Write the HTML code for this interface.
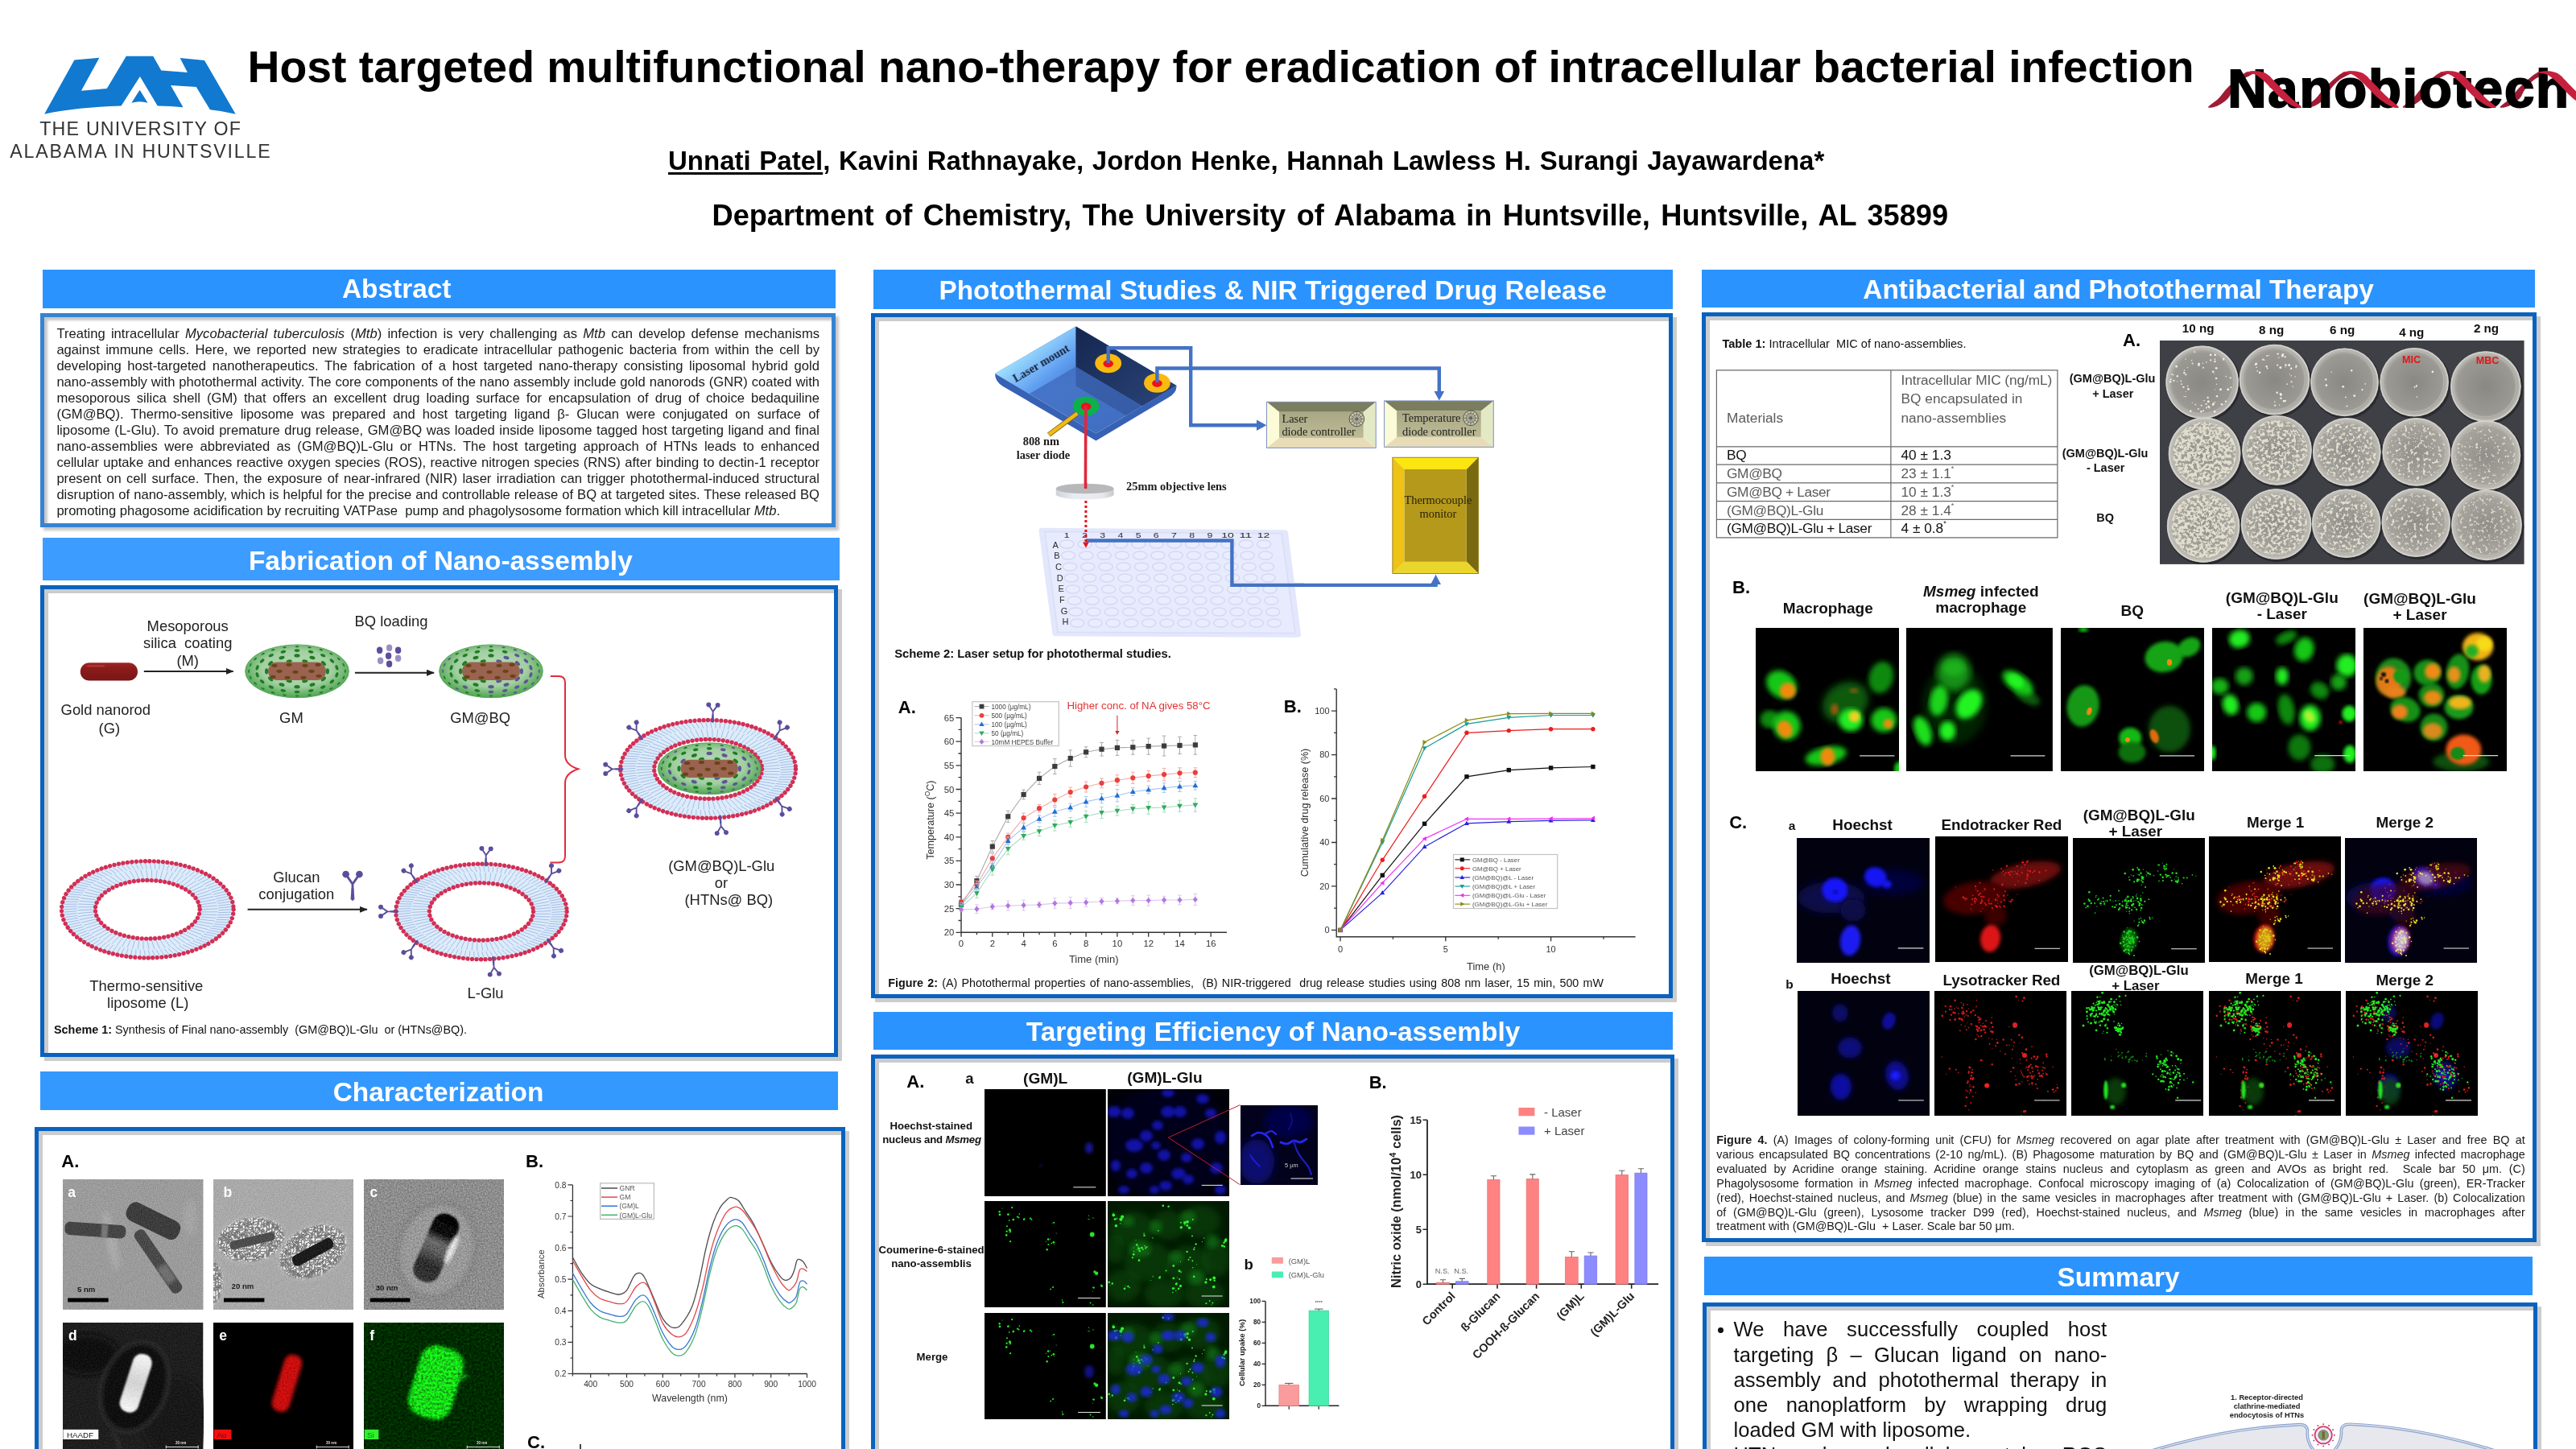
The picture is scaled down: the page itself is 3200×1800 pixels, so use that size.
<!DOCTYPE html>
<html><head><meta charset="utf-8"><title>poster</title>
<style>
html,body{margin:0;padding:0;background:#fff;}
body{width:3200px;height:1800px;position:relative;overflow:hidden;font-family:"Liberation Sans",sans-serif;color:#000;}
#w{position:absolute;left:0;top:0;width:3200px;height:1800px;overflow:hidden;will-change:transform;}
.abs{position:absolute;}
.hdr{position:absolute;}
.box{position:absolute;box-sizing:border-box;border:5px solid #0a62bf;box-shadow:inset 5px 5px 0 #cccccc,5px 5px 0 #cccccc;background:#fff;}
.t{position:absolute;white-space:nowrap;line-height:1;}
svg{position:absolute;overflow:visible;}
.j{position:absolute;text-align:justify;text-align-last:justify;white-space:nowrap;}
</style></head><body>
<div id="w">
<div class="t" id="title" style="left:307.5px;top:55.6px;font-size:55.3px;font-weight:bold;">Host targeted multifunctional nano-therapy for eradication of intracellular bacterial infection</div>
<div class="t" id="auth" style="left:830.0px;top:182.5px;font-size:33px;font-weight:bold;word-spacing:1.5px;"><span style="text-decoration:underline;text-decoration-thickness:3px;text-underline-offset:3px;">Unnati Patel</span>, Kavini Rathnayake, Jordon Henke, Hannah Lawless H. Surangi Jayawardena*</div>
<div class="t" id="dept" style="left:884.5px;top:249.6px;font-size:36.2px;font-weight:bold;word-spacing:3.4px;">Department of Chemistry, The University of Alabama in Huntsville, Huntsville, AL 35899</div>
<svg style="left:0;top:0" width="420" height="230"><path d="M55.1 141.7 L92.4 74.5 L123.4 71.8 L100.9 112.7 L132.8 109.9 L156.8 69.8 L190.2 69.8 L200.3 87.4 L232.9 90.0 L223.6 72.1 L253.9 74.9 L292.7 141.7 Q276.4 137.8 260.9 136.3 L243.8 107.9 L212.0 106.0 L227.5 133.2 Q211.2 131.9 195.7 131.6 L173.9 95.1 L150.6 131.6 Q96.3 133.2 55.1 141.7 Z" fill="#1179cf"/><path d="M173.6 111.7 L183.5 127.7 Q173.6 124.6 163.4 127.7 Z" fill="#1179cf"/></svg>
<div class="t" id="lg1" style="left:49.2px;top:148.5px;font-size:23.2px;color:#333;letter-spacing:1.22px;">THE UNIVERSITY OF</div>
<div class="t" id="lg2" style="left:12.3px;top:177.2px;font-size:23.2px;color:#333;letter-spacing:1.8px;">ALABAMA IN HUNTSVILLE</div>
<svg style="left:0;top:0" width="3200" height="200"><path d="M2743.1 133.1 C2743.4 131.6 2752.0 126.3 2755.7 122.6 C2759.4 118.9 2761.8 114.7 2765.4 110.8 C2769.1 106.9 2773.8 102.4 2777.6 99.1 C2781.4 95.8 2784.8 92.7 2788.1 90.9 C2791.3 89.2 2794.9 88.7 2797.1 88.6 C2799.3 88.5 2803.0 88.5 2801.1 90.2 C2799.2 92.0 2790.2 95.7 2785.7 99.1 C2781.2 102.5 2777.3 106.9 2774.3 110.8 C2771.3 114.7 2770.9 119.1 2767.5 122.6 C2764.1 126.1 2758.2 130.1 2754.1 131.8 C2750.0 133.6 2742.8 134.6 2743.1 133.1Z" fill="#a01c34"/><path d="M2863.9 133.1 C2864.2 131.6 2872.8 126.3 2876.5 122.6 C2880.2 118.9 2882.6 114.7 2886.2 110.8 C2889.9 106.9 2894.6 102.4 2898.4 99.1 C2902.2 95.8 2905.7 92.7 2908.9 90.9 C2912.2 89.2 2915.7 88.7 2917.9 88.6 C2920.1 88.5 2923.8 88.5 2921.9 90.2 C2920.0 92.0 2911.0 95.7 2906.5 99.1 C2902.0 102.5 2898.1 106.9 2895.1 110.8 C2892.1 114.7 2891.7 119.1 2888.3 122.6 C2884.9 126.1 2879.0 130.1 2874.9 131.8 C2870.8 133.6 2863.6 134.6 2863.9 133.1Z" fill="#a01c34"/><path d="M2984.7 133.1 C2985.0 131.6 2993.6 126.3 2997.3 122.6 C3001.0 118.9 3003.3 114.7 3007.0 110.8 C3010.7 106.9 3015.4 102.4 3019.2 99.1 C3023.0 95.8 3026.4 92.7 3029.7 90.9 C3032.9 89.2 3036.5 88.7 3038.7 88.6 C3040.9 88.5 3044.6 88.5 3042.7 90.2 C3040.8 92.0 3031.8 95.7 3027.3 99.1 C3022.8 102.5 3018.9 106.9 3015.9 110.8 C3012.9 114.7 3012.5 119.1 3009.1 122.6 C3005.7 126.1 2999.8 130.1 2995.7 131.8 C2991.6 133.6 2984.4 134.6 2984.7 133.1Z" fill="#a01c34"/><path d="M3105.5 133.1 C3105.8 131.6 3114.4 126.3 3118.1 122.6 C3121.8 118.9 3124.2 114.7 3127.8 110.8 C3131.5 106.9 3136.2 102.4 3140.0 99.1 C3143.8 95.8 3147.2 92.7 3150.5 90.9 C3153.8 89.2 3157.3 88.7 3159.5 88.6 C3161.7 88.5 3165.4 88.5 3163.5 90.2 C3161.6 92.0 3152.6 95.7 3148.1 99.1 C3143.6 102.5 3139.7 106.9 3136.7 110.8 C3133.7 114.7 3133.3 119.1 3129.9 122.6 C3126.5 126.1 3120.6 130.1 3116.5 131.8 C3112.4 133.6 3105.2 134.6 3105.5 133.1Z" fill="#a01c34"/></svg>
<div class="t" id="nano" style="left:2767.2px;top:76.4px;font-size:67px;font-weight:bold;letter-spacing:1.8px;-webkit-text-stroke:2px #000;">Nanobiotech</div>
<svg style="left:0;top:0" width="3200" height="200"><path d="M2789.1 90.2 C2788.1 89.6 2793.1 89.0 2795.1 88.7 C2797.1 88.4 2799.1 88.3 2801.1 88.3 C2803.1 88.3 2805.0 88.3 2807.1 88.7 C2809.2 89.1 2811.5 89.5 2813.5 90.4 C2815.5 91.3 2817.4 92.8 2819.1 94.2 C2820.8 95.7 2821.1 96.3 2823.7 99.1 C2826.3 101.9 2831.0 106.9 2834.9 110.8 C2838.8 114.7 2842.9 118.7 2846.9 122.4 C2850.9 126.1 2858.6 131.4 2859.1 133.1 C2859.6 134.8 2854.3 134.2 2850.1 132.4 C2845.9 130.6 2838.7 126.0 2834.1 122.4 C2829.5 118.8 2826.2 114.7 2822.3 110.8 C2818.4 106.9 2814.0 102.2 2810.5 99.1 C2807.0 96.0 2804.7 93.9 2801.1 92.4 C2797.5 90.9 2790.1 90.8 2789.1 90.2Z" fill="#c5203d"/><path d="M2909.9 90.2 C2908.9 89.6 2913.9 89.0 2915.9 88.7 C2917.9 88.4 2919.9 88.3 2921.9 88.3 C2923.9 88.3 2925.8 88.3 2927.9 88.7 C2930.0 89.1 2932.3 89.5 2934.3 90.4 C2936.3 91.3 2938.2 92.8 2939.9 94.2 C2941.6 95.7 2941.9 96.3 2944.5 99.1 C2947.1 101.9 2951.8 106.9 2955.7 110.8 C2959.6 114.7 2963.7 118.7 2967.7 122.4 C2971.7 126.1 2979.4 131.4 2979.9 133.1 C2980.4 134.8 2975.1 134.2 2970.9 132.4 C2966.7 130.6 2959.5 126.0 2954.9 122.4 C2950.3 118.8 2947.0 114.7 2943.1 110.8 C2939.2 106.9 2934.8 102.2 2931.3 99.1 C2927.8 96.0 2925.5 93.9 2921.9 92.4 C2918.3 90.9 2910.9 90.8 2909.9 90.2Z" fill="#c5203d"/><path d="M3030.7 90.2 C3029.7 89.6 3034.7 89.0 3036.7 88.7 C3038.7 88.4 3040.7 88.3 3042.7 88.3 C3044.7 88.3 3046.6 88.3 3048.7 88.7 C3050.8 89.1 3053.1 89.5 3055.1 90.4 C3057.1 91.3 3059.0 92.8 3060.7 94.2 C3062.4 95.7 3062.7 96.3 3065.3 99.1 C3067.9 101.9 3072.6 106.9 3076.5 110.8 C3080.4 114.7 3084.5 118.7 3088.5 122.4 C3092.5 126.1 3100.2 131.4 3100.7 133.1 C3101.2 134.8 3095.9 134.2 3091.7 132.4 C3087.5 130.6 3080.3 126.0 3075.7 122.4 C3071.1 118.8 3067.8 114.7 3063.9 110.8 C3060.0 106.9 3055.6 102.2 3052.1 99.1 C3048.6 96.0 3046.3 93.9 3042.7 92.4 C3039.1 90.9 3031.7 90.8 3030.7 90.2Z" fill="#c5203d"/><path d="M3151.5 90.2 C3150.5 89.6 3155.5 89.0 3157.5 88.7 C3159.5 88.4 3161.5 88.3 3163.5 88.3 C3165.5 88.3 3167.4 88.3 3169.5 88.7 C3171.6 89.1 3173.9 89.5 3175.9 90.4 C3177.9 91.3 3179.8 92.8 3181.5 94.2 C3183.2 95.7 3183.5 96.3 3186.1 99.1 C3188.7 101.9 3193.4 106.9 3197.3 110.8 C3201.2 114.7 3205.3 118.7 3209.3 122.4 C3213.3 126.1 3221.0 131.4 3221.5 133.1 C3222.0 134.8 3216.7 134.2 3212.5 132.4 C3208.3 130.6 3201.1 126.0 3196.5 122.4 C3191.9 118.8 3188.6 114.7 3184.7 110.8 C3180.8 106.9 3176.4 102.2 3172.9 99.1 C3169.4 96.0 3167.1 93.9 3163.5 92.4 C3159.9 90.9 3152.5 90.8 3151.5 90.2Z" fill="#c5203d"/></svg>
<div class="abs" style="left:53.0px;top:335.0px;width:985.0px;height:48.0px;background:#2b93fe;"></div>
<div class="t" style="left:492.7px;top:342.2px;font-size:33.4px;font-weight:bold;color:#fff;transform:translateX(-50%);">Abstract</div>
<div class="box" style="left:50px;top:389px;width:988px;height:266px;border-color:#3783d2;box-shadow:inset 4px 4px 3px #c8c8c8,4px 4px 3px #c8c8c8;"></div>
<div class="j" style="left:70.4px;top:406.7px;width:947.6px;font-size:16.6px;line-height:1;color:#1a1a1a;">Treating intracellular <i>Mycobacterial tuberculosis</i> (<i>Mtb</i>) infection is very challenging as <i>Mtb</i> can develop defense mechanisms</div>
<div class="j" style="left:70.4px;top:426.7px;width:947.6px;font-size:16.6px;line-height:1;color:#1a1a1a;">against immune cells. Here, we reported new strategies to eradicate intracellular pathogenic bacteria from within the cell by</div>
<div class="j" style="left:70.4px;top:446.7px;width:947.6px;font-size:16.6px;line-height:1;color:#1a1a1a;">developing host-targeted nanotherapeutics. The fabrication of a host targeted nano-therapy consisting liposomal hybrid gold</div>
<div class="j" style="left:70.4px;top:466.7px;width:947.6px;font-size:16.6px;line-height:1;color:#1a1a1a;">nano-assembly with photothermal activity. The core components of the nano assembly include gold nanorods (GNR) coated with</div>
<div class="j" style="left:70.4px;top:486.7px;width:947.6px;font-size:16.6px;line-height:1;color:#1a1a1a;">mesoporous silica shell (GM) that offers an excellent drug loading surface for encapsulation of drug of choice bedaquiline</div>
<div class="j" style="left:70.4px;top:506.7px;width:947.6px;font-size:16.6px;line-height:1;color:#1a1a1a;">(GM@BQ). Thermo-sensitive liposome was prepared and host targeting ligand β- Glucan were conjugated on surface of</div>
<div class="j" style="left:70.4px;top:526.7px;width:947.6px;font-size:16.6px;line-height:1;color:#1a1a1a;">liposome (L-Glu). To avoid premature drug release, GM@BQ was loaded inside liposome tagged host targeting ligand and final</div>
<div class="j" style="left:70.4px;top:546.7px;width:947.6px;font-size:16.6px;line-height:1;color:#1a1a1a;">nano-assemblies were abbreviated as (GM@BQ)L-Glu or HTNs. The host targeting approach of HTNs leads to enhanced</div>
<div class="j" style="left:70.4px;top:566.7px;width:947.6px;font-size:16.6px;line-height:1;color:#1a1a1a;">cellular uptake and enhances reactive oxygen species (ROS), reactive nitrogen species (RNS) after binding to dectin-1 receptor</div>
<div class="j" style="left:70.4px;top:586.7px;width:947.6px;font-size:16.6px;line-height:1;color:#1a1a1a;">present on cell surface. Then, the exposure of near-infrared (NIR) laser irradiation can trigger photothermal-induced structural</div>
<div class="j" style="left:70.4px;top:606.7px;width:947.6px;font-size:16.6px;line-height:1;color:#1a1a1a;">disruption of nano-assembly, which is helpful for the precise and controllable release of BQ at targeted sites. These released BQ</div>
<div class="t" style="left:70.4px;top:626.7px;width:947.6px;font-size:16.6px;line-height:1;color:#1a1a1a;">promoting phagosome acidification by recruiting VATPase&nbsp; pump and phagolysosome formation which kill intracellular <i>Mtb</i>.</div>
<div class="abs" style="left:53.0px;top:668.0px;width:990.0px;height:53.0px;background:#3d9cff;"></div>
<div class="t" style="left:547.3px;top:679.5px;font-size:33.4px;font-weight:bold;color:#fff;transform:translateX(-50%);">Fabrication of Nano-assembly</div>
<div class="box" style="left:50px;top:727px;width:991px;height:586px;"></div>
<svg style="left:0;top:0" width="1100" height="1320"><defs><radialGradient id="gmg" cx="50%" cy="45%" r="55%"><stop offset="0" stop-color="#b9dbb8"/><stop offset="0.62" stop-color="#a2cfa2"/><stop offset="0.85" stop-color="#6db56e"/><stop offset="1" stop-color="#4fa353"/></radialGradient><linearGradient id="rodg" x1="0" y1="0" x2="0" y2="1"><stop offset="0" stop-color="#a52626"/><stop offset="0.25" stop-color="#8e1c1c"/><stop offset="1" stop-color="#7a1515"/></linearGradient><marker id="ah" markerWidth="10" markerHeight="8" refX="9" refY="4" orient="auto" markerUnits="userSpaceOnUse"><path d="M0 0L10 4L0 8Z" fill="#222"/></marker></defs><rect x="99.8" y="823.2" width="71.2" height="22.4" rx="11.2" fill="url(#rodg)"/><rect x="108" y="826.6" width="22" height="1.6" rx="0.8" fill="#b84a44" opacity="0.8"/><path d="M178.8 833.9H289.6" stroke="#222" stroke-width="2" marker-end="url(#ah)"/><path d="M440.9 835.7H539" stroke="#222" stroke-width="2" marker-end="url(#ah)"/><path d="M307.6 1129.8H455.8" stroke="#222" stroke-width="2" marker-end="url(#ah)"/><ellipse cx="369" cy="833.8" rx="64.3" ry="32.9" fill="url(#gmg)" stroke="#58a85a" stroke-width="1"/><ellipse cx="428.8" cy="833.8" rx="2.3" ry="1.0" fill="#1e7d22" transform="rotate(90 428.8 833.8)"/><ellipse cx="426.8" cy="841.7" rx="2.3" ry="1.0" fill="#1e7d22" transform="rotate(118 426.8 841.7)"/><ellipse cx="420.8" cy="849.1" rx="2.3" ry="1.0" fill="#1e7d22" transform="rotate(138 420.8 849.1)"/><ellipse cx="411.3" cy="855.4" rx="2.3" ry="1.0" fill="#1e7d22" transform="rotate(153 411.3 855.4)"/><ellipse cx="398.9" cy="860.3" rx="2.3" ry="1.0" fill="#1e7d22" transform="rotate(164 398.9 860.3)"/><ellipse cx="384.5" cy="863.4" rx="2.3" ry="1.0" fill="#1e7d22" transform="rotate(172 384.5 863.4)"/><ellipse cx="369.0" cy="864.4" rx="2.3" ry="1.0" fill="#1e7d22" transform="rotate(180 369.0 864.4)"/><ellipse cx="353.5" cy="863.4" rx="2.3" ry="1.0" fill="#1e7d22" transform="rotate(-172 353.5 863.4)"/><ellipse cx="339.1" cy="860.3" rx="2.3" ry="1.0" fill="#1e7d22" transform="rotate(-164 339.1 860.3)"/><ellipse cx="326.7" cy="855.4" rx="2.3" ry="1.0" fill="#1e7d22" transform="rotate(-153 326.7 855.4)"/><ellipse cx="317.2" cy="849.1" rx="2.3" ry="1.0" fill="#1e7d22" transform="rotate(-138 317.2 849.1)"/><ellipse cx="311.2" cy="841.7" rx="2.3" ry="1.0" fill="#1e7d22" transform="rotate(-118 311.2 841.7)"/><ellipse cx="309.2" cy="833.8" rx="2.3" ry="1.0" fill="#1e7d22" transform="rotate(-90 309.2 833.8)"/><ellipse cx="311.2" cy="825.9" rx="2.3" ry="1.0" fill="#1e7d22" transform="rotate(-62 311.2 825.9)"/><ellipse cx="317.2" cy="818.5" rx="2.3" ry="1.0" fill="#1e7d22" transform="rotate(-42 317.2 818.5)"/><ellipse cx="326.7" cy="812.2" rx="2.3" ry="1.0" fill="#1e7d22" transform="rotate(-27 326.7 812.2)"/><ellipse cx="339.1" cy="807.3" rx="2.3" ry="1.0" fill="#1e7d22" transform="rotate(-16 339.1 807.3)"/><ellipse cx="353.5" cy="804.2" rx="2.3" ry="1.0" fill="#1e7d22" transform="rotate(-8 353.5 804.2)"/><ellipse cx="369.0" cy="803.2" rx="2.3" ry="1.0" fill="#1e7d22" transform="rotate(-0 369.0 803.2)"/><ellipse cx="384.5" cy="804.2" rx="2.3" ry="1.0" fill="#1e7d22" transform="rotate(8 384.5 804.2)"/><ellipse cx="398.9" cy="807.3" rx="2.3" ry="1.0" fill="#1e7d22" transform="rotate(16 398.9 807.3)"/><ellipse cx="411.3" cy="812.2" rx="2.3" ry="1.0" fill="#1e7d22" transform="rotate(27 411.3 812.2)"/><ellipse cx="420.8" cy="818.5" rx="2.3" ry="1.0" fill="#1e7d22" transform="rotate(42 420.8 818.5)"/><ellipse cx="426.8" cy="825.9" rx="2.3" ry="1.0" fill="#1e7d22" transform="rotate(62 426.8 825.9)"/><ellipse cx="418.4" cy="838.3" rx="3.3" ry="1.8" fill="#1e7d22" transform="rotate(109 418.4 838.3)"/><ellipse cx="412.4" cy="846.6" rx="3.3" ry="1.8" fill="#1e7d22" transform="rotate(138 412.4 846.6)"/><ellipse cx="401.2" cy="853.5" rx="3.3" ry="1.8" fill="#1e7d22" transform="rotate(157 401.2 853.5)"/><ellipse cx="386.2" cy="857.9" rx="3.3" ry="1.8" fill="#1e7d22" transform="rotate(169 386.2 857.9)"/><ellipse cx="369.0" cy="859.5" rx="3.3" ry="1.8" fill="#1e7d22" transform="rotate(180 369.0 859.5)"/><ellipse cx="351.8" cy="857.9" rx="3.3" ry="1.8" fill="#1e7d22" transform="rotate(-169 351.8 857.9)"/><ellipse cx="336.8" cy="853.5" rx="3.3" ry="1.8" fill="#1e7d22" transform="rotate(-157 336.8 853.5)"/><ellipse cx="325.6" cy="846.6" rx="3.3" ry="1.8" fill="#1e7d22" transform="rotate(-138 325.6 846.6)"/><ellipse cx="319.6" cy="838.3" rx="3.3" ry="1.8" fill="#1e7d22" transform="rotate(-109 319.6 838.3)"/><ellipse cx="319.6" cy="829.3" rx="3.3" ry="1.8" fill="#1e7d22" transform="rotate(-71 319.6 829.3)"/><ellipse cx="325.6" cy="821.0" rx="3.3" ry="1.8" fill="#1e7d22" transform="rotate(-42 325.6 821.0)"/><ellipse cx="336.8" cy="814.1" rx="3.3" ry="1.8" fill="#1e7d22" transform="rotate(-23 336.8 814.1)"/><ellipse cx="351.8" cy="809.7" rx="3.3" ry="1.8" fill="#1e7d22" transform="rotate(-11 351.8 809.7)"/><ellipse cx="369.0" cy="808.1" rx="3.3" ry="1.8" fill="#1e7d22" transform="rotate(-0 369.0 808.1)"/><ellipse cx="386.2" cy="809.7" rx="3.3" ry="1.8" fill="#1e7d22" transform="rotate(11 386.2 809.7)"/><ellipse cx="401.2" cy="814.1" rx="3.3" ry="1.8" fill="#1e7d22" transform="rotate(23 401.2 814.1)"/><ellipse cx="412.4" cy="821.0" rx="3.3" ry="1.8" fill="#1e7d22" transform="rotate(42 412.4 821.0)"/><ellipse cx="418.4" cy="829.3" rx="3.3" ry="1.8" fill="#1e7d22" transform="rotate(71 418.4 829.3)"/><ellipse cx="406.9" cy="833.8" rx="3.6" ry="2.1" fill="#1e7d22" transform="rotate(90 406.9 833.8)"/><ellipse cx="401.9" cy="843.5" rx="3.6" ry="2.1" fill="#1e7d22" transform="rotate(138 401.9 843.5)"/><ellipse cx="388.0" cy="850.6" rx="3.6" ry="2.1" fill="#1e7d22" transform="rotate(164 388.0 850.6)"/><ellipse cx="369.0" cy="853.2" rx="3.6" ry="2.1" fill="#1e7d22" transform="rotate(180 369.0 853.2)"/><ellipse cx="350.0" cy="850.6" rx="3.6" ry="2.1" fill="#1e7d22" transform="rotate(-164 350.0 850.6)"/><ellipse cx="336.1" cy="843.5" rx="3.6" ry="2.1" fill="#1e7d22" transform="rotate(-138 336.1 843.5)"/><ellipse cx="331.1" cy="833.8" rx="3.6" ry="2.1" fill="#1e7d22" transform="rotate(-90 331.1 833.8)"/><ellipse cx="336.1" cy="824.1" rx="3.6" ry="2.1" fill="#1e7d22" transform="rotate(-42 336.1 824.1)"/><ellipse cx="350.0" cy="817.0" rx="3.6" ry="2.1" fill="#1e7d22" transform="rotate(-16 350.0 817.0)"/><ellipse cx="369.0" cy="814.4" rx="3.6" ry="2.1" fill="#1e7d22" transform="rotate(-0 369.0 814.4)"/><ellipse cx="388.0" cy="817.0" rx="3.6" ry="2.1" fill="#1e7d22" transform="rotate(16 388.0 817.0)"/><ellipse cx="401.9" cy="824.1" rx="3.6" ry="2.1" fill="#1e7d22" transform="rotate(42 401.9 824.1)"/><ellipse cx="392.8" cy="838.8" rx="3.6" ry="2.1" fill="#1e7d22" transform="rotate(129 392.8 838.8)"/><ellipse cx="378.8" cy="846.0" rx="3.6" ry="2.1" fill="#1e7d22" transform="rotate(168 378.8 846.0)"/><ellipse cx="359.2" cy="846.0" rx="3.6" ry="2.1" fill="#1e7d22" transform="rotate(-168 359.2 846.0)"/><ellipse cx="345.2" cy="838.8" rx="3.6" ry="2.1" fill="#1e7d22" transform="rotate(-129 345.2 838.8)"/><ellipse cx="345.2" cy="828.8" rx="3.6" ry="2.1" fill="#1e7d22" transform="rotate(-51 345.2 828.8)"/><ellipse cx="359.2" cy="821.6" rx="3.6" ry="2.1" fill="#1e7d22" transform="rotate(-12 359.2 821.6)"/><ellipse cx="378.8" cy="821.6" rx="3.6" ry="2.1" fill="#1e7d22" transform="rotate(12 378.8 821.6)"/><ellipse cx="392.8" cy="828.8" rx="3.6" ry="2.1" fill="#1e7d22" transform="rotate(51 392.8 828.8)"/><rect x="333.0" y="822.6" width="72" height="22.4" rx="11.2" fill="#9a6350"/><ellipse cx="341.0" cy="826.8" rx="3.6" ry="2.1" fill="#6b4318"/><ellipse cx="359.0" cy="825.8" rx="3.6" ry="2.1" fill="#6b4318"/><ellipse cx="379.0" cy="826.8" rx="3.6" ry="2.1" fill="#6b4318"/><ellipse cx="395.0" cy="825.8" rx="3.6" ry="2.1" fill="#6b4318"/><ellipse cx="347.0" cy="833.8" rx="3.6" ry="2.1" fill="#6b4318"/><ellipse cx="367.0" cy="834.8" rx="3.6" ry="2.1" fill="#6b4318"/><ellipse cx="387.0" cy="833.8" rx="3.6" ry="2.1" fill="#6b4318"/><ellipse cx="339.0" cy="840.8" rx="3.6" ry="2.1" fill="#6b4318"/><ellipse cx="357.0" cy="841.8" rx="3.6" ry="2.1" fill="#6b4318"/><ellipse cx="377.0" cy="841.8" rx="3.6" ry="2.1" fill="#6b4318"/><ellipse cx="396.0" cy="839.8" rx="3.6" ry="2.1" fill="#6b4318"/><ellipse cx="610" cy="833.8" rx="64.3" ry="32.9" fill="url(#gmg)" stroke="#58a85a" stroke-width="1"/><ellipse cx="669.8" cy="833.8" rx="2.3" ry="1.0" fill="#5e5596" transform="rotate(90 669.8 833.8)"/><ellipse cx="667.8" cy="841.7" rx="2.3" ry="1.0" fill="#5e5596" transform="rotate(118 667.8 841.7)"/><ellipse cx="661.8" cy="849.1" rx="2.3" ry="1.0" fill="#5e5596" transform="rotate(138 661.8 849.1)"/><ellipse cx="652.3" cy="855.4" rx="2.3" ry="1.0" fill="#5e5596" transform="rotate(153 652.3 855.4)"/><ellipse cx="639.9" cy="860.3" rx="2.3" ry="1.0" fill="#5e5596" transform="rotate(164 639.9 860.3)"/><ellipse cx="625.5" cy="863.4" rx="2.3" ry="1.0" fill="#5e5596" transform="rotate(172 625.5 863.4)"/><ellipse cx="610.0" cy="864.4" rx="2.3" ry="1.0" fill="#1e7d22" transform="rotate(180 610.0 864.4)"/><ellipse cx="594.5" cy="863.4" rx="2.3" ry="1.0" fill="#1e7d22" transform="rotate(-172 594.5 863.4)"/><ellipse cx="580.1" cy="860.3" rx="2.3" ry="1.0" fill="#1e7d22" transform="rotate(-164 580.1 860.3)"/><ellipse cx="567.7" cy="855.4" rx="2.3" ry="1.0" fill="#5e5596" transform="rotate(-153 567.7 855.4)"/><ellipse cx="558.2" cy="849.1" rx="2.3" ry="1.0" fill="#1e7d22" transform="rotate(-138 558.2 849.1)"/><ellipse cx="552.2" cy="841.7" rx="2.3" ry="1.0" fill="#1e7d22" transform="rotate(-118 552.2 841.7)"/><ellipse cx="550.2" cy="833.8" rx="2.3" ry="1.0" fill="#5e5596" transform="rotate(-90 550.2 833.8)"/><ellipse cx="552.2" cy="825.9" rx="2.3" ry="1.0" fill="#5e5596" transform="rotate(-62 552.2 825.9)"/><ellipse cx="558.2" cy="818.5" rx="2.3" ry="1.0" fill="#5e5596" transform="rotate(-42 558.2 818.5)"/><ellipse cx="567.7" cy="812.2" rx="2.3" ry="1.0" fill="#1e7d22" transform="rotate(-27 567.7 812.2)"/><ellipse cx="580.1" cy="807.3" rx="2.3" ry="1.0" fill="#1e7d22" transform="rotate(-16 580.1 807.3)"/><ellipse cx="594.5" cy="804.2" rx="2.3" ry="1.0" fill="#1e7d22" transform="rotate(-8 594.5 804.2)"/><ellipse cx="610.0" cy="803.2" rx="2.3" ry="1.0" fill="#1e7d22" transform="rotate(-0 610.0 803.2)"/><ellipse cx="625.5" cy="804.2" rx="2.3" ry="1.0" fill="#5e5596" transform="rotate(8 625.5 804.2)"/><ellipse cx="639.9" cy="807.3" rx="2.3" ry="1.0" fill="#5e5596" transform="rotate(16 639.9 807.3)"/><ellipse cx="652.3" cy="812.2" rx="2.3" ry="1.0" fill="#5e5596" transform="rotate(27 652.3 812.2)"/><ellipse cx="661.8" cy="818.5" rx="2.3" ry="1.0" fill="#5e5596" transform="rotate(42 661.8 818.5)"/><ellipse cx="667.8" cy="825.9" rx="2.3" ry="1.0" fill="#1e7d22" transform="rotate(62 667.8 825.9)"/><ellipse cx="659.4" cy="838.3" rx="3.3" ry="1.8" fill="#5e5596" transform="rotate(109 659.4 838.3)"/><ellipse cx="653.4" cy="846.6" rx="3.3" ry="1.8" fill="#5e5596" transform="rotate(138 653.4 846.6)"/><ellipse cx="642.2" cy="853.5" rx="3.3" ry="1.8" fill="#5e5596" transform="rotate(157 642.2 853.5)"/><ellipse cx="627.2" cy="857.9" rx="3.3" ry="1.8" fill="#5e5596" transform="rotate(169 627.2 857.9)"/><ellipse cx="610.0" cy="859.5" rx="3.3" ry="1.8" fill="#5e5596" transform="rotate(180 610.0 859.5)"/><ellipse cx="592.8" cy="857.9" rx="3.3" ry="1.8" fill="#1e7d22" transform="rotate(-169 592.8 857.9)"/><ellipse cx="577.8" cy="853.5" rx="3.3" ry="1.8" fill="#5e5596" transform="rotate(-157 577.8 853.5)"/><ellipse cx="566.6" cy="846.6" rx="3.3" ry="1.8" fill="#1e7d22" transform="rotate(-138 566.6 846.6)"/><ellipse cx="560.6" cy="838.3" rx="3.3" ry="1.8" fill="#1e7d22" transform="rotate(-109 560.6 838.3)"/><ellipse cx="560.6" cy="829.3" rx="3.3" ry="1.8" fill="#1e7d22" transform="rotate(-71 560.6 829.3)"/><ellipse cx="566.6" cy="821.0" rx="3.3" ry="1.8" fill="#1e7d22" transform="rotate(-42 566.6 821.0)"/><ellipse cx="577.8" cy="814.1" rx="3.3" ry="1.8" fill="#1e7d22" transform="rotate(-23 577.8 814.1)"/><ellipse cx="592.8" cy="809.7" rx="3.3" ry="1.8" fill="#1e7d22" transform="rotate(-11 592.8 809.7)"/><ellipse cx="610.0" cy="808.1" rx="3.3" ry="1.8" fill="#1e7d22" transform="rotate(-0 610.0 808.1)"/><ellipse cx="627.2" cy="809.7" rx="3.3" ry="1.8" fill="#1e7d22" transform="rotate(11 627.2 809.7)"/><ellipse cx="642.2" cy="814.1" rx="3.3" ry="1.8" fill="#5e5596" transform="rotate(23 642.2 814.1)"/><ellipse cx="653.4" cy="821.0" rx="3.3" ry="1.8" fill="#5e5596" transform="rotate(42 653.4 821.0)"/><ellipse cx="659.4" cy="829.3" rx="3.3" ry="1.8" fill="#5e5596" transform="rotate(71 659.4 829.3)"/><ellipse cx="647.9" cy="833.8" rx="3.6" ry="2.1" fill="#5e5596" transform="rotate(90 647.9 833.8)"/><ellipse cx="642.9" cy="843.5" rx="3.6" ry="2.1" fill="#5e5596" transform="rotate(138 642.9 843.5)"/><ellipse cx="629.0" cy="850.6" rx="3.6" ry="2.1" fill="#5e5596" transform="rotate(164 629.0 850.6)"/><ellipse cx="610.0" cy="853.2" rx="3.6" ry="2.1" fill="#5e5596" transform="rotate(180 610.0 853.2)"/><ellipse cx="591.0" cy="850.6" rx="3.6" ry="2.1" fill="#1e7d22" transform="rotate(-164 591.0 850.6)"/><ellipse cx="577.1" cy="843.5" rx="3.6" ry="2.1" fill="#1e7d22" transform="rotate(-138 577.1 843.5)"/><ellipse cx="572.1" cy="833.8" rx="3.6" ry="2.1" fill="#1e7d22" transform="rotate(-90 572.1 833.8)"/><ellipse cx="577.1" cy="824.1" rx="3.6" ry="2.1" fill="#1e7d22" transform="rotate(-42 577.1 824.1)"/><ellipse cx="591.0" cy="817.0" rx="3.6" ry="2.1" fill="#1e7d22" transform="rotate(-16 591.0 817.0)"/><ellipse cx="610.0" cy="814.4" rx="3.6" ry="2.1" fill="#1e7d22" transform="rotate(-0 610.0 814.4)"/><ellipse cx="629.0" cy="817.0" rx="3.6" ry="2.1" fill="#5e5596" transform="rotate(16 629.0 817.0)"/><ellipse cx="642.9" cy="824.1" rx="3.6" ry="2.1" fill="#5e5596" transform="rotate(42 642.9 824.1)"/><ellipse cx="633.8" cy="838.8" rx="3.6" ry="2.1" fill="#5e5596" transform="rotate(129 633.8 838.8)"/><ellipse cx="619.8" cy="846.0" rx="3.6" ry="2.1" fill="#5e5596" transform="rotate(168 619.8 846.0)"/><ellipse cx="600.2" cy="846.0" rx="3.6" ry="2.1" fill="#1e7d22" transform="rotate(-168 600.2 846.0)"/><ellipse cx="586.2" cy="838.8" rx="3.6" ry="2.1" fill="#1e7d22" transform="rotate(-129 586.2 838.8)"/><ellipse cx="586.2" cy="828.8" rx="3.6" ry="2.1" fill="#1e7d22" transform="rotate(-51 586.2 828.8)"/><ellipse cx="600.2" cy="821.6" rx="3.6" ry="2.1" fill="#1e7d22" transform="rotate(-12 600.2 821.6)"/><ellipse cx="619.8" cy="821.6" rx="3.6" ry="2.1" fill="#5e5596" transform="rotate(12 619.8 821.6)"/><ellipse cx="633.8" cy="828.8" rx="3.6" ry="2.1" fill="#5e5596" transform="rotate(51 633.8 828.8)"/><rect x="574.0" y="822.6" width="72" height="22.4" rx="11.2" fill="#9a6350"/><ellipse cx="582.0" cy="826.8" rx="3.6" ry="2.1" fill="#6b4318"/><ellipse cx="600.0" cy="825.8" rx="3.6" ry="2.1" fill="#6b4318"/><ellipse cx="620.0" cy="826.8" rx="3.6" ry="2.1" fill="#6b4318"/><ellipse cx="636.0" cy="825.8" rx="3.6" ry="2.1" fill="#6b4318"/><ellipse cx="588.0" cy="833.8" rx="3.6" ry="2.1" fill="#6b4318"/><ellipse cx="608.0" cy="834.8" rx="3.6" ry="2.1" fill="#6b4318"/><ellipse cx="628.0" cy="833.8" rx="3.6" ry="2.1" fill="#6b4318"/><ellipse cx="580.0" cy="840.8" rx="3.6" ry="2.1" fill="#6b4318"/><ellipse cx="598.0" cy="841.8" rx="3.6" ry="2.1" fill="#6b4318"/><ellipse cx="618.0" cy="841.8" rx="3.6" ry="2.1" fill="#6b4318"/><ellipse cx="637.0" cy="839.8" rx="3.6" ry="2.1" fill="#6b4318"/><ellipse cx="471.6" cy="807.8" rx="3.7" ry="4.2" fill="#5d4c9c"/><ellipse cx="483.6" cy="804.8" rx="3.7" ry="4.2" fill="#9a8fc4"/><ellipse cx="494.6" cy="807.8" rx="3.7" ry="4.2" fill="#5d4c9c"/><ellipse cx="482.6" cy="814.8" rx="3.7" ry="4.2" fill="#5d4c9c"/><ellipse cx="472.6" cy="820.8" rx="3.7" ry="4.2" fill="#9a8fc4"/><ellipse cx="494.6" cy="817.8" rx="3.7" ry="4.2" fill="#9a8fc4"/><ellipse cx="483.6" cy="824.8" rx="3.7" ry="4.2" fill="#5d4c9c"/><path d="M683.8 840 H694 Q702 840 702 848 V938 Q702 950 718.2 955.3 Q702 960.6 702 973 V1063.4 Q702 1071.4 694 1071.4 H683.5" fill="none" stroke="#e22c3c" stroke-width="2"/><path fill-rule="evenodd" fill="#dcecfa" d="M76.5 1129.8 a106.8 60.1 0 1 0 213.6 0 a106.8 60.1 0 1 0 -213.6 0Z M118.4 1129.8 a64.9 36.3 0 1 0 129.8 0 a64.9 36.3 0 1 0 -129.8 0Z"/><path d="M287.4 1129.8L271.3 1130.8M287.2 1133.1L271.1 1133.7M286.7 1136.3L270.6 1136.5M285.9 1139.6L269.7 1139.4M284.7 1142.8L268.6 1142.2M283.2 1146.0L267.3 1145.0M281.3 1149.1L265.6 1147.7M279.2 1152.1L263.7 1150.3M276.7 1155.1L261.5 1152.9M273.9 1158.0L259.1 1155.5M270.9 1160.8L256.4 1157.9M267.5 1163.5L253.5 1160.2M263.9 1166.1L250.3 1162.5M260.0 1168.6L247.0 1164.6M255.9 1171.0L243.4 1166.6M251.5 1173.2L239.6 1168.5M246.9 1175.3L235.7 1170.3M242.1 1177.2L231.5 1172.0M237.1 1179.0L227.3 1173.5M231.9 1180.6L222.8 1174.8M226.5 1182.0L218.3 1176.1M221.1 1183.3L213.6 1177.1M215.5 1184.4L208.8 1178.0M209.8 1185.3L204.0 1178.8M204.0 1186.1L199.1 1179.4M198.1 1186.6L194.1 1179.8M192.2 1187.0L189.1 1180.1M186.3 1187.2L184.1 1180.2M180.3 1187.2L179.0 1180.1M174.4 1187.0L174.0 1179.9M168.5 1186.6L169.0 1179.5M162.6 1186.1L164.1 1179.0M156.8 1185.3L159.2 1178.3M151.1 1184.4L154.4 1177.4M145.5 1183.3L149.7 1176.4M140.1 1182.0L145.1 1175.2M134.7 1180.6L140.7 1173.9M129.5 1179.0L136.3 1172.4M124.5 1177.2L132.2 1170.8M119.7 1175.3L128.1 1169.1M115.1 1173.2L124.3 1167.2M110.7 1171.0L120.7 1165.2M106.6 1168.6L117.3 1163.1M102.7 1166.1L114.0 1160.9M99.1 1163.5L111.0 1158.6M95.7 1160.8L108.3 1156.2M92.7 1158.0L105.8 1153.7M89.9 1155.1L103.5 1151.1M87.4 1152.1L101.5 1148.5M85.3 1149.1L99.8 1145.8M83.4 1146.0L98.3 1143.0M81.9 1142.8L97.2 1140.2M80.7 1139.6L96.3 1137.4M79.9 1136.3L95.6 1134.5M79.4 1133.1L95.3 1131.7M79.2 1129.8L95.3 1128.8M79.4 1126.5L95.5 1125.9M79.9 1123.3L96.0 1123.1M80.7 1120.0L96.9 1120.2M81.9 1116.8L98.0 1117.4M83.4 1113.6L99.3 1114.6M85.3 1110.5L101.0 1111.9M87.4 1107.5L102.9 1109.3M89.9 1104.5L105.1 1106.7M92.7 1101.6L107.5 1104.1M95.7 1098.8L110.2 1101.7M99.1 1096.1L113.1 1099.4M102.7 1093.5L116.3 1097.1M106.6 1091.0L119.6 1095.0M110.7 1088.6L123.2 1093.0M115.1 1086.4L127.0 1091.1M119.7 1084.3L130.9 1089.3M124.5 1082.4L135.1 1087.6M129.5 1080.6L139.3 1086.1M134.7 1079.0L143.8 1084.8M140.1 1077.6L148.3 1083.5M145.5 1076.3L153.0 1082.5M151.1 1075.2L157.8 1081.6M156.8 1074.3L162.6 1080.8M162.6 1073.5L167.5 1080.2M168.5 1073.0L172.5 1079.8M174.4 1072.6L177.5 1079.5M180.3 1072.4L182.5 1079.4M186.3 1072.4L187.6 1079.5M192.2 1072.6L192.6 1079.7M198.1 1073.0L197.6 1080.1M204.0 1073.5L202.5 1080.6M209.8 1074.3L207.4 1081.3M215.5 1075.2L212.2 1082.2M221.1 1076.3L216.9 1083.2M226.5 1077.6L221.5 1084.4M231.9 1079.0L225.9 1085.7M237.1 1080.6L230.3 1087.2M242.1 1082.4L234.4 1088.8M246.9 1084.3L238.5 1090.5M251.5 1086.4L242.3 1092.4M255.9 1088.6L245.9 1094.4M260.0 1091.0L249.3 1096.5M263.9 1093.5L252.6 1098.7M267.5 1096.1L255.6 1101.0M270.9 1098.8L258.3 1103.4M273.9 1101.6L260.8 1105.9M276.7 1104.5L263.1 1108.5M279.2 1107.5L265.1 1111.1M281.3 1110.5L266.8 1113.8M283.2 1113.6L268.3 1116.6M284.7 1116.8L269.4 1119.4M285.9 1120.0L270.3 1122.2M286.7 1123.3L271.0 1125.1M287.2 1126.5L271.3 1127.9M250.9 1129.8L270.3 1128.8M250.7 1132.9L270.2 1132.7M250.1 1135.9L269.5 1136.6M249.0 1138.9L268.3 1140.4M247.6 1141.9L266.6 1144.1M245.8 1144.7L264.4 1147.8M243.5 1147.5L261.6 1151.3M240.9 1150.2L258.4 1154.8M238.0 1152.7L254.7 1158.0M234.7 1155.1L250.6 1161.1M231.1 1157.4L246.1 1164.0M227.2 1159.5L241.1 1166.7M223.0 1161.4L235.9 1169.2M218.6 1163.1L230.3 1171.4M214.0 1164.5L224.4 1173.4M209.2 1165.8L218.2 1175.1M204.2 1166.9L211.9 1176.5M199.1 1167.7L205.3 1177.6M193.9 1168.3L198.6 1178.4M188.6 1168.7L191.9 1179.0M183.3 1168.8L185.0 1179.2M178.0 1168.7L178.2 1179.1M172.7 1168.3L171.4 1178.7M167.5 1167.7L164.7 1178.1M162.4 1166.9L158.1 1177.1M157.4 1165.8L151.6 1175.8M152.6 1164.5L145.3 1174.3M148.0 1163.1L139.3 1172.4M143.6 1161.4L133.6 1170.3M139.4 1159.5L128.1 1168.0M135.5 1157.4L123.0 1165.4M131.9 1155.1L118.3 1162.6M128.6 1152.7L113.9 1159.6M125.7 1150.2L110.0 1156.4M123.1 1147.5L106.5 1153.1M120.8 1144.7L103.6 1149.6M119.0 1141.9L101.1 1146.0M117.6 1138.9L99.1 1142.3M116.5 1135.9L97.6 1138.5M115.9 1132.9L96.7 1134.7M115.7 1129.8L96.3 1130.8M115.9 1126.7L96.4 1126.9M116.5 1123.7L97.1 1123.0M117.6 1120.7L98.3 1119.2M119.0 1117.7L100.0 1115.5M120.8 1114.9L102.2 1111.8M123.1 1112.1L105.0 1108.3M125.7 1109.4L108.2 1104.8M128.6 1106.9L111.9 1101.6M131.9 1104.5L116.0 1098.5M135.5 1102.2L120.5 1095.6M139.4 1100.1L125.5 1092.9M143.6 1098.2L130.7 1090.4M148.0 1096.5L136.3 1088.2M152.6 1095.1L142.2 1086.2M157.4 1093.8L148.4 1084.5M162.4 1092.7L154.7 1083.1M167.5 1091.9L161.3 1082.0M172.7 1091.3L168.0 1081.2M178.0 1090.9L174.7 1080.6M183.3 1090.8L181.6 1080.4M188.6 1090.9L188.4 1080.5M193.9 1091.3L195.2 1080.9M199.1 1091.9L201.9 1081.5M204.2 1092.7L208.5 1082.5M209.2 1093.8L215.0 1083.8M214.0 1095.1L221.3 1085.3M218.6 1096.5L227.3 1087.2M223.0 1098.2L233.0 1089.3M227.2 1100.1L238.5 1091.6M231.1 1102.2L243.6 1094.2M234.7 1104.5L248.3 1097.0M238.0 1106.9L252.7 1100.0M240.9 1109.4L256.6 1103.2M243.5 1112.1L260.1 1106.5M245.8 1114.9L263.0 1110.0M247.6 1117.7L265.5 1113.6M249.0 1120.7L267.5 1117.3M250.1 1123.7L269.0 1121.1M250.7 1126.7L269.9 1124.9" stroke="#9fb6e2" stroke-width="0.9" fill="none"/><ellipse cx="183.3" cy="1129.8" rx="106.8" ry="60.1" fill="none" stroke="#d22f55" stroke-width="5.4" stroke-linecap="round" stroke-dasharray="0.01 5.512"/><ellipse cx="183.3" cy="1129.8" rx="64.9" ry="36.3" fill="none" stroke="#d22f55" stroke-width="5.4" stroke-linecap="round" stroke-dasharray="0.01 5.497"/><path fill-rule="evenodd" fill="#dcecfa" d="M491.7 1132.4 a106.2 59.3 0 1 0 212.4 0 a106.2 59.3 0 1 0 -212.4 0Z M533.3 1132.4 a64.6 35.6 0 1 0 129.2 0 a64.6 35.6 0 1 0 -129.2 0Z"/><path d="M701.4 1132.4L685.5 1133.4M701.2 1135.6L685.2 1136.2M700.7 1138.9L684.7 1139.0M699.9 1142.1L683.9 1141.8M698.7 1145.2L682.8 1144.6M697.2 1148.3L681.4 1147.3M695.4 1151.4L679.8 1150.0M693.2 1154.4L677.9 1152.6M690.8 1157.4L675.7 1155.2M688.0 1160.2L673.3 1157.7M685.0 1163.0L670.6 1160.1M681.6 1165.7L667.7 1162.4M678.0 1168.2L664.6 1164.6M674.2 1170.7L661.2 1166.7M670.0 1173.0L657.7 1168.7M665.7 1175.2L653.9 1170.6M661.1 1177.2L650.0 1172.3M656.3 1179.1L645.9 1173.9M651.3 1180.9L641.6 1175.4M646.2 1182.5L637.2 1176.8M640.9 1183.9L632.7 1178.0M635.5 1185.1L628.0 1179.0M629.9 1186.2L623.3 1179.9M624.2 1187.1L618.5 1180.7M618.5 1187.9L613.6 1181.2M612.6 1188.4L608.6 1181.7M606.8 1188.8L603.6 1181.9M600.9 1189.0L598.6 1182.0M594.9 1189.0L593.6 1182.0M589.0 1188.8L588.7 1181.8M583.2 1188.4L583.7 1181.4M577.3 1187.9L578.8 1180.9M571.6 1187.1L573.9 1180.2M565.9 1186.2L569.2 1179.3M560.3 1185.1L564.5 1178.3M554.9 1183.9L559.9 1177.1M549.6 1182.5L555.5 1175.8M544.5 1180.9L551.2 1174.4M539.5 1179.1L547.0 1172.8M534.7 1177.2L543.0 1171.1M530.1 1175.2L539.2 1169.3M525.8 1173.0L535.6 1167.3M521.6 1170.7L532.2 1165.2M517.8 1168.2L529.0 1163.1M514.2 1165.7L526.0 1160.8M510.8 1163.0L523.3 1158.4M507.8 1160.2L520.8 1155.9M505.0 1157.4L518.5 1153.4M502.6 1154.4L516.5 1150.8M500.4 1151.4L514.8 1148.1M498.6 1148.3L513.4 1145.4M497.1 1145.2L512.2 1142.7M495.9 1142.1L511.3 1139.9M495.1 1138.9L510.7 1137.1M494.6 1135.6L510.4 1134.2M494.4 1132.4L510.3 1131.4M494.6 1129.2L510.6 1128.6M495.1 1125.9L511.1 1125.8M495.9 1122.7L511.9 1123.0M497.1 1119.6L513.0 1120.2M498.6 1116.5L514.4 1117.5M500.4 1113.4L516.0 1114.8M502.6 1110.4L517.9 1112.2M505.0 1107.4L520.1 1109.6M507.8 1104.6L522.5 1107.1M510.8 1101.8L525.2 1104.7M514.2 1099.1L528.1 1102.4M517.8 1096.6L531.2 1100.2M521.6 1094.1L534.6 1098.1M525.8 1091.8L538.1 1096.1M530.1 1089.6L541.9 1094.2M534.7 1087.6L545.8 1092.5M539.5 1085.7L549.9 1090.9M544.5 1083.9L554.2 1089.4M549.6 1082.3L558.6 1088.0M554.9 1080.9L563.1 1086.8M560.3 1079.7L567.8 1085.8M565.9 1078.6L572.5 1084.9M571.6 1077.7L577.3 1084.1M577.3 1076.9L582.2 1083.6M583.2 1076.4L587.2 1083.1M589.0 1076.0L592.2 1082.9M594.9 1075.8L597.2 1082.8M600.9 1075.8L602.2 1082.8M606.8 1076.0L607.1 1083.0M612.6 1076.4L612.1 1083.4M618.5 1076.9L617.0 1083.9M624.2 1077.7L621.9 1084.6M629.9 1078.6L626.6 1085.5M635.5 1079.7L631.3 1086.5M640.9 1080.9L635.9 1087.7M646.2 1082.3L640.3 1089.0M651.3 1083.9L644.6 1090.4M656.3 1085.7L648.8 1092.0M661.1 1087.6L652.8 1093.7M665.7 1089.6L656.6 1095.5M670.0 1091.8L660.2 1097.5M674.2 1094.1L663.6 1099.6M678.0 1096.6L666.8 1101.7M681.6 1099.1L669.8 1104.0M685.0 1101.8L672.5 1106.4M688.0 1104.6L675.0 1108.9M690.8 1107.4L677.3 1111.4M693.2 1110.4L679.3 1114.0M695.4 1113.4L681.0 1116.7M697.2 1116.5L682.4 1119.4M698.7 1119.6L683.6 1122.1M699.9 1122.7L684.5 1124.9M700.7 1125.9L685.1 1127.7M701.2 1129.2L685.4 1130.6M665.2 1132.4L684.5 1131.4M665.0 1135.4L684.4 1135.2M664.4 1138.4L683.7 1139.0M663.3 1141.3L682.5 1142.8M661.9 1144.2L680.8 1146.5M660.1 1147.1L678.6 1150.1M657.9 1149.8L675.8 1153.6M655.3 1152.4L672.6 1157.0M652.3 1154.9L669.0 1160.2M649.1 1157.3L664.9 1163.2M645.5 1159.5L660.3 1166.1M641.6 1161.5L655.4 1168.8M637.5 1163.4L650.2 1171.2M633.1 1165.1L644.6 1173.4M628.5 1166.5L638.8 1175.3M623.7 1167.8L632.6 1177.0M618.7 1168.8L626.3 1178.4M613.6 1169.6L619.8 1179.5M608.4 1170.2L613.2 1180.3M603.2 1170.6L606.4 1180.8M597.9 1170.7L599.6 1181.0M592.6 1170.6L592.8 1181.0M587.4 1170.2L586.1 1180.6M582.2 1169.6L579.4 1179.9M577.1 1168.8L572.8 1179.0M572.1 1167.8L566.4 1177.7M567.3 1166.5L560.1 1176.2M562.7 1165.1L554.1 1174.4M558.3 1163.4L548.4 1172.3M554.2 1161.5L543.0 1170.0M550.3 1159.5L537.9 1167.5M546.7 1157.3L533.2 1164.7M543.5 1154.9L528.9 1161.8M540.5 1152.4L525.0 1158.6M537.9 1149.8L521.5 1155.3M535.7 1147.1L518.6 1151.9M533.9 1144.2L516.1 1148.4M532.5 1141.3L514.1 1144.7M531.4 1138.4L512.7 1141.0M530.8 1135.4L511.7 1137.2M530.6 1132.4L511.3 1133.4M530.8 1129.4L511.4 1129.6M531.4 1126.4L512.1 1125.8M532.5 1123.5L513.3 1122.0M533.9 1120.6L515.0 1118.3M535.7 1117.7L517.2 1114.7M537.9 1115.0L520.0 1111.2M540.5 1112.4L523.2 1107.8M543.5 1109.9L526.8 1104.6M546.7 1107.5L530.9 1101.6M550.3 1105.3L535.5 1098.7M554.2 1103.3L540.4 1096.0M558.3 1101.4L545.6 1093.6M562.7 1099.7L551.2 1091.4M567.3 1098.3L557.0 1089.5M572.1 1097.0L563.2 1087.8M577.1 1096.0L569.5 1086.4M582.2 1095.2L576.0 1085.3M587.4 1094.6L582.6 1084.5M592.6 1094.2L589.4 1084.0M597.9 1094.1L596.2 1083.8M603.2 1094.2L603.0 1083.8M608.4 1094.6L609.7 1084.2M613.6 1095.2L616.4 1084.9M618.7 1096.0L623.0 1085.8M623.7 1097.0L629.4 1087.1M628.5 1098.3L635.7 1088.6M633.1 1099.7L641.7 1090.4M637.5 1101.4L647.4 1092.5M641.6 1103.3L652.8 1094.8M645.5 1105.3L657.9 1097.3M649.1 1107.5L662.6 1100.1M652.3 1109.9L666.9 1103.0M655.3 1112.4L670.8 1106.2M657.9 1115.0L674.3 1109.5M660.1 1117.7L677.2 1112.9M661.9 1120.6L679.7 1116.4M663.3 1123.5L681.7 1120.1M664.4 1126.4L683.1 1123.8M665.0 1129.4L684.1 1127.6" stroke="#9fb6e2" stroke-width="0.9" fill="none"/><ellipse cx="597.9" cy="1132.4" rx="106.2" ry="59.3" fill="none" stroke="#d22f55" stroke-width="5.4" stroke-linecap="round" stroke-dasharray="0.01 5.525"/><ellipse cx="597.9" cy="1132.4" rx="64.6" ry="35.6" fill="none" stroke="#d22f55" stroke-width="5.4" stroke-linecap="round" stroke-dasharray="0.01 5.542"/><path fill-rule="evenodd" fill="#dcecfa" d="M770.7 955.4 a108.9 60.9 0 1 0 217.8 0 a108.9 60.9 0 1 0 -217.8 0Z M812.6 955.4 a67.0 36.9 0 1 0 134.0 0 a67.0 36.9 0 1 0 -134.0 0Z"/><path d="M985.8 955.4L969.7 956.4M985.6 958.7L969.5 959.3M985.1 962.0L968.9 962.2M984.2 965.3L968.1 965.1M983.0 968.6L967.0 968.0M981.5 971.8L965.6 970.8M979.6 975.0L963.9 973.5M977.4 978.1L961.9 976.2M974.9 981.1L959.7 978.9M972.1 984.0L957.2 981.4M968.9 986.9L954.4 983.9M965.5 989.6L951.5 986.3M961.8 992.2L948.2 988.5M957.8 994.8L944.8 990.7M953.6 997.1L941.1 992.8M949.1 999.4L937.3 994.7M944.5 1001.5L933.2 996.5M939.5 1003.4L929.0 998.2M934.4 1005.2L924.6 999.7M929.2 1006.9L920.1 1001.1M923.7 1008.3L915.4 1002.3M918.1 1009.6L910.6 1003.4M912.4 1010.8L905.7 1004.3M906.6 1011.7L900.8 1005.1M900.7 1012.4L895.7 1005.7M894.7 1013.0L890.6 1006.1M888.7 1013.4L885.5 1006.4M882.6 1013.6L880.4 1006.5M876.6 1013.6L875.2 1006.4M870.5 1013.4L870.1 1006.2M864.5 1013.0L865.0 1005.8M858.5 1012.4L859.9 1005.3M852.6 1011.7L854.9 1004.6M846.8 1010.8L850.0 1003.7M841.1 1009.6L845.2 1002.6M835.5 1008.3L840.5 1001.4M830.0 1006.9L835.9 1000.1M824.8 1005.2L831.5 998.6M819.7 1003.4L827.2 997.0M814.7 1001.5L823.1 995.2M810.1 999.4L819.2 993.3M805.6 997.1L815.5 991.3M801.4 994.8L812.0 989.2M797.4 992.2L808.7 986.9M793.7 989.6L805.6 984.6M790.3 986.9L802.8 982.2M787.1 984.0L800.2 979.6M784.3 981.1L797.9 977.0M781.8 978.1L795.9 974.3M779.6 975.0L794.1 971.6M777.7 971.8L792.6 968.8M776.2 968.6L791.4 966.0M775.0 965.3L790.5 963.1M774.1 962.0L789.9 960.2M773.6 958.7L789.5 957.3M773.4 955.4L789.5 954.4M773.6 952.1L789.7 951.5M774.1 948.8L790.3 948.6M775.0 945.5L791.1 945.7M776.2 942.2L792.2 942.8M777.7 939.0L793.6 940.0M779.6 935.8L795.3 937.3M781.8 932.7L797.3 934.6M784.3 929.7L799.5 931.9M787.1 926.8L802.0 929.4M790.3 923.9L804.8 926.9M793.7 921.2L807.7 924.5M797.4 918.6L811.0 922.3M801.4 916.0L814.4 920.1M805.6 913.7L818.1 918.0M810.1 911.4L821.9 916.1M814.7 909.3L826.0 914.3M819.7 907.4L830.2 912.6M824.8 905.6L834.6 911.1M830.0 903.9L839.1 909.7M835.5 902.5L843.8 908.5M841.1 901.2L848.6 907.4M846.8 900.0L853.5 906.5M852.6 899.1L858.4 905.7M858.5 898.4L863.5 905.1M864.5 897.8L868.6 904.7M870.5 897.4L873.7 904.4M876.6 897.2L878.8 904.3M882.6 897.2L884.0 904.4M888.7 897.4L889.1 904.6M894.7 897.8L894.2 905.0M900.7 898.4L899.3 905.5M906.6 899.1L904.3 906.2M912.4 900.0L909.2 907.1M918.1 901.2L914.0 908.2M923.7 902.5L918.7 909.4M929.2 903.9L923.3 910.7M934.4 905.6L927.7 912.2M939.5 907.4L932.0 913.8M944.5 909.3L936.1 915.6M949.1 911.4L940.0 917.5M953.6 913.7L943.7 919.5M957.8 916.0L947.2 921.6M961.8 918.6L950.5 923.9M965.5 921.2L953.6 926.2M968.9 923.9L956.4 928.6M972.1 926.8L959.0 931.2M974.9 929.7L961.3 933.8M977.4 932.7L963.3 936.5M979.6 935.8L965.1 939.2M981.5 939.0L966.6 942.0M983.0 942.2L967.8 944.8M984.2 945.5L968.7 947.7M985.1 948.8L969.3 950.6M985.6 952.1L969.7 953.5M949.3 955.4L968.7 954.4M949.1 958.5L968.6 958.3M948.4 961.6L967.9 962.2M947.4 964.6L966.7 966.1M945.9 967.6L964.9 969.9M944.0 970.6L962.6 973.6M941.7 973.4L959.8 977.2M939.0 976.1L956.5 980.7M936.0 978.7L952.8 984.0M932.6 981.1L948.5 987.2M928.9 983.4L943.9 990.1M924.9 985.5L938.8 992.8M920.6 987.4L933.4 995.3M916.0 989.2L927.7 997.6M911.2 990.7L921.7 999.6M906.3 992.0L915.4 1001.3M901.1 993.1L908.8 1002.7M895.9 993.9L902.1 1003.9M890.5 994.5L895.3 1004.7M885.1 994.9L888.4 1005.3M879.6 995.0L881.4 1005.5M874.1 994.9L874.4 1005.4M868.7 994.5L867.4 1005.0M863.3 993.9L860.5 1004.3M858.1 993.1L853.8 1003.3M852.9 992.0L847.1 1002.1M848.0 990.7L840.7 1000.5M843.2 989.2L834.5 998.6M838.6 987.4L828.7 996.5M834.3 985.5L823.1 994.1M830.3 983.4L817.8 991.5M826.6 981.1L813.0 988.7M823.2 978.7L808.5 985.7M820.2 976.1L804.5 982.4M817.5 973.4L801.0 979.0M815.2 970.6L797.9 975.5M813.3 967.6L795.4 971.8M811.8 964.6L793.3 968.1M810.8 961.6L791.8 964.2M810.1 958.5L790.9 960.3M809.9 955.4L790.5 956.4M810.1 952.3L790.6 952.5M810.8 949.2L791.3 948.6M811.8 946.2L792.5 944.7M813.3 943.2L794.3 940.9M815.2 940.2L796.6 937.2M817.5 937.4L799.4 933.6M820.2 934.7L802.7 930.1M823.2 932.1L806.4 926.8M826.6 929.7L810.7 923.6M830.3 927.4L815.3 920.7M834.3 925.3L820.4 918.0M838.6 923.4L825.8 915.5M843.2 921.6L831.5 913.2M848.0 920.1L837.5 911.2M852.9 918.8L843.8 909.5M858.1 917.7L850.4 908.1M863.3 916.9L857.1 906.9M868.7 916.3L863.9 906.1M874.1 915.9L870.8 905.5M879.6 915.8L877.8 905.3M885.1 915.9L884.8 905.4M890.5 916.3L891.8 905.8M895.9 916.9L898.7 906.5M901.1 917.7L905.4 907.5M906.3 918.8L912.1 908.7M911.2 920.1L918.5 910.3M916.0 921.6L924.7 912.2M920.6 923.4L930.5 914.3M924.9 925.3L936.1 916.7M928.9 927.4L941.4 919.3M932.6 929.7L946.2 922.1M936.0 932.1L950.7 925.1M939.0 934.7L954.7 928.4M941.7 937.4L958.2 931.8M944.0 940.2L961.3 935.3M945.9 943.2L963.8 939.0M947.4 946.2L965.9 942.7M948.4 949.2L967.4 946.6M949.1 952.3L968.3 950.5" stroke="#9fb6e2" stroke-width="0.9" fill="none"/><ellipse cx="879.6" cy="955.4" rx="108.9" ry="60.9" fill="none" stroke="#d22f55" stroke-width="5.4" stroke-linecap="round" stroke-dasharray="0.01 5.497"/><ellipse cx="879.6" cy="955.4" rx="67.0" ry="36.9" fill="none" stroke="#d22f55" stroke-width="5.4" stroke-linecap="round" stroke-dasharray="0.01 5.464"/><ellipse cx="881.2" cy="954.8" rx="63.9" ry="32" fill="url(#gmg)" stroke="#58a85a" stroke-width="1"/><ellipse cx="940.6" cy="954.8" rx="2.3" ry="1.0" fill="#5e5596" transform="rotate(90 940.6 954.8)"/><ellipse cx="938.6" cy="962.5" rx="2.3" ry="1.0" fill="#5e5596" transform="rotate(118 938.6 962.5)"/><ellipse cx="932.7" cy="969.7" rx="2.3" ry="1.0" fill="#5e5596" transform="rotate(139 932.7 969.7)"/><ellipse cx="923.2" cy="975.8" rx="2.3" ry="1.0" fill="#5e5596" transform="rotate(153 923.2 975.8)"/><ellipse cx="910.9" cy="980.6" rx="2.3" ry="1.0" fill="#5e5596" transform="rotate(164 910.9 980.6)"/><ellipse cx="896.6" cy="983.5" rx="2.3" ry="1.0" fill="#5e5596" transform="rotate(172 896.6 983.5)"/><ellipse cx="881.2" cy="984.6" rx="2.3" ry="1.0" fill="#5e5596" transform="rotate(180 881.2 984.6)"/><ellipse cx="865.8" cy="983.5" rx="2.3" ry="1.0" fill="#1e7d22" transform="rotate(-172 865.8 983.5)"/><ellipse cx="851.5" cy="980.6" rx="2.3" ry="1.0" fill="#5e5596" transform="rotate(-164 851.5 980.6)"/><ellipse cx="839.2" cy="975.8" rx="2.3" ry="1.0" fill="#1e7d22" transform="rotate(-153 839.2 975.8)"/><ellipse cx="829.7" cy="969.7" rx="2.3" ry="1.0" fill="#5e5596" transform="rotate(-139 829.7 969.7)"/><ellipse cx="823.8" cy="962.5" rx="2.3" ry="1.0" fill="#5e5596" transform="rotate(-118 823.8 962.5)"/><ellipse cx="821.8" cy="954.8" rx="2.3" ry="1.0" fill="#1e7d22" transform="rotate(-90 821.8 954.8)"/><ellipse cx="823.8" cy="947.1" rx="2.3" ry="1.0" fill="#1e7d22" transform="rotate(-62 823.8 947.1)"/><ellipse cx="829.7" cy="939.9" rx="2.3" ry="1.0" fill="#5e5596" transform="rotate(-41 829.7 939.9)"/><ellipse cx="839.2" cy="933.8" rx="2.3" ry="1.0" fill="#5e5596" transform="rotate(-27 839.2 933.8)"/><ellipse cx="851.5" cy="929.0" rx="2.3" ry="1.0" fill="#1e7d22" transform="rotate(-16 851.5 929.0)"/><ellipse cx="865.8" cy="926.1" rx="2.3" ry="1.0" fill="#1e7d22" transform="rotate(-8 865.8 926.1)"/><ellipse cx="881.2" cy="925.0" rx="2.3" ry="1.0" fill="#1e7d22" transform="rotate(-0 881.2 925.0)"/><ellipse cx="896.6" cy="926.1" rx="2.3" ry="1.0" fill="#5e5596" transform="rotate(8 896.6 926.1)"/><ellipse cx="910.9" cy="929.0" rx="2.3" ry="1.0" fill="#5e5596" transform="rotate(16 910.9 929.0)"/><ellipse cx="923.2" cy="933.8" rx="2.3" ry="1.0" fill="#1e7d22" transform="rotate(27 923.2 933.8)"/><ellipse cx="932.7" cy="939.9" rx="2.3" ry="1.0" fill="#5e5596" transform="rotate(41 932.7 939.9)"/><ellipse cx="938.6" cy="947.1" rx="2.3" ry="1.0" fill="#5e5596" transform="rotate(62 938.6 947.1)"/><ellipse cx="930.3" cy="959.1" rx="3.3" ry="1.8" fill="#5e5596" transform="rotate(109 930.3 959.1)"/><ellipse cx="924.4" cy="967.3" rx="3.3" ry="1.8" fill="#5e5596" transform="rotate(139 924.4 967.3)"/><ellipse cx="913.2" cy="973.9" rx="3.3" ry="1.8" fill="#5e5596" transform="rotate(157 913.2 973.9)"/><ellipse cx="898.2" cy="978.3" rx="3.3" ry="1.8" fill="#5e5596" transform="rotate(170 898.2 978.3)"/><ellipse cx="881.2" cy="979.8" rx="3.3" ry="1.8" fill="#1e7d22" transform="rotate(180 881.2 979.8)"/><ellipse cx="864.2" cy="978.3" rx="3.3" ry="1.8" fill="#1e7d22" transform="rotate(-170 864.2 978.3)"/><ellipse cx="849.2" cy="973.9" rx="3.3" ry="1.8" fill="#5e5596" transform="rotate(-157 849.2 973.9)"/><ellipse cx="838.0" cy="967.3" rx="3.3" ry="1.8" fill="#5e5596" transform="rotate(-139 838.0 967.3)"/><ellipse cx="832.1" cy="959.1" rx="3.3" ry="1.8" fill="#5e5596" transform="rotate(-109 832.1 959.1)"/><ellipse cx="832.1" cy="950.5" rx="3.3" ry="1.8" fill="#1e7d22" transform="rotate(-71 832.1 950.5)"/><ellipse cx="838.0" cy="942.3" rx="3.3" ry="1.8" fill="#1e7d22" transform="rotate(-41 838.0 942.3)"/><ellipse cx="849.2" cy="935.7" rx="3.3" ry="1.8" fill="#1e7d22" transform="rotate(-23 849.2 935.7)"/><ellipse cx="864.2" cy="931.3" rx="3.3" ry="1.8" fill="#1e7d22" transform="rotate(-10 864.2 931.3)"/><ellipse cx="881.2" cy="929.8" rx="3.3" ry="1.8" fill="#1e7d22" transform="rotate(-0 881.2 929.8)"/><ellipse cx="898.2" cy="931.3" rx="3.3" ry="1.8" fill="#5e5596" transform="rotate(10 898.2 931.3)"/><ellipse cx="913.2" cy="935.7" rx="3.3" ry="1.8" fill="#1e7d22" transform="rotate(23 913.2 935.7)"/><ellipse cx="924.4" cy="942.3" rx="3.3" ry="1.8" fill="#5e5596" transform="rotate(41 924.4 942.3)"/><ellipse cx="930.3" cy="950.5" rx="3.3" ry="1.8" fill="#5e5596" transform="rotate(71 930.3 950.5)"/><ellipse cx="918.9" cy="954.8" rx="3.6" ry="2.1" fill="#5e5596" transform="rotate(90 918.9 954.8)"/><ellipse cx="913.9" cy="964.2" rx="3.6" ry="2.1" fill="#1e7d22" transform="rotate(139 913.9 964.2)"/><ellipse cx="900.1" cy="971.2" rx="3.6" ry="2.1" fill="#5e5596" transform="rotate(164 900.1 971.2)"/><ellipse cx="881.2" cy="973.7" rx="3.6" ry="2.1" fill="#1e7d22" transform="rotate(180 881.2 973.7)"/><ellipse cx="862.3" cy="971.2" rx="3.6" ry="2.1" fill="#5e5596" transform="rotate(-164 862.3 971.2)"/><ellipse cx="848.5" cy="964.2" rx="3.6" ry="2.1" fill="#1e7d22" transform="rotate(-139 848.5 964.2)"/><ellipse cx="843.5" cy="954.8" rx="3.6" ry="2.1" fill="#1e7d22" transform="rotate(-90 843.5 954.8)"/><ellipse cx="848.5" cy="945.4" rx="3.6" ry="2.1" fill="#5e5596" transform="rotate(-41 848.5 945.4)"/><ellipse cx="862.3" cy="938.4" rx="3.6" ry="2.1" fill="#1e7d22" transform="rotate(-16 862.3 938.4)"/><ellipse cx="881.2" cy="935.9" rx="3.6" ry="2.1" fill="#5e5596" transform="rotate(-0 881.2 935.9)"/><ellipse cx="900.1" cy="938.4" rx="3.6" ry="2.1" fill="#5e5596" transform="rotate(16 900.1 938.4)"/><ellipse cx="913.9" cy="945.4" rx="3.6" ry="2.1" fill="#1e7d22" transform="rotate(41 913.9 945.4)"/><ellipse cx="904.8" cy="959.7" rx="3.6" ry="2.1" fill="#1e7d22" transform="rotate(130 904.8 959.7)"/><ellipse cx="891.0" cy="966.6" rx="3.6" ry="2.1" fill="#5e5596" transform="rotate(168 891.0 966.6)"/><ellipse cx="871.4" cy="966.6" rx="3.6" ry="2.1" fill="#1e7d22" transform="rotate(-168 871.4 966.6)"/><ellipse cx="857.6" cy="959.7" rx="3.6" ry="2.1" fill="#1e7d22" transform="rotate(-130 857.6 959.7)"/><ellipse cx="857.6" cy="949.9" rx="3.6" ry="2.1" fill="#1e7d22" transform="rotate(-50 857.6 949.9)"/><ellipse cx="871.4" cy="943.0" rx="3.6" ry="2.1" fill="#1e7d22" transform="rotate(-12 871.4 943.0)"/><ellipse cx="891.0" cy="943.0" rx="3.6" ry="2.1" fill="#1e7d22" transform="rotate(12 891.0 943.0)"/><ellipse cx="904.8" cy="949.9" rx="3.6" ry="2.1" fill="#5e5596" transform="rotate(50 904.8 949.9)"/><rect x="845.6" y="943.8" width="71.3" height="22.1" rx="11.05" fill="#9a6350"/><ellipse cx="853.5" cy="947.9" rx="3.6" ry="2.1" fill="#6b4318"/><ellipse cx="871.3" cy="946.9" rx="3.6" ry="2.1" fill="#6b4318"/><ellipse cx="891.1" cy="947.9" rx="3.6" ry="2.1" fill="#6b4318"/><ellipse cx="906.9" cy="946.9" rx="3.6" ry="2.1" fill="#6b4318"/><ellipse cx="859.4" cy="954.8" rx="3.6" ry="2.1" fill="#6b4318"/><ellipse cx="879.2" cy="955.8" rx="3.6" ry="2.1" fill="#6b4318"/><ellipse cx="899.0" cy="954.8" rx="3.6" ry="2.1" fill="#6b4318"/><ellipse cx="851.5" cy="961.7" rx="3.6" ry="2.1" fill="#6b4318"/><ellipse cx="869.3" cy="962.7" rx="3.6" ry="2.1" fill="#6b4318"/><ellipse cx="889.1" cy="962.7" rx="3.6" ry="2.1" fill="#6b4318"/><ellipse cx="907.9" cy="960.7" rx="3.6" ry="2.1" fill="#6b4318"/><g transform="translate(603.4 1073.0) rotate(2) scale(1.18)" stroke="#5a4e9c" fill="#5a4e9c" stroke-width="1.6" stroke-linecap="round"><path d="M0 2 L0 -9 M0 -9 L-4.5 -15.5 M0 -9 L4.5 -15.5" fill="none"/><path d="M-1.4 2 L-0.8 -6 L0.8 -6 L1.4 2Z" stroke="none"/><circle cx="-4.8" cy="-16" r="2.5" stroke="none"/><circle cx="4.8" cy="-16" r="2.5" stroke="none"/></g><g transform="translate(679.1 1094.2) rotate(34) scale(1.18)" stroke="#5a4e9c" fill="#5a4e9c" stroke-width="1.6" stroke-linecap="round"><path d="M0 2 L0 -9 M0 -9 L-4.5 -15.5 M0 -9 L4.5 -15.5" fill="none"/><path d="M-1.4 2 L-0.8 -6 L0.8 -6 L1.4 2Z" stroke="none"/><circle cx="-4.8" cy="-16" r="2.5" stroke="none"/><circle cx="4.8" cy="-16" r="2.5" stroke="none"/></g><g transform="translate(516.7 1094.2) rotate(-34) scale(1.18)" stroke="#5a4e9c" fill="#5a4e9c" stroke-width="1.6" stroke-linecap="round"><path d="M0 2 L0 -9 M0 -9 L-4.5 -15.5 M0 -9 L4.5 -15.5" fill="none"/><path d="M-1.4 2 L-0.8 -6 L0.8 -6 L1.4 2Z" stroke="none"/><circle cx="-4.8" cy="-16" r="2.5" stroke="none"/><circle cx="4.8" cy="-16" r="2.5" stroke="none"/></g><g transform="translate(681.4 1169.0) rotate(144) scale(1.18)" stroke="#5a4e9c" fill="#5a4e9c" stroke-width="1.6" stroke-linecap="round"><path d="M0 2 L0 -9 M0 -9 L-4.5 -15.5 M0 -9 L4.5 -15.5" fill="none"/><path d="M-1.4 2 L-0.8 -6 L0.8 -6 L1.4 2Z" stroke="none"/><circle cx="-4.8" cy="-16" r="2.5" stroke="none"/><circle cx="4.8" cy="-16" r="2.5" stroke="none"/></g><g transform="translate(516.7 1170.6) rotate(-146) scale(1.18)" stroke="#5a4e9c" fill="#5a4e9c" stroke-width="1.6" stroke-linecap="round"><path d="M0 2 L0 -9 M0 -9 L-4.5 -15.5 M0 -9 L4.5 -15.5" fill="none"/><path d="M-1.4 2 L-0.8 -6 L0.8 -6 L1.4 2Z" stroke="none"/><circle cx="-4.8" cy="-16" r="2.5" stroke="none"/><circle cx="4.8" cy="-16" r="2.5" stroke="none"/></g><g transform="translate(612.7 1191.3) rotate(175) scale(1.18)" stroke="#5a4e9c" fill="#5a4e9c" stroke-width="1.6" stroke-linecap="round"><path d="M0 2 L0 -9 M0 -9 L-4.5 -15.5 M0 -9 L4.5 -15.5" fill="none"/><path d="M-1.4 2 L-0.8 -6 L0.8 -6 L1.4 2Z" stroke="none"/><circle cx="-4.8" cy="-16" r="2.5" stroke="none"/><circle cx="4.8" cy="-16" r="2.5" stroke="none"/></g><g transform="translate(491.9 1132.4) rotate(-90) scale(1.18)" stroke="#5a4e9c" fill="#5a4e9c" stroke-width="1.6" stroke-linecap="round"><path d="M0 2 L0 -9 M0 -9 L-4.5 -15.5 M0 -9 L4.5 -15.5" fill="none"/><path d="M-1.4 2 L-0.8 -6 L0.8 -6 L1.4 2Z" stroke="none"/><circle cx="-4.8" cy="-16" r="2.5" stroke="none"/><circle cx="4.8" cy="-16" r="2.5" stroke="none"/></g><g transform="translate(885.3 894.5) rotate(2) scale(1.18)" stroke="#5a4e9c" fill="#5a4e9c" stroke-width="1.6" stroke-linecap="round"><path d="M0 2 L0 -9 M0 -9 L-4.5 -15.5 M0 -9 L4.5 -15.5" fill="none"/><path d="M-1.4 2 L-0.8 -6 L0.8 -6 L1.4 2Z" stroke="none"/><circle cx="-4.8" cy="-16" r="2.5" stroke="none"/><circle cx="4.8" cy="-16" r="2.5" stroke="none"/></g><g transform="translate(962.7 916.2) rotate(34) scale(1.18)" stroke="#5a4e9c" fill="#5a4e9c" stroke-width="1.6" stroke-linecap="round"><path d="M0 2 L0 -9 M0 -9 L-4.5 -15.5 M0 -9 L4.5 -15.5" fill="none"/><path d="M-1.4 2 L-0.8 -6 L0.8 -6 L1.4 2Z" stroke="none"/><circle cx="-4.8" cy="-16" r="2.5" stroke="none"/><circle cx="4.8" cy="-16" r="2.5" stroke="none"/></g><g transform="translate(796.5 916.2) rotate(-34) scale(1.18)" stroke="#5a4e9c" fill="#5a4e9c" stroke-width="1.6" stroke-linecap="round"><path d="M0 2 L0 -9 M0 -9 L-4.5 -15.5 M0 -9 L4.5 -15.5" fill="none"/><path d="M-1.4 2 L-0.8 -6 L0.8 -6 L1.4 2Z" stroke="none"/><circle cx="-4.8" cy="-16" r="2.5" stroke="none"/><circle cx="4.8" cy="-16" r="2.5" stroke="none"/></g><g transform="translate(965.1 993.0) rotate(144) scale(1.18)" stroke="#5a4e9c" fill="#5a4e9c" stroke-width="1.6" stroke-linecap="round"><path d="M0 2 L0 -9 M0 -9 L-4.5 -15.5 M0 -9 L4.5 -15.5" fill="none"/><path d="M-1.4 2 L-0.8 -6 L0.8 -6 L1.4 2Z" stroke="none"/><circle cx="-4.8" cy="-16" r="2.5" stroke="none"/><circle cx="4.8" cy="-16" r="2.5" stroke="none"/></g><g transform="translate(796.5 994.6) rotate(-146) scale(1.18)" stroke="#5a4e9c" fill="#5a4e9c" stroke-width="1.6" stroke-linecap="round"><path d="M0 2 L0 -9 M0 -9 L-4.5 -15.5 M0 -9 L4.5 -15.5" fill="none"/><path d="M-1.4 2 L-0.8 -6 L0.8 -6 L1.4 2Z" stroke="none"/><circle cx="-4.8" cy="-16" r="2.5" stroke="none"/><circle cx="4.8" cy="-16" r="2.5" stroke="none"/></g><g transform="translate(894.7 1015.8) rotate(175) scale(1.18)" stroke="#5a4e9c" fill="#5a4e9c" stroke-width="1.6" stroke-linecap="round"><path d="M0 2 L0 -9 M0 -9 L-4.5 -15.5 M0 -9 L4.5 -15.5" fill="none"/><path d="M-1.4 2 L-0.8 -6 L0.8 -6 L1.4 2Z" stroke="none"/><circle cx="-4.8" cy="-16" r="2.5" stroke="none"/><circle cx="4.8" cy="-16" r="2.5" stroke="none"/></g><g transform="translate(771.1 955.4) rotate(-90) scale(1.18)" stroke="#5a4e9c" fill="#5a4e9c" stroke-width="1.6" stroke-linecap="round"><path d="M0 2 L0 -9 M0 -9 L-4.5 -15.5 M0 -9 L4.5 -15.5" fill="none"/><path d="M-1.4 2 L-0.8 -6 L0.8 -6 L1.4 2Z" stroke="none"/><circle cx="-4.8" cy="-16" r="2.5" stroke="none"/><circle cx="4.8" cy="-16" r="2.5" stroke="none"/></g><g transform="translate(438.0 1114.0) rotate(0) scale(1.75)" stroke="#5a4e9c" fill="#5a4e9c" stroke-width="1.6" stroke-linecap="round"><path d="M0 2 L0 -9 M0 -9 L-4.5 -15.5 M0 -9 L4.5 -15.5" fill="none"/><path d="M-1.4 2 L-0.8 -6 L0.8 -6 L1.4 2Z" stroke="none"/><circle cx="-4.8" cy="-16" r="2.5" stroke="none"/><circle cx="4.8" cy="-16" r="2.5" stroke="none"/></g></svg>
<div class="t" style="left:233.2px;top:769.1px;font-size:18.4px;color:#222;transform:translateX(-50%);">Mesoporous</div>
<div class="t" style="left:233.2px;top:790.2px;font-size:18.4px;color:#222;transform:translateX(-50%);">silica&nbsp; coating</div>
<div class="t" style="left:233.2px;top:811.9px;font-size:18.4px;color:#222;transform:translateX(-50%);">(M)</div>
<div class="t" style="left:486.0px;top:762.9px;font-size:18.4px;color:#222;transform:translateX(-50%);">BQ loading</div>
<div class="t" style="left:131.3px;top:873.4px;font-size:18.4px;color:#222;transform:translateX(-50%);">Gold nanorod</div>
<div class="t" style="left:135.8px;top:895.8px;font-size:18.4px;color:#222;transform:translateX(-50%);">(G)</div>
<div class="t" style="left:361.9px;top:883.4px;font-size:18.4px;color:#222;transform:translateX(-50%);">GM</div>
<div class="t" style="left:596.6px;top:883.4px;font-size:18.4px;color:#222;transform:translateX(-50%);">GM@BQ</div>
<div class="t" style="left:368.3px;top:1080.6px;font-size:18.4px;color:#222;transform:translateX(-50%);">Glucan</div>
<div class="t" style="left:368.3px;top:1101.8px;font-size:18.4px;color:#222;transform:translateX(-50%);">conjugation</div>
<div class="t" style="left:181.8px;top:1215.8px;font-size:18.4px;color:#222;transform:translateX(-50%);">Thermo-sensitive</div>
<div class="t" style="left:183.7px;top:1236.9px;font-size:18.4px;color:#222;transform:translateX(-50%);">liposome (L)</div>
<div class="t" style="left:603.1px;top:1225.0px;font-size:18.4px;color:#222;transform:translateX(-50%);">L-Glu</div>
<div class="t" style="left:896.2px;top:1066.5px;font-size:18.4px;color:#222;transform:translateX(-50%);">(GM@BQ)L-Glu</div>
<div class="t" style="left:896.0px;top:1087.5px;font-size:18.4px;color:#222;transform:translateX(-50%);">or</div>
<div class="t" style="left:905.3px;top:1108.9px;font-size:18.4px;color:#222;transform:translateX(-50%);">(HTNs@ BQ)</div>
<div class="t" id="sch1" style="left:67.0px;top:1272.0px;font-size:14.4px;color:#111;"><b>Scheme 1:</b> Synthesis of Final nano-assembly&nbsp; (GM@BQ)L-Glu&nbsp; or (HTNs@BQ).</div>
<div class="abs" style="left:50.0px;top:1331.0px;width:991.0px;height:48.0px;background:#3399ff;"></div>
<div class="t" style="left:544.5px;top:1340.2px;font-size:33.4px;font-weight:bold;color:#fff;transform:translateX(-50%);">Characterization</div>
<div class="box" style="left:43px;top:1400px;width:1007px;height:420px;"></div>
<svg width="0" height="0" style="left:0;top:0"><defs><filter id="nz" x="0" y="0" width="100%" height="100%" color-interpolation-filters="sRGB"><feTurbulence type="fractalNoise" baseFrequency="0.8" numOctaves="2" seed="3" result="t"/><feColorMatrix in="t" type="matrix" values="1 0 0 0 0  1 0 0 0 0  1 0 0 0 0  0 0 0 0 1" result="g"/><feComposite in="SourceGraphic" in2="g" operator="arithmetic" k1="0" k2="1" k3="0.22" k4="-0.11"/></filter><filter id="nz2" x="0" y="0" width="100%" height="100%" color-interpolation-filters="sRGB"><feTurbulence type="fractalNoise" baseFrequency="0.55" numOctaves="2" seed="8" result="t"/><feColorMatrix in="t" type="matrix" values="1 0 0 0 0  1 0 0 0 0  1 0 0 0 0  0 0 0 0 1" result="g"/><feComposite in="SourceGraphic" in2="g" operator="arithmetic" k1="0" k2="1" k3="0.36" k4="-0.18"/></filter><filter id="nzd" x="0" y="0" width="100%" height="100%" color-interpolation-filters="sRGB"><feTurbulence type="fractalNoise" baseFrequency="0.6" numOctaves="2" seed="5" result="t"/><feColorMatrix in="t" type="matrix" values="1 0 0 0 0  1 0 0 0 0  1 0 0 0 0  0 0 0 0 1" result="g"/><feComposite in="SourceGraphic" in2="g" operator="arithmetic" k1="0" k2="1" k3="0.14" k4="-0.06"/></filter><filter id="nzg" x="0" y="0" width="100%" height="100%" color-interpolation-filters="sRGB"><feTurbulence type="fractalNoise" baseFrequency="0.35" numOctaves="2" seed="11" result="t"/><feColorMatrix in="t" type="matrix" values="0 0 0 0 0  1.4 0 0 0 -0.2  0 0 0 0 0  0 0 0 0 1" result="g"/><feComposite in="SourceGraphic" in2="g" operator="arithmetic" k1="0.9" k2="0.55" k3="0.1" k4="-0.03"/></filter><filter id="nzr" x="0" y="0" width="100%" height="100%" color-interpolation-filters="sRGB"><feTurbulence type="fractalNoise" baseFrequency="0.5" numOctaves="2" seed="2" result="t"/><feColorMatrix in="t" type="matrix" values="1.2 0 0 0 -0.1  0 0 0 0 0  0 0 0 0 0  0 0 0 0 1" result="g"/><feComposite in="SourceGraphic" in2="g" operator="arithmetic" k1="0.6" k2="0.65" k3="0" k4="0"/></filter><filter id="worm" x="-5%" y="-5%" width="110%" height="110%" color-interpolation-filters="sRGB"><feTurbulence type="turbulence" baseFrequency="0.3" numOctaves="1" seed="4" result="t"/><feColorMatrix in="t" type="matrix" values="1.6 0 0 0 0.36  1.6 0 0 0 0.36  1.6 0 0 0 0.36  0 0 0 0 1" result="g"/><feGaussianBlur in="g" stdDeviation="0.35" result="gb"/><feGaussianBlur in="SourceAlpha" stdDeviation="1.6" result="sa"/><feComposite in="gb" in2="sa" operator="in"/></filter><filter id="b1"><feGaussianBlur stdDeviation="1"/></filter><filter id="b2"><feGaussianBlur stdDeviation="2"/></filter><filter id="b3"><feGaussianBlur stdDeviation="3.2"/></filter><filter id="b5"><feGaussianBlur stdDeviation="5"/></filter><filter id="b05"><feGaussianBlur stdDeviation="0.6"/></filter></defs></svg>
<div class="t" style="left:76.3px;top:1432.4px;font-size:22px;font-weight:bold;">A.</div>
<div class="t" style="left:653.0px;top:1432.4px;font-size:22px;font-weight:bold;">B.</div>
<div class="t" style="left:655.0px;top:1780.9px;font-size:22px;font-weight:bold;">C.</div>
<svg style="left:78.4px;top:1465.3px;overflow:hidden" width="174.2" height="161.6" viewBox="0 0 174.2 161.6"><g filter="url(#nz)"><rect width="174.2" height="161.6" fill="#9b9b9b"/><ellipse cx="60" cy="76" rx="7" ry="38" fill="#b4b4b4" opacity="0.6" transform="rotate(-12 60 76)" filter="url(#b3)"/><ellipse cx="158" cy="48" rx="9" ry="22" fill="#aaa" opacity="0.6" filter="url(#b3)"/><g filter="url(#b05)"><rect x="2.4" y="54.8" width="76.0" height="16.5" rx="6.6" fill="#444" transform="rotate(4 40.4 63.0)" /><rect x="48" y="55" width="8" height="17" fill="#787878" transform="rotate(4 40.4 63)" filter="url(#b1)"/><rect x="76.9" y="39.4" width="71.0" height="24.5" rx="9.8" fill="#3e3e3e" transform="rotate(26 112.4 51.6)" /><rect x="72.5" y="94.5" width="92.0" height="15.0" rx="6.0" fill="#4a4a4a" transform="rotate(55.5 118.5 102.0)" /><rect x="126" y="93.5" width="24" height="14" fill="#7a7a7a" opacity="0.8" transform="rotate(55.5 117.3 100.5)" filter="url(#b2)"/></g><text x="6.2" y="21.6" font-family="Liberation Sans" font-weight="bold" font-size="17.5" fill="#fff">a</text><rect x="6.2" y="147.5" width="50.4" height="5" fill="#000"/><text x="18" y="140.3" font-family="Liberation Sans" font-weight="bold" font-size="9.6" fill="#1a1a1a">5 nm</text></g></svg>
<svg style="left:265.1px;top:1465.3px;overflow:hidden" width="174.2" height="161.6" viewBox="0 0 174.2 161.6"><g filter="url(#nz)"><rect width="174.2" height="161.6" fill="#a9a9a9"/><g opacity="0.9"><ellipse cx="46.9" cy="74.9" rx="44" ry="29" fill="#b9b9b9" transform="rotate(-8 46.9 74.9)" filter="url(#b2)"/><g filter="url(#worm)" opacity="0.9"><ellipse cx="46.9" cy="74.9" rx="42" ry="27" fill="#000" transform="rotate(-8 46.9 74.9)"/></g><ellipse cx="123.6" cy="90" rx="46" ry="32" fill="#b9b9b9" transform="rotate(-27 123.6 90)" filter="url(#b2)"/><g filter="url(#worm)" opacity="0.9"><ellipse cx="123.6" cy="90" rx="44" ry="30" fill="#000" transform="rotate(-27 123.6 90)"/></g><ellipse cx="-2" cy="128" rx="15" ry="29" fill="#b9b9b9" transform="rotate(0 -2 128)" filter="url(#b2)"/><g filter="url(#worm)" opacity="0.9"><ellipse cx="-2" cy="128" rx="13" ry="27" fill="#000" transform="rotate(0 -2 128)"/></g></g><g filter="url(#b05)"><rect x="19.9" y="71.2" width="57.0" height="10.5" rx="4.2" fill="#4e4e4e" transform="rotate(-13 48.4 76.4)" /><rect x="95.6" y="83.3" width="56.0" height="14.0" rx="5.6" fill="#1b1b1b" transform="rotate(-28.5 123.6 90.3)" /></g><text x="12.6" y="21.6" font-family="Liberation Sans" font-weight="bold" font-size="17.5" fill="#fff">b</text><rect x="13" y="147.5" width="50.4" height="5" fill="#000"/><text x="22.6" y="135.6" font-family="Liberation Sans" font-weight="bold" font-size="9.6" fill="#1a1a1a">20 nm</text></g></svg>
<svg style="left:452.0px;top:1465.3px;overflow:hidden" width="174.2" height="161.6" viewBox="0 0 174.2 161.6"><g filter="url(#nz2)"><rect width="174.2" height="161.6" fill="#8d8d8d"/><ellipse cx="90.4" cy="88" rx="50" ry="62" fill="#7e7e7e" transform="rotate(17 90.4 88)" filter="url(#b3)" opacity="0.7"/><ellipse cx="90.4" cy="88" rx="45" ry="57" fill="#999" transform="rotate(17 90.4 88)" filter="url(#b3)"/><g filter="url(#b1)"><defs><linearGradient id="rc" x1="0" y1="0" x2="1" y2="0"><stop offset="0" stop-color="#353535"/><stop offset="0.25" stop-color="#2c2c2c"/><stop offset="0.45" stop-color="#5e5e5e"/><stop offset="0.58" stop-color="#6a6a6a"/><stop offset="0.72" stop-color="#0c0c0c"/><stop offset="1" stop-color="#020202"/></linearGradient></defs><rect x="45.3" y="68.5" width="89" height="33.5" rx="15" fill="url(#rc)" transform="rotate(-66.5 89.8 85.3)"/></g><ellipse cx="109" cy="87" rx="4.5" ry="19" fill="#e4e4e4" transform="rotate(24 109 87)" filter="url(#b2)"/><text x="7.5" y="21.6" font-family="Liberation Sans" font-weight="bold" font-size="17.5" fill="#fff">c</text><rect x="7.8" y="147.5" width="49.7" height="5" fill="#000"/><text x="14.7" y="138.3" font-family="Liberation Sans" font-weight="bold" font-size="9.6" fill="#1a1a1a">30 nm</text></g></svg>
<svg style="left:78.4px;top:1643.3px;overflow:hidden" width="174.2" height="161.6" viewBox="0 0 174.2 161.6"><g filter="url(#nzd)"><rect width="174.2" height="161.6" fill="#1c1c1c"/><ellipse cx="30" cy="40" rx="40" ry="25" fill="#111" filter="url(#b5)"/><ellipse cx="140" cy="120" rx="40" ry="50" fill="#151515" filter="url(#b5)"/><ellipse cx="89" cy="80" rx="42" ry="59" fill="#2e2e2e" transform="rotate(20 89 80)" filter="url(#b2)"/><ellipse cx="89" cy="80" rx="38" ry="55" fill="#0d0d0d" transform="rotate(20 89 80)" filter="url(#b2)"/><path d="M60 135 Q75 150 70 175" stroke="#333" stroke-width="3" fill="none" filter="url(#b2)"/><g filter="url(#b1)"><defs><linearGradient id="rd" x1="0" y1="0" x2="1" y2="0"><stop offset="0" stop-color="#f4f4f4"/><stop offset="0.5" stop-color="#cfcfcf"/><stop offset="1" stop-color="#f2f2f2"/></linearGradient></defs><rect x="53.2" y="63.2" width="75" height="24" rx="11" fill="url(#rd)" transform="rotate(-72 90.7 75.2)"/></g><text x="7.1" y="22.3" font-family="Liberation Sans" font-weight="bold" font-size="17.5" fill="#fff">d</text><rect x="0.4" y="132.8" width="43.9" height="12.2" fill="#fff"/><text x="5" y="142.8" font-family="Liberation Sans" font-size="9.8" fill="#111">HAADF</text><path d="M128.3 152.5V156.5M128.3 154.5H168.2M168.2 152.5V156.5" stroke="#ddd" stroke-width="1" fill="none"/><text x="140" y="151.5" font-family="Liberation Sans" font-weight="bold" font-size="4.6" fill="#ddd">30 nm</text></g></svg>
<svg style="left:265.1px;top:1643.3px;overflow:hidden" width="174.2" height="161.6" viewBox="0 0 174.2 161.6"><g filter="url(#none)"><rect width="174.2" height="161.6" fill="#000"/><g filter="url(#nzr)"><g filter="url(#b2)"><rect x="54.9" y="64" width="73" height="22.5" rx="10" fill="#d41616" transform="rotate(-73 91.4 75.2)"/></g></g><text x="7.3" y="22.3" font-family="Liberation Sans" font-weight="bold" font-size="17.5" fill="#fff">e</text><rect x="0.7" y="132.8" width="21.7" height="12.2" fill="#f01010"/><text x="4.3" y="142.8" font-family="Liberation Sans" font-size="9.8" fill="#7a0000">Au</text><path d="M128.3 152.5V156.5M128.3 154.5H168.2M168.2 152.5V156.5" stroke="#ddd" stroke-width="1" fill="none"/><text x="140" y="151.5" font-family="Liberation Sans" font-weight="bold" font-size="4.6" fill="#ddd">30 nm</text></g></svg>
<svg style="left:452.2px;top:1643.3px;overflow:hidden" width="174.2" height="161.6" viewBox="0 0 174.2 161.6"><g filter="url(#none)"><g filter="url(#nzg)"><rect width="174.2" height="161.6" fill="#092609"/><g filter="url(#b2)"><rect x="44" y="47" width="90" height="55" rx="20" fill="#35d535" transform="rotate(-73 89.2 74.1)"/><path d="M118 62 L132 66 L120 72Z" fill="#2a9a2a"/></g></g><text x="7.3" y="22.3" font-family="Liberation Sans" font-weight="bold" font-size="17.5" fill="#fff">f</text><rect x="0.7" y="132.8" width="17.7" height="12.2" fill="#30f030"/><text x="4" y="142.8" font-family="Liberation Sans" font-size="9.8" fill="#0a8a0a">Si</text><path d="M128.3 152.5V156.5M128.3 154.5H168.2M168.2 152.5V156.5" stroke="#ddd" stroke-width="1" fill="none"/><text x="140" y="151.5" font-family="Liberation Sans" font-weight="bold" font-size="4.6" fill="#ddd">30 nm</text></g></svg>
<svg style="left:0;top:0" width="1100" height="1800"><path d="M711.4 1471.9V1706.5H1002.5" stroke="#333" stroke-width="1.3" fill="none"/><path d="M705.4 1706.5H711.4M708.4 1687.0H711.4M705.4 1667.4H711.4M708.4 1647.8H711.4M705.4 1628.3H711.4M708.4 1608.8H711.4M705.4 1589.2H711.4M708.4 1569.7H711.4M705.4 1550.1H711.4M708.4 1530.5H711.4M705.4 1511.0H711.4M708.4 1491.5H711.4M705.4 1471.9H711.4M733.7 1706.5v5M778.5 1706.5v5M823.3 1706.5v5M868.1 1706.5v5M912.9 1706.5v5M957.7 1706.5v5M1002.5 1706.5v5M711.3 1706.5v3M756.1 1706.5v3M800.9 1706.5v3M845.7 1706.5v3M890.5 1706.5v3M935.3 1706.5v3M980.1 1706.5v3" stroke="#333" stroke-width="1.2" fill="none"/><path d="M711.3 1561.8 C713.2 1565.1 718.8 1575.8 722.5 1581.4 C726.2 1586.9 730.0 1591.8 733.7 1595.1 C737.4 1598.3 741.2 1599.3 744.9 1600.9 C748.6 1602.6 752.0 1603.7 756.1 1604.8 C760.2 1606.0 765.8 1608.3 769.5 1608.0 C773.3 1607.6 775.5 1606.7 778.5 1602.9 C781.5 1599.1 784.8 1588.9 787.5 1585.3 C790.1 1581.7 791.9 1581.1 794.2 1581.4 C796.4 1581.7 797.9 1582.0 800.9 1587.2 C803.9 1592.5 808.4 1604.2 812.1 1612.7 C815.8 1621.1 819.9 1632.2 823.3 1638.1 C826.7 1643.9 829.6 1646.0 832.3 1647.8 C834.9 1649.7 836.7 1649.7 839.0 1649.4 C841.2 1649.1 842.3 1650.1 845.7 1645.9 C849.1 1641.7 855.4 1633.2 859.1 1624.4 C862.9 1615.6 865.1 1605.5 868.1 1593.1 C871.1 1580.7 874.1 1562.5 877.1 1550.1 C880.0 1537.7 883.0 1527.3 886.0 1518.8 C889.0 1510.3 892.0 1504.2 895.0 1499.3 C898.0 1494.4 901.7 1491.5 903.9 1489.5 C906.2 1487.5 906.2 1487.2 908.4 1487.5 C910.7 1487.9 914.4 1488.5 917.4 1491.5 C920.4 1494.4 923.4 1500.6 926.3 1505.1 C929.3 1509.7 931.9 1512.6 935.3 1518.8 C938.7 1525.0 942.8 1534.1 946.5 1542.3 C950.2 1550.4 954.0 1560.5 957.7 1567.7 C961.4 1574.9 965.9 1581.5 968.9 1585.3 C971.9 1589.1 973.4 1590.0 975.6 1590.4 C977.9 1590.7 980.5 1589.4 982.3 1587.2 C984.2 1585.1 985.6 1581.1 986.8 1577.5 C988.1 1573.9 988.8 1567.9 990.0 1565.7 C991.1 1563.6 992.2 1564.2 993.5 1564.6 C994.9 1564.9 996.5 1565.9 998.0 1567.7 C999.5 1569.5 1001.8 1574.2 1002.5 1575.5" stroke="#4a4a4a" stroke-width="1.3" fill="none"/><path d="M711.3 1565.7 C713.2 1569.0 718.8 1579.1 722.5 1585.3 C726.2 1591.5 730.0 1598.3 733.7 1602.9 C737.4 1607.4 741.2 1610.4 744.9 1612.7 C748.6 1614.9 752.0 1615.4 756.1 1616.6 C760.2 1617.7 765.8 1619.7 769.5 1619.7 C773.3 1619.7 775.1 1620.0 778.5 1616.6 C781.9 1613.1 786.3 1602.9 789.7 1599.0 C793.1 1595.1 796.0 1593.1 798.7 1593.1 C801.3 1593.1 802.8 1594.4 805.4 1599.0 C808.0 1603.5 811.4 1613.0 814.3 1620.5 C817.3 1628.0 819.9 1637.7 823.3 1643.9 C826.7 1650.1 831.1 1654.8 834.5 1657.6 C837.9 1660.4 840.5 1661.1 843.5 1660.8 C846.4 1660.4 849.1 1660.4 852.4 1655.7 C855.8 1650.9 860.3 1641.3 863.6 1632.2 C867.0 1623.1 869.6 1613.0 872.6 1600.9 C875.6 1588.9 878.6 1571.6 881.5 1559.9 C884.5 1548.1 887.1 1539.3 890.5 1530.5 C893.9 1521.8 898.0 1512.3 901.7 1507.1 C905.4 1501.9 909.5 1499.9 912.9 1499.3 C916.3 1498.6 918.9 1500.6 921.9 1503.2 C924.8 1505.8 927.8 1510.7 930.8 1514.9 C933.8 1519.1 936.8 1523.1 939.8 1528.6 C942.8 1534.1 945.8 1541.3 948.7 1548.1 C951.7 1555.0 954.3 1562.5 957.7 1569.7 C961.1 1576.8 965.5 1585.8 968.9 1591.2 C972.3 1596.5 975.6 1600.0 977.9 1601.7 C980.1 1603.5 980.5 1603.1 982.3 1601.7 C984.2 1600.3 987.2 1597.2 989.1 1593.1 C990.9 1589.1 992.0 1580.3 993.5 1577.5 C995.0 1574.7 996.5 1576.0 998.0 1576.3 C999.5 1576.6 1001.8 1578.9 1002.5 1579.4" stroke="#e0484c" stroke-width="1.3" fill="none"/><path d="M711.3 1581.4 C713.2 1584.6 718.8 1594.7 722.5 1600.9 C726.2 1607.1 730.0 1614.0 733.7 1618.5 C737.4 1623.1 741.2 1626.0 744.9 1628.3 C748.6 1630.6 752.0 1631.0 756.1 1632.2 C760.2 1633.4 765.8 1635.3 769.5 1635.3 C773.3 1635.3 775.1 1635.7 778.5 1632.2 C781.9 1628.8 786.3 1618.5 789.7 1614.6 C793.1 1610.7 796.0 1608.8 798.7 1608.8 C801.3 1608.8 802.8 1610.4 805.4 1614.6 C808.0 1618.9 811.4 1627.3 814.3 1634.2 C817.3 1641.0 819.9 1649.3 823.3 1655.7 C826.7 1662.1 831.1 1669.0 834.5 1672.5 C837.9 1675.9 840.5 1676.6 843.5 1676.4 C846.4 1676.2 849.1 1675.7 852.4 1671.3 C855.8 1666.9 860.3 1658.9 863.6 1649.8 C867.0 1640.7 869.6 1629.0 872.6 1616.6 C875.6 1604.2 878.6 1587.6 881.5 1575.5 C884.5 1563.5 887.1 1553.0 890.5 1544.2 C893.9 1535.4 898.0 1527.6 901.7 1522.7 C905.4 1517.8 909.5 1515.6 912.9 1514.9 C916.3 1514.3 918.9 1515.9 921.9 1518.8 C924.8 1521.8 927.8 1527.9 930.8 1532.5 C933.8 1537.1 936.8 1540.7 939.8 1546.2 C942.8 1551.7 945.8 1558.6 948.7 1565.7 C951.7 1572.9 954.3 1582.0 957.7 1589.2 C961.1 1596.4 965.5 1604.1 968.9 1608.8 C972.3 1613.4 975.6 1615.9 977.9 1617.4 C980.1 1618.9 980.5 1618.9 982.3 1617.7 C984.2 1616.6 987.2 1614.8 989.1 1610.7 C990.9 1606.6 992.0 1596.4 993.5 1593.1 C995.0 1589.9 996.5 1590.8 998.0 1591.2 C999.5 1591.5 1001.8 1594.4 1002.5 1595.1" stroke="#3575d0" stroke-width="1.3" fill="none"/><path d="M711.3 1589.2 C713.2 1592.5 718.8 1602.6 722.5 1608.8 C726.2 1614.9 730.0 1621.8 733.7 1626.3 C737.4 1630.9 741.2 1633.8 744.9 1636.1 C748.6 1638.4 752.0 1638.9 756.1 1640.0 C760.2 1641.2 765.8 1643.2 769.5 1643.2 C773.3 1643.2 775.1 1643.5 778.5 1640.0 C781.9 1636.6 786.3 1626.3 789.7 1622.4 C793.1 1618.5 796.0 1616.6 798.7 1616.6 C801.3 1616.6 802.8 1618.2 805.4 1622.4 C808.0 1626.7 811.4 1635.1 814.3 1642.0 C817.3 1648.8 819.9 1657.1 823.3 1663.5 C826.7 1669.9 831.1 1676.8 834.5 1680.3 C837.9 1683.8 840.5 1684.4 843.5 1684.2 C846.4 1684.0 849.1 1683.6 852.4 1679.1 C855.8 1674.7 860.3 1666.7 863.6 1657.6 C867.0 1648.5 869.6 1636.8 872.6 1624.4 C875.6 1612.0 878.6 1595.4 881.5 1583.3 C884.5 1571.3 887.1 1560.9 890.5 1552.1 C893.9 1543.3 898.0 1535.4 901.7 1530.5 C905.4 1525.7 909.5 1523.4 912.9 1522.7 C916.3 1522.1 918.9 1523.7 921.9 1526.6 C924.8 1529.6 927.8 1535.8 930.8 1540.3 C933.8 1544.9 936.8 1548.5 939.8 1554.0 C942.8 1559.5 945.8 1566.4 948.7 1573.6 C951.7 1580.7 954.3 1589.9 957.7 1597.0 C961.1 1604.2 965.5 1611.9 968.9 1616.6 C972.3 1621.3 975.6 1623.7 977.9 1625.2 C980.1 1626.7 980.5 1626.7 982.3 1625.6 C984.2 1624.5 987.2 1622.6 989.1 1618.5 C990.9 1614.4 992.0 1604.2 993.5 1600.9 C995.0 1597.7 996.5 1598.6 998.0 1599.0 C999.5 1599.3 1001.8 1602.2 1002.5 1602.9" stroke="#45b070" stroke-width="1.3" fill="none"/><text x="703.5" y="1710.1" text-anchor="end" font-family="Liberation Sans" font-size="10.2" fill="#333">0.2</text><text x="703.5" y="1671.0" text-anchor="end" font-family="Liberation Sans" font-size="10.2" fill="#333">0.3</text><text x="703.5" y="1631.9" text-anchor="end" font-family="Liberation Sans" font-size="10.2" fill="#333">0.4</text><text x="703.5" y="1592.8" text-anchor="end" font-family="Liberation Sans" font-size="10.2" fill="#333">0.5</text><text x="703.5" y="1553.7" text-anchor="end" font-family="Liberation Sans" font-size="10.2" fill="#333">0.6</text><text x="703.5" y="1514.6" text-anchor="end" font-family="Liberation Sans" font-size="10.2" fill="#333">0.7</text><text x="703.5" y="1475.5" text-anchor="end" font-family="Liberation Sans" font-size="10.2" fill="#333">0.8</text><text x="733.7" y="1722.5" text-anchor="middle" font-family="Liberation Sans" font-size="10.2" fill="#333">400</text><text x="778.5" y="1722.5" text-anchor="middle" font-family="Liberation Sans" font-size="10.2" fill="#333">500</text><text x="823.3" y="1722.5" text-anchor="middle" font-family="Liberation Sans" font-size="10.2" fill="#333">600</text><text x="868.1" y="1722.5" text-anchor="middle" font-family="Liberation Sans" font-size="10.2" fill="#333">700</text><text x="912.9" y="1722.5" text-anchor="middle" font-family="Liberation Sans" font-size="10.2" fill="#333">800</text><text x="957.7" y="1722.5" text-anchor="middle" font-family="Liberation Sans" font-size="10.2" fill="#333">900</text><text x="1002.5" y="1722.5" text-anchor="middle" font-family="Liberation Sans" font-size="10.2" fill="#333">1000</text><text x="857" y="1740.6" text-anchor="middle" font-family="Liberation Sans" font-size="12.4" fill="#333">Wavelength (nm)</text><text transform="translate(676 1582.6) rotate(-90)" text-anchor="middle" font-family="Liberation Sans" font-size="11.4" fill="#333">Absorbance</text><rect x="745.7" y="1469.8" width="66.7" height="44.6" fill="#fff" stroke="#bbb" stroke-width="1.2"/><path d="M747 1476.0H767" stroke="#4a4a4a" stroke-width="1.5"/><text x="769.5" y="1479.2" font-family="Liberation Sans" font-size="8.6" fill="#555">GNR</text><path d="M747 1487.1H767" stroke="#e0484c" stroke-width="1.5"/><text x="769.5" y="1490.3" font-family="Liberation Sans" font-size="8.6" fill="#555">GM</text><path d="M747 1498.2H767" stroke="#3575d0" stroke-width="1.5"/><text x="769.5" y="1501.4" font-family="Liberation Sans" font-size="8.6" fill="#555">(GM)L</text><path d="M747 1509.3H767" stroke="#45b070" stroke-width="1.5"/><text x="769.5" y="1512.5" font-family="Liberation Sans" font-size="8.6" fill="#555">(GM)L-Glu</text></svg>
<div class="abs" style="left:720px;top:1794px;width:1.5px;height:6px;background:#444"></div><div class="abs" style="left:1085.0px;top:335.0px;width:993.0px;height:49.0px;background:#2b93fe;"></div>
<div class="t" style="left:1581.1px;top:344.2px;font-size:33.4px;font-weight:bold;color:#fff;transform:translateX(-50%);">Photothermal Studies &amp; NIR Triggered Drug Release</div>
<div class="box" style="left:1082px;top:389px;width:996px;height:851px;"></div>
<svg style="left:0;top:0" width="2200" height="850"><defs><linearGradient id="lmL" x1="0" y1="0" x2="1" y2="1"><stop offset="0" stop-color="#2f62c8"/><stop offset="0.35" stop-color="#9fe0ff"/><stop offset="0.7" stop-color="#5f9df0"/><stop offset="1" stop-color="#3d6cc6"/></linearGradient><linearGradient id="lmR" x1="0" y1="0" x2="1" y2="0.9"><stop offset="0" stop-color="#15264e"/><stop offset="0.5" stop-color="#1f3563"/><stop offset="1" stop-color="#2a4378"/></linearGradient><linearGradient id="lmF" x1="0.2" y1="0" x2="0.8" y2="1"><stop offset="0" stop-color="#3c66b8"/><stop offset="0.5" stop-color="#4675c8"/><stop offset="1" stop-color="#3f6cc0"/></linearGradient><linearGradient id="lens" x1="0" y1="0" x2="1" y2="0"><stop offset="0" stop-color="#d0d2d6"/><stop offset="0.3" stop-color="#e6ecf4"/><stop offset="0.8" stop-color="#e9e9ec"/><stop offset="1" stop-color="#c8c8cc"/></linearGradient><linearGradient id="cen" x1="0" y1="0" x2="0" y2="1"><stop offset="0" stop-color="#a9a885"/><stop offset="1" stop-color="#bdbb95"/></linearGradient></defs><path d="M1236 464 Q1236 474 1246 480 L1361.5 547.4 L1452 493.5 Q1462 488 1461.5 479 L1361.5 538.5Z" fill="#3761b4"/><polygon points="1336.5,405.5 1461.5,479 1361.5,538.5 1236,464" fill="url(#lmF)"/><polygon points="1336.5,405.5 1336.5,455.6 1278.6,489.3 1236,464" fill="url(#lmL)"/><polygon points="1336.5,405.5 1461.5,479 1419.1,504.2 1336.5,455.6" fill="url(#lmR)"/><polygon points="1336.5,455.6 1419.1,504.2 1399,516.2 1336.5,479.5" fill="#2b4a8c" opacity="0.5"/><ellipse cx="1376.7" cy="451.3" rx="16.4" ry="12" fill="#f9b90f"/><ellipse cx="1376.7" cy="451.8" rx="6.3" ry="4.6" fill="#f0101c"/><ellipse cx="1437.4" cy="475.8" rx="16.4" ry="12" fill="#f9b90f"/><ellipse cx="1437.4" cy="476.3" rx="6.3" ry="4.6" fill="#f0101c"/><ellipse cx="1349.1" cy="504.4" rx="16.4" ry="12" fill="#0eb04c"/><ellipse cx="1349.1" cy="504.9" rx="6.3" ry="4.6" fill="#f0101c"/><path d="M1302.8 540.1 L1338.2 513.4" stroke="#7a6a20" stroke-width="6.2"/><path d="M1302.8 540.1 L1338.2 513.4" stroke="#f4ba14" stroke-width="4.4"/><path d="M1376.7 451 V432.2 H1479.2 V528.2 H1562" stroke="#4472c4" stroke-width="4.4" fill="none"/><polygon points="1561,521.5 1573.4,528.2 1561,535" fill="#4472c4"/><path d="M1437.4 475 V457.5 H1787.8 V487" stroke="#4472c4" stroke-width="4.4" fill="none"/><polygon points="1781.5,486 1794.2,486 1787.8,497.6" fill="#4472c4"/><path d="M1349 671.5 H1530.4 V726.9 H1783.6 V724" stroke="#4472c4" stroke-width="4.4" fill="none"/><polygon points="1777.2,726 1790,726 1783.6,713.8" fill="#4472c4"/><path d="M1348.8 504 L1348.4 606" stroke="#e0283c" stroke-width="3.6"/><path d="M1311.7 607 V614.5 A36 6.3 0 0 0 1383.6 614.5 V607Z" fill="url(#lens)"/><ellipse cx="1347.7" cy="607" rx="36" ry="6.3" fill="#b8b8ba"/><path d="M1348.6 600 V607" stroke="#e0283c" stroke-width="3.6"/><path d="M1294 655.8 L1596 658.3 Q1599.5 658.3 1600 661 L1616 788 Q1616.3 791.8 1612 791.8 L1311 790.3 Q1307.8 790.3 1307.3 787 L1290.5 659.5 Q1290.3 655.8 1294 655.8Z" fill="#e3e7fc"/><path d="M1298 660.5 L1592 662.8 L1609 786.5 L1314 785.3Z" fill="#e8ebfd" stroke="#d9ddf6" stroke-width="1.5"/><ellipse cx="1325.3" cy="676.0" rx="8.6" ry="5" fill="#eaedfe" stroke="#d4d8f2" stroke-width="1.5"/><ellipse cx="1347.6" cy="676.0" rx="8.6" ry="5" fill="#eaedfe" stroke="#d4d8f2" stroke-width="1.5"/><ellipse cx="1369.8" cy="676.0" rx="8.6" ry="5" fill="#eaedfe" stroke="#d4d8f2" stroke-width="1.5"/><ellipse cx="1392.1" cy="676.0" rx="8.6" ry="5" fill="#eaedfe" stroke="#d4d8f2" stroke-width="1.5"/><ellipse cx="1414.3" cy="676.0" rx="8.6" ry="5" fill="#eaedfe" stroke="#d4d8f2" stroke-width="1.5"/><ellipse cx="1436.6" cy="676.0" rx="8.6" ry="5" fill="#eaedfe" stroke="#d4d8f2" stroke-width="1.5"/><ellipse cx="1458.9" cy="676.0" rx="8.6" ry="5" fill="#eaedfe" stroke="#d4d8f2" stroke-width="1.5"/><ellipse cx="1481.1" cy="676.0" rx="8.6" ry="5" fill="#eaedfe" stroke="#d4d8f2" stroke-width="1.5"/><ellipse cx="1503.4" cy="676.0" rx="8.6" ry="5" fill="#eaedfe" stroke="#d4d8f2" stroke-width="1.5"/><ellipse cx="1525.6" cy="676.0" rx="8.6" ry="5" fill="#eaedfe" stroke="#d4d8f2" stroke-width="1.5"/><ellipse cx="1547.9" cy="676.0" rx="8.6" ry="5" fill="#eaedfe" stroke="#d4d8f2" stroke-width="1.5"/><ellipse cx="1570.2" cy="676.0" rx="8.6" ry="5" fill="#eaedfe" stroke="#d4d8f2" stroke-width="1.5"/><ellipse cx="1327.1" cy="690.0" rx="8.6" ry="5" fill="#eaedfe" stroke="#d4d8f2" stroke-width="1.5"/><ellipse cx="1349.4" cy="690.0" rx="8.6" ry="5" fill="#eaedfe" stroke="#d4d8f2" stroke-width="1.5"/><ellipse cx="1371.7" cy="690.0" rx="8.6" ry="5" fill="#eaedfe" stroke="#d4d8f2" stroke-width="1.5"/><ellipse cx="1393.9" cy="690.0" rx="8.6" ry="5" fill="#eaedfe" stroke="#d4d8f2" stroke-width="1.5"/><ellipse cx="1416.2" cy="690.0" rx="8.6" ry="5" fill="#eaedfe" stroke="#d4d8f2" stroke-width="1.5"/><ellipse cx="1438.4" cy="690.0" rx="8.6" ry="5" fill="#eaedfe" stroke="#d4d8f2" stroke-width="1.5"/><ellipse cx="1460.7" cy="690.0" rx="8.6" ry="5" fill="#eaedfe" stroke="#d4d8f2" stroke-width="1.5"/><ellipse cx="1483.0" cy="690.0" rx="8.6" ry="5" fill="#eaedfe" stroke="#d4d8f2" stroke-width="1.5"/><ellipse cx="1505.2" cy="690.0" rx="8.6" ry="5" fill="#eaedfe" stroke="#d4d8f2" stroke-width="1.5"/><ellipse cx="1527.5" cy="690.0" rx="8.6" ry="5" fill="#eaedfe" stroke="#d4d8f2" stroke-width="1.5"/><ellipse cx="1549.7" cy="690.0" rx="8.6" ry="5" fill="#eaedfe" stroke="#d4d8f2" stroke-width="1.5"/><ellipse cx="1572.0" cy="690.0" rx="8.6" ry="5" fill="#eaedfe" stroke="#d4d8f2" stroke-width="1.5"/><ellipse cx="1329.0" cy="704.0" rx="8.6" ry="5" fill="#eaedfe" stroke="#d4d8f2" stroke-width="1.5"/><ellipse cx="1351.2" cy="704.0" rx="8.6" ry="5" fill="#eaedfe" stroke="#d4d8f2" stroke-width="1.5"/><ellipse cx="1373.5" cy="704.0" rx="8.6" ry="5" fill="#eaedfe" stroke="#d4d8f2" stroke-width="1.5"/><ellipse cx="1395.8" cy="704.0" rx="8.6" ry="5" fill="#eaedfe" stroke="#d4d8f2" stroke-width="1.5"/><ellipse cx="1418.0" cy="704.0" rx="8.6" ry="5" fill="#eaedfe" stroke="#d4d8f2" stroke-width="1.5"/><ellipse cx="1440.3" cy="704.0" rx="8.6" ry="5" fill="#eaedfe" stroke="#d4d8f2" stroke-width="1.5"/><ellipse cx="1462.5" cy="704.0" rx="8.6" ry="5" fill="#eaedfe" stroke="#d4d8f2" stroke-width="1.5"/><ellipse cx="1484.8" cy="704.0" rx="8.6" ry="5" fill="#eaedfe" stroke="#d4d8f2" stroke-width="1.5"/><ellipse cx="1507.1" cy="704.0" rx="8.6" ry="5" fill="#eaedfe" stroke="#d4d8f2" stroke-width="1.5"/><ellipse cx="1529.3" cy="704.0" rx="8.6" ry="5" fill="#eaedfe" stroke="#d4d8f2" stroke-width="1.5"/><ellipse cx="1551.6" cy="704.0" rx="8.6" ry="5" fill="#eaedfe" stroke="#d4d8f2" stroke-width="1.5"/><ellipse cx="1573.8" cy="704.0" rx="8.6" ry="5" fill="#eaedfe" stroke="#d4d8f2" stroke-width="1.5"/><ellipse cx="1330.8" cy="718.0" rx="8.6" ry="5" fill="#eaedfe" stroke="#d4d8f2" stroke-width="1.5"/><ellipse cx="1353.1" cy="718.0" rx="8.6" ry="5" fill="#eaedfe" stroke="#d4d8f2" stroke-width="1.5"/><ellipse cx="1375.3" cy="718.0" rx="8.6" ry="5" fill="#eaedfe" stroke="#d4d8f2" stroke-width="1.5"/><ellipse cx="1397.6" cy="718.0" rx="8.6" ry="5" fill="#eaedfe" stroke="#d4d8f2" stroke-width="1.5"/><ellipse cx="1419.9" cy="718.0" rx="8.6" ry="5" fill="#eaedfe" stroke="#d4d8f2" stroke-width="1.5"/><ellipse cx="1442.1" cy="718.0" rx="8.6" ry="5" fill="#eaedfe" stroke="#d4d8f2" stroke-width="1.5"/><ellipse cx="1464.4" cy="718.0" rx="8.6" ry="5" fill="#eaedfe" stroke="#d4d8f2" stroke-width="1.5"/><ellipse cx="1486.6" cy="718.0" rx="8.6" ry="5" fill="#eaedfe" stroke="#d4d8f2" stroke-width="1.5"/><ellipse cx="1508.9" cy="718.0" rx="8.6" ry="5" fill="#eaedfe" stroke="#d4d8f2" stroke-width="1.5"/><ellipse cx="1531.2" cy="718.0" rx="8.6" ry="5" fill="#eaedfe" stroke="#d4d8f2" stroke-width="1.5"/><ellipse cx="1553.4" cy="718.0" rx="8.6" ry="5" fill="#eaedfe" stroke="#d4d8f2" stroke-width="1.5"/><ellipse cx="1575.7" cy="718.0" rx="8.6" ry="5" fill="#eaedfe" stroke="#d4d8f2" stroke-width="1.5"/><ellipse cx="1332.7" cy="732.0" rx="8.6" ry="5" fill="#eaedfe" stroke="#d4d8f2" stroke-width="1.5"/><ellipse cx="1354.9" cy="732.0" rx="8.6" ry="5" fill="#eaedfe" stroke="#d4d8f2" stroke-width="1.5"/><ellipse cx="1377.2" cy="732.0" rx="8.6" ry="5" fill="#eaedfe" stroke="#d4d8f2" stroke-width="1.5"/><ellipse cx="1399.4" cy="732.0" rx="8.6" ry="5" fill="#eaedfe" stroke="#d4d8f2" stroke-width="1.5"/><ellipse cx="1421.7" cy="732.0" rx="8.6" ry="5" fill="#eaedfe" stroke="#d4d8f2" stroke-width="1.5"/><ellipse cx="1444.0" cy="732.0" rx="8.6" ry="5" fill="#eaedfe" stroke="#d4d8f2" stroke-width="1.5"/><ellipse cx="1466.2" cy="732.0" rx="8.6" ry="5" fill="#eaedfe" stroke="#d4d8f2" stroke-width="1.5"/><ellipse cx="1488.5" cy="732.0" rx="8.6" ry="5" fill="#eaedfe" stroke="#d4d8f2" stroke-width="1.5"/><ellipse cx="1510.7" cy="732.0" rx="8.6" ry="5" fill="#eaedfe" stroke="#d4d8f2" stroke-width="1.5"/><ellipse cx="1533.0" cy="732.0" rx="8.6" ry="5" fill="#eaedfe" stroke="#d4d8f2" stroke-width="1.5"/><ellipse cx="1555.3" cy="732.0" rx="8.6" ry="5" fill="#eaedfe" stroke="#d4d8f2" stroke-width="1.5"/><ellipse cx="1577.5" cy="732.0" rx="8.6" ry="5" fill="#eaedfe" stroke="#d4d8f2" stroke-width="1.5"/><ellipse cx="1334.5" cy="746.0" rx="8.6" ry="5" fill="#eaedfe" stroke="#d4d8f2" stroke-width="1.5"/><ellipse cx="1356.8" cy="746.0" rx="8.6" ry="5" fill="#eaedfe" stroke="#d4d8f2" stroke-width="1.5"/><ellipse cx="1379.0" cy="746.0" rx="8.6" ry="5" fill="#eaedfe" stroke="#d4d8f2" stroke-width="1.5"/><ellipse cx="1401.3" cy="746.0" rx="8.6" ry="5" fill="#eaedfe" stroke="#d4d8f2" stroke-width="1.5"/><ellipse cx="1423.5" cy="746.0" rx="8.6" ry="5" fill="#eaedfe" stroke="#d4d8f2" stroke-width="1.5"/><ellipse cx="1445.8" cy="746.0" rx="8.6" ry="5" fill="#eaedfe" stroke="#d4d8f2" stroke-width="1.5"/><ellipse cx="1468.1" cy="746.0" rx="8.6" ry="5" fill="#eaedfe" stroke="#d4d8f2" stroke-width="1.5"/><ellipse cx="1490.3" cy="746.0" rx="8.6" ry="5" fill="#eaedfe" stroke="#d4d8f2" stroke-width="1.5"/><ellipse cx="1512.6" cy="746.0" rx="8.6" ry="5" fill="#eaedfe" stroke="#d4d8f2" stroke-width="1.5"/><ellipse cx="1534.8" cy="746.0" rx="8.6" ry="5" fill="#eaedfe" stroke="#d4d8f2" stroke-width="1.5"/><ellipse cx="1557.1" cy="746.0" rx="8.6" ry="5" fill="#eaedfe" stroke="#d4d8f2" stroke-width="1.5"/><ellipse cx="1579.4" cy="746.0" rx="8.6" ry="5" fill="#eaedfe" stroke="#d4d8f2" stroke-width="1.5"/><ellipse cx="1336.3" cy="760.0" rx="8.6" ry="5" fill="#eaedfe" stroke="#d4d8f2" stroke-width="1.5"/><ellipse cx="1358.6" cy="760.0" rx="8.6" ry="5" fill="#eaedfe" stroke="#d4d8f2" stroke-width="1.5"/><ellipse cx="1380.9" cy="760.0" rx="8.6" ry="5" fill="#eaedfe" stroke="#d4d8f2" stroke-width="1.5"/><ellipse cx="1403.1" cy="760.0" rx="8.6" ry="5" fill="#eaedfe" stroke="#d4d8f2" stroke-width="1.5"/><ellipse cx="1425.4" cy="760.0" rx="8.6" ry="5" fill="#eaedfe" stroke="#d4d8f2" stroke-width="1.5"/><ellipse cx="1447.6" cy="760.0" rx="8.6" ry="5" fill="#eaedfe" stroke="#d4d8f2" stroke-width="1.5"/><ellipse cx="1469.9" cy="760.0" rx="8.6" ry="5" fill="#eaedfe" stroke="#d4d8f2" stroke-width="1.5"/><ellipse cx="1492.2" cy="760.0" rx="8.6" ry="5" fill="#eaedfe" stroke="#d4d8f2" stroke-width="1.5"/><ellipse cx="1514.4" cy="760.0" rx="8.6" ry="5" fill="#eaedfe" stroke="#d4d8f2" stroke-width="1.5"/><ellipse cx="1536.7" cy="760.0" rx="8.6" ry="5" fill="#eaedfe" stroke="#d4d8f2" stroke-width="1.5"/><ellipse cx="1558.9" cy="760.0" rx="8.6" ry="5" fill="#eaedfe" stroke="#d4d8f2" stroke-width="1.5"/><ellipse cx="1581.2" cy="760.0" rx="8.6" ry="5" fill="#eaedfe" stroke="#d4d8f2" stroke-width="1.5"/><ellipse cx="1338.2" cy="774.0" rx="8.6" ry="5" fill="#eaedfe" stroke="#d4d8f2" stroke-width="1.5"/><ellipse cx="1360.4" cy="774.0" rx="8.6" ry="5" fill="#eaedfe" stroke="#d4d8f2" stroke-width="1.5"/><ellipse cx="1382.7" cy="774.0" rx="8.6" ry="5" fill="#eaedfe" stroke="#d4d8f2" stroke-width="1.5"/><ellipse cx="1405.0" cy="774.0" rx="8.6" ry="5" fill="#eaedfe" stroke="#d4d8f2" stroke-width="1.5"/><ellipse cx="1427.2" cy="774.0" rx="8.6" ry="5" fill="#eaedfe" stroke="#d4d8f2" stroke-width="1.5"/><ellipse cx="1449.5" cy="774.0" rx="8.6" ry="5" fill="#eaedfe" stroke="#d4d8f2" stroke-width="1.5"/><ellipse cx="1471.7" cy="774.0" rx="8.6" ry="5" fill="#eaedfe" stroke="#d4d8f2" stroke-width="1.5"/><ellipse cx="1494.0" cy="774.0" rx="8.6" ry="5" fill="#eaedfe" stroke="#d4d8f2" stroke-width="1.5"/><ellipse cx="1516.3" cy="774.0" rx="8.6" ry="5" fill="#eaedfe" stroke="#d4d8f2" stroke-width="1.5"/><ellipse cx="1538.5" cy="774.0" rx="8.6" ry="5" fill="#eaedfe" stroke="#d4d8f2" stroke-width="1.5"/><ellipse cx="1560.8" cy="774.0" rx="8.6" ry="5" fill="#eaedfe" stroke="#d4d8f2" stroke-width="1.5"/><ellipse cx="1583.0" cy="774.0" rx="8.6" ry="5" fill="#eaedfe" stroke="#d4d8f2" stroke-width="1.5"/><text x="1325.3" y="667.9" text-anchor="middle" font-family="Liberation Sans" font-size="9.8" fill="#2a2a2a" textLength="5.5" lengthAdjust="spacingAndGlyphs" transform="translate(1325.3 0) scale(1.25 1) translate(-1325.3 0)">1</text><text x="1347.5" y="667.9" text-anchor="middle" font-family="Liberation Sans" font-size="9.8" fill="#2a2a2a" textLength="5.5" lengthAdjust="spacingAndGlyphs" transform="translate(1347.5 0) scale(1.25 1) translate(-1347.5 0)">2</text><text x="1369.7" y="667.9" text-anchor="middle" font-family="Liberation Sans" font-size="9.8" fill="#2a2a2a" textLength="5.5" lengthAdjust="spacingAndGlyphs" transform="translate(1369.7 0) scale(1.25 1) translate(-1369.7 0)">3</text><text x="1391.9" y="667.9" text-anchor="middle" font-family="Liberation Sans" font-size="9.8" fill="#2a2a2a" textLength="5.5" lengthAdjust="spacingAndGlyphs" transform="translate(1391.9 0) scale(1.25 1) translate(-1391.9 0)">4</text><text x="1414.1" y="667.9" text-anchor="middle" font-family="Liberation Sans" font-size="9.8" fill="#2a2a2a" textLength="5.5" lengthAdjust="spacingAndGlyphs" transform="translate(1414.1 0) scale(1.25 1) translate(-1414.1 0)">5</text><text x="1436.3" y="667.9" text-anchor="middle" font-family="Liberation Sans" font-size="9.8" fill="#2a2a2a" textLength="5.5" lengthAdjust="spacingAndGlyphs" transform="translate(1436.3 0) scale(1.25 1) translate(-1436.3 0)">6</text><text x="1458.5" y="667.9" text-anchor="middle" font-family="Liberation Sans" font-size="9.8" fill="#2a2a2a" textLength="5.5" lengthAdjust="spacingAndGlyphs" transform="translate(1458.5 0) scale(1.25 1) translate(-1458.5 0)">7</text><text x="1480.7" y="667.9" text-anchor="middle" font-family="Liberation Sans" font-size="9.8" fill="#2a2a2a" textLength="5.5" lengthAdjust="spacingAndGlyphs" transform="translate(1480.7 0) scale(1.25 1) translate(-1480.7 0)">8</text><text x="1502.9" y="667.9" text-anchor="middle" font-family="Liberation Sans" font-size="9.8" fill="#2a2a2a" textLength="5.5" lengthAdjust="spacingAndGlyphs" transform="translate(1502.9 0) scale(1.25 1) translate(-1502.9 0)">9</text><text x="1525.1" y="667.9" text-anchor="middle" font-family="Liberation Sans" font-size="9.8" fill="#2a2a2a" textLength="12.5" lengthAdjust="spacingAndGlyphs" transform="translate(1525.1 0) scale(1.25 1) translate(-1525.1 0)">10</text><text x="1547.3" y="667.9" text-anchor="middle" font-family="Liberation Sans" font-size="9.8" fill="#2a2a2a" textLength="12.5" lengthAdjust="spacingAndGlyphs" transform="translate(1547.3 0) scale(1.25 1) translate(-1547.3 0)">11</text><text x="1569.5" y="667.9" text-anchor="middle" font-family="Liberation Sans" font-size="9.8" fill="#2a2a2a" textLength="12.5" lengthAdjust="spacingAndGlyphs" transform="translate(1569.5 0) scale(1.25 1) translate(-1569.5 0)">12</text><text x="1307.6" y="680.8" font-family="Liberation Sans" font-size="11" fill="#2a2a2a" >A</text><text x="1309.3" y="694.4" font-family="Liberation Sans" font-size="11" fill="#2a2a2a" >B</text><text x="1311.0" y="708.1" font-family="Liberation Sans" font-size="11" fill="#2a2a2a" >C</text><text x="1312.7" y="721.7" font-family="Liberation Sans" font-size="11" fill="#2a2a2a" >D</text><text x="1314.4" y="735.4" font-family="Liberation Sans" font-size="11" fill="#2a2a2a" >E</text><text x="1316.1" y="749.0" font-family="Liberation Sans" font-size="11" fill="#2a2a2a" >F</text><text x="1317.8" y="762.6" font-family="Liberation Sans" font-size="11" fill="#2a2a2a" >G</text><text x="1319.5" y="776.3" font-family="Liberation Sans" font-size="11" fill="#2a2a2a" >H</text><path d="M1349 671.5 H1530.4 V726.9 H1620" stroke="#4472c4" stroke-width="4.4" fill="none"/><path d="M1348.9 622 V674" stroke="#e8101c" stroke-width="3" stroke-dasharray="3 3"/><polygon points="1345,673.5 1352.8,673.5 1348.9,680.6" fill="#e8101c"/><polygon points="1573.5,499.3 1709.2,499.3 1693.7,511.8 1589.0,511.8" fill="#7b7d5f"/><polygon points="1573.5,499.3 1589.0,511.8 1589.0,543.9 1573.5,556.4" fill="#fbfbd7"/><polygon points="1709.2,499.3 1709.2,556.4 1693.7,543.9 1693.7,511.8" fill="#e3e9c4"/><polygon points="1573.5,556.4 1589.0,543.9 1693.7,543.9 1709.2,556.4" fill="#e8dcb8"/><rect x="1589.0" y="511.8" width="104.69999999999999" height="32.1" fill="url(#cen)"/><rect x="1573.5" y="499.3" width="135.7" height="57.1" fill="none" stroke="#7f92c4" stroke-width="1"/><polygon points="1719.6,497.9 1855.3,497.9 1839.8,510.4 1735.1,510.4" fill="#7b7d5f"/><polygon points="1719.6,497.9 1735.1,510.4 1735.1,542.9 1719.6,555.4" fill="#fbfbd7"/><polygon points="1855.3,497.9 1855.3,555.4 1839.8,542.9 1839.8,510.4" fill="#e3e9c4"/><polygon points="1719.6,555.4 1735.1,542.9 1839.8,542.9 1855.3,555.4" fill="#e8dcb8"/><rect x="1735.1" y="510.4" width="104.69999999999999" height="32.5" fill="url(#cen)"/><rect x="1719.6" y="497.9" width="135.7" height="57.5" fill="none" stroke="#7f92c4" stroke-width="1"/><circle cx="1685.4" cy="520.5" r="9.3" fill="#c9c8a8" stroke="#555" stroke-width="1"/><circle cx="1685.4" cy="520.5" r="5.766" fill="none" stroke="#666" stroke-width="0.8"/><circle cx="1685.4" cy="520.5" r="2.325" fill="#666"/><path d="M1688.2 520.5L1694.2 520.5M1687.8 521.9L1693.1 524.9M1686.8 522.9L1689.8 528.2M1685.4 523.3L1685.4 529.3M1684.0 522.9L1681.0 528.2M1683.0 521.9L1677.7 524.9M1682.6 520.5L1676.6 520.5M1683.0 519.1L1677.7 516.1M1684.0 518.1L1681.0 512.8M1685.4 517.7L1685.4 511.7M1686.8 518.1L1689.8 512.8M1687.8 519.1L1693.1 516.1" stroke="#555" stroke-width="0.7"/><circle cx="1827" cy="519.3" r="9.3" fill="#c9c8a8" stroke="#555" stroke-width="1"/><circle cx="1827" cy="519.3" r="5.766" fill="none" stroke="#666" stroke-width="0.8"/><circle cx="1827" cy="519.3" r="2.325" fill="#666"/><path d="M1829.8 519.3L1835.8 519.3M1829.4 520.7L1834.7 523.7M1828.4 521.7L1831.4 527.0M1827.0 522.1L1827.0 528.1M1825.6 521.7L1822.6 527.0M1824.6 520.7L1819.3 523.7M1824.2 519.3L1818.2 519.3M1824.6 517.9L1819.3 514.9M1825.6 516.9L1822.6 511.6M1827.0 516.5L1827.0 510.5M1828.4 516.9L1831.4 511.6M1829.4 517.9L1834.7 514.9" stroke="#555" stroke-width="0.7"/><polygon points="1729.9,568.3 1836.5,568.3 1821.8,583.0 1744.6000000000001,583.0" fill="#fbe611"/><polygon points="1729.9,568.3 1744.6000000000001,583.0 1744.6000000000001,697.8 1729.9,712.5" fill="#efc216"/><polygon points="1836.5,568.3 1836.5,712.5 1821.8,697.8 1821.8,583.0" fill="#796a12"/><polygon points="1729.9,712.5 1744.6000000000001,697.8 1821.8,697.8 1836.5,712.5" fill="#ead52c"/><rect x="1744.6000000000001" y="583.0" width="77.19999999999999" height="114.79999999999998" fill="#b5991b"/><rect x="1729.9" y="568.3" width="106.6" height="144.2" fill="none" stroke="#9a8520" stroke-width="1"/></svg>
<div class="t" style="left:1592.4px;top:512.7px;font-size:14.4px;color:#222;font-family:'Liberation Serif',serif;">Laser</div>
<div class="t" style="left:1592.4px;top:529.1px;font-size:14.4px;color:#222;font-family:'Liberation Serif',serif;">diode controller</div>
<div class="t" style="left:1742.0px;top:511.9px;font-size:14.4px;color:#222;font-family:'Liberation Serif',serif;">Temperature</div>
<div class="t" style="left:1742.0px;top:528.6px;font-size:14.4px;color:#222;font-family:'Liberation Serif',serif;">diode controller</div>
<div class="t" style="left:1786.4px;top:614.2px;font-size:14.4px;color:#2a2208;font-family:'Liberation Serif',serif;transform:translateX(-50%);">Thermocouple</div>
<div class="t" style="left:1786.4px;top:631.4px;font-size:14.4px;color:#2a2208;font-family:'Liberation Serif',serif;transform:translateX(-50%);">monitor</div>
<div class="t" style="left:1293.3px;top:540.5px;font-size:14.4px;font-weight:bold;color:#1a1a1a;font-family:'Liberation Serif',serif;transform:translateX(-50%);">808 nm</div>
<div class="t" style="left:1296.0px;top:557.9px;font-size:14.4px;font-weight:bold;color:#1a1a1a;font-family:'Liberation Serif',serif;transform:translateX(-50%);">laser diode</div>
<div class="t" style="left:1399.0px;top:596.7px;font-size:14.4px;font-weight:bold;color:#1a1a1a;font-family:'Liberation Serif',serif;">25mm objective lens</div>
<div class="t" style="left:1263px;top:463px;font-size:14.4px;font-weight:bold;font-family:'Liberation Serif',serif;color:#14203c;transform:rotate(-30.5deg);transform-origin:0 100%;">Laser mount</div>
<div class="t" style="left:1111.2px;top:804.9px;font-size:14.8px;font-weight:bold;color:#111;">Scheme 2: Laser setup for photothermal studies.</div>
<div class="t" style="left:1115.8px;top:867.9px;font-size:22px;font-weight:bold;">A.</div>
<div class="t" style="left:1594.8px;top:867.1px;font-size:22px;font-weight:bold;">B.</div>
<svg style="left:0;top:0" width="2200" height="1300"><path d="M1194 891.6V1158.3H1524" stroke="#333" stroke-width="1.4" fill="none"/><path d="M1187.5 1158.3H1194M1187.5 1128.7H1194M1187.5 1099.0H1194M1187.5 1069.4H1194M1187.5 1039.8H1194M1187.5 1010.1H1194M1187.5 980.5H1194M1187.5 950.9H1194M1187.5 921.2H1194M1187.5 891.6H1194M1190.5 1143.5H1194M1190.5 1113.8H1194M1190.5 1084.2H1194M1190.5 1054.6H1194M1190.5 1024.9H1194M1190.5 995.3H1194M1190.5 965.7H1194M1190.5 936.0H1194M1190.5 906.4H1194M1194.0 1158.3v5.5M1232.8 1158.3v5.5M1271.6 1158.3v5.5M1310.3 1158.3v5.5M1349.1 1158.3v5.5M1387.9 1158.3v5.5M1426.7 1158.3v5.5M1465.5 1158.3v5.5M1504.2 1158.3v5.5M1213.4 1158.3v3M1252.2 1158.3v3M1291.0 1158.3v3M1329.7 1158.3v3M1368.5 1158.3v3M1407.3 1158.3v3M1446.1 1158.3v3M1484.8 1158.3v3" stroke="#333" stroke-width="1.3" fill="none"/><polyline points="1194.0,1123.9 1213.4,1094.3 1232.8,1051.6 1252.2,1014.3 1271.6,987.0 1291.0,966.9 1310.3,952.0 1329.7,942.0 1349.1,934.3 1368.5,930.7 1387.9,928.9 1407.3,928.3 1426.7,927.1 1446.1,926.6 1465.5,926.0 1484.8,925.4" fill="none" stroke="#aaaaaa" stroke-width="1.1"/><path d="M1194.0 1121.0V1126.9M1191.7 1121.0h4.6M1191.7 1126.9h4.6M1213.4 1088.4V1100.2M1211.1 1088.4h4.6M1211.1 1100.2h4.6M1232.8 1044.5V1058.7M1230.5 1044.5h4.6M1230.5 1058.7h4.6M1252.2 1007.2V1021.4M1249.9 1007.2h4.6M1249.9 1021.4h4.6M1271.6 981.1V992.9M1269.3 981.1h4.6M1269.3 992.9h4.6M1291.0 959.2V974.6M1288.7 959.2h4.6M1288.7 974.6h4.6M1310.3 942.6V961.5M1308.0 942.6h4.6M1308.0 961.5h4.6M1329.7 931.9V952.0M1327.4 931.9h4.6M1327.4 952.0h4.6M1349.1 927.7V940.8M1346.8 927.7h4.6M1346.8 940.8h4.6M1368.5 922.4V939.0M1366.2 922.4h4.6M1366.2 939.0h4.6M1387.9 919.4V938.4M1385.6 919.4h4.6M1385.6 938.4h4.6M1407.3 919.4V937.2M1405.0 919.4h4.6M1405.0 937.2h4.6M1426.7 917.1V937.2M1424.4 917.1h4.6M1424.4 937.2h4.6M1446.1 914.1V939.0M1443.8 914.1h4.6M1443.8 939.0h4.6M1465.5 915.3V936.6M1463.2 915.3h4.6M1463.2 936.6h4.6M1484.8 913.5V937.2M1482.5 913.5h4.6M1482.5 937.2h4.6" stroke="#aaaaaa" stroke-width="1" fill="none"/><rect x="1190.9" y="1120.8" width="6.2" height="6.2" fill="#3c3c3c"/><rect x="1210.3" y="1091.2" width="6.2" height="6.2" fill="#3c3c3c"/><rect x="1229.7" y="1048.5" width="6.2" height="6.2" fill="#3c3c3c"/><rect x="1249.1" y="1011.2" width="6.2" height="6.2" fill="#3c3c3c"/><rect x="1268.5" y="983.9" width="6.2" height="6.2" fill="#3c3c3c"/><rect x="1287.9" y="963.8" width="6.2" height="6.2" fill="#3c3c3c"/><rect x="1307.2" y="948.9" width="6.2" height="6.2" fill="#3c3c3c"/><rect x="1326.6" y="938.9" width="6.2" height="6.2" fill="#3c3c3c"/><rect x="1346.0" y="931.2" width="6.2" height="6.2" fill="#3c3c3c"/><rect x="1365.4" y="927.6" width="6.2" height="6.2" fill="#3c3c3c"/><rect x="1384.8" y="925.8" width="6.2" height="6.2" fill="#3c3c3c"/><rect x="1404.2" y="925.2" width="6.2" height="6.2" fill="#3c3c3c"/><rect x="1423.6" y="924.0" width="6.2" height="6.2" fill="#3c3c3c"/><rect x="1443.0" y="923.5" width="6.2" height="6.2" fill="#3c3c3c"/><rect x="1462.4" y="922.9" width="6.2" height="6.2" fill="#3c3c3c"/><rect x="1481.8" y="922.3" width="6.2" height="6.2" fill="#3c3c3c"/><polyline points="1194.0,1120.4 1213.4,1099.0 1232.8,1066.4 1252.2,1039.8 1271.6,1016.1 1291.0,1004.2 1310.3,993.5 1329.7,984.0 1349.1,977.5 1368.5,972.8 1387.9,969.2 1407.3,966.3 1426.7,963.9 1446.1,962.1 1465.5,960.3 1484.8,959.7" fill="none" stroke="#f4a9a6" stroke-width="1.1"/><path d="M1194.0 1117.4V1123.3M1191.7 1117.4h4.6M1191.7 1123.3h4.6M1213.4 1094.3V1103.8M1211.1 1094.3h4.6M1211.1 1103.8h4.6M1232.8 1060.5V1072.4M1230.5 1060.5h4.6M1230.5 1072.4h4.6M1252.2 1035.0V1044.5M1249.9 1035.0h4.6M1249.9 1044.5h4.6M1271.6 1010.1V1022.0M1269.3 1010.1h4.6M1269.3 1022.0h4.6M1291.0 999.5V1008.9M1288.7 999.5h4.6M1288.7 1008.9h4.6M1310.3 986.4V1000.6M1308.0 986.4h4.6M1308.0 1000.6h4.6M1329.7 978.1V990.0M1327.4 978.1h4.6M1327.4 990.0h4.6M1349.1 971.0V984.0M1346.8 971.0h4.6M1346.8 984.0h4.6M1368.5 966.9V978.7M1366.2 966.9h4.6M1366.2 978.7h4.6M1387.9 962.7V975.7M1385.6 962.7h4.6M1385.6 975.7h4.6M1407.3 959.2V973.4M1405.0 959.2h4.6M1405.0 973.4h4.6M1426.7 957.4V970.4M1424.4 957.4h4.6M1424.4 970.4h4.6M1446.1 954.4V969.8M1443.8 954.4h4.6M1443.8 969.8h4.6M1465.5 953.8V966.9M1463.2 953.8h4.6M1463.2 966.9h4.6M1484.8 953.8V965.7M1482.5 953.8h4.6M1482.5 965.7h4.6" stroke="#f4a9a6" stroke-width="1" fill="none"/><circle cx="1194.0" cy="1120.4" r="3.1" fill="#e8403c"/><circle cx="1213.4" cy="1099.0" r="3.1" fill="#e8403c"/><circle cx="1232.8" cy="1066.4" r="3.1" fill="#e8403c"/><circle cx="1252.2" cy="1039.8" r="3.1" fill="#e8403c"/><circle cx="1271.6" cy="1016.1" r="3.1" fill="#e8403c"/><circle cx="1291.0" cy="1004.2" r="3.1" fill="#e8403c"/><circle cx="1310.3" cy="993.5" r="3.1" fill="#e8403c"/><circle cx="1329.7" cy="984.0" r="3.1" fill="#e8403c"/><circle cx="1349.1" cy="977.5" r="3.1" fill="#e8403c"/><circle cx="1368.5" cy="972.8" r="3.1" fill="#e8403c"/><circle cx="1387.9" cy="969.2" r="3.1" fill="#e8403c"/><circle cx="1407.3" cy="966.3" r="3.1" fill="#e8403c"/><circle cx="1426.7" cy="963.9" r="3.1" fill="#e8403c"/><circle cx="1446.1" cy="962.1" r="3.1" fill="#e8403c"/><circle cx="1465.5" cy="960.3" r="3.1" fill="#e8403c"/><circle cx="1484.8" cy="959.7" r="3.1" fill="#e8403c"/><polyline points="1194.0,1124.5 1213.4,1102.0 1232.8,1075.3 1252.2,1044.5 1271.6,1027.9 1291.0,1017.2 1310.3,1008.3 1329.7,1003.0 1349.1,995.9 1368.5,991.8 1387.9,988.2 1407.3,983.5 1426.7,981.1 1446.1,978.7 1465.5,976.9 1484.8,975.7" fill="none" stroke="#a5c4ee" stroke-width="1.1"/><path d="M1194.0 1121.6V1127.5M1191.7 1121.6h4.6M1191.7 1127.5h4.6M1213.4 1097.3V1106.7M1211.1 1097.3h4.6M1211.1 1106.7h4.6M1232.8 1069.4V1081.2M1230.5 1069.4h4.6M1230.5 1081.2h4.6M1252.2 1039.8V1049.2M1249.9 1039.8h4.6M1249.9 1049.2h4.6M1271.6 1023.2V1032.6M1269.3 1023.2h4.6M1269.3 1032.6h4.6M1291.0 1012.5V1022.0M1288.7 1012.5h4.6M1288.7 1022.0h4.6M1310.3 1002.4V1014.3M1308.0 1002.4h4.6M1308.0 1014.3h4.6M1329.7 998.3V1007.8M1327.4 998.3h4.6M1327.4 1007.8h4.6M1349.1 989.4V1002.4M1346.8 989.4h4.6M1346.8 1002.4h4.6M1368.5 985.8V997.7M1366.2 985.8h4.6M1366.2 997.7h4.6M1387.9 980.5V995.9M1385.6 980.5h4.6M1385.6 995.9h4.6M1407.3 978.7V988.2M1405.0 978.7h4.6M1405.0 988.2h4.6M1426.7 976.3V985.8M1424.4 976.3h4.6M1424.4 985.8h4.6M1446.1 972.8V984.6M1443.8 972.8h4.6M1443.8 984.6h4.6M1465.5 970.4V983.5M1463.2 970.4h4.6M1463.2 983.5h4.6M1484.8 970.4V981.1M1482.5 970.4h4.6M1482.5 981.1h4.6" stroke="#a5c4ee" stroke-width="1" fill="none"/><polygon points="1194.0,1121.0 1197.4,1127.0 1190.6,1127.0" fill="#1f6ed4"/><polygon points="1213.4,1098.4 1216.8,1104.5 1210.0,1104.5" fill="#1f6ed4"/><polygon points="1232.8,1071.8 1236.2,1077.8 1229.4,1077.8" fill="#1f6ed4"/><polygon points="1252.2,1040.9 1255.6,1047.0 1248.8,1047.0" fill="#1f6ed4"/><polygon points="1271.6,1024.3 1275.0,1030.4 1268.1,1030.4" fill="#1f6ed4"/><polygon points="1291.0,1013.7 1294.4,1019.7 1287.5,1019.7" fill="#1f6ed4"/><polygon points="1310.3,1004.8 1313.8,1010.8 1306.9,1010.8" fill="#1f6ed4"/><polygon points="1329.7,999.4 1333.1,1005.5 1326.3,1005.5" fill="#1f6ed4"/><polygon points="1349.1,992.3 1352.5,998.4 1345.7,998.4" fill="#1f6ed4"/><polygon points="1368.5,988.2 1371.9,994.2 1365.1,994.2" fill="#1f6ed4"/><polygon points="1387.9,984.6 1391.3,990.7 1384.5,990.7" fill="#1f6ed4"/><polygon points="1407.3,979.9 1410.7,985.9 1403.9,985.9" fill="#1f6ed4"/><polygon points="1426.7,977.5 1430.1,983.6 1423.3,983.6" fill="#1f6ed4"/><polygon points="1446.1,975.1 1449.5,981.2 1442.7,981.2" fill="#1f6ed4"/><polygon points="1465.5,973.4 1468.9,979.4 1462.0,979.4" fill="#1f6ed4"/><polygon points="1484.8,972.2 1488.3,978.2 1481.4,978.2" fill="#1f6ed4"/><polyline points="1194.0,1126.9 1213.4,1109.7 1232.8,1080.1 1252.2,1054.6 1271.6,1038.6 1291.0,1032.6 1310.3,1025.5 1329.7,1021.4 1349.1,1014.3 1368.5,1009.5 1387.9,1007.2 1407.3,1004.8 1426.7,1003.6 1446.1,1003.0 1465.5,1001.2 1484.8,1000.0" fill="none" stroke="#a6dcbc" stroke-width="1.1"/><path d="M1194.0 1123.9V1129.9M1191.7 1123.9h4.6M1191.7 1129.9h4.6M1213.4 1103.8V1115.6M1211.1 1103.8h4.6M1211.1 1115.6h4.6M1232.8 1073.0V1087.2M1230.5 1073.0h4.6M1230.5 1087.2h4.6M1252.2 1047.5V1061.7M1249.9 1047.5h4.6M1249.9 1061.7h4.6M1271.6 1033.8V1043.3M1269.3 1033.8h4.6M1269.3 1043.3h4.6M1291.0 1026.7V1038.6M1288.7 1026.7h4.6M1288.7 1038.6h4.6M1310.3 1019.0V1032.1M1308.0 1019.0h4.6M1308.0 1032.1h4.6M1329.7 1015.5V1027.3M1327.4 1015.5h4.6M1327.4 1027.3h4.6M1349.1 1007.2V1021.4M1346.8 1007.2h4.6M1346.8 1021.4h4.6M1368.5 1002.4V1016.6M1366.2 1002.4h4.6M1366.2 1016.6h4.6M1387.9 1001.2V1013.1M1385.6 1001.2h4.6M1385.6 1013.1h4.6M1407.3 999.5V1010.1M1405.0 999.5h4.6M1405.0 1010.1h4.6M1426.7 995.9V1011.3M1424.4 995.9h4.6M1424.4 1011.3h4.6M1446.1 997.1V1008.9M1443.8 997.1h4.6M1443.8 1008.9h4.6M1465.5 994.1V1008.3M1463.2 994.1h4.6M1463.2 1008.3h4.6M1484.8 991.8V1008.3M1482.5 991.8h4.6M1482.5 1008.3h4.6" stroke="#a6dcbc" stroke-width="1" fill="none"/><polygon points="1194.0,1130.5 1197.4,1124.4 1190.6,1124.4" fill="#2eaa60"/><polygon points="1213.4,1113.3 1216.8,1107.2 1210.0,1107.2" fill="#2eaa60"/><polygon points="1232.8,1083.6 1236.2,1077.6 1229.4,1077.6" fill="#2eaa60"/><polygon points="1252.2,1058.1 1255.6,1052.1 1248.8,1052.1" fill="#2eaa60"/><polygon points="1271.6,1042.1 1275.0,1036.1 1268.1,1036.1" fill="#2eaa60"/><polygon points="1291.0,1036.2 1294.4,1030.2 1287.5,1030.2" fill="#2eaa60"/><polygon points="1310.3,1029.1 1313.8,1023.1 1306.9,1023.1" fill="#2eaa60"/><polygon points="1329.7,1025.0 1333.1,1018.9 1326.3,1018.9" fill="#2eaa60"/><polygon points="1349.1,1017.8 1352.5,1011.8 1345.7,1011.8" fill="#2eaa60"/><polygon points="1368.5,1013.1 1371.9,1007.1 1365.1,1007.1" fill="#2eaa60"/><polygon points="1387.9,1010.7 1391.3,1004.7 1384.5,1004.7" fill="#2eaa60"/><polygon points="1407.3,1008.4 1410.7,1002.3 1403.9,1002.3" fill="#2eaa60"/><polygon points="1426.7,1007.2 1430.1,1001.1 1423.3,1001.1" fill="#2eaa60"/><polygon points="1446.1,1006.6 1449.5,1000.5 1442.7,1000.5" fill="#2eaa60"/><polygon points="1465.5,1004.8 1468.9,998.8 1462.0,998.8" fill="#2eaa60"/><polygon points="1484.8,1003.6 1488.3,997.6 1481.4,997.6" fill="#2eaa60"/><polyline points="1194.0,1129.9 1213.4,1129.3 1232.8,1126.3 1252.2,1125.1 1271.6,1124.5 1291.0,1123.9 1310.3,1122.1 1329.7,1121.6 1349.1,1121.0 1368.5,1119.8 1387.9,1119.2 1407.3,1118.6 1426.7,1118.6 1446.1,1118.0 1465.5,1118.0 1484.8,1117.4" fill="none" stroke="#dcc6f2" stroke-width="1.1"/><path d="M1194.0 1127.5V1132.2M1191.7 1127.5h4.6M1191.7 1132.2h4.6M1213.4 1123.9V1134.6M1211.1 1123.9h4.6M1211.1 1134.6h4.6M1232.8 1122.7V1129.9M1230.5 1122.7h4.6M1230.5 1129.9h4.6M1252.2 1119.2V1131.0M1249.9 1119.2h4.6M1249.9 1131.0h4.6M1271.6 1118.0V1131.0M1269.3 1118.0h4.6M1269.3 1131.0h4.6M1291.0 1120.4V1127.5M1288.7 1120.4h4.6M1288.7 1127.5h4.6M1310.3 1115.6V1128.7M1308.0 1115.6h4.6M1308.0 1128.7h4.6M1329.7 1114.4V1128.7M1327.4 1114.4h4.6M1327.4 1128.7h4.6M1349.1 1115.6V1126.3M1346.8 1115.6h4.6M1346.8 1126.3h4.6M1368.5 1115.6V1123.9M1366.2 1115.6h4.6M1366.2 1123.9h4.6M1387.9 1115.6V1122.7M1385.6 1115.6h4.6M1385.6 1122.7h4.6M1407.3 1112.7V1124.5M1405.0 1112.7h4.6M1405.0 1124.5h4.6M1426.7 1112.1V1125.1M1424.4 1112.1h4.6M1424.4 1125.1h4.6M1446.1 1113.3V1122.7M1443.8 1113.3h4.6M1443.8 1122.7h4.6M1465.5 1112.1V1123.9M1463.2 1112.1h4.6M1463.2 1123.9h4.6M1484.8 1110.3V1124.5M1482.5 1110.3h4.6M1482.5 1124.5h4.6" stroke="#dcc6f2" stroke-width="1" fill="none"/><polygon points="1194.0,1126.1 1197.1,1129.9 1194.0,1133.6 1190.9,1129.9" fill="#b078e0"/><polygon points="1213.4,1125.5 1216.5,1129.3 1213.4,1133.0 1210.3,1129.3" fill="#b078e0"/><polygon points="1232.8,1122.6 1235.9,1126.3 1232.8,1130.0 1229.7,1126.3" fill="#b078e0"/><polygon points="1252.2,1121.4 1255.3,1125.1 1252.2,1128.8 1249.1,1125.1" fill="#b078e0"/><polygon points="1271.6,1120.8 1274.7,1124.5 1271.6,1128.2 1268.5,1124.5" fill="#b078e0"/><polygon points="1291.0,1120.2 1294.0,1123.9 1291.0,1127.6 1287.9,1123.9" fill="#b078e0"/><polygon points="1310.3,1118.4 1313.4,1122.1 1310.3,1125.9 1307.2,1122.1" fill="#b078e0"/><polygon points="1329.7,1117.8 1332.8,1121.6 1329.7,1125.3 1326.6,1121.6" fill="#b078e0"/><polygon points="1349.1,1117.2 1352.2,1121.0 1349.1,1124.7 1346.0,1121.0" fill="#b078e0"/><polygon points="1368.5,1116.1 1371.6,1119.8 1368.5,1123.5 1365.4,1119.8" fill="#b078e0"/><polygon points="1387.9,1115.5 1391.0,1119.2 1387.9,1122.9 1384.8,1119.2" fill="#b078e0"/><polygon points="1407.3,1114.9 1410.4,1118.6 1407.3,1122.3 1404.2,1118.6" fill="#b078e0"/><polygon points="1426.7,1114.9 1429.8,1118.6 1426.7,1122.3 1423.6,1118.6" fill="#b078e0"/><polygon points="1446.1,1114.3 1449.2,1118.0 1446.1,1121.7 1443.0,1118.0" fill="#b078e0"/><polygon points="1465.5,1114.3 1468.6,1118.0 1465.5,1121.7 1462.4,1118.0" fill="#b078e0"/><polygon points="1484.8,1113.7 1487.9,1117.4 1484.8,1121.1 1481.8,1117.4" fill="#b078e0"/><text x="1185.3" y="1162.3" text-anchor="end" font-family="Liberation Sans" font-size="11.3" fill="#333">20</text><text x="1185.3" y="1132.7" text-anchor="end" font-family="Liberation Sans" font-size="11.3" fill="#333">25</text><text x="1185.3" y="1103.0" text-anchor="end" font-family="Liberation Sans" font-size="11.3" fill="#333">30</text><text x="1185.3" y="1073.4" text-anchor="end" font-family="Liberation Sans" font-size="11.3" fill="#333">35</text><text x="1185.3" y="1043.8" text-anchor="end" font-family="Liberation Sans" font-size="11.3" fill="#333">40</text><text x="1185.3" y="1014.1" text-anchor="end" font-family="Liberation Sans" font-size="11.3" fill="#333">45</text><text x="1185.3" y="984.5" text-anchor="end" font-family="Liberation Sans" font-size="11.3" fill="#333">50</text><text x="1185.3" y="954.9" text-anchor="end" font-family="Liberation Sans" font-size="11.3" fill="#333">55</text><text x="1185.3" y="925.2" text-anchor="end" font-family="Liberation Sans" font-size="11.3" fill="#333">60</text><text x="1185.3" y="895.6" text-anchor="end" font-family="Liberation Sans" font-size="11.3" fill="#333">65</text><text x="1194.0" y="1175.7" text-anchor="middle" font-family="Liberation Sans" font-size="11.3" fill="#333">0</text><text x="1232.8" y="1175.7" text-anchor="middle" font-family="Liberation Sans" font-size="11.3" fill="#333">2</text><text x="1271.6" y="1175.7" text-anchor="middle" font-family="Liberation Sans" font-size="11.3" fill="#333">4</text><text x="1310.3" y="1175.7" text-anchor="middle" font-family="Liberation Sans" font-size="11.3" fill="#333">6</text><text x="1349.1" y="1175.7" text-anchor="middle" font-family="Liberation Sans" font-size="11.3" fill="#333">8</text><text x="1387.9" y="1175.7" text-anchor="middle" font-family="Liberation Sans" font-size="11.3" fill="#333">10</text><text x="1426.7" y="1175.7" text-anchor="middle" font-family="Liberation Sans" font-size="11.3" fill="#333">12</text><text x="1465.5" y="1175.7" text-anchor="middle" font-family="Liberation Sans" font-size="11.3" fill="#333">14</text><text x="1504.2" y="1175.7" text-anchor="middle" font-family="Liberation Sans" font-size="11.3" fill="#333">16</text><text x="1358.7" y="1196.1" text-anchor="middle" font-family="Liberation Sans" font-size="13" fill="#333">Time (min)</text><text transform="translate(1159.5 1018.6) rotate(-90)" text-anchor="middle" font-family="Liberation Sans" font-size="12.6" fill="#333">Temperature (<tspan baseline-shift="super" font-size="8.5">O</tspan>C)</text><rect x="1207.8" y="871.7" width="107.5" height="54.9" fill="#fff" stroke="#c4c4c4" stroke-width="1.2"/><path d="M1210.5 877.6H1228.5" stroke="#aaaaaa" stroke-width="1"/><rect x="1216.6" y="874.7" width="5.8" height="5.8" fill="#3c3c3c"/><text x="1231.5" y="880.6" font-family="Liberation Sans" font-size="8.2" fill="#444">1000 (µg/mL)</text><path d="M1210.5 888.8H1228.5" stroke="#f4a9a6" stroke-width="1"/><circle cx="1219.5" cy="888.8" r="2.9" fill="#e8403c"/><text x="1231.5" y="891.8" font-family="Liberation Sans" font-size="8.2" fill="#444">500 (µg/mL)</text><path d="M1210.5 899.8H1228.5" stroke="#a5c4ee" stroke-width="1"/><polygon points="1219.5,896.5 1222.7,902.1 1216.3,902.1" fill="#1f6ed4"/><text x="1231.5" y="902.8" font-family="Liberation Sans" font-size="8.2" fill="#444">100 (µg/mL)</text><path d="M1210.5 910.8H1228.5" stroke="#a6dcbc" stroke-width="1"/><polygon points="1219.5,914.1 1222.7,908.5 1216.3,908.5" fill="#2eaa60"/><text x="1231.5" y="913.8" font-family="Liberation Sans" font-size="8.2" fill="#444">50 (µg/mL)</text><path d="M1210.5 921.5H1228.5" stroke="#dcc6f2" stroke-width="1"/><polygon points="1219.5,918.0 1222.4,921.5 1219.5,925.0 1216.6,921.5" fill="#b078e0"/><text x="1231.5" y="924.5" font-family="Liberation Sans" font-size="8.2" fill="#444">10mM HEPES Buffer</text><text x="1325.5" y="881.2" font-family="Liberation Sans" font-size="13.2" fill="#e03434" textLength="178" lengthAdjust="spacingAndGlyphs">Higher conc. of NA gives 58°C</text><path d="M1387.9 888.8V909" stroke="#d42020" stroke-width="1"/><polygon points="1385.3,908 1390.5,908 1387.9,912.8" fill="#d42020"/></svg>
<svg style="left:0;top:0" width="2200" height="1300"><path d="M1660.2 856.1V1163.7H2031.6" stroke="#333" stroke-width="1.4" fill="none"/><path d="M1654 1155.4H1660.2M1654 1100.9H1660.2M1654 1046.5H1660.2M1654 992.0H1660.2M1654 937.6H1660.2M1654 883.1H1660.2M1657 1128.2H1660.2M1657 1073.7H1660.2M1657 1019.3H1660.2M1657 964.8H1660.2M1657 910.3H1660.2M1657 855.9H1660.2M1665.0 1163.7v5.5M1795.8 1163.7v5.5M1926.6 1163.7v5.5M1730.4 1163.7v3M1861.2 1163.7v3M1992.0 1163.7v3" stroke="#333" stroke-width="1.3" fill="none"/><polyline points="1665.0,1155.4 1717.3,1087.3 1769.6,1023.3 1822.0,964.8 1874.3,956.6 1926.6,953.9 1978.9,952.5" fill="none" stroke="#111" stroke-width="1.2"/><rect x="1662.3" y="1152.7" width="5.4" height="5.4" fill="#111"/><rect x="1714.6" y="1084.6" width="5.4" height="5.4" fill="#111"/><rect x="1766.9" y="1020.6" width="5.4" height="5.4" fill="#111"/><rect x="1819.3" y="962.1" width="5.4" height="5.4" fill="#111"/><rect x="1871.6" y="953.9" width="5.4" height="5.4" fill="#111"/><rect x="1923.9" y="951.2" width="5.4" height="5.4" fill="#111"/><rect x="1976.2" y="949.8" width="5.4" height="5.4" fill="#111"/><polyline points="1665.0,1155.4 1717.3,1068.3 1769.6,989.3 1822.0,910.3 1874.3,907.6 1926.6,905.7 1978.9,905.7" fill="none" stroke="#ee1c1c" stroke-width="1.2"/><circle cx="1665.0" cy="1155.4" r="2.7" fill="#ee1c1c"/><circle cx="1717.3" cy="1068.3" r="2.7" fill="#ee1c1c"/><circle cx="1769.6" cy="989.3" r="2.7" fill="#ee1c1c"/><circle cx="1822.0" cy="910.3" r="2.7" fill="#ee1c1c"/><circle cx="1874.3" cy="907.6" r="2.7" fill="#ee1c1c"/><circle cx="1926.6" cy="905.7" r="2.7" fill="#ee1c1c"/><circle cx="1978.9" cy="905.7" r="2.7" fill="#ee1c1c"/><polyline points="1665.0,1155.4 1717.3,1109.1 1769.6,1051.9 1822.0,1022.8 1874.3,1020.6 1926.6,1019.3 1978.9,1018.7" fill="none" stroke="#2222dd" stroke-width="1.2"/><polygon points="1665.0,1152.3 1668.0,1157.6 1662.0,1157.6" fill="#2222dd"/><polygon points="1717.3,1106.0 1720.3,1111.3 1714.3,1111.3" fill="#2222dd"/><polygon points="1769.6,1048.8 1772.6,1054.1 1766.7,1054.1" fill="#2222dd"/><polygon points="1822.0,1019.7 1824.9,1024.9 1819.0,1024.9" fill="#2222dd"/><polygon points="1874.3,1017.5 1877.2,1022.8 1871.3,1022.8" fill="#2222dd"/><polygon points="1926.6,1016.1 1929.6,1021.4 1923.6,1021.4" fill="#2222dd"/><polygon points="1978.9,1015.6 1981.9,1020.9 1976.0,1020.9" fill="#2222dd"/><polyline points="1665.0,1155.4 1717.3,1046.5 1769.6,929.4 1822.0,899.4 1874.3,891.3 1926.6,888.5 1978.9,888.5" fill="none" stroke="#1a9a9a" stroke-width="1.2"/><polygon points="1665.0,1158.5 1668.0,1153.2 1662.0,1153.2" fill="#1a9a9a"/><polygon points="1717.3,1049.6 1720.3,1044.3 1714.3,1044.3" fill="#1a9a9a"/><polygon points="1769.6,932.5 1772.6,927.2 1766.7,927.2" fill="#1a9a9a"/><polygon points="1822.0,902.5 1824.9,897.3 1819.0,897.3" fill="#1a9a9a"/><polygon points="1874.3,894.4 1877.2,889.1 1871.3,889.1" fill="#1a9a9a"/><polygon points="1926.6,891.7 1929.6,886.4 1923.6,886.4" fill="#1a9a9a"/><polygon points="1978.9,891.7 1981.9,886.4 1976.0,886.4" fill="#1a9a9a"/><polyline points="1665.0,1155.4 1717.3,1096.9 1769.6,1041.9 1822.0,1017.3 1874.3,1017.3 1926.6,1017.1 1978.9,1016.5" fill="none" stroke="#f030f0" stroke-width="1.2"/><polygon points="1661.9,1155.4 1667.2,1152.4 1667.2,1158.4" fill="#f030f0"/><polygon points="1714.2,1096.9 1719.5,1093.9 1719.5,1099.8" fill="#f030f0"/><polygon points="1766.5,1041.9 1771.8,1038.9 1771.8,1044.8" fill="#f030f0"/><polygon points="1818.9,1017.3 1824.1,1014.4 1824.1,1020.3" fill="#f030f0"/><polygon points="1871.2,1017.3 1876.4,1014.4 1876.4,1020.3" fill="#f030f0"/><polygon points="1923.5,1017.1 1928.8,1014.1 1928.8,1020.0" fill="#f030f0"/><polygon points="1975.8,1016.5 1981.1,1013.6 1981.1,1019.5" fill="#f030f0"/><polyline points="1665.0,1155.4 1717.3,1043.8 1769.6,922.0 1822.0,894.8 1874.3,886.6 1926.6,886.4 1978.9,886.4" fill="none" stroke="#8a8a10" stroke-width="1.2"/><polygon points="1668.1,1155.4 1662.8,1152.4 1662.8,1158.4" fill="#8a8a10"/><polygon points="1720.4,1043.8 1715.2,1040.8 1715.2,1046.7" fill="#8a8a10"/><polygon points="1772.7,922.0 1767.5,919.1 1767.5,925.0" fill="#8a8a10"/><polygon points="1825.1,894.8 1819.8,891.8 1819.8,897.8" fill="#8a8a10"/><polygon points="1877.4,886.6 1872.1,883.7 1872.1,889.6" fill="#8a8a10"/><polygon points="1929.7,886.4 1924.4,883.4 1924.4,889.3" fill="#8a8a10"/><polygon points="1982.0,886.4 1976.8,883.4 1976.8,889.3" fill="#8a8a10"/><text x="1651.5" y="1159.2" text-anchor="end" font-family="Liberation Sans" font-size="11" fill="#333">0</text><text x="1651.5" y="1104.7" text-anchor="end" font-family="Liberation Sans" font-size="11" fill="#333">20</text><text x="1651.5" y="1050.3" text-anchor="end" font-family="Liberation Sans" font-size="11" fill="#333">40</text><text x="1651.5" y="995.8" text-anchor="end" font-family="Liberation Sans" font-size="11" fill="#333">60</text><text x="1651.5" y="941.4" text-anchor="end" font-family="Liberation Sans" font-size="11" fill="#333">80</text><text x="1651.5" y="886.9" text-anchor="end" font-family="Liberation Sans" font-size="11" fill="#333">100</text><text x="1665.0" y="1183.1" text-anchor="middle" font-family="Liberation Sans" font-size="11" fill="#333">0</text><text x="1795.8" y="1183.1" text-anchor="middle" font-family="Liberation Sans" font-size="11" fill="#333">5</text><text x="1926.6" y="1183.1" text-anchor="middle" font-family="Liberation Sans" font-size="11" fill="#333">10</text><text x="1845.9" y="1204.6" text-anchor="middle" font-family="Liberation Sans" font-size="13" fill="#333">Time (h)</text><text transform="translate(1625.3 1009.5) rotate(-90)" text-anchor="middle" font-family="Liberation Sans" font-size="12.6" fill="#333">Cumulative drug release (%)</text><rect x="1805.5" y="1061.5" width="129.2" height="67" fill="#fff" stroke="#c4c4c4" stroke-width="1.2"/><path d="M1807.4 1067.9H1826.2" stroke="#111" stroke-width="1.1"/><rect x="1813.8" y="1065.4" width="5.0" height="5.0" fill="#111"/><text x="1828.9" y="1070.8000000000002" font-family="Liberation Sans" font-size="7.9" fill="#555">GM@BQ - Laser</text><path d="M1807.4 1078.7H1826.2" stroke="#ee1c1c" stroke-width="1.1"/><circle cx="1816.3" cy="1078.7" r="2.5" fill="#ee1c1c"/><text x="1828.9" y="1081.6000000000001" font-family="Liberation Sans" font-size="7.9" fill="#555">GM@BQ + Laser</text><path d="M1807.4 1090H1826.2" stroke="#2222dd" stroke-width="1.1"/><polygon points="1816.3,1087.1 1819.0,1092.0 1813.5,1092.0" fill="#2222dd"/><text x="1828.9" y="1092.9" font-family="Liberation Sans" font-size="7.9" fill="#555">(GM@BQ)@L - Laser</text><path d="M1807.4 1101H1826.2" stroke="#1a9a9a" stroke-width="1.1"/><polygon points="1816.3,1103.9 1819.0,1099.0 1813.5,1099.0" fill="#1a9a9a"/><text x="1828.9" y="1103.9" font-family="Liberation Sans" font-size="7.9" fill="#555">(GM@BQ)@L + Laser</text><path d="M1807.4 1112.3H1826.2" stroke="#f030f0" stroke-width="1.1"/><polygon points="1813.4,1112.3 1818.3,1109.5 1818.3,1115.0" fill="#f030f0"/><text x="1828.9" y="1115.2" font-family="Liberation Sans" font-size="7.9" fill="#555">(GM@BQ)@L-Glu - Laser</text><path d="M1807.4 1123.1H1826.2" stroke="#8a8a10" stroke-width="1.1"/><polygon points="1819.2,1123.1 1814.3,1120.3 1814.3,1125.8" fill="#8a8a10"/><text x="1828.9" y="1126.0" font-family="Liberation Sans" font-size="7.9" fill="#555">(GM@BQ)@L-Glu + Laser</text></svg>
<div class="t" id="fig2" style="left:1103.3px;top:1213.5px;font-size:14.3px;color:#111;word-spacing:1.3px;"><b>Figure 2:</b> (A) Photothermal properties of nano-assemblies,&nbsp; (B) NIR-triggered&nbsp; drug release studies using 808 nm laser, 15 min, 500 mW</div>
<div class="abs" style="left:1085.0px;top:1257.0px;width:993.0px;height:47.0px;background:#2b93fe;"></div>
<div class="t" style="left:1581.5px;top:1264.9px;font-size:33.4px;font-weight:bold;color:#fff;transform:translateX(-50%);">Targeting Efficiency of Nano-assembly</div>
<div class="box" style="left:1082px;top:1310px;width:998px;height:520px;"></div>
<svg style="left:1223.3px;top:1352.9px;overflow:hidden" width="150.8" height="133.0" viewBox="0 0 150.8 133.0"><rect width="150.8" height="133.0" fill="#000"/><ellipse cx="130.0" cy="73.0" rx="5.0" ry="7.0" fill="#1c1cb8" filter="url(#b2)" opacity="0.8"/><ellipse cx="70.0" cy="95.0" rx="3.0" ry="3.0" fill="#0a0a50" filter="url(#b2)" opacity="0.6"/><path d="M110.3 121.8H138.3" stroke="#d8d8d8" stroke-width="1.1"/></svg>
<svg style="left:1375.8px;top:1352.9px;overflow:hidden" width="151.2" height="133.0" viewBox="0 0 151.2 133.0"><rect width="151.2" height="133.0" fill="#01010a"/><ellipse cx="75.0" cy="66.0" rx="80.0" ry="70.0" fill="#03032a" filter="url(#b5)" opacity="0.5"/><ellipse cx="8.0" cy="28.0" rx="9.0" ry="7.0" fill="#1616c0" filter="url(#b2)" opacity="0.85"/><ellipse cx="25.0" cy="30.0" rx="8.0" ry="7.0" fill="#1616c0" filter="url(#b2)" opacity="0.85"/><ellipse cx="33.0" cy="70.0" rx="11.0" ry="8.0" fill="#1616c0" filter="url(#b2)" opacity="0.85"/><ellipse cx="48.0" cy="58.0" rx="8.0" ry="7.0" fill="#1616c0" filter="url(#b2)" opacity="0.85"/><ellipse cx="62.0" cy="45.0" rx="7.0" ry="6.0" fill="#1616c0" filter="url(#b2)" opacity="0.85"/><ellipse cx="75.0" cy="28.0" rx="9.0" ry="7.0" fill="#1616c0" filter="url(#b2)" opacity="0.85"/><ellipse cx="90.0" cy="28.0" rx="8.0" ry="7.0" fill="#1616c0" filter="url(#b2)" opacity="0.85"/><ellipse cx="112.0" cy="68.0" rx="8.0" ry="7.0" fill="#1616c0" filter="url(#b2)" opacity="0.85"/><ellipse cx="70.0" cy="82.0" rx="8.0" ry="7.0" fill="#1616c0" filter="url(#b2)" opacity="0.85"/><ellipse cx="48.0" cy="98.0" rx="8.0" ry="7.0" fill="#1616c0" filter="url(#b2)" opacity="0.85"/><ellipse cx="30.0" cy="105.0" rx="7.0" ry="6.0" fill="#1616c0" filter="url(#b2)" opacity="0.85"/><ellipse cx="88.0" cy="105.0" rx="9.0" ry="7.0" fill="#1616c0" filter="url(#b2)" opacity="0.85"/><ellipse cx="100.0" cy="112.0" rx="7.0" ry="6.0" fill="#1616c0" filter="url(#b2)" opacity="0.85"/><ellipse cx="72.0" cy="120.0" rx="8.0" ry="6.0" fill="#1616c0" filter="url(#b2)" opacity="0.85"/><ellipse cx="128.0" cy="30.0" rx="7.0" ry="6.0" fill="#1616c0" filter="url(#b2)" opacity="0.85"/><ellipse cx="140.0" cy="60.0" rx="7.0" ry="8.0" fill="#1616c0" filter="url(#b2)" opacity="0.85"/><ellipse cx="135.0" cy="98.0" rx="8.0" ry="7.0" fill="#1616c0" filter="url(#b2)" opacity="0.85"/><ellipse cx="118.0" cy="12.0" rx="8.0" ry="6.0" fill="#1616c0" filter="url(#b2)" opacity="0.85"/><ellipse cx="58.0" cy="125.0" rx="6.0" ry="5.0" fill="#1616c0" filter="url(#b2)" opacity="0.85"/><ellipse cx="10.0" cy="95.0" rx="6.0" ry="7.0" fill="#1616c0" filter="url(#b2)" opacity="0.85"/><ellipse cx="98.0" cy="85.0" rx="7.0" ry="6.0" fill="#1616c0" filter="url(#b2)" opacity="0.85"/><ellipse cx="140.0" cy="125.0" rx="7.0" ry="6.0" fill="#1616c0" filter="url(#b2)" opacity="0.85"/><ellipse cx="20.0" cy="125.0" rx="7.0" ry="5.0" fill="#1616c0" filter="url(#b2)" opacity="0.85"/><ellipse cx="75.0" cy="5.0" rx="8.0" ry="5.0" fill="#1616c0" filter="url(#b2)" opacity="0.85"/><ellipse cx="60.0" cy="70.0" rx="6.0" ry="5.0" fill="#1616c0" filter="url(#b2)" opacity="0.85"/><path d="M116.7 119.4H142.7" stroke="#d8d8d8" stroke-width="1.1"/></svg>
<svg style="left:1223.3px;top:1491.9px;overflow:hidden" width="150.8" height="131.9" viewBox="0 0 150.8 131.9"><rect width="150.8" height="131.9" fill="#000"/><g filter="url(#b05)"><circle cx="30.7" cy="23.8" r="0.9" fill="#22e822"/><circle cx="22.2" cy="9.0" r="0.6" fill="#22e822"/><circle cx="43.3" cy="16.1" r="0.8" fill="#22e822"/><circle cx="32.3" cy="38.0" r="1.0" fill="#22e822"/><circle cx="34.1" cy="8.2" r="1.1" fill="#22e822"/><circle cx="35.8" cy="23.1" r="1.4" fill="#22e822"/><circle cx="18.6" cy="13.3" r="1.2" fill="#22e822"/><circle cx="40.9" cy="19.6" r="1.1" fill="#22e822"/><circle cx="29.4" cy="16.7" r="1.4" fill="#22e822"/><circle cx="19.0" cy="16.9" r="1.4" fill="#22e822"/><circle cx="28.0" cy="31.2" r="1.0" fill="#22e822"/><circle cx="31.4" cy="35.9" r="1.7" fill="#22e822"/><circle cx="31.3" cy="38.8" r="0.7" fill="#22e822"/><circle cx="32.1" cy="50.2" r="1.1" fill="#22e822"/><circle cx="27.6" cy="37.6" r="1.2" fill="#22e822"/><circle cx="27.2" cy="42.4" r="1.3" fill="#22e822"/><circle cx="42.5" cy="20.6" r="1.0" fill="#22e822"/><circle cx="57.1" cy="21.6" r="1.2" fill="#22e822"/><circle cx="48.9" cy="22.9" r="1.1" fill="#22e822"/><circle cx="58.5" cy="23.1" r="0.9" fill="#22e822"/><circle cx="49.4" cy="22.3" r="1.1" fill="#22e822"/><circle cx="76.3" cy="50.2" r="0.6" fill="#22e822"/><circle cx="89.2" cy="40.0" r="0.6" fill="#22e822"/><circle cx="81.6" cy="47.1" r="0.6" fill="#22e822"/><circle cx="77.7" cy="60.2" r="1.3" fill="#22e822"/><circle cx="86.6" cy="53.9" r="0.5" fill="#22e822"/><circle cx="79.1" cy="47.6" r="1.3" fill="#22e822"/><circle cx="85.9" cy="51.3" r="1.4" fill="#22e822"/><circle cx="79.3" cy="53.9" r="1.0" fill="#22e822"/><circle cx="83.3" cy="52.6" r="0.9" fill="#22e822"/><circle cx="84.1" cy="27.3" r="0.5" fill="#22e822"/><circle cx="86.2" cy="26.7" r="1.0" fill="#22e822"/><circle cx="86.6" cy="26.8" r="0.7" fill="#22e822"/><circle cx="133.6" cy="41.8" r="2.0" fill="#22e822"/><circle cx="133.7" cy="41.5" r="2.9" fill="#22e822"/><circle cx="136.9" cy="87.9" r="1.7" fill="#22e822"/><circle cx="139.1" cy="89.7" r="2.2" fill="#22e822"/><circle cx="136.5" cy="87.7" r="0.5" fill="#22e822"/><circle cx="134.6" cy="112.0" r="0.5" fill="#22e822"/><circle cx="134.8" cy="107.2" r="0.6" fill="#22e822"/><circle cx="135.7" cy="107.6" r="1.2" fill="#22e822"/><circle cx="82.1" cy="109.5" r="0.9" fill="#22e822"/><circle cx="84.7" cy="107.1" r="0.9" fill="#22e822"/><circle cx="85.5" cy="106.7" r="0.8" fill="#22e822"/><circle cx="96.5" cy="123.0" r="0.8" fill="#22e822"/><circle cx="97.3" cy="125.8" r="0.9" fill="#22e822"/><circle cx="97.4" cy="125.8" r="1.0" fill="#22e822"/><circle cx="135.1" cy="20.9" r="0.7" fill="#22e822"/><circle cx="129.0" cy="22.6" r="0.7" fill="#22e822"/><circle cx="130.2" cy="22.6" r="0.6" fill="#22e822"/><circle cx="129.4" cy="18.2" r="0.6" fill="#22e822"/><circle cx="132.1" cy="133.3" r="0.9" fill="#22e822"/><circle cx="134.7" cy="129.0" r="0.8" fill="#22e822"/><circle cx="131.6" cy="126.6" r="1.0" fill="#22e822"/><circle cx="145.1" cy="104.5" r="1.1" fill="#22e822"/><circle cx="145.7" cy="105.7" r="1.4" fill="#22e822"/></g><path d="M116.0 120.5H144.0" stroke="#d8d8d8" stroke-width="1.1"/></svg>
<svg style="left:1375.8px;top:1491.9px;overflow:hidden" width="151.2" height="131.9" viewBox="0 0 151.2 131.9"><rect width="151.2" height="131.9" fill="#000"/><rect width="151" height="133" fill="#021a02"/><ellipse cx="30.0" cy="35.0" rx="28.0" ry="22.0" fill="#0a4a0d" filter="url(#b5)" opacity="0.6"/><ellipse cx="75.0" cy="30.0" rx="22.0" ry="18.0" fill="#0a4a0d" filter="url(#b5)" opacity="0.6"/><ellipse cx="115.0" cy="25.0" rx="25.0" ry="20.0" fill="#0a4a0d" filter="url(#b5)" opacity="0.6"/><ellipse cx="50.0" cy="75.0" rx="30.0" ry="25.0" fill="#0a4a0d" filter="url(#b5)" opacity="0.6"/><ellipse cx="100.0" cy="80.0" rx="28.0" ry="25.0" fill="#0a4a0d" filter="url(#b5)" opacity="0.6"/><ellipse cx="135.0" cy="70.0" rx="18.0" ry="25.0" fill="#0a4a0d" filter="url(#b5)" opacity="0.6"/><ellipse cx="20.0" cy="105.0" rx="22.0" ry="20.0" fill="#0a4a0d" filter="url(#b5)" opacity="0.6"/><ellipse cx="70.0" cy="115.0" rx="25.0" ry="18.0" fill="#0a4a0d" filter="url(#b5)" opacity="0.6"/><ellipse cx="120.0" cy="115.0" rx="25.0" ry="18.0" fill="#0a4a0d" filter="url(#b5)" opacity="0.6"/><ellipse cx="10.0" cy="60.0" rx="12.0" ry="18.0" fill="#0a4a0d" filter="url(#b5)" opacity="0.6"/><ellipse cx="40.0" cy="60.0" rx="14.0" ry="10.0" fill="#16881a" filter="url(#b3)" opacity="0.5"/><ellipse cx="100.0" cy="20.0" rx="10.0" ry="8.0" fill="#16881a" filter="url(#b3)" opacity="0.5"/><ellipse cx="60.0" cy="32.0" rx="8.0" ry="8.0" fill="#16881a" filter="url(#b3)" opacity="0.5"/><ellipse cx="110.0" cy="95.0" rx="10.0" ry="9.0" fill="#16881a" filter="url(#b3)" opacity="0.5"/><ellipse cx="25.0" cy="25.0" rx="8.0" ry="7.0" fill="#16881a" filter="url(#b3)" opacity="0.5"/><ellipse cx="85.0" cy="70.0" rx="9.0" ry="8.0" fill="#16881a" filter="url(#b3)" opacity="0.5"/><ellipse cx="130.0" cy="50.0" rx="8.0" ry="9.0" fill="#16881a" filter="url(#b3)" opacity="0.5"/><g filter="url(#b05)"><circle cx="7.3" cy="17.4" r="1.9" fill="#30f030"/><circle cx="18.1" cy="19.7" r="2.1" fill="#30f030"/><circle cx="16.4" cy="22.8" r="2.1" fill="#30f030"/><circle cx="6.9" cy="15.1" r="0.7" fill="#30f030"/><circle cx="9.0" cy="22.6" r="1.4" fill="#30f030"/><circle cx="11.4" cy="21.7" r="0.9" fill="#30f030"/><circle cx="10.4" cy="30.8" r="1.8" fill="#30f030"/><circle cx="15.8" cy="28.0" r="0.7" fill="#30f030"/><circle cx="32.7" cy="57.9" r="0.5" fill="#30f030"/><circle cx="37.8" cy="57.0" r="0.8" fill="#30f030"/><circle cx="47.1" cy="58.7" r="0.9" fill="#30f030"/><circle cx="42.3" cy="58.2" r="1.4" fill="#30f030"/><circle cx="39.0" cy="73.7" r="1.4" fill="#30f030"/><circle cx="47.4" cy="57.4" r="0.9" fill="#30f030"/><circle cx="32.7" cy="62.8" r="0.7" fill="#30f030"/><circle cx="39.7" cy="62.0" r="1.3" fill="#30f030"/><circle cx="44.0" cy="60.2" r="0.9" fill="#30f030"/><circle cx="30.9" cy="70.3" r="1.1" fill="#30f030"/><circle cx="32.2" cy="66.3" r="1.4" fill="#30f030"/><circle cx="50.3" cy="65.7" r="0.5" fill="#30f030"/><circle cx="35.0" cy="48.4" r="0.5" fill="#30f030"/><circle cx="36.3" cy="54.4" r="1.3" fill="#30f030"/><circle cx="36.9" cy="60.1" r="0.7" fill="#30f030"/><circle cx="38.8" cy="58.9" r="1.5" fill="#30f030"/><circle cx="105.8" cy="22.9" r="1.0" fill="#30f030"/><circle cx="91.3" cy="32.8" r="1.7" fill="#30f030"/><circle cx="101.5" cy="33.2" r="1.7" fill="#30f030"/><circle cx="95.9" cy="26.9" r="1.9" fill="#30f030"/><circle cx="98.8" cy="30.5" r="1.4" fill="#30f030"/><circle cx="99.0" cy="25.8" r="1.9" fill="#30f030"/><circle cx="90.8" cy="26.8" r="1.0" fill="#30f030"/><circle cx="95.9" cy="29.8" r="0.7" fill="#30f030"/><circle cx="67.5" cy="-1.3" r="0.7" fill="#30f030"/><circle cx="75.6" cy="6.8" r="1.3" fill="#30f030"/><circle cx="68.8" cy="5.8" r="1.4" fill="#30f030"/><circle cx="102.5" cy="70.1" r="1.0" fill="#30f030"/><circle cx="110.5" cy="78.8" r="0.5" fill="#30f030"/><circle cx="90.5" cy="75.4" r="0.6" fill="#30f030"/><circle cx="98.6" cy="62.9" r="1.2" fill="#30f030"/><circle cx="100.6" cy="72.7" r="1.0" fill="#30f030"/><circle cx="105.7" cy="82.8" r="0.8" fill="#30f030"/><circle cx="81.8" cy="80.5" r="1.4" fill="#30f030"/><circle cx="105.4" cy="74.2" r="1.0" fill="#30f030"/><circle cx="91.1" cy="88.2" r="0.9" fill="#30f030"/><circle cx="89.2" cy="96.9" r="1.0" fill="#30f030"/><circle cx="107.2" cy="93.9" r="1.3" fill="#30f030"/><circle cx="86.5" cy="95.0" r="0.6" fill="#30f030"/><circle cx="90.5" cy="105.4" r="1.6" fill="#30f030"/><circle cx="85.2" cy="103.1" r="1.5" fill="#30f030"/><circle cx="89.0" cy="86.7" r="1.5" fill="#30f030"/><circle cx="85.9" cy="102.1" r="0.9" fill="#30f030"/><circle cx="81.8" cy="95.9" r="1.4" fill="#30f030"/><circle cx="88.1" cy="108.9" r="1.3" fill="#30f030"/><circle cx="144.6" cy="51.8" r="1.3" fill="#30f030"/><circle cx="145.0" cy="56.5" r="1.2" fill="#30f030"/><circle cx="146.8" cy="48.0" r="1.7" fill="#30f030"/><circle cx="142.5" cy="55.5" r="1.6" fill="#30f030"/><circle cx="146.3" cy="49.5" r="1.8" fill="#30f030"/><circle cx="132.2" cy="95.5" r="2.0" fill="#30f030"/><circle cx="132.7" cy="98.7" r="1.3" fill="#30f030"/><circle cx="131.8" cy="106.6" r="1.9" fill="#30f030"/><circle cx="121.9" cy="100.9" r="1.6" fill="#30f030"/><circle cx="127.7" cy="97.6" r="1.7" fill="#30f030"/><circle cx="122.8" cy="97.1" r="1.1" fill="#30f030"/><circle cx="81.3" cy="108.4" r="1.5" fill="#30f030"/><circle cx="84.9" cy="111.3" r="0.7" fill="#30f030"/><circle cx="80.9" cy="113.6" r="0.8" fill="#30f030"/><circle cx="83.3" cy="108.1" r="0.6" fill="#30f030"/><circle cx="22.2" cy="105.5" r="0.6" fill="#30f030"/><circle cx="27.3" cy="107.6" r="0.8" fill="#30f030"/><circle cx="25.4" cy="106.0" r="1.2" fill="#30f030"/><circle cx="21.0" cy="108.8" r="1.4" fill="#30f030"/><circle cx="3.3" cy="104.3" r="0.5" fill="#30f030"/><circle cx="1.7" cy="100.9" r="1.3" fill="#30f030"/><circle cx="5.8" cy="102.5" r="1.2" fill="#30f030"/><circle cx="129.0" cy="128.9" r="0.6" fill="#30f030"/><circle cx="122.4" cy="127.2" r="1.1" fill="#30f030"/><circle cx="130.4" cy="126.6" r="1.0" fill="#30f030"/><circle cx="126.7" cy="124.0" r="0.9" fill="#30f030"/><circle cx="64.2" cy="95.2" r="1.0" fill="#30f030"/><circle cx="72.6" cy="86.5" r="1.0" fill="#30f030"/><circle cx="53.7" cy="98.5" r="0.5" fill="#30f030"/><circle cx="65.0" cy="94.1" r="1.0" fill="#30f030"/><circle cx="64.5" cy="95.4" r="1.2" fill="#30f030"/><circle cx="56.2" cy="93.7" r="0.7" fill="#30f030"/><circle cx="45.9" cy="55.5" r="0.8" fill="#30f030"/><circle cx="62.9" cy="36.8" r="0.9" fill="#30f030"/><circle cx="49.0" cy="56.9" r="0.8" fill="#30f030"/><circle cx="45.5" cy="42.7" r="1.2" fill="#30f030"/><circle cx="45.1" cy="40.3" r="0.8" fill="#30f030"/><circle cx="56.0" cy="45.8" r="0.8" fill="#30f030"/><circle cx="107.2" cy="60.1" r="1.1" fill="#30f030"/><circle cx="117.4" cy="50.6" r="0.7" fill="#30f030"/><circle cx="119.6" cy="45.9" r="0.7" fill="#30f030"/><circle cx="109.6" cy="53.5" r="1.2" fill="#30f030"/><circle cx="107.8" cy="57.9" r="0.8" fill="#30f030"/><circle cx="105.0" cy="43.6" r="1.0" fill="#30f030"/></g><path d="M116.7 118.0H142.7" stroke="#d8d8d8" stroke-width="1.1"/></svg>
<svg style="left:1223.3px;top:1630.6px;overflow:hidden" width="150.8" height="132.6" viewBox="0 0 150.8 132.6"><rect width="150.8" height="132.6" fill="#000"/><ellipse cx="130.0" cy="73.0" rx="6.0" ry="8.0" fill="#1818a0" filter="url(#b2)" opacity="0.8"/><g filter="url(#b05)"><circle cx="30.7" cy="23.8" r="0.9" fill="#22e822"/><circle cx="22.2" cy="9.0" r="0.6" fill="#22e822"/><circle cx="43.3" cy="16.1" r="0.8" fill="#22e822"/><circle cx="32.3" cy="38.0" r="1.0" fill="#22e822"/><circle cx="34.1" cy="8.2" r="1.1" fill="#22e822"/><circle cx="35.8" cy="23.1" r="1.4" fill="#22e822"/><circle cx="18.6" cy="13.3" r="1.2" fill="#22e822"/><circle cx="40.9" cy="19.6" r="1.1" fill="#22e822"/><circle cx="29.4" cy="16.7" r="1.4" fill="#22e822"/><circle cx="19.0" cy="16.9" r="1.4" fill="#22e822"/><circle cx="28.0" cy="31.2" r="1.0" fill="#22e822"/><circle cx="31.4" cy="35.9" r="1.7" fill="#22e822"/><circle cx="31.3" cy="38.8" r="0.7" fill="#22e822"/><circle cx="32.1" cy="50.2" r="1.1" fill="#22e822"/><circle cx="27.6" cy="37.6" r="1.2" fill="#22e822"/><circle cx="27.2" cy="42.4" r="1.3" fill="#22e822"/><circle cx="42.5" cy="20.6" r="1.0" fill="#22e822"/><circle cx="57.1" cy="21.6" r="1.2" fill="#22e822"/><circle cx="48.9" cy="22.9" r="1.1" fill="#22e822"/><circle cx="58.5" cy="23.1" r="0.9" fill="#22e822"/><circle cx="49.4" cy="22.3" r="1.1" fill="#22e822"/><circle cx="76.3" cy="50.2" r="0.6" fill="#22e822"/><circle cx="89.2" cy="40.0" r="0.6" fill="#22e822"/><circle cx="81.6" cy="47.1" r="0.6" fill="#22e822"/><circle cx="77.7" cy="60.2" r="1.3" fill="#22e822"/><circle cx="86.6" cy="53.9" r="0.5" fill="#22e822"/><circle cx="79.1" cy="47.6" r="1.3" fill="#22e822"/><circle cx="85.9" cy="51.3" r="1.4" fill="#22e822"/><circle cx="79.3" cy="53.9" r="1.0" fill="#22e822"/><circle cx="83.3" cy="52.6" r="0.9" fill="#22e822"/><circle cx="84.1" cy="27.3" r="0.5" fill="#22e822"/><circle cx="86.2" cy="26.7" r="1.0" fill="#22e822"/><circle cx="86.6" cy="26.8" r="0.7" fill="#22e822"/><circle cx="133.6" cy="41.8" r="2.0" fill="#22e822"/><circle cx="133.7" cy="41.5" r="2.9" fill="#22e822"/><circle cx="136.9" cy="87.9" r="1.7" fill="#22e822"/><circle cx="139.1" cy="89.7" r="2.2" fill="#22e822"/><circle cx="136.5" cy="87.7" r="0.5" fill="#22e822"/><circle cx="134.6" cy="112.0" r="0.5" fill="#22e822"/><circle cx="134.8" cy="107.2" r="0.6" fill="#22e822"/><circle cx="135.7" cy="107.6" r="1.2" fill="#22e822"/><circle cx="82.1" cy="109.5" r="0.9" fill="#22e822"/><circle cx="84.7" cy="107.1" r="0.9" fill="#22e822"/><circle cx="85.5" cy="106.7" r="0.8" fill="#22e822"/><circle cx="96.5" cy="123.0" r="0.8" fill="#22e822"/><circle cx="97.3" cy="125.8" r="0.9" fill="#22e822"/><circle cx="97.4" cy="125.8" r="1.0" fill="#22e822"/><circle cx="135.1" cy="20.9" r="0.7" fill="#22e822"/><circle cx="129.0" cy="22.6" r="0.7" fill="#22e822"/><circle cx="130.2" cy="22.6" r="0.6" fill="#22e822"/><circle cx="129.4" cy="18.2" r="0.6" fill="#22e822"/><circle cx="132.1" cy="133.3" r="0.9" fill="#22e822"/><circle cx="134.7" cy="129.0" r="0.8" fill="#22e822"/><circle cx="131.6" cy="126.6" r="1.0" fill="#22e822"/><circle cx="145.1" cy="104.5" r="1.1" fill="#22e822"/><circle cx="145.7" cy="105.7" r="1.4" fill="#22e822"/></g><path d="M116.0 123.5H144.0" stroke="#d8d8d8" stroke-width="1.1"/></svg>
<svg style="left:1375.8px;top:1630.6px;overflow:hidden" width="151.2" height="132.6" viewBox="0 0 151.2 132.6"><rect width="151.2" height="132.6" fill="#000"/><rect width="151" height="133" fill="#021a02"/><ellipse cx="30.0" cy="35.0" rx="28.0" ry="22.0" fill="#0a4a0d" filter="url(#b5)" opacity="0.6"/><ellipse cx="75.0" cy="30.0" rx="22.0" ry="18.0" fill="#0a4a0d" filter="url(#b5)" opacity="0.6"/><ellipse cx="115.0" cy="25.0" rx="25.0" ry="20.0" fill="#0a4a0d" filter="url(#b5)" opacity="0.6"/><ellipse cx="50.0" cy="75.0" rx="30.0" ry="25.0" fill="#0a4a0d" filter="url(#b5)" opacity="0.6"/><ellipse cx="100.0" cy="80.0" rx="28.0" ry="25.0" fill="#0a4a0d" filter="url(#b5)" opacity="0.6"/><ellipse cx="135.0" cy="70.0" rx="18.0" ry="25.0" fill="#0a4a0d" filter="url(#b5)" opacity="0.6"/><ellipse cx="20.0" cy="105.0" rx="22.0" ry="20.0" fill="#0a4a0d" filter="url(#b5)" opacity="0.6"/><ellipse cx="70.0" cy="115.0" rx="25.0" ry="18.0" fill="#0a4a0d" filter="url(#b5)" opacity="0.6"/><ellipse cx="120.0" cy="115.0" rx="25.0" ry="18.0" fill="#0a4a0d" filter="url(#b5)" opacity="0.6"/><ellipse cx="10.0" cy="60.0" rx="12.0" ry="18.0" fill="#0a4a0d" filter="url(#b5)" opacity="0.6"/><ellipse cx="40.0" cy="60.0" rx="14.0" ry="10.0" fill="#16881a" filter="url(#b3)" opacity="0.5"/><ellipse cx="100.0" cy="20.0" rx="10.0" ry="8.0" fill="#16881a" filter="url(#b3)" opacity="0.5"/><ellipse cx="60.0" cy="32.0" rx="8.0" ry="8.0" fill="#16881a" filter="url(#b3)" opacity="0.5"/><ellipse cx="110.0" cy="95.0" rx="10.0" ry="9.0" fill="#16881a" filter="url(#b3)" opacity="0.5"/><ellipse cx="25.0" cy="25.0" rx="8.0" ry="7.0" fill="#16881a" filter="url(#b3)" opacity="0.5"/><ellipse cx="85.0" cy="70.0" rx="9.0" ry="8.0" fill="#16881a" filter="url(#b3)" opacity="0.5"/><ellipse cx="130.0" cy="50.0" rx="8.0" ry="9.0" fill="#16881a" filter="url(#b3)" opacity="0.5"/><g filter="url(#b05)"><circle cx="7.3" cy="17.4" r="1.9" fill="#30f030"/><circle cx="18.1" cy="19.7" r="2.1" fill="#30f030"/><circle cx="16.4" cy="22.8" r="2.1" fill="#30f030"/><circle cx="6.9" cy="15.1" r="0.7" fill="#30f030"/><circle cx="9.0" cy="22.6" r="1.4" fill="#30f030"/><circle cx="11.4" cy="21.7" r="0.9" fill="#30f030"/><circle cx="10.4" cy="30.8" r="1.8" fill="#30f030"/><circle cx="15.8" cy="28.0" r="0.7" fill="#30f030"/><circle cx="32.7" cy="57.9" r="0.5" fill="#30f030"/><circle cx="37.8" cy="57.0" r="0.8" fill="#30f030"/><circle cx="47.1" cy="58.7" r="0.9" fill="#30f030"/><circle cx="42.3" cy="58.2" r="1.4" fill="#30f030"/><circle cx="39.0" cy="73.7" r="1.4" fill="#30f030"/><circle cx="47.4" cy="57.4" r="0.9" fill="#30f030"/><circle cx="32.7" cy="62.8" r="0.7" fill="#30f030"/><circle cx="39.7" cy="62.0" r="1.3" fill="#30f030"/><circle cx="44.0" cy="60.2" r="0.9" fill="#30f030"/><circle cx="30.9" cy="70.3" r="1.1" fill="#30f030"/><circle cx="32.2" cy="66.3" r="1.4" fill="#30f030"/><circle cx="50.3" cy="65.7" r="0.5" fill="#30f030"/><circle cx="35.0" cy="48.4" r="0.5" fill="#30f030"/><circle cx="36.3" cy="54.4" r="1.3" fill="#30f030"/><circle cx="36.9" cy="60.1" r="0.7" fill="#30f030"/><circle cx="38.8" cy="58.9" r="1.5" fill="#30f030"/><circle cx="105.8" cy="22.9" r="1.0" fill="#30f030"/><circle cx="91.3" cy="32.8" r="1.7" fill="#30f030"/><circle cx="101.5" cy="33.2" r="1.7" fill="#30f030"/><circle cx="95.9" cy="26.9" r="1.9" fill="#30f030"/><circle cx="98.8" cy="30.5" r="1.4" fill="#30f030"/><circle cx="99.0" cy="25.8" r="1.9" fill="#30f030"/><circle cx="90.8" cy="26.8" r="1.0" fill="#30f030"/><circle cx="95.9" cy="29.8" r="0.7" fill="#30f030"/><circle cx="67.5" cy="-1.3" r="0.7" fill="#30f030"/><circle cx="75.6" cy="6.8" r="1.3" fill="#30f030"/><circle cx="68.8" cy="5.8" r="1.4" fill="#30f030"/><circle cx="102.5" cy="70.1" r="1.0" fill="#30f030"/><circle cx="110.5" cy="78.8" r="0.5" fill="#30f030"/><circle cx="90.5" cy="75.4" r="0.6" fill="#30f030"/><circle cx="98.6" cy="62.9" r="1.2" fill="#30f030"/><circle cx="100.6" cy="72.7" r="1.0" fill="#30f030"/><circle cx="105.7" cy="82.8" r="0.8" fill="#30f030"/><circle cx="81.8" cy="80.5" r="1.4" fill="#30f030"/><circle cx="105.4" cy="74.2" r="1.0" fill="#30f030"/><circle cx="91.1" cy="88.2" r="0.9" fill="#30f030"/><circle cx="89.2" cy="96.9" r="1.0" fill="#30f030"/><circle cx="107.2" cy="93.9" r="1.3" fill="#30f030"/><circle cx="86.5" cy="95.0" r="0.6" fill="#30f030"/><circle cx="90.5" cy="105.4" r="1.6" fill="#30f030"/><circle cx="85.2" cy="103.1" r="1.5" fill="#30f030"/><circle cx="89.0" cy="86.7" r="1.5" fill="#30f030"/><circle cx="85.9" cy="102.1" r="0.9" fill="#30f030"/><circle cx="81.8" cy="95.9" r="1.4" fill="#30f030"/><circle cx="88.1" cy="108.9" r="1.3" fill="#30f030"/><circle cx="144.6" cy="51.8" r="1.3" fill="#30f030"/><circle cx="145.0" cy="56.5" r="1.2" fill="#30f030"/><circle cx="146.8" cy="48.0" r="1.7" fill="#30f030"/><circle cx="142.5" cy="55.5" r="1.6" fill="#30f030"/><circle cx="146.3" cy="49.5" r="1.8" fill="#30f030"/><circle cx="132.2" cy="95.5" r="2.0" fill="#30f030"/><circle cx="132.7" cy="98.7" r="1.3" fill="#30f030"/><circle cx="131.8" cy="106.6" r="1.9" fill="#30f030"/><circle cx="121.9" cy="100.9" r="1.6" fill="#30f030"/><circle cx="127.7" cy="97.6" r="1.7" fill="#30f030"/><circle cx="122.8" cy="97.1" r="1.1" fill="#30f030"/><circle cx="81.3" cy="108.4" r="1.5" fill="#30f030"/><circle cx="84.9" cy="111.3" r="0.7" fill="#30f030"/><circle cx="80.9" cy="113.6" r="0.8" fill="#30f030"/><circle cx="83.3" cy="108.1" r="0.6" fill="#30f030"/><circle cx="22.2" cy="105.5" r="0.6" fill="#30f030"/><circle cx="27.3" cy="107.6" r="0.8" fill="#30f030"/><circle cx="25.4" cy="106.0" r="1.2" fill="#30f030"/><circle cx="21.0" cy="108.8" r="1.4" fill="#30f030"/><circle cx="3.3" cy="104.3" r="0.5" fill="#30f030"/><circle cx="1.7" cy="100.9" r="1.3" fill="#30f030"/><circle cx="5.8" cy="102.5" r="1.2" fill="#30f030"/><circle cx="129.0" cy="128.9" r="0.6" fill="#30f030"/><circle cx="122.4" cy="127.2" r="1.1" fill="#30f030"/><circle cx="130.4" cy="126.6" r="1.0" fill="#30f030"/><circle cx="126.7" cy="124.0" r="0.9" fill="#30f030"/><circle cx="64.2" cy="95.2" r="1.0" fill="#30f030"/><circle cx="72.6" cy="86.5" r="1.0" fill="#30f030"/><circle cx="53.7" cy="98.5" r="0.5" fill="#30f030"/><circle cx="65.0" cy="94.1" r="1.0" fill="#30f030"/><circle cx="64.5" cy="95.4" r="1.2" fill="#30f030"/><circle cx="56.2" cy="93.7" r="0.7" fill="#30f030"/><circle cx="45.9" cy="55.5" r="0.8" fill="#30f030"/><circle cx="62.9" cy="36.8" r="0.9" fill="#30f030"/><circle cx="49.0" cy="56.9" r="0.8" fill="#30f030"/><circle cx="45.5" cy="42.7" r="1.2" fill="#30f030"/><circle cx="45.1" cy="40.3" r="0.8" fill="#30f030"/><circle cx="56.0" cy="45.8" r="0.8" fill="#30f030"/><circle cx="107.2" cy="60.1" r="1.1" fill="#30f030"/><circle cx="117.4" cy="50.6" r="0.7" fill="#30f030"/><circle cx="119.6" cy="45.9" r="0.7" fill="#30f030"/><circle cx="109.6" cy="53.5" r="1.2" fill="#30f030"/><circle cx="107.8" cy="57.9" r="0.8" fill="#30f030"/><circle cx="105.0" cy="43.6" r="1.0" fill="#30f030"/></g><ellipse cx="8.0" cy="28.0" rx="8.5" ry="6.6" fill="#1c2ce0" filter="url(#b2)" opacity="0.8"/><ellipse cx="25.0" cy="30.0" rx="7.6" ry="6.6" fill="#1c2ce0" filter="url(#b2)" opacity="0.8"/><ellipse cx="33.0" cy="70.0" rx="10.4" ry="7.6" fill="#1c2ce0" filter="url(#b2)" opacity="0.8"/><ellipse cx="48.0" cy="58.0" rx="7.6" ry="6.6" fill="#1c2ce0" filter="url(#b2)" opacity="0.8"/><ellipse cx="62.0" cy="45.0" rx="6.6" ry="5.7" fill="#1c2ce0" filter="url(#b2)" opacity="0.8"/><ellipse cx="75.0" cy="28.0" rx="8.5" ry="6.6" fill="#1c2ce0" filter="url(#b2)" opacity="0.8"/><ellipse cx="90.0" cy="28.0" rx="7.6" ry="6.6" fill="#1c2ce0" filter="url(#b2)" opacity="0.8"/><ellipse cx="112.0" cy="68.0" rx="7.6" ry="6.6" fill="#1c2ce0" filter="url(#b2)" opacity="0.8"/><ellipse cx="70.0" cy="82.0" rx="7.6" ry="6.6" fill="#1c2ce0" filter="url(#b2)" opacity="0.8"/><ellipse cx="48.0" cy="98.0" rx="7.6" ry="6.6" fill="#1c2ce0" filter="url(#b2)" opacity="0.8"/><ellipse cx="30.0" cy="105.0" rx="6.6" ry="5.7" fill="#1c2ce0" filter="url(#b2)" opacity="0.8"/><ellipse cx="88.0" cy="105.0" rx="8.5" ry="6.6" fill="#1c2ce0" filter="url(#b2)" opacity="0.8"/><ellipse cx="100.0" cy="112.0" rx="6.6" ry="5.7" fill="#1c2ce0" filter="url(#b2)" opacity="0.8"/><ellipse cx="72.0" cy="120.0" rx="7.6" ry="5.7" fill="#1c2ce0" filter="url(#b2)" opacity="0.8"/><ellipse cx="128.0" cy="30.0" rx="6.6" ry="5.7" fill="#1c2ce0" filter="url(#b2)" opacity="0.8"/><ellipse cx="140.0" cy="60.0" rx="6.6" ry="7.6" fill="#1c2ce0" filter="url(#b2)" opacity="0.8"/><ellipse cx="135.0" cy="98.0" rx="7.6" ry="6.6" fill="#1c2ce0" filter="url(#b2)" opacity="0.8"/><ellipse cx="118.0" cy="12.0" rx="7.6" ry="5.7" fill="#1c2ce0" filter="url(#b2)" opacity="0.8"/><ellipse cx="58.0" cy="125.0" rx="5.7" ry="4.8" fill="#1c2ce0" filter="url(#b2)" opacity="0.8"/><ellipse cx="10.0" cy="95.0" rx="5.7" ry="6.6" fill="#1c2ce0" filter="url(#b2)" opacity="0.8"/><ellipse cx="98.0" cy="85.0" rx="6.6" ry="5.7" fill="#1c2ce0" filter="url(#b2)" opacity="0.8"/><ellipse cx="140.0" cy="125.0" rx="6.6" ry="5.7" fill="#1c2ce0" filter="url(#b2)" opacity="0.8"/><ellipse cx="20.0" cy="125.0" rx="6.6" ry="4.8" fill="#1c2ce0" filter="url(#b2)" opacity="0.8"/><ellipse cx="75.0" cy="5.0" rx="7.6" ry="4.8" fill="#1c2ce0" filter="url(#b2)" opacity="0.8"/><ellipse cx="60.0" cy="70.0" rx="5.7" ry="4.8" fill="#1c2ce0" filter="url(#b2)" opacity="0.8"/><path d="M116.7 115.0H142.7" stroke="#d8d8d8" stroke-width="1.1"/></svg>
<svg style="left:1540.5px;top:1372.6px;overflow:hidden" width="96.7" height="99.1" viewBox="0 0 96.7 99.1"><rect width="96.7" height="99.1" fill="#02021c"/><ellipse cx="20.0" cy="70.0" rx="22.0" ry="28.0" fill="#0a0a70" filter="url(#b5)"/><ellipse cx="60.0" cy="20.0" rx="30.0" ry="20.0" fill="#06064a" filter="url(#b5)"/><path d="M14.0 38.0 C15.3 37.3 19.3 34.3 22.0 34.0 C24.7 33.7 27.7 34.7 30.0 36.0 C32.3 37.3 34.3 39.3 36.0 42.0 C37.7 44.7 39.3 50.3 40.0 52.0" stroke="#2626f0" stroke-width="2.6" fill="none" stroke-linecap="round" filter="url(#b05)"/><path d="M30.0 36.0 C31.3 35.3 35.7 32.0 38.0 32.0 C40.3 32.0 43.0 35.3 44.0 36.0" stroke="#2626f0" stroke-width="2.2" fill="none" stroke-linecap="round" filter="url(#b05)"/><path d="M50.0 46.0 C51.3 46.3 55.3 48.3 58.0 48.0 C60.7 47.7 63.3 44.3 66.0 44.0 C68.7 43.7 71.3 46.3 74.0 46.0 C76.7 45.7 80.7 42.7 82.0 42.0" stroke="#2626f0" stroke-width="3" fill="none" stroke-linecap="round" filter="url(#b05)"/><path d="M66.0 44.0 C66.7 46.0 68.3 52.3 70.0 56.0 C71.7 59.7 73.7 62.7 76.0 66.0 C78.3 69.3 82.0 72.7 84.0 76.0 C86.0 79.3 87.3 84.3 88.0 86.0" stroke="#1c1cc0" stroke-width="2.2" fill="none" stroke-linecap="round" filter="url(#b05)"/><path d="M12.0 62.0 C13.0 63.3 16.0 67.7 18.0 70.0 C20.0 72.3 23.0 75.0 24.0 76.0" stroke="#1c1cd0" stroke-width="2" fill="none" stroke-linecap="round" filter="url(#b05)"/><path d="M60.0 30.0 C60.7 28.3 63.7 23.3 64.0 20.0 C64.3 16.7 62.3 11.7 62.0 10.0" stroke="#101090" stroke-width="1.6" fill="none" stroke-linecap="round" filter="url(#b05)"/><text x="55" y="77.5" font-family="Liberation Sans" font-size="7.4" fill="#ccc">5 µm</text><path d="M62.5 91.0H90.0" stroke="#d8d8d8" stroke-width="1.1"/></svg>
<svg style="left:0;top:0" width="2200" height="1800"><path d="M1540.5 1372.6L1451.3 1413.1L1540.5 1471.7" stroke="#c02030" stroke-width="1" fill="none"/></svg>
<div class="t" style="left:1126.3px;top:1333.0px;font-size:22px;font-weight:bold;">A.</div>
<div class="t" style="left:1199.3px;top:1330.8px;font-size:18.5px;font-weight:bold;color:#111;">a</div>
<div class="t" style="left:1298.7px;top:1329.6px;font-size:19.1px;font-weight:bold;color:#111;transform:translateX(-50%);">(GM)L</div>
<div class="t" style="left:1446.9px;top:1329.0px;font-size:19.1px;font-weight:bold;color:#111;transform:translateX(-50%);">(GM)L-Glu</div>
<div class="t" style="left:1156.7px;top:1391.8px;font-size:13.2px;font-weight:bold;color:#111;transform:translateX(-50%);">Hoechst-stained</div>
<div class="t" style="left:1157.5px;top:1408.7px;font-size:13.2px;font-weight:bold;color:#111;letter-spacing:-0.2px;transform:translateX(-50%);">nucleus and <i>Msmeg</i></div>
<div class="t" style="left:1157.0px;top:1545.7px;font-size:13.2px;font-weight:bold;color:#111;transform:translateX(-50%);">Coumerine-6-stained</div>
<div class="t" style="left:1157.0px;top:1562.6px;font-size:13.2px;font-weight:bold;color:#111;transform:translateX(-50%);">nano-assemblis</div>
<div class="t" style="left:1158.0px;top:1678.6px;font-size:13.2px;font-weight:bold;color:#111;transform:translateX(-50%);">Merge</div>
<div class="t" style="left:1545.6px;top:1561.5px;font-size:18.5px;font-weight:bold;color:#111;">b</div>
<div class="t" style="left:1700.7px;top:1334.0px;font-size:22px;font-weight:bold;">B.</div>
<svg style="left:0;top:0" width="2200" height="1800"><path d="M1572 1616.4V1746.3H1663.3" stroke="#222" stroke-width="1.4" fill="none"/><path d="M1567.5 1746.3H1572M1567.5 1720.3H1572M1567.5 1694.3H1572M1567.5 1668.4H1572M1567.5 1642.4H1572M1567.5 1616.4H1572M1601.2 1746.3v4.5M1638.2 1746.3v4.5" stroke="#222" stroke-width="1.2" fill="none"/><rect x="1588.9" y="1720.3" width="24.7" height="26.0" fill="#fa9c9c" stroke="#e88a8a" stroke-width="0.8"/><rect x="1626.1" y="1628.1" width="24.3" height="118.2" fill="#48efb0" stroke="#3cd89c" stroke-width="0.8"/><path d="M1601.2 1720.3V1718.4M1596 1718.4h10.5M1638.2 1628.1V1626.1M1633 1626.1h10.5" stroke="#444" stroke-width="0.9" fill="none"/><text x="1566" y="1749.3" text-anchor="end" font-family="Liberation Sans" font-weight="bold" font-size="8.2" fill="#222">0</text><text x="1566" y="1723.3" text-anchor="end" font-family="Liberation Sans" font-weight="bold" font-size="8.2" fill="#222">20</text><text x="1566" y="1697.3" text-anchor="end" font-family="Liberation Sans" font-weight="bold" font-size="8.2" fill="#222">40</text><text x="1566" y="1671.4" text-anchor="end" font-family="Liberation Sans" font-weight="bold" font-size="8.2" fill="#222">60</text><text x="1566" y="1645.4" text-anchor="end" font-family="Liberation Sans" font-weight="bold" font-size="8.2" fill="#222">80</text><text x="1566" y="1619.4" text-anchor="end" font-family="Liberation Sans" font-weight="bold" font-size="8.2" fill="#222">100</text><text transform="translate(1546 1680.3) rotate(-90)" text-anchor="middle" font-family="Liberation Sans" font-weight="bold" font-size="9.6" fill="#222">Cellular upake (%)</text><text x="1638.2" y="1620" text-anchor="middle" font-family="Liberation Sans" font-size="6" fill="#333">****</text><rect x="1579.8" y="1561.9" width="14.2" height="7.8" fill="#fa9c9c"/><rect x="1579.8" y="1579.5" width="14.2" height="7.8" fill="#48efb0"/><text x="1600.7" y="1569.7" font-family="Liberation Sans" font-size="9.4" fill="#555">(GM)L</text><text x="1600.7" y="1586.8" font-family="Liberation Sans" font-size="9.4" fill="#555">(GM)L-Glu</text><path d="M1773 1391.2V1595.2H2060.1" stroke="#222" stroke-width="1.8" fill="none"/><path d="M1767.5 1595.2H1773M1767.5 1527.2H1773M1767.5 1459.2H1773M1767.5 1391.2H1773M1804.2 1595.2v5.5M1860 1595.2v5.5M1908.6 1595.2v5.5M1964.3 1595.2v5.5M2026.7 1595.2v5.5" stroke="#222" stroke-width="1.6" fill="none"/><rect x="1784.3" y="1593.2" width="16.3" height="2.0" fill="#ff8282" stroke="#e87474" stroke-width="0.8"/><path d="M1792.5 1593.2V1589.8M1788.9 1589.8h7.2" stroke="#666" stroke-width="1.1" fill="none"/><rect x="1808.4" y="1591.8" width="15.7" height="3.4" fill="#8c8cff" stroke="#7c7cee" stroke-width="0.8"/><path d="M1816.2 1591.8V1588.4M1812.7 1588.4h7.2" stroke="#666" stroke-width="1.1" fill="none"/><rect x="1847.8" y="1465.5" width="15.2" height="129.7" fill="#ff8282" stroke="#e87474" stroke-width="0.8"/><path d="M1855.4 1465.5V1460.7M1851.8 1460.7h7.2" stroke="#666" stroke-width="1.1" fill="none"/><rect x="1896.2" y="1464.4" width="15.1" height="130.8" fill="#ff8282" stroke="#e87474" stroke-width="0.8"/><path d="M1903.8 1464.4V1458.9M1900.2 1458.9h7.2" stroke="#666" stroke-width="1.1" fill="none"/><rect x="1944.5" y="1561.5" width="15.7" height="33.7" fill="#ff8282" stroke="#e87474" stroke-width="0.8"/><path d="M1952.3 1561.5V1554.7M1948.8 1554.7h7.2" stroke="#666" stroke-width="1.1" fill="none"/><rect x="1968.2" y="1560.1" width="15.5" height="35.1" fill="#8c8cff" stroke="#7c7cee" stroke-width="0.8"/><path d="M1976.0 1560.1V1556.0M1972.4 1556.0h7.2" stroke="#666" stroke-width="1.1" fill="none"/><rect x="2007.1" y="1459.6" width="15.5" height="135.6" fill="#ff8282" stroke="#e87474" stroke-width="0.8"/><path d="M2014.8 1459.6V1454.2M2011.2 1454.2h7.2" stroke="#666" stroke-width="1.1" fill="none"/><rect x="2030.9" y="1457.2" width="15.1" height="138.0" fill="#8c8cff" stroke="#7c7cee" stroke-width="0.8"/><path d="M2038.5 1457.2V1451.7M2034.9 1451.7h7.2" stroke="#666" stroke-width="1.1" fill="none"/><text x="1766" y="1599.8" text-anchor="end" font-family="Liberation Sans" font-weight="bold" font-size="13" fill="#222">0</text><text x="1766" y="1531.8" text-anchor="end" font-family="Liberation Sans" font-weight="bold" font-size="13" fill="#222">5</text><text x="1766" y="1463.8" text-anchor="end" font-family="Liberation Sans" font-weight="bold" font-size="13" fill="#222">10</text><text x="1766" y="1395.8" text-anchor="end" font-family="Liberation Sans" font-weight="bold" font-size="13" fill="#222">15</text><text transform="translate(1740 1492.5) rotate(-90)" text-anchor="middle" font-family="Liberation Sans" font-weight="bold" font-size="16.5" fill="#222">Nitric oxide (nmol/10<tspan baseline-shift="super" font-size="11">4</tspan> cells)</text><text transform="translate(1808.7 1611) rotate(-45)" text-anchor="end" font-family="Liberation Sans" font-weight="bold" font-size="14.4" fill="#222">Control</text><text transform="translate(1864.5 1611) rotate(-45)" text-anchor="end" font-family="Liberation Sans" font-weight="bold" font-size="14.4" fill="#222">ß-Glucan</text><text transform="translate(1913.1 1611) rotate(-45)" text-anchor="end" font-family="Liberation Sans" font-weight="bold" font-size="14.4" fill="#222">COOH-ß-Glucan</text><text transform="translate(1968.8 1611) rotate(-45)" text-anchor="end" font-family="Liberation Sans" font-weight="bold" font-size="14.4" fill="#222">(GM)L</text><text transform="translate(2031.2 1611) rotate(-45)" text-anchor="end" font-family="Liberation Sans" font-weight="bold" font-size="14.4" fill="#222">(GM)L-Glu</text><rect x="1886.5" y="1376" width="19.9" height="10.3" fill="#ff8282"/><rect x="1886.5" y="1399.5" width="19.9" height="10.2" fill="#8c8cff"/><text x="1918" y="1386.6" font-family="Liberation Sans" font-size="15" fill="#444">- Laser</text><text x="1918" y="1410" font-family="Liberation Sans" font-size="15" fill="#444">+ Laser</text><text x="1782.7" y="1581.7" font-family="Liberation Sans" font-size="8.6" fill="#666" textLength="18" lengthAdjust="spacingAndGlyphs">N.S.</text><text x="1806.2" y="1581.7" font-family="Liberation Sans" font-size="8.6" fill="#666" textLength="18" lengthAdjust="spacingAndGlyphs">N.S.</text></svg>
<div class="abs" style="left:2114.0px;top:335.0px;width:1035.0px;height:47.0px;background:#2b93fe;"></div>
<div class="t" style="left:2631.6px;top:342.9px;font-size:33.4px;font-weight:bold;color:#fff;transform:translateX(-50%);">Antibacterial and Photothermal Therapy</div>
<div class="box" style="left:2114px;top:388px;width:1037px;height:1155px;"></div>
<svg style="left:0;top:0" width="3200" height="700"><path d="M2132.4 459.8H2555.9V667.8H2132.4ZM2348.9 459.8V667.8M2132.4 554.8H2555.9M2132.4 577.2H2555.9M2132.4 599.8H2555.9M2132.4 622.6H2555.9M2132.4 645.4H2555.9" stroke="#6a6a6a" stroke-width="1.2" fill="none"/></svg>
<div class="t" style="left:2145.0px;top:510.8px;font-size:17.3px;color:#5a5a5a;">Materials</div>
<div class="t" style="left:2361.5px;top:463.7px;font-size:17.3px;color:#5a5a5a;letter-spacing:-0.1px;">Intracellular MIC (ng/mL)</div>
<div class="t" style="left:2361.5px;top:487.4px;font-size:17.3px;color:#5a5a5a;">BQ encapsulated in</div>
<div class="t" style="left:2361.5px;top:510.8px;font-size:17.3px;color:#5a5a5a;">nano-assemblies</div>
<div class="t" style="left:2145.0px;top:556.9px;font-size:17.3px;color:#111;letter-spacing:-0.35px;">BQ</div>
<div class="t" style="left:2361.5px;top:556.9px;font-size:17.3px;color:#111;">40 ± 1.3</div>
<div class="t" style="left:2145.0px;top:579.7px;font-size:17.3px;color:#5a5a5a;letter-spacing:-0.35px;">GM@BQ</div>
<div class="t" style="left:2361.5px;top:579.7px;font-size:17.3px;color:#5a5a5a;">23 ± 1.1<sup style="font-size:9px;line-height:0;position:relative;top:-2px">*</sup></div>
<div class="t" style="left:2145.0px;top:602.6px;font-size:17.3px;color:#5a5a5a;letter-spacing:-0.35px;">GM@BQ + Laser</div>
<div class="t" style="left:2361.5px;top:602.6px;font-size:17.3px;color:#5a5a5a;">10 ± 1.3<sup style="font-size:9px;line-height:0;position:relative;top:-2px">*</sup></div>
<div class="t" style="left:2145.0px;top:625.6px;font-size:17.3px;color:#5a5a5a;letter-spacing:-0.35px;">(GM@BQ)L-Glu</div>
<div class="t" style="left:2361.5px;top:625.6px;font-size:17.3px;color:#5a5a5a;">28 ± 1.4<sup style="font-size:9px;line-height:0;position:relative;top:-2px">*</sup></div>
<div class="t" style="left:2145.0px;top:647.8px;font-size:17.3px;color:#111;letter-spacing:-0.35px;">(GM@BQ)L-Glu + Laser</div>
<div class="t" style="left:2361.5px;top:647.8px;font-size:17.3px;color:#111;">4 ± 0.8<sup style="font-size:9px;line-height:0;position:relative;top:-2px">*</sup></div>
<div class="t" id="tab1" style="left:2139.4px;top:420.0px;font-size:14.6px;color:#111;"><b>Table 1:</b> Intracellular&nbsp; MIC of nano-assemblies.</div>
<svg style="left:2683.3px;top:423.1px;overflow:hidden" width="452.6" height="277.9" viewBox="0 0 452.6 277.9"><defs><radialGradient id="pl"><stop offset="0" stop-color="#8a8883"/><stop offset="0.8" stop-color="#9b9993"/><stop offset="0.93" stop-color="#b5b3ad"/><stop offset="1" stop-color="#c9c7c1"/></radialGradient><radialGradient id="pl2"><stop offset="0" stop-color="#908e8a"/><stop offset="0.8" stop-color="#a5a39c"/><stop offset="0.93" stop-color="#bcbab3"/><stop offset="1" stop-color="#cfcdc6"/></radialGradient><filter id="col0" x="0" y="0" width="100%" height="100%" color-interpolation-filters="sRGB"><feTurbulence type="fractalNoise" baseFrequency="0.26" numOctaves="3" seed="7" result="t"/><feColorMatrix in="t" type="matrix" values="0 0 0 0 0.9  0 0 0 0 0.885  0 0 0 0 0.82  7 0 0 0 -2.9" result="c"/><feGaussianBlur in="c" stdDeviation="0.4" result="c"/><feComposite in="c" in2="SourceAlpha" operator="in"/></filter><filter id="col1" x="0" y="0" width="100%" height="100%" color-interpolation-filters="sRGB"><feTurbulence type="fractalNoise" baseFrequency="0.26" numOctaves="3" seed="8" result="t"/><feColorMatrix in="t" type="matrix" values="0 0 0 0 0.9  0 0 0 0 0.885  0 0 0 0 0.82  7 0 0 0 -3.3" result="c"/><feGaussianBlur in="c" stdDeviation="0.4" result="c"/><feComposite in="c" in2="SourceAlpha" operator="in"/></filter><filter id="col2" x="0" y="0" width="100%" height="100%" color-interpolation-filters="sRGB"><feTurbulence type="fractalNoise" baseFrequency="0.26" numOctaves="3" seed="9" result="t"/><feColorMatrix in="t" type="matrix" values="0 0 0 0 0.9  0 0 0 0 0.885  0 0 0 0 0.82  7 0 0 0 -3.6" result="c"/><feGaussianBlur in="c" stdDeviation="0.4" result="c"/><feComposite in="c" in2="SourceAlpha" operator="in"/></filter><filter id="col3" x="0" y="0" width="100%" height="100%" color-interpolation-filters="sRGB"><feTurbulence type="fractalNoise" baseFrequency="0.26" numOctaves="3" seed="10" result="t"/><feColorMatrix in="t" type="matrix" values="0 0 0 0 0.9  0 0 0 0 0.885  0 0 0 0 0.82  7 0 0 0 -3.95" result="c"/><feGaussianBlur in="c" stdDeviation="0.4" result="c"/><feComposite in="c" in2="SourceAlpha" operator="in"/></filter><filter id="col4" x="0" y="0" width="100%" height="100%" color-interpolation-filters="sRGB"><feTurbulence type="fractalNoise" baseFrequency="0.26" numOctaves="3" seed="11" result="t"/><feColorMatrix in="t" type="matrix" values="0 0 0 0 0.9  0 0 0 0 0.885  0 0 0 0 0.82  7 0 0 0 -4.3" result="c"/><feGaussianBlur in="c" stdDeviation="0.4" result="c"/><feComposite in="c" in2="SourceAlpha" operator="in"/></filter></defs><rect width="452.6" height="277.9" fill="#3e4046"/><circle cx="54.1" cy="53.8" r="46.3" fill="#2a2b30"/><circle cx="52.6" cy="51.8" r="45.3" fill="url(#pl)"/><circle cx="52.6" cy="51.8" r="44.3" fill="none" stroke="#d6d4ce" stroke-width="1.4" opacity="0.8"/><circle cx="51.6" cy="50.8" r="40.3" fill="none" stroke="#c2c0ba" stroke-width="1" opacity="0.6"/><circle cx="144.0" cy="50.6" r="44.9" fill="#2a2b30"/><circle cx="142.5" cy="48.6" r="43.9" fill="url(#pl)"/><circle cx="142.5" cy="48.6" r="42.9" fill="none" stroke="#d6d4ce" stroke-width="1.4" opacity="0.8"/><circle cx="141.5" cy="47.6" r="38.9" fill="none" stroke="#c2c0ba" stroke-width="1" opacity="0.6"/><circle cx="231.0" cy="53.8" r="43.4" fill="#2a2b30"/><circle cx="229.5" cy="51.8" r="42.4" fill="url(#pl)"/><circle cx="229.5" cy="51.8" r="41.4" fill="none" stroke="#d6d4ce" stroke-width="1.4" opacity="0.8"/><circle cx="228.5" cy="50.8" r="37.4" fill="none" stroke="#c2c0ba" stroke-width="1" opacity="0.6"/><circle cx="317.6" cy="53.8" r="43.8" fill="#2a2b30"/><circle cx="316.1" cy="51.8" r="42.8" fill="url(#pl)"/><circle cx="316.1" cy="51.8" r="41.8" fill="none" stroke="#d6d4ce" stroke-width="1.4" opacity="0.8"/><circle cx="315.1" cy="50.8" r="37.8" fill="none" stroke="#c2c0ba" stroke-width="1" opacity="0.6"/><circle cx="406.4" cy="59.1" r="44.9" fill="#2a2b30"/><circle cx="404.9" cy="57.1" r="43.9" fill="url(#pl)"/><circle cx="404.9" cy="57.1" r="42.9" fill="none" stroke="#d6d4ce" stroke-width="1.4" opacity="0.8"/><circle cx="403.9" cy="56.1" r="38.9" fill="none" stroke="#c2c0ba" stroke-width="1" opacity="0.6"/><circle cx="57.1" cy="142.5" r="45.9" fill="#2a2b30"/><circle cx="55.6" cy="140.5" r="44.9" fill="url(#pl2)"/><circle cx="55.6" cy="140.5" r="43.9" fill="none" stroke="#d6d4ce" stroke-width="1.4" opacity="0.8"/><circle cx="54.6" cy="139.5" r="39.9" fill="none" stroke="#c2c0ba" stroke-width="1" opacity="0.6"/><circle cx="55.6" cy="140.5" r="39.4" fill="#000" filter="url(#col0)" opacity="0.95"/><circle cx="147.0" cy="138.3" r="44.4" fill="#2a2b30"/><circle cx="145.5" cy="136.3" r="43.4" fill="url(#pl2)"/><circle cx="145.5" cy="136.3" r="42.4" fill="none" stroke="#d6d4ce" stroke-width="1.4" opacity="0.8"/><circle cx="144.5" cy="135.3" r="38.4" fill="none" stroke="#c2c0ba" stroke-width="1" opacity="0.6"/><circle cx="145.5" cy="136.3" r="37.9" fill="#000" filter="url(#col1)" opacity="0.95"/><circle cx="233.8" cy="140.4" r="43.4" fill="#2a2b30"/><circle cx="232.3" cy="138.4" r="42.4" fill="url(#pl2)"/><circle cx="232.3" cy="138.4" r="41.4" fill="none" stroke="#d6d4ce" stroke-width="1.4" opacity="0.8"/><circle cx="231.3" cy="137.4" r="37.4" fill="none" stroke="#c2c0ba" stroke-width="1" opacity="0.6"/><circle cx="232.3" cy="138.4" r="36.9" fill="#000" filter="url(#col2)" opacity="0.95"/><circle cx="320.2" cy="140.4" r="43.4" fill="#2a2b30"/><circle cx="318.7" cy="138.4" r="42.4" fill="url(#pl2)"/><circle cx="318.7" cy="138.4" r="41.4" fill="none" stroke="#d6d4ce" stroke-width="1.4" opacity="0.8"/><circle cx="317.7" cy="137.4" r="37.4" fill="none" stroke="#c2c0ba" stroke-width="1" opacity="0.6"/><circle cx="318.7" cy="138.4" r="36.9" fill="#000" filter="url(#col3)" opacity="0.95"/><circle cx="406.4" cy="144.7" r="44.4" fill="#2a2b30"/><circle cx="404.9" cy="142.7" r="43.4" fill="url(#pl2)"/><circle cx="404.9" cy="142.7" r="42.4" fill="none" stroke="#d6d4ce" stroke-width="1.4" opacity="0.8"/><circle cx="403.9" cy="141.7" r="38.4" fill="none" stroke="#c2c0ba" stroke-width="1" opacity="0.6"/><circle cx="404.9" cy="142.7" r="37.9" fill="#000" filter="url(#col4)" opacity="0.95"/><circle cx="55.6" cy="232.4" r="46.3" fill="#2a2b30"/><circle cx="54.1" cy="230.4" r="45.3" fill="url(#pl2)"/><circle cx="54.1" cy="230.4" r="44.3" fill="none" stroke="#d6d4ce" stroke-width="1.4" opacity="0.8"/><circle cx="53.1" cy="229.4" r="40.3" fill="none" stroke="#c2c0ba" stroke-width="1" opacity="0.6"/><circle cx="54.1" cy="230.4" r="39.8" fill="#000" filter="url(#col0)" opacity="0.95"/><circle cx="146.1" cy="230.2" r="44.9" fill="#2a2b30"/><circle cx="144.6" cy="228.2" r="43.9" fill="url(#pl2)"/><circle cx="144.6" cy="228.2" r="42.9" fill="none" stroke="#d6d4ce" stroke-width="1.4" opacity="0.8"/><circle cx="143.6" cy="227.2" r="38.9" fill="none" stroke="#c2c0ba" stroke-width="1" opacity="0.6"/><circle cx="144.6" cy="228.2" r="38.4" fill="#000" filter="url(#col1)" opacity="0.95"/><circle cx="233.2" cy="229.2" r="43.8" fill="#2a2b30"/><circle cx="231.7" cy="227.2" r="42.8" fill="url(#pl2)"/><circle cx="231.7" cy="227.2" r="41.8" fill="none" stroke="#d6d4ce" stroke-width="1.4" opacity="0.8"/><circle cx="230.7" cy="226.2" r="37.8" fill="none" stroke="#c2c0ba" stroke-width="1" opacity="0.6"/><circle cx="231.7" cy="227.2" r="37.3" fill="#000" filter="url(#col2)" opacity="0.95"/><circle cx="319.8" cy="228.1" r="43.8" fill="#2a2b30"/><circle cx="318.3" cy="226.1" r="42.8" fill="url(#pl2)"/><circle cx="318.3" cy="226.1" r="41.8" fill="none" stroke="#d6d4ce" stroke-width="1.4" opacity="0.8"/><circle cx="317.3" cy="225.1" r="37.8" fill="none" stroke="#c2c0ba" stroke-width="1" opacity="0.6"/><circle cx="318.3" cy="226.1" r="37.3" fill="#000" filter="url(#col3)" opacity="0.95"/><circle cx="407.5" cy="231.3" r="44.9" fill="#2a2b30"/><circle cx="406" cy="229.3" r="43.9" fill="url(#pl2)"/><circle cx="406" cy="229.3" r="42.9" fill="none" stroke="#d6d4ce" stroke-width="1.4" opacity="0.8"/><circle cx="405" cy="228.3" r="38.9" fill="none" stroke="#c2c0ba" stroke-width="1" opacity="0.6"/><circle cx="406" cy="229.3" r="38.4" fill="#000" filter="url(#col3)" opacity="0.8"/><circle cx="76.9" cy="79.2" r="1.3" fill="#efece2"/><circle cx="51.7" cy="80.7" r="1.0" fill="#efece2"/><circle cx="32.1" cy="23.0" r="0.7" fill="#efece2"/><circle cx="88.4" cy="58.2" r="1.0" fill="#efece2"/><circle cx="54.0" cy="33.8" r="1.0" fill="#efece2"/><circle cx="48.5" cy="29.1" r="1.5" fill="#efece2"/><circle cx="67.8" cy="41.0" r="0.6" fill="#efece2"/><circle cx="15.2" cy="41.9" r="0.9" fill="#efece2"/><circle cx="58.3" cy="78.5" r="0.6" fill="#efece2"/><circle cx="57.5" cy="79.0" r="1.0" fill="#efece2"/><circle cx="55.0" cy="74.7" r="0.8" fill="#efece2"/><circle cx="29.0" cy="57.9" r="0.6" fill="#efece2"/><circle cx="68.4" cy="26.0" r="1.2" fill="#efece2"/><circle cx="68.2" cy="88.4" r="1.4" fill="#efece2"/><circle cx="71.0" cy="69.2" r="1.2" fill="#efece2"/><circle cx="43.3" cy="14.3" r="1.0" fill="#efece2"/><circle cx="68.4" cy="23.1" r="0.9" fill="#efece2"/><circle cx="20.7" cy="32.2" r="1.4" fill="#efece2"/><circle cx="21.7" cy="50.8" r="0.6" fill="#efece2"/><circle cx="54.2" cy="87.3" r="1.0" fill="#efece2"/><circle cx="66.6" cy="78.4" r="1.2" fill="#efece2"/><circle cx="40.6" cy="28.5" r="1.0" fill="#efece2"/><circle cx="17.5" cy="49.9" r="1.1" fill="#efece2"/><circle cx="30.1" cy="69.7" r="0.6" fill="#efece2"/><circle cx="84.8" cy="60.8" r="1.5" fill="#efece2"/><circle cx="30.4" cy="37.1" r="0.8" fill="#efece2"/><circle cx="13.0" cy="51.2" r="1.3" fill="#efece2"/><circle cx="16.8" cy="42.7" r="0.8" fill="#efece2"/><circle cx="13.8" cy="48.4" r="1.1" fill="#efece2"/><circle cx="29.5" cy="57.9" r="1.1" fill="#efece2"/><circle cx="70.1" cy="47.0" r="1.3" fill="#efece2"/><circle cx="68.7" cy="17.9" r="1.3" fill="#efece2"/><circle cx="63.3" cy="24.4" r="1.1" fill="#efece2"/><circle cx="35.4" cy="60.4" r="1.4" fill="#efece2"/><circle cx="32.3" cy="42.3" r="1.1" fill="#efece2"/><circle cx="26.9" cy="54.2" r="0.9" fill="#efece2"/><circle cx="21.8" cy="44.2" r="1.2" fill="#efece2"/><circle cx="34.6" cy="56.6" r="0.8" fill="#efece2"/><circle cx="66.2" cy="79.5" r="1.4" fill="#efece2"/><circle cx="63.2" cy="17.9" r="1.3" fill="#efece2"/><circle cx="51.4" cy="88.3" r="1.2" fill="#efece2"/><circle cx="68.5" cy="61.0" r="0.6" fill="#efece2"/><circle cx="53.4" cy="28.3" r="0.7" fill="#efece2"/><circle cx="34.5" cy="33.7" r="0.7" fill="#efece2"/><circle cx="68.5" cy="76.8" r="0.8" fill="#efece2"/><circle cx="47.8" cy="85.1" r="1.0" fill="#efece2"/><circle cx="40.2" cy="77.4" r="0.6" fill="#efece2"/><circle cx="32.0" cy="69.6" r="0.8" fill="#efece2"/><circle cx="81.9" cy="75.7" r="1.1" fill="#efece2"/><circle cx="60.6" cy="82.1" r="1.3" fill="#efece2"/><circle cx="70.8" cy="54.2" r="0.7" fill="#efece2"/><circle cx="48.4" cy="30.7" r="1.2" fill="#efece2"/><circle cx="39.5" cy="24.8" r="0.8" fill="#efece2"/><circle cx="87.7" cy="46.4" r="1.1" fill="#efece2"/><circle cx="58.0" cy="83.6" r="1.0" fill="#efece2"/><circle cx="30.3" cy="40.3" r="1.2" fill="#efece2"/><circle cx="75.5" cy="60.7" r="1.5" fill="#efece2"/><circle cx="70.2" cy="34.4" r="1.4" fill="#efece2"/><circle cx="38.3" cy="87.7" r="1.3" fill="#efece2"/><circle cx="32.2" cy="63.6" r="0.6" fill="#efece2"/><circle cx="66.2" cy="38.8" r="1.3" fill="#efece2"/><circle cx="82.3" cy="44.6" r="0.8" fill="#efece2"/><circle cx="79.2" cy="22.7" r="1.2" fill="#efece2"/><circle cx="26.3" cy="50.3" r="0.9" fill="#efece2"/><circle cx="61.6" cy="83.4" r="1.0" fill="#efece2"/><circle cx="59.6" cy="70.9" r="1.2" fill="#efece2"/><circle cx="44.3" cy="79.6" r="0.9" fill="#efece2"/><circle cx="78.8" cy="24.5" r="0.6" fill="#efece2"/><circle cx="60.3" cy="75.8" r="1.5" fill="#efece2"/><circle cx="57.8" cy="26.9" r="0.8" fill="#efece2"/><circle cx="148.6" cy="80.1" r="0.7" fill="#efece2"/><circle cx="119.8" cy="28.7" r="1.3" fill="#efece2"/><circle cx="163.6" cy="51.3" r="1.1" fill="#efece2"/><circle cx="168.1" cy="44.9" r="0.7" fill="#efece2"/><circle cx="156.4" cy="30.6" r="1.3" fill="#efece2"/><circle cx="143.2" cy="80.7" r="1.1" fill="#efece2"/><circle cx="156.0" cy="33.1" r="0.6" fill="#efece2"/><circle cx="121.2" cy="37.8" r="0.9" fill="#efece2"/><circle cx="155.7" cy="20.4" r="1.1" fill="#efece2"/><circle cx="161.3" cy="41.8" r="0.6" fill="#efece2"/><circle cx="146.1" cy="30.6" r="1.1" fill="#efece2"/><circle cx="142.7" cy="76.1" r="0.8" fill="#efece2"/><circle cx="155.7" cy="75.0" r="1.3" fill="#efece2"/><circle cx="154.0" cy="75.2" r="1.3" fill="#efece2"/><circle cx="152.8" cy="17.6" r="1.5" fill="#efece2"/><circle cx="128.2" cy="23.6" r="1.2" fill="#efece2"/><circle cx="160.3" cy="31.0" r="1.0" fill="#efece2"/><circle cx="150.4" cy="71.8" r="1.3" fill="#efece2"/><circle cx="152.3" cy="19.2" r="1.4" fill="#efece2"/><circle cx="160.7" cy="30.5" r="1.4" fill="#efece2"/><circle cx="165.2" cy="57.3" r="0.8" fill="#efece2"/><circle cx="147.9" cy="21.2" r="0.7" fill="#efece2"/><circle cx="150.5" cy="67.5" r="1.4" fill="#efece2"/><circle cx="146.7" cy="16.6" r="1.2" fill="#efece2"/><circle cx="163.1" cy="34.8" r="1.2" fill="#efece2"/><circle cx="163.3" cy="43.8" r="0.8" fill="#efece2"/><circle cx="169.5" cy="31.7" r="1.2" fill="#efece2"/><circle cx="119.2" cy="29.8" r="1.3" fill="#efece2"/><circle cx="150.0" cy="66.3" r="1.3" fill="#efece2"/><circle cx="120.2" cy="33.2" r="0.8" fill="#efece2"/><circle cx="135.4" cy="18.6" r="0.7" fill="#efece2"/><circle cx="169.1" cy="33.6" r="0.8" fill="#efece2"/><circle cx="133.2" cy="19.0" r="1.0" fill="#efece2"/><circle cx="158.1" cy="54.1" r="0.9" fill="#efece2"/><circle cx="130.0" cy="24.2" r="0.7" fill="#efece2"/><circle cx="145.7" cy="64.7" r="1.3" fill="#efece2"/><circle cx="124.1" cy="39.9" r="1.3" fill="#efece2"/><circle cx="132.7" cy="32.2" r="1.2" fill="#efece2"/><circle cx="149.9" cy="33.6" r="1.5" fill="#efece2"/><circle cx="133.7" cy="34.5" r="0.9" fill="#efece2"/><circle cx="230.9" cy="70.4" r="0.9" fill="#efece2"/><circle cx="213.1" cy="39.3" r="0.7" fill="#efece2"/><circle cx="255.3" cy="53.9" r="0.8" fill="#efece2"/><circle cx="232.4" cy="81.5" r="1.0" fill="#efece2"/><circle cx="238.2" cy="37.3" r="1.2" fill="#efece2"/><circle cx="241.7" cy="68.7" r="1.4" fill="#efece2"/><circle cx="206.2" cy="48.4" r="1.2" fill="#efece2"/><circle cx="251.5" cy="61.2" r="1.1" fill="#efece2"/><circle cx="227.7" cy="57.3" r="1.4" fill="#efece2"/><circle cx="206.9" cy="55.7" r="1.4" fill="#efece2"/><circle cx="316.6" cy="57.8" r="1.0" fill="#efece2"/><circle cx="318.9" cy="55.9" r="1.0" fill="#efece2"/><circle cx="338.9" cy="38.9" r="1.3" fill="#efece2"/><circle cx="319.4" cy="70.1" r="0.8" fill="#efece2"/><circle cx="318.9" cy="57.2" r="0.8" fill="#efece2"/><text x="312.5" y="27.6" text-anchor="middle" font-family="Liberation Sans" font-weight="bold" font-size="12.6" fill="#e21616">MIC</text><text x="407" y="29" text-anchor="middle" font-family="Liberation Sans" font-weight="bold" font-size="12.6" fill="#e21616">MBC</text></svg>
<div class="t" style="left:2730.7px;top:400.2px;font-size:15.2px;font-weight:bold;color:#111;transform:translateX(-50%);">10 ng</div>
<div class="t" style="left:2821.6px;top:402.3px;font-size:15.2px;font-weight:bold;color:#111;transform:translateX(-50%);">8 ng</div>
<div class="t" style="left:2909.6px;top:402.3px;font-size:15.2px;font-weight:bold;color:#111;transform:translateX(-50%);">6 ng</div>
<div class="t" style="left:2995.8px;top:405.3px;font-size:15.2px;font-weight:bold;color:#111;transform:translateX(-50%);">4 ng</div>
<div class="t" style="left:3088.5px;top:400.2px;font-size:15.2px;font-weight:bold;color:#111;transform:translateX(-50%);">2 ng</div>
<div class="t" style="left:2637.0px;top:412.3px;font-size:22px;font-weight:bold;">A.</div>
<div class="t" style="left:2624.1px;top:463.1px;font-size:14.5px;font-weight:bold;color:#111;transform:translateX(-50%);">(GM@BQ)L-Glu</div>
<div class="t" style="left:2624.8px;top:481.6px;font-size:14.5px;font-weight:bold;color:#111;transform:translateX(-50%);">+ Laser</div>
<div class="t" style="left:2615.1px;top:555.5px;font-size:14.5px;font-weight:bold;color:#111;transform:translateX(-50%);">(GM@BQ)L-Glu</div>
<div class="t" style="left:2615.7px;top:573.6px;font-size:14.5px;font-weight:bold;color:#111;transform:translateX(-50%);">- Laser</div>
<div class="t" style="left:2615.2px;top:636.0px;font-size:14.5px;font-weight:bold;color:#111;transform:translateX(-50%);">BQ</div>
<svg style="left:2180.8px;top:779.9px;overflow:hidden" width="178.3" height="178.3" viewBox="0 0 178.3 178.3"><rect width="178.3" height="178.3" fill="#000"/><ellipse cx="31.9" cy="70.4" rx="20.0" ry="16.0" fill="#14c814" filter="url(#b3)" transform="rotate(35 31.9 70.4)"/><ellipse cx="39.6" cy="78.1" rx="10.0" ry="10.0" fill="#f08a10" filter="url(#b2)"/><ellipse cx="17.5" cy="113.5" rx="12.0" ry="11.0" fill="#0e8a0e" filter="url(#b3)"/><ellipse cx="38.5" cy="121.3" rx="17.0" ry="18.0" fill="#14c814" filter="url(#b3)" transform="rotate(-20 38.5 121.3)"/><ellipse cx="36.3" cy="125.7" rx="9.0" ry="11.0" fill="#f08a10" filter="url(#b2)" transform="rotate(-25 36.3 125.7)"/><ellipse cx="87.2" cy="158.9" rx="26.0" ry="11.0" fill="#14c814" filter="url(#b3)" transform="rotate(-12 87.2 158.9)"/><ellipse cx="89.4" cy="160.0" rx="9.0" ry="11.0" fill="#f08a10" filter="url(#b2)"/><ellipse cx="111.5" cy="92.5" rx="30.0" ry="24.0" fill="#0a5a0a" filter="url(#b5)" transform="rotate(-30 111.5 92.5)"/><ellipse cx="98.0" cy="101.0" rx="5.0" ry="7.0" fill="#b05a10" filter="url(#b2)" opacity="0.8"/><ellipse cx="122.0" cy="78.0" rx="6.0" ry="3.0" fill="#b05a10" filter="url(#b2)" opacity="0.7"/><ellipse cx="118.2" cy="114.6" rx="15.0" ry="14.0" fill="#22ee22" filter="url(#b3)"/><ellipse cx="122.6" cy="110.2" rx="7.0" ry="7.0" fill="#f0d020" filter="url(#b2)"/><ellipse cx="159.1" cy="114.6" rx="16.0" ry="15.0" fill="#14c814" filter="url(#b3)"/><ellipse cx="164.6" cy="119.0" rx="6.0" ry="6.0" fill="#f08a10" filter="url(#b2)"/><ellipse cx="155.8" cy="61.5" rx="15.0" ry="20.0" fill="#0e8a0e" filter="url(#b3)" transform="rotate(15 155.8 61.5)"/><ellipse cx="178.0" cy="176.0" rx="6.0" ry="10.0" fill="#14c814" filter="url(#b2)"/><path d="M129.2 158.9H172.4" stroke="#d8d8d8" stroke-width="1.1"/></svg>
<svg style="left:2368.2px;top:779.9px;overflow:hidden" width="181.9" height="178.3" viewBox="0 0 181.9 178.3"><rect width="181.9" height="178.3" fill="#000"/><ellipse cx="60.0" cy="95.0" rx="40.0" ry="50.0" fill="#063006" filter="url(#b5)" opacity="0.7"/><ellipse cx="150.0" cy="85.0" rx="18.0" ry="8.0" fill="#0a5a0a" filter="url(#b3)" transform="rotate(30 150.0 85.0)"/><ellipse cx="59.1" cy="54.9" rx="21.0" ry="23.0" fill="#129012" filter="url(#b5)"/><ellipse cx="59.1" cy="50.0" rx="13.0" ry="10.0" fill="#1cb01c" filter="url(#b3)"/><ellipse cx="40.3" cy="90.3" rx="11.0" ry="19.0" fill="#1ed41e" filter="url(#b3)" transform="rotate(10 40.3 90.3)"/><ellipse cx="77.9" cy="94.7" rx="14.0" ry="20.0" fill="#24f424" filter="url(#b3)" transform="rotate(35 77.9 94.7)"/><ellipse cx="138.7" cy="68.2" rx="22.0" ry="11.0" fill="#14c814" filter="url(#b3)" transform="rotate(35 138.7 68.2)"/><ellipse cx="136.0" cy="66.0" rx="11.0" ry="7.0" fill="#24f424" filter="url(#b2)" transform="rotate(35 136.0 66.0)"/><ellipse cx="20.4" cy="127.9" rx="10.0" ry="19.0" fill="#1ee01e" filter="url(#b3)" transform="rotate(-20 20.4 127.9)"/><ellipse cx="51.3" cy="127.9" rx="10.0" ry="12.0" fill="#24f424" filter="url(#b3)"/><path d="M129.5 158.9H172.4" stroke="#d8d8d8" stroke-width="1.1"/></svg>
<svg style="left:2560.0px;top:779.9px;overflow:hidden" width="178.2" height="178.3" viewBox="0 0 178.2 178.3"><rect width="178.2" height="178.3" fill="#000"/><ellipse cx="128.3" cy="36.1" rx="24.0" ry="19.0" fill="#16a416" filter="url(#b2)" transform="rotate(-10 128.3 36.1)"/><ellipse cx="159.3" cy="23.9" rx="15.0" ry="11.0" fill="#16a416" filter="url(#b2)" transform="rotate(-30 159.3 23.9)"/><ellipse cx="135.0" cy="42.7" rx="3.2" ry="4.0" fill="#f08a10" filter="url(#b05)"/><ellipse cx="27.7" cy="96.9" rx="20.0" ry="26.0" fill="#149814" filter="url(#b2)" transform="rotate(10 27.7 96.9)"/><ellipse cx="35.4" cy="103.6" rx="3.0" ry="5.0" fill="#f08a10" filter="url(#b05)" transform="rotate(20 35.4 103.6)"/><ellipse cx="135.0" cy="125.7" rx="26.0" ry="29.0" fill="#0b500b" filter="url(#b3)"/><ellipse cx="116.2" cy="134.5" rx="5.0" ry="9.0" fill="#e06a10" filter="url(#b1)" transform="rotate(-20 116.2 134.5)"/><ellipse cx="86.3" cy="136.8" rx="14.0" ry="13.0" fill="#18b818" filter="url(#b2)"/><ellipse cx="88.5" cy="154.5" rx="17.0" ry="13.0" fill="#0e700e" filter="url(#b2)"/><ellipse cx="83.0" cy="139.0" rx="3.0" ry="3.0" fill="#f08a10" filter="url(#b05)"/><ellipse cx="28.0" cy="2.0" rx="6.0" ry="3.0" fill="#14c814" filter="url(#b2)"/><path d="M122.8 158.9H166.0" stroke="#d8d8d8" stroke-width="1.1"/></svg>
<svg style="left:2748.1px;top:779.9px;overflow:hidden" width="178.2" height="178.3" viewBox="0 0 178.2 178.3"><rect width="178.2" height="178.3" fill="#000"/><ellipse cx="33.9" cy="13.6" rx="13.0" ry="11.0" fill="#22ee22" filter="url(#b3)" transform="rotate(-15 33.9 13.6)"/><ellipse cx="92.2" cy="12.1" rx="14.0" ry="7.0" fill="#0e8a0e" filter="url(#b3)" transform="rotate(-25 92.2 12.1)"/><ellipse cx="114.3" cy="26.8" rx="12.0" ry="15.0" fill="#14c814" filter="url(#b3)" transform="rotate(15 114.3 26.8)"/><ellipse cx="167.4" cy="46.8" rx="13.0" ry="14.0" fill="#22ee22" filter="url(#b3)"/><ellipse cx="39.8" cy="60.0" rx="11.0" ry="11.0" fill="#12a012" filter="url(#b3)"/><ellipse cx="87.0" cy="60.0" rx="8.0" ry="11.0" fill="#22ee22" filter="url(#b3)"/><ellipse cx="157.1" cy="67.4" rx="10.0" ry="10.0" fill="#12a012" filter="url(#b3)"/><ellipse cx="9.6" cy="72.6" rx="11.0" ry="10.0" fill="#14b414" filter="url(#b3)"/><ellipse cx="133.5" cy="77.7" rx="12.0" ry="10.0" fill="#0e8a0e" filter="url(#b3)" transform="rotate(30 133.5 77.7)"/><ellipse cx="22.9" cy="95.4" rx="10.0" ry="13.0" fill="#22ee22" filter="url(#b3)" transform="rotate(-15 22.9 95.4)"/><ellipse cx="55.3" cy="105.0" rx="12.0" ry="12.0" fill="#14c814" filter="url(#b3)"/><ellipse cx="92.2" cy="101.3" rx="10.0" ry="19.0" fill="#0e8a0e" filter="url(#b3)" transform="rotate(-10 92.2 101.3)"/><ellipse cx="121.7" cy="111.7" rx="13.0" ry="16.0" fill="#22ee22" filter="url(#b3)"/><ellipse cx="121.0" cy="110.0" rx="6.0" ry="8.0" fill="#b0f030" filter="url(#b2)" transform="rotate(-30 121.0 110.0)"/><ellipse cx="170.4" cy="106.5" rx="9.0" ry="10.0" fill="#22ee22" filter="url(#b2)"/><ellipse cx="108.4" cy="148.5" rx="14.0" ry="16.0" fill="#0c780c" filter="url(#b3)"/><ellipse cx="171.1" cy="156.7" rx="8.0" ry="11.0" fill="#22ee22" filter="url(#b2)"/><ellipse cx="137.2" cy="169.2" rx="15.0" ry="12.0" fill="#0c700c" filter="url(#b3)"/><ellipse cx="0.7" cy="155.2" rx="4.0" ry="9.0" fill="#22ee22" filter="url(#b2)"/><ellipse cx="159.6" cy="117.3" rx="2.3" ry="2.3" fill="#a01010" filter="url(#b1)"/><path d="M127.3 158.6H171.1" stroke="#d8d8d8" stroke-width="1.1"/></svg>
<svg style="left:2935.8px;top:779.9px;overflow:hidden" width="178.1" height="178.3" viewBox="0 0 178.1 178.3"><rect width="178.1" height="178.3" fill="#000"/><ellipse cx="142.1" cy="23.2" rx="19.0" ry="17.0" fill="#f0b414" filter="url(#b2)"/><ellipse cx="150.0" cy="20.0" rx="10.0" ry="9.0" fill="#f6dc18" filter="url(#b2)"/><ellipse cx="134.7" cy="29.1" rx="8.0" ry="8.0" fill="#20b020" filter="url(#b2)"/><ellipse cx="37.3" cy="61.5" rx="22.0" ry="24.0" fill="#1a8a1a" filter="url(#b2)"/><ellipse cx="31.0" cy="66.0" rx="15.0" ry="18.0" fill="#e07a14" filter="url(#b2)"/><ellipse cx="40.0" cy="80.0" rx="12.0" ry="8.0" fill="#e8801a" filter="url(#b2)"/><ellipse cx="46.2" cy="60.0" rx="9.0" ry="9.0" fill="#169a16" filter="url(#b1)"/><ellipse cx="25.0" cy="58.0" rx="3.0" ry="3.0" fill="#111" filter="url(#b1)"/><ellipse cx="29.0" cy="66.0" rx="2.5" ry="2.5" fill="#111" filter="url(#b1)"/><ellipse cx="22.0" cy="63.0" rx="2.0" ry="2.0" fill="#111" filter="url(#b1)"/><ellipse cx="79.4" cy="55.6" rx="17.0" ry="16.0" fill="#189018" filter="url(#b2)"/><ellipse cx="86.0" cy="54.1" rx="10.0" ry="10.0" fill="#f08a14" filter="url(#b2)"/><ellipse cx="117.0" cy="54.1" rx="14.0" ry="22.0" fill="#169016" filter="url(#b2)" transform="rotate(10 117.0 54.1)"/><ellipse cx="112.6" cy="58.0" rx="8.0" ry="10.0" fill="#e8901a" filter="url(#b2)"/><ellipse cx="146.5" cy="64.5" rx="13.0" ry="18.0" fill="#18a018" filter="url(#b2)"/><ellipse cx="150.2" cy="57.0" rx="8.0" ry="11.0" fill="#e8b020" filter="url(#b2)"/><ellipse cx="84.5" cy="83.6" rx="16.0" ry="15.0" fill="#168a16" filter="url(#b2)"/><ellipse cx="86.0" cy="86.6" rx="11.0" ry="9.0" fill="#e88a14" filter="url(#b2)"/><ellipse cx="52.1" cy="101.3" rx="19.0" ry="15.0" fill="#169016" filter="url(#b2)" transform="rotate(20 52.1 101.3)"/><ellipse cx="45.0" cy="104.3" rx="10.0" ry="9.0" fill="#f0801a" filter="url(#b2)"/><ellipse cx="118.5" cy="98.4" rx="18.0" ry="15.0" fill="#1a9a1a" filter="url(#b2)"/><ellipse cx="119.9" cy="93.0" rx="14.0" ry="8.0" fill="#f0b41a" filter="url(#b2)"/><ellipse cx="87.5" cy="123.5" rx="17.0" ry="17.0" fill="#168816" filter="url(#b2)"/><ellipse cx="86.0" cy="127.9" rx="12.0" ry="10.0" fill="#d88a1a" filter="url(#b2)"/><ellipse cx="121.4" cy="166.2" rx="35.0" ry="12.0" fill="#0a500a" filter="url(#b3)"/><ellipse cx="124.4" cy="151.5" rx="22.0" ry="19.0" fill="#f05a14" filter="url(#b2)"/><ellipse cx="117.0" cy="155.9" rx="9.0" ry="8.0" fill="#148a14" filter="url(#b1)"/><path d="M123.6 158.6H167.1" stroke="#d8d8d8" stroke-width="1.1"/></svg>
<div class="t" style="left:2152.1px;top:719.0px;font-size:22px;font-weight:bold;">B.</div>
<div class="t" style="left:2270.8px;top:745.8px;font-size:19px;font-weight:bold;color:#111;transform:translateX(-50%);">Macrophage</div>
<div class="t" style="left:2460.8px;top:725.3px;font-size:19px;font-weight:bold;color:#111;transform:translateX(-50%);"><i>Msmeg</i> infected</div>
<div class="t" style="left:2460.8px;top:744.5px;font-size:19px;font-weight:bold;color:#111;transform:translateX(-50%);">macrophage</div>
<div class="t" style="left:2648.7px;top:748.8px;font-size:19px;font-weight:bold;color:#111;transform:translateX(-50%);">BQ</div>
<div class="t" style="left:2834.8px;top:733.0px;font-size:19px;font-weight:bold;color:#111;transform:translateX(-50%);">(GM@BQ)L-Glu</div>
<div class="t" style="left:2834.8px;top:753.1px;font-size:19px;font-weight:bold;color:#111;transform:translateX(-50%);">- Laser</div>
<div class="t" style="left:3006.0px;top:734.3px;font-size:19px;font-weight:bold;color:#111;transform:translateX(-50%);">(GM@BQ)L-Glu</div>
<div class="t" style="left:3006.0px;top:754.4px;font-size:19px;font-weight:bold;color:#111;transform:translateX(-50%);">+ Laser</div>
<div class="t" style="left:2657.2px;top:1003.6px;font-size:18.9px;font-weight:bold;color:#111;transform:translateX(-50%);">(GM@BQ)L-Glu</div>
<div class="t" style="left:2652.8px;top:1024.0px;font-size:18.9px;font-weight:bold;color:#111;transform:translateX(-50%);">+ Laser</div>
<div class="t" style="left:2657.0px;top:1198.4px;font-size:16.8px;font-weight:bold;color:#111;transform:translateX(-50%);">(GM@BQ)L-Glu</div>
<div class="t" style="left:2652.8px;top:1217.1px;font-size:16.8px;font-weight:bold;color:#111;transform:translateX(-50%);">+ Laser</div>
<svg style="left:2232.1px;top:1041.1px;overflow:hidden" width="165.1" height="155.4" viewBox="0 0 165.1 155.4"><rect width="165.1" height="155.4" fill="#010110"/><ellipse cx="43.0" cy="74.0" rx="42.0" ry="20.0" fill="#07074a" filter="url(#b5)"/><ellipse cx="120.0" cy="55.0" rx="38.0" ry="16.0" fill="#05053a" filter="url(#b5)"/><ellipse cx="70.0" cy="90.0" rx="16.0" ry="14.0" fill="#070746" filter="url(#b3)"/><ellipse cx="47.4" cy="64.6" rx="16.0" ry="15.0" fill="#1616f8" filter="url(#b2)"/><ellipse cx="48.0" cy="67.0" rx="3.0" ry="2.5" fill="#0c0cb0" filter="url(#b1)"/><ellipse cx="97.9" cy="48.4" rx="14.0" ry="12.0" fill="#1818f4" filter="url(#b2)" transform="rotate(20 97.9 48.4)"/><ellipse cx="112.0" cy="57.5" rx="6.0" ry="5.0" fill="#1818f4" filter="url(#b2)"/><ellipse cx="66.6" cy="127.2" rx="12.5" ry="19.0" fill="#1a1af0" filter="url(#b2)" transform="rotate(8 66.6 127.2)"/><path d="M125.8 136.9H157.4" stroke="#d8d8d8" stroke-width="1.1"/></svg>
<svg style="left:2403.6px;top:1039.4px;overflow:hidden" width="165.2" height="156.1" viewBox="0 0 165.2 156.1"><rect width="165.2" height="156.1" fill="#000"/><ellipse cx="112.0" cy="48.0" rx="45.0" ry="15.0" fill="#6a0a0a" filter="url(#b3)" transform="rotate(-12 112.0 48.0)"/><ellipse cx="49.5" cy="76.3" rx="40.0" ry="20.0" fill="#470606" filter="url(#b3)" transform="rotate(-8 49.5 76.3)"/><ellipse cx="75.0" cy="98.0" rx="14.0" ry="14.0" fill="#3a0505" filter="url(#b3)"/><ellipse cx="68.6" cy="126.8" rx="12.5" ry="17.0" fill="#dc1414" filter="url(#b2)" transform="rotate(8 68.6 126.8)"/><g filter="url(#b05)"><circle cx="114.0" cy="52.9" r="1.0" fill="#d81c1c"/><circle cx="87.6" cy="45.5" r="1.1" fill="#d81c1c"/><circle cx="107.7" cy="38.3" r="0.9" fill="#d81c1c"/><circle cx="100.1" cy="45.5" r="0.8" fill="#d81c1c"/><circle cx="94.1" cy="43.8" r="1.1" fill="#d81c1c"/><circle cx="101.5" cy="49.3" r="0.5" fill="#d81c1c"/><circle cx="129.5" cy="44.8" r="1.2" fill="#d81c1c"/><circle cx="96.5" cy="43.9" r="0.8" fill="#d81c1c"/><circle cx="91.1" cy="45.0" r="1.3" fill="#d81c1c"/><circle cx="92.9" cy="47.6" r="1.2" fill="#d81c1c"/><circle cx="129.2" cy="54.7" r="0.9" fill="#d81c1c"/><circle cx="84.4" cy="43.2" r="0.9" fill="#d81c1c"/><circle cx="101.9" cy="46.5" r="1.2" fill="#d81c1c"/><circle cx="103.0" cy="55.4" r="0.7" fill="#d81c1c"/><circle cx="137.4" cy="42.5" r="1.1" fill="#d81c1c"/><circle cx="101.9" cy="37.1" r="1.1" fill="#d81c1c"/><circle cx="114.7" cy="49.7" r="1.2" fill="#d81c1c"/><circle cx="112.3" cy="58.0" r="1.2" fill="#d81c1c"/><circle cx="85.5" cy="48.1" r="0.9" fill="#d81c1c"/><circle cx="56.0" cy="57.8" r="0.8" fill="#d81c1c"/><circle cx="107.9" cy="45.4" r="1.1" fill="#d81c1c"/><circle cx="121.1" cy="44.7" r="0.9" fill="#d81c1c"/><circle cx="71.6" cy="41.9" r="0.7" fill="#d81c1c"/><circle cx="82.2" cy="40.2" r="1.0" fill="#d81c1c"/><circle cx="104.6" cy="48.3" r="0.8" fill="#d81c1c"/><circle cx="114.9" cy="42.6" r="1.0" fill="#d81c1c"/><circle cx="97.1" cy="47.6" r="0.6" fill="#d81c1c"/><circle cx="112.1" cy="35.4" r="0.8" fill="#d81c1c"/><circle cx="89.0" cy="36.8" r="1.2" fill="#d81c1c"/><circle cx="117.8" cy="43.4" r="1.3" fill="#d81c1c"/><circle cx="123.4" cy="43.1" r="1.2" fill="#d81c1c"/><circle cx="82.6" cy="45.3" r="0.7" fill="#d81c1c"/><circle cx="107.6" cy="42.5" r="0.6" fill="#d81c1c"/><circle cx="110.6" cy="35.3" r="0.9" fill="#d81c1c"/><circle cx="103.1" cy="43.3" r="0.7" fill="#d81c1c"/><circle cx="95.3" cy="51.1" r="0.6" fill="#d81c1c"/><circle cx="114.8" cy="47.3" r="1.2" fill="#d81c1c"/><circle cx="129.6" cy="44.0" r="0.9" fill="#d81c1c"/><circle cx="99.4" cy="60.2" r="0.9" fill="#d81c1c"/><circle cx="99.4" cy="43.6" r="0.7" fill="#d81c1c"/><circle cx="114.8" cy="30.9" r="1.2" fill="#d81c1c"/><circle cx="109.5" cy="32.6" r="1.0" fill="#d81c1c"/><circle cx="113.5" cy="32.5" r="0.9" fill="#d81c1c"/><circle cx="111.2" cy="37.3" r="0.5" fill="#d81c1c"/><circle cx="109.1" cy="29.3" r="0.5" fill="#d81c1c"/><circle cx="108.4" cy="32.3" r="1.2" fill="#d81c1c"/><circle cx="46.7" cy="73.3" r="0.8" fill="#d81c1c"/><circle cx="102.0" cy="72.1" r="0.6" fill="#d81c1c"/><circle cx="67.4" cy="77.7" r="0.5" fill="#d81c1c"/><circle cx="49.6" cy="77.3" r="1.2" fill="#d81c1c"/><circle cx="54.2" cy="73.0" r="0.9" fill="#d81c1c"/><circle cx="49.5" cy="83.3" r="0.7" fill="#d81c1c"/><circle cx="66.4" cy="79.9" r="0.8" fill="#d81c1c"/><circle cx="53.7" cy="67.4" r="0.5" fill="#d81c1c"/><circle cx="50.1" cy="62.2" r="1.1" fill="#d81c1c"/><circle cx="60.6" cy="75.2" r="0.9" fill="#d81c1c"/><circle cx="91.3" cy="80.6" r="0.6" fill="#d81c1c"/><circle cx="56.3" cy="70.8" r="1.1" fill="#d81c1c"/><circle cx="57.7" cy="77.9" r="0.8" fill="#d81c1c"/><circle cx="44.3" cy="90.0" r="0.7" fill="#d81c1c"/><circle cx="34.8" cy="75.8" r="1.3" fill="#d81c1c"/><circle cx="82.1" cy="81.5" r="0.9" fill="#d81c1c"/><circle cx="54.9" cy="57.8" r="0.7" fill="#d81c1c"/><circle cx="52.4" cy="67.9" r="0.9" fill="#d81c1c"/><circle cx="93.8" cy="81.0" r="1.3" fill="#d81c1c"/><circle cx="49.3" cy="80.8" r="1.3" fill="#d81c1c"/><circle cx="66.2" cy="77.7" r="0.6" fill="#d81c1c"/><circle cx="73.3" cy="65.1" r="0.9" fill="#d81c1c"/><circle cx="57.1" cy="75.0" r="1.0" fill="#d81c1c"/><circle cx="37.4" cy="79.0" r="0.8" fill="#d81c1c"/><circle cx="48.4" cy="78.9" r="0.5" fill="#d81c1c"/><circle cx="46.2" cy="78.1" r="1.1" fill="#d81c1c"/><circle cx="73.2" cy="65.8" r="0.9" fill="#d81c1c"/><circle cx="61.7" cy="82.9" r="0.9" fill="#d81c1c"/><circle cx="25.3" cy="62.8" r="0.6" fill="#d81c1c"/><circle cx="36.9" cy="77.0" r="1.1" fill="#d81c1c"/><circle cx="86.9" cy="68.3" r="1.0" fill="#d81c1c"/><circle cx="61.6" cy="65.6" r="1.2" fill="#d81c1c"/><circle cx="50.5" cy="65.9" r="0.7" fill="#d81c1c"/><circle cx="77.1" cy="72.5" r="1.0" fill="#d81c1c"/><circle cx="83.3" cy="59.9" r="1.3" fill="#d81c1c"/><circle cx="77.3" cy="76.2" r="0.7" fill="#d81c1c"/><circle cx="51.3" cy="78.5" r="0.9" fill="#d81c1c"/><circle cx="74.9" cy="78.8" r="1.3" fill="#d81c1c"/><circle cx="58.9" cy="68.2" r="0.6" fill="#d81c1c"/><circle cx="90.0" cy="73.0" r="0.7" fill="#d81c1c"/><circle cx="45.4" cy="84.6" r="1.0" fill="#d81c1c"/><circle cx="56.6" cy="93.2" r="0.8" fill="#d81c1c"/><circle cx="59.0" cy="89.5" r="0.6" fill="#d81c1c"/><circle cx="54.4" cy="71.8" r="1.0" fill="#d81c1c"/><circle cx="56.7" cy="82.7" r="1.3" fill="#d81c1c"/><circle cx="39.0" cy="77.5" r="1.0" fill="#d81c1c"/><circle cx="57.6" cy="80.3" r="0.8" fill="#d81c1c"/><circle cx="58.2" cy="80.5" r="1.3" fill="#d81c1c"/><circle cx="95.6" cy="78.7" r="1.2" fill="#d81c1c"/><circle cx="58.9" cy="74.7" r="0.9" fill="#d81c1c"/><circle cx="85.6" cy="87.0" r="1.1" fill="#d81c1c"/><circle cx="75.1" cy="85.7" r="0.9" fill="#d81c1c"/><circle cx="80.7" cy="87.9" r="0.9" fill="#d81c1c"/><circle cx="81.1" cy="81.4" r="0.6" fill="#d81c1c"/><circle cx="78.9" cy="74.2" r="0.9" fill="#d81c1c"/><circle cx="79.9" cy="86.2" r="0.8" fill="#d81c1c"/><circle cx="69.6" cy="83.6" r="1.1" fill="#d81c1c"/><circle cx="85.1" cy="73.6" r="1.2" fill="#d81c1c"/><circle cx="85.5" cy="85.9" r="0.6" fill="#d81c1c"/><circle cx="85.7" cy="79.1" r="1.1" fill="#d81c1c"/><circle cx="76.1" cy="86.9" r="1.2" fill="#d81c1c"/><circle cx="66.3" cy="79.8" r="0.9" fill="#d81c1c"/><circle cx="77.3" cy="79.8" r="0.7" fill="#d81c1c"/><circle cx="70.9" cy="89.0" r="1.0" fill="#d81c1c"/><circle cx="77.4" cy="83.5" r="0.6" fill="#d81c1c"/><circle cx="63.0" cy="84.3" r="0.7" fill="#d81c1c"/><circle cx="74.7" cy="87.1" r="0.5" fill="#d81c1c"/><circle cx="62.9" cy="85.3" r="1.0" fill="#d81c1c"/><circle cx="77.0" cy="87.4" r="1.2" fill="#d81c1c"/><circle cx="67.0" cy="83.5" r="1.1" fill="#d81c1c"/></g><path d="M123.5 139.3H155.0" stroke="#d8d8d8" stroke-width="1.1"/></svg>
<svg style="left:2575.2px;top:1041.1px;overflow:hidden" width="164.1" height="155.4" viewBox="0 0 164.1 155.4"><rect width="164.1" height="155.4" fill="#000"/><g filter="url(#b05)"><circle cx="87.7" cy="48.6" r="0.9" fill="#20e020"/><circle cx="82.0" cy="45.4" r="0.6" fill="#20e020"/><circle cx="85.3" cy="58.4" r="0.6" fill="#20e020"/><circle cx="83.1" cy="39.6" r="0.6" fill="#20e020"/><circle cx="75.3" cy="46.9" r="0.9" fill="#20e020"/><circle cx="87.3" cy="48.3" r="0.5" fill="#20e020"/><circle cx="91.4" cy="46.1" r="0.7" fill="#20e020"/><circle cx="80.1" cy="53.4" r="1.4" fill="#20e020"/><circle cx="85.2" cy="52.5" r="1.0" fill="#20e020"/><circle cx="64.8" cy="44.0" r="1.3" fill="#20e020"/><circle cx="80.5" cy="51.6" r="1.3" fill="#20e020"/><circle cx="85.8" cy="48.3" r="1.2" fill="#20e020"/><circle cx="91.7" cy="42.0" r="0.7" fill="#20e020"/><circle cx="87.5" cy="39.1" r="0.7" fill="#20e020"/><circle cx="80.2" cy="45.1" r="0.5" fill="#20e020"/><circle cx="80.1" cy="53.0" r="0.9" fill="#20e020"/><circle cx="74.6" cy="39.3" r="1.4" fill="#20e020"/><circle cx="108.9" cy="45.6" r="1.2" fill="#20e020"/><circle cx="82.1" cy="51.9" r="1.1" fill="#20e020"/><circle cx="72.3" cy="45.8" r="0.6" fill="#20e020"/><circle cx="90.1" cy="61.1" r="1.0" fill="#20e020"/><circle cx="82.6" cy="45.9" r="0.9" fill="#20e020"/><circle cx="93.6" cy="43.8" r="1.4" fill="#20e020"/><circle cx="86.7" cy="54.6" r="1.2" fill="#20e020"/><circle cx="70.5" cy="52.0" r="1.0" fill="#20e020"/><circle cx="86.5" cy="50.2" r="1.4" fill="#20e020"/><circle cx="87.6" cy="51.1" r="0.8" fill="#20e020"/><circle cx="80.2" cy="36.9" r="0.9" fill="#20e020"/><circle cx="69.7" cy="48.5" r="0.8" fill="#20e020"/><circle cx="76.1" cy="54.3" r="1.1" fill="#20e020"/><circle cx="87.6" cy="49.1" r="0.6" fill="#20e020"/><circle cx="81.9" cy="39.3" r="1.4" fill="#20e020"/><circle cx="84.5" cy="43.8" r="1.2" fill="#20e020"/><circle cx="91.2" cy="47.9" r="0.5" fill="#20e020"/><circle cx="79.2" cy="51.9" r="0.7" fill="#20e020"/><circle cx="113.5" cy="34.7" r="1.3" fill="#20e020"/><circle cx="115.9" cy="35.6" r="0.7" fill="#20e020"/><circle cx="113.9" cy="39.5" r="0.8" fill="#20e020"/><circle cx="113.3" cy="37.3" r="1.1" fill="#20e020"/><circle cx="106.1" cy="33.4" r="0.9" fill="#20e020"/><circle cx="107.3" cy="33.6" r="0.9" fill="#20e020"/><circle cx="111.3" cy="31.0" r="0.6" fill="#20e020"/><circle cx="115.7" cy="38.0" r="1.2" fill="#20e020"/><circle cx="116.3" cy="32.7" r="1.0" fill="#20e020"/><circle cx="115.0" cy="39.4" r="0.6" fill="#20e020"/><circle cx="121.1" cy="49.3" r="0.8" fill="#20e020"/><circle cx="122.8" cy="52.9" r="1.1" fill="#20e020"/><circle cx="117.9" cy="47.0" r="1.2" fill="#20e020"/><circle cx="125.5" cy="38.7" r="0.5" fill="#20e020"/><circle cx="105.7" cy="41.0" r="0.7" fill="#20e020"/><circle cx="135.6" cy="56.8" r="0.8" fill="#20e020"/><circle cx="107.0" cy="53.4" r="0.8" fill="#20e020"/><circle cx="131.1" cy="51.3" r="0.8" fill="#20e020"/><circle cx="123.7" cy="43.5" r="1.2" fill="#20e020"/><circle cx="137.7" cy="49.5" r="1.1" fill="#20e020"/><circle cx="111.7" cy="48.8" r="1.3" fill="#20e020"/><circle cx="126.5" cy="51.1" r="0.5" fill="#20e020"/><circle cx="116.3" cy="48.5" r="0.9" fill="#20e020"/><circle cx="128.3" cy="48.0" r="0.8" fill="#20e020"/><circle cx="128.6" cy="43.8" r="1.3" fill="#20e020"/><circle cx="115.5" cy="45.6" r="1.2" fill="#20e020"/><circle cx="130.0" cy="54.8" r="1.3" fill="#20e020"/><circle cx="116.1" cy="46.9" r="0.6" fill="#20e020"/><circle cx="119.9" cy="46.6" r="0.8" fill="#20e020"/><circle cx="95.9" cy="44.9" r="1.1" fill="#20e020"/><circle cx="100.5" cy="46.8" r="0.8" fill="#20e020"/><circle cx="112.0" cy="52.9" r="1.0" fill="#20e020"/><circle cx="130.6" cy="53.1" r="1.2" fill="#20e020"/><circle cx="129.1" cy="55.8" r="0.5" fill="#20e020"/><circle cx="148.4" cy="45.9" r="0.8" fill="#20e020"/><circle cx="152.8" cy="47.1" r="0.6" fill="#20e020"/><circle cx="128.2" cy="53.8" r="1.4" fill="#20e020"/><circle cx="130.8" cy="49.2" r="0.8" fill="#20e020"/><circle cx="141.8" cy="49.4" r="1.0" fill="#20e020"/><circle cx="120.8" cy="49.0" r="0.5" fill="#20e020"/><circle cx="74.9" cy="74.6" r="0.9" fill="#20e020"/><circle cx="58.1" cy="82.0" r="1.3" fill="#20e020"/><circle cx="78.5" cy="72.1" r="0.8" fill="#20e020"/><circle cx="73.6" cy="83.0" r="1.3" fill="#20e020"/><circle cx="82.6" cy="83.4" r="1.3" fill="#20e020"/><circle cx="67.8" cy="86.1" r="0.9" fill="#20e020"/><circle cx="84.5" cy="77.6" r="1.3" fill="#20e020"/><circle cx="85.8" cy="83.0" r="0.9" fill="#20e020"/><circle cx="58.2" cy="87.1" r="1.2" fill="#20e020"/><circle cx="84.2" cy="75.5" r="1.3" fill="#20e020"/><circle cx="61.4" cy="84.0" r="1.2" fill="#20e020"/><circle cx="67.0" cy="81.6" r="1.0" fill="#20e020"/><circle cx="84.3" cy="71.9" r="0.6" fill="#20e020"/><circle cx="66.9" cy="83.6" r="0.8" fill="#20e020"/><circle cx="80.8" cy="79.1" r="0.8" fill="#20e020"/><circle cx="70.3" cy="87.1" r="1.1" fill="#20e020"/><circle cx="68.5" cy="83.9" r="0.7" fill="#20e020"/><circle cx="70.5" cy="93.7" r="0.7" fill="#20e020"/><circle cx="71.8" cy="77.8" r="1.2" fill="#20e020"/><circle cx="70.1" cy="91.1" r="0.9" fill="#20e020"/><circle cx="75.2" cy="82.0" r="1.2" fill="#20e020"/><circle cx="61.7" cy="78.9" r="0.8" fill="#20e020"/><circle cx="68.0" cy="74.3" r="0.6" fill="#20e020"/><circle cx="65.4" cy="77.6" r="1.3" fill="#20e020"/><circle cx="56.9" cy="77.6" r="0.6" fill="#20e020"/><circle cx="68.4" cy="72.8" r="1.3" fill="#20e020"/><circle cx="80.2" cy="75.6" r="1.0" fill="#20e020"/><circle cx="72.5" cy="76.0" r="1.0" fill="#20e020"/><circle cx="74.5" cy="72.9" r="1.0" fill="#20e020"/><circle cx="86.8" cy="67.9" r="0.7" fill="#20e020"/><circle cx="82.8" cy="84.4" r="0.6" fill="#20e020"/><circle cx="81.7" cy="79.4" r="1.0" fill="#20e020"/><circle cx="79.2" cy="69.7" r="0.6" fill="#20e020"/><circle cx="66.3" cy="81.8" r="0.9" fill="#20e020"/><circle cx="84.0" cy="89.8" r="0.8" fill="#20e020"/><circle cx="57.0" cy="88.9" r="1.2" fill="#20e020"/><circle cx="66.2" cy="86.8" r="1.1" fill="#20e020"/><circle cx="73.6" cy="83.7" r="1.3" fill="#20e020"/><circle cx="79.1" cy="88.7" r="1.2" fill="#20e020"/><circle cx="64.7" cy="77.7" r="1.3" fill="#20e020"/><circle cx="72.5" cy="78.5" r="1.3" fill="#20e020"/><circle cx="66.8" cy="76.9" r="0.7" fill="#20e020"/><circle cx="85.1" cy="87.0" r="1.3" fill="#20e020"/><circle cx="68.4" cy="83.8" r="0.6" fill="#20e020"/><circle cx="65.2" cy="83.3" r="0.5" fill="#20e020"/><circle cx="66.8" cy="91.3" r="0.6" fill="#20e020"/><circle cx="62.8" cy="84.8" r="0.6" fill="#20e020"/><circle cx="75.1" cy="81.2" r="0.6" fill="#20e020"/><circle cx="89.4" cy="78.8" r="1.1" fill="#20e020"/><circle cx="78.1" cy="77.6" r="0.7" fill="#20e020"/><circle cx="80.1" cy="74.7" r="1.3" fill="#20e020"/><circle cx="65.8" cy="85.5" r="1.1" fill="#20e020"/><circle cx="75.7" cy="78.3" r="0.7" fill="#20e020"/><circle cx="83.2" cy="81.4" r="1.3" fill="#20e020"/><circle cx="67.1" cy="79.3" r="1.1" fill="#20e020"/><circle cx="69.2" cy="78.4" r="1.3" fill="#20e020"/><circle cx="66.1" cy="74.8" r="0.8" fill="#20e020"/><circle cx="77.1" cy="86.4" r="0.8" fill="#20e020"/><circle cx="73.1" cy="89.3" r="1.1" fill="#20e020"/><circle cx="94.4" cy="76.2" r="0.9" fill="#20e020"/><circle cx="32.1" cy="75.3" r="0.9" fill="#20e020"/><circle cx="-1.0" cy="74.2" r="0.5" fill="#20e020"/><circle cx="22.7" cy="81.0" r="1.2" fill="#20e020"/><circle cx="50.1" cy="78.3" r="0.6" fill="#20e020"/><circle cx="19.6" cy="76.3" r="1.1" fill="#20e020"/><circle cx="37.6" cy="74.5" r="1.0" fill="#20e020"/><circle cx="35.4" cy="78.8" r="0.7" fill="#20e020"/><circle cx="20.3" cy="67.3" r="1.3" fill="#20e020"/><circle cx="27.6" cy="93.1" r="0.8" fill="#20e020"/><circle cx="27.1" cy="80.9" r="1.0" fill="#20e020"/><circle cx="18.5" cy="84.8" r="1.4" fill="#20e020"/><circle cx="49.2" cy="85.3" r="1.0" fill="#20e020"/><circle cx="34.4" cy="81.3" r="1.3" fill="#20e020"/><circle cx="28.4" cy="73.4" r="0.6" fill="#20e020"/><circle cx="46.4" cy="77.0" r="0.9" fill="#20e020"/><circle cx="20.7" cy="78.1" r="1.4" fill="#20e020"/><circle cx="14.4" cy="81.5" r="1.2" fill="#20e020"/><circle cx="42.8" cy="78.7" r="0.8" fill="#20e020"/><circle cx="53.2" cy="77.9" r="0.8" fill="#20e020"/><circle cx="40.2" cy="78.3" r="0.7" fill="#20e020"/><circle cx="53.9" cy="83.1" r="0.9" fill="#20e020"/><circle cx="29.9" cy="85.1" r="0.7" fill="#20e020"/><circle cx="29.0" cy="71.8" r="0.8" fill="#20e020"/><circle cx="37.9" cy="78.9" r="1.0" fill="#20e020"/><circle cx="39.0" cy="82.1" r="1.0" fill="#20e020"/><circle cx="39.7" cy="81.0" r="0.6" fill="#20e020"/><circle cx="16.2" cy="86.6" r="0.8" fill="#20e020"/><circle cx="52.2" cy="85.9" r="1.2" fill="#20e020"/><circle cx="39.4" cy="80.0" r="0.6" fill="#20e020"/><circle cx="-4.4" cy="86.2" r="1.0" fill="#20e020"/><circle cx="42.4" cy="77.6" r="0.9" fill="#20e020"/><circle cx="31.1" cy="76.7" r="1.0" fill="#20e020"/><circle cx="46.7" cy="71.8" r="1.1" fill="#20e020"/><circle cx="57.1" cy="65.4" r="1.0" fill="#20e020"/><circle cx="35.1" cy="83.5" r="0.6" fill="#20e020"/><circle cx="95.8" cy="100.5" r="1.0" fill="#20e020"/><circle cx="95.3" cy="98.6" r="0.9" fill="#20e020"/><circle cx="85.3" cy="102.2" r="0.7" fill="#20e020"/><circle cx="80.9" cy="108.9" r="1.1" fill="#20e020"/><circle cx="82.2" cy="100.6" r="0.8" fill="#20e020"/><circle cx="86.1" cy="103.9" r="0.8" fill="#20e020"/><circle cx="98.6" cy="99.0" r="0.7" fill="#20e020"/><circle cx="76.2" cy="103.1" r="0.7" fill="#20e020"/><circle cx="82.0" cy="107.2" r="0.7" fill="#20e020"/><circle cx="89.0" cy="102.6" r="1.3" fill="#20e020"/><circle cx="84.4" cy="99.5" r="0.8" fill="#20e020"/><circle cx="95.3" cy="98.4" r="0.7" fill="#20e020"/><circle cx="86.5" cy="104.6" r="1.1" fill="#20e020"/><circle cx="82.4" cy="104.6" r="1.1" fill="#20e020"/><circle cx="87.7" cy="105.2" r="1.2" fill="#20e020"/><circle cx="76.5" cy="117.7" r="1.0" fill="#20e020"/><circle cx="67.6" cy="111.6" r="0.5" fill="#20e020"/><circle cx="68.2" cy="134.3" r="1.2" fill="#20e020"/><circle cx="65.2" cy="138.9" r="0.7" fill="#20e020"/><circle cx="74.6" cy="124.4" r="1.0" fill="#20e020"/><circle cx="63.2" cy="116.5" r="1.0" fill="#20e020"/><circle cx="70.9" cy="135.6" r="1.0" fill="#20e020"/><circle cx="78.0" cy="133.8" r="0.8" fill="#20e020"/><circle cx="73.8" cy="123.5" r="1.4" fill="#20e020"/><circle cx="68.7" cy="119.3" r="1.1" fill="#20e020"/><circle cx="71.7" cy="127.2" r="1.0" fill="#20e020"/><circle cx="67.8" cy="134.8" r="1.1" fill="#20e020"/><circle cx="62.8" cy="129.0" r="1.2" fill="#20e020"/><circle cx="70.8" cy="124.0" r="1.2" fill="#20e020"/><circle cx="69.4" cy="121.5" r="0.6" fill="#20e020"/><circle cx="70.4" cy="130.4" r="1.0" fill="#20e020"/><circle cx="75.4" cy="126.9" r="0.7" fill="#20e020"/><circle cx="76.0" cy="146.0" r="1.0" fill="#20e020"/><circle cx="70.4" cy="144.7" r="0.9" fill="#20e020"/><circle cx="75.6" cy="126.3" r="0.7" fill="#20e020"/><circle cx="70.0" cy="128.5" r="1.2" fill="#20e020"/><circle cx="65.8" cy="138.6" r="1.3" fill="#20e020"/><circle cx="64.7" cy="132.7" r="1.1" fill="#20e020"/><circle cx="66.6" cy="121.3" r="0.7" fill="#20e020"/><circle cx="69.4" cy="128.8" r="1.1" fill="#20e020"/><circle cx="64.1" cy="116.5" r="0.9" fill="#20e020"/><circle cx="68.9" cy="117.0" r="1.3" fill="#20e020"/><circle cx="62.5" cy="123.5" r="1.0" fill="#20e020"/><circle cx="70.2" cy="130.3" r="1.2" fill="#20e020"/><circle cx="67.5" cy="118.3" r="1.3" fill="#20e020"/><circle cx="73.0" cy="139.0" r="1.0" fill="#20e020"/><circle cx="71.7" cy="129.8" r="0.5" fill="#20e020"/><circle cx="72.8" cy="140.1" r="0.9" fill="#20e020"/><circle cx="75.2" cy="129.9" r="1.4" fill="#20e020"/><circle cx="70.6" cy="120.6" r="0.9" fill="#20e020"/><circle cx="67.2" cy="131.5" r="1.1" fill="#20e020"/><circle cx="75.2" cy="128.5" r="1.3" fill="#20e020"/><circle cx="69.9" cy="115.5" r="1.2" fill="#20e020"/><circle cx="73.4" cy="125.3" r="1.4" fill="#20e020"/><circle cx="74.2" cy="121.4" r="0.6" fill="#20e020"/><circle cx="63.9" cy="125.3" r="1.4" fill="#20e020"/><circle cx="69.8" cy="139.9" r="1.2" fill="#20e020"/><circle cx="66.3" cy="123.3" r="1.3" fill="#20e020"/><circle cx="69.3" cy="143.0" r="1.3" fill="#20e020"/><circle cx="68.0" cy="126.7" r="0.7" fill="#20e020"/><circle cx="72.5" cy="129.3" r="0.8" fill="#20e020"/><circle cx="61.5" cy="120.7" r="0.5" fill="#20e020"/><circle cx="69.5" cy="123.3" r="1.1" fill="#20e020"/><circle cx="74.3" cy="127.7" r="1.3" fill="#20e020"/><circle cx="70.8" cy="125.3" r="0.8" fill="#20e020"/><circle cx="72.3" cy="124.6" r="0.9" fill="#20e020"/><circle cx="69.3" cy="133.9" r="0.9" fill="#20e020"/><circle cx="71.5" cy="130.7" r="1.4" fill="#20e020"/><circle cx="70.1" cy="116.4" r="0.6" fill="#20e020"/><circle cx="74.3" cy="135.5" r="1.1" fill="#20e020"/><circle cx="82.5" cy="128.5" r="0.8" fill="#20e020"/><circle cx="68.8" cy="138.5" r="1.3" fill="#20e020"/><circle cx="66.1" cy="134.9" r="0.5" fill="#20e020"/><circle cx="59.2" cy="130.7" r="1.3" fill="#20e020"/><circle cx="63.8" cy="140.1" r="1.4" fill="#20e020"/><circle cx="66.4" cy="142.1" r="0.8" fill="#20e020"/><circle cx="80.1" cy="123.4" r="1.4" fill="#20e020"/><circle cx="63.2" cy="133.9" r="1.1" fill="#20e020"/><circle cx="68.2" cy="125.9" r="1.1" fill="#20e020"/><circle cx="71.9" cy="116.4" r="1.3" fill="#20e020"/><circle cx="76.6" cy="124.6" r="0.8" fill="#20e020"/><circle cx="66.4" cy="127.0" r="0.7" fill="#20e020"/><circle cx="75.0" cy="126.1" r="0.9" fill="#20e020"/><circle cx="76.4" cy="117.9" r="0.5" fill="#20e020"/><circle cx="64.4" cy="132.4" r="0.7" fill="#20e020"/></g><ellipse cx="69.6" cy="127.2" rx="10.0" ry="15.0" fill="#18c018" filter="url(#b2)" transform="rotate(8 69.6 127.2)" opacity="0.55"/><path d="M122.1 137.7H153.8" stroke="#d8d8d8" stroke-width="1.1"/></svg>
<svg style="left:2743.9px;top:1039.4px;overflow:hidden" width="164.4" height="156.1" viewBox="0 0 164.4 156.1"><rect width="164.4" height="156.1" fill="#000"/><ellipse cx="112.0" cy="48.0" rx="45.0" ry="15.0" fill="#6a0a0a" filter="url(#b3)" transform="rotate(-12 112.0 48.0)"/><ellipse cx="49.5" cy="76.3" rx="40.0" ry="20.0" fill="#470606" filter="url(#b3)" transform="rotate(-8 49.5 76.3)"/><ellipse cx="75.0" cy="98.0" rx="14.0" ry="14.0" fill="#3a0505" filter="url(#b3)"/><ellipse cx="68.6" cy="126.8" rx="12.5" ry="17.0" fill="#dc1414" filter="url(#b2)" transform="rotate(8 68.6 126.8)"/><g filter="url(#b05)"><circle cx="114.0" cy="52.9" r="1.0" fill="#d81c1c"/><circle cx="87.6" cy="45.5" r="1.1" fill="#d81c1c"/><circle cx="107.7" cy="38.3" r="0.9" fill="#d81c1c"/><circle cx="100.1" cy="45.5" r="0.8" fill="#d81c1c"/><circle cx="94.1" cy="43.8" r="1.1" fill="#d81c1c"/><circle cx="101.5" cy="49.3" r="0.5" fill="#d81c1c"/><circle cx="129.5" cy="44.8" r="1.2" fill="#d81c1c"/><circle cx="96.5" cy="43.9" r="0.8" fill="#d81c1c"/><circle cx="91.1" cy="45.0" r="1.3" fill="#d81c1c"/><circle cx="92.9" cy="47.6" r="1.2" fill="#d81c1c"/><circle cx="129.2" cy="54.7" r="0.9" fill="#d81c1c"/><circle cx="84.4" cy="43.2" r="0.9" fill="#d81c1c"/><circle cx="101.9" cy="46.5" r="1.2" fill="#d81c1c"/><circle cx="103.0" cy="55.4" r="0.7" fill="#d81c1c"/><circle cx="137.4" cy="42.5" r="1.1" fill="#d81c1c"/><circle cx="101.9" cy="37.1" r="1.1" fill="#d81c1c"/><circle cx="114.7" cy="49.7" r="1.2" fill="#d81c1c"/><circle cx="112.3" cy="58.0" r="1.2" fill="#d81c1c"/><circle cx="85.5" cy="48.1" r="0.9" fill="#d81c1c"/><circle cx="56.0" cy="57.8" r="0.8" fill="#d81c1c"/><circle cx="107.9" cy="45.4" r="1.1" fill="#d81c1c"/><circle cx="121.1" cy="44.7" r="0.9" fill="#d81c1c"/><circle cx="71.6" cy="41.9" r="0.7" fill="#d81c1c"/><circle cx="82.2" cy="40.2" r="1.0" fill="#d81c1c"/><circle cx="104.6" cy="48.3" r="0.8" fill="#d81c1c"/><circle cx="114.9" cy="42.6" r="1.0" fill="#d81c1c"/><circle cx="97.1" cy="47.6" r="0.6" fill="#d81c1c"/><circle cx="112.1" cy="35.4" r="0.8" fill="#d81c1c"/><circle cx="89.0" cy="36.8" r="1.2" fill="#d81c1c"/><circle cx="117.8" cy="43.4" r="1.3" fill="#d81c1c"/><circle cx="123.4" cy="43.1" r="1.2" fill="#d81c1c"/><circle cx="82.6" cy="45.3" r="0.7" fill="#d81c1c"/><circle cx="107.6" cy="42.5" r="0.6" fill="#d81c1c"/><circle cx="110.6" cy="35.3" r="0.9" fill="#d81c1c"/><circle cx="103.1" cy="43.3" r="0.7" fill="#d81c1c"/><circle cx="95.3" cy="51.1" r="0.6" fill="#d81c1c"/><circle cx="114.8" cy="47.3" r="1.2" fill="#d81c1c"/><circle cx="129.6" cy="44.0" r="0.9" fill="#d81c1c"/><circle cx="99.4" cy="60.2" r="0.9" fill="#d81c1c"/><circle cx="99.4" cy="43.6" r="0.7" fill="#d81c1c"/><circle cx="114.8" cy="30.9" r="1.2" fill="#d81c1c"/><circle cx="109.5" cy="32.6" r="1.0" fill="#d81c1c"/><circle cx="113.5" cy="32.5" r="0.9" fill="#d81c1c"/><circle cx="111.2" cy="37.3" r="0.5" fill="#d81c1c"/><circle cx="109.1" cy="29.3" r="0.5" fill="#d81c1c"/><circle cx="108.4" cy="32.3" r="1.2" fill="#d81c1c"/><circle cx="46.7" cy="73.3" r="0.8" fill="#d81c1c"/><circle cx="102.0" cy="72.1" r="0.6" fill="#d81c1c"/><circle cx="67.4" cy="77.7" r="0.5" fill="#d81c1c"/><circle cx="49.6" cy="77.3" r="1.2" fill="#d81c1c"/><circle cx="54.2" cy="73.0" r="0.9" fill="#d81c1c"/><circle cx="49.5" cy="83.3" r="0.7" fill="#d81c1c"/><circle cx="66.4" cy="79.9" r="0.8" fill="#d81c1c"/><circle cx="53.7" cy="67.4" r="0.5" fill="#d81c1c"/><circle cx="50.1" cy="62.2" r="1.1" fill="#d81c1c"/><circle cx="60.6" cy="75.2" r="0.9" fill="#d81c1c"/><circle cx="91.3" cy="80.6" r="0.6" fill="#d81c1c"/><circle cx="56.3" cy="70.8" r="1.1" fill="#d81c1c"/><circle cx="57.7" cy="77.9" r="0.8" fill="#d81c1c"/><circle cx="44.3" cy="90.0" r="0.7" fill="#d81c1c"/><circle cx="34.8" cy="75.8" r="1.3" fill="#d81c1c"/><circle cx="82.1" cy="81.5" r="0.9" fill="#d81c1c"/><circle cx="54.9" cy="57.8" r="0.7" fill="#d81c1c"/><circle cx="52.4" cy="67.9" r="0.9" fill="#d81c1c"/><circle cx="93.8" cy="81.0" r="1.3" fill="#d81c1c"/><circle cx="49.3" cy="80.8" r="1.3" fill="#d81c1c"/><circle cx="66.2" cy="77.7" r="0.6" fill="#d81c1c"/><circle cx="73.3" cy="65.1" r="0.9" fill="#d81c1c"/><circle cx="57.1" cy="75.0" r="1.0" fill="#d81c1c"/><circle cx="37.4" cy="79.0" r="0.8" fill="#d81c1c"/><circle cx="48.4" cy="78.9" r="0.5" fill="#d81c1c"/><circle cx="46.2" cy="78.1" r="1.1" fill="#d81c1c"/><circle cx="73.2" cy="65.8" r="0.9" fill="#d81c1c"/><circle cx="61.7" cy="82.9" r="0.9" fill="#d81c1c"/><circle cx="25.3" cy="62.8" r="0.6" fill="#d81c1c"/><circle cx="36.9" cy="77.0" r="1.1" fill="#d81c1c"/><circle cx="86.9" cy="68.3" r="1.0" fill="#d81c1c"/><circle cx="61.6" cy="65.6" r="1.2" fill="#d81c1c"/><circle cx="50.5" cy="65.9" r="0.7" fill="#d81c1c"/><circle cx="77.1" cy="72.5" r="1.0" fill="#d81c1c"/><circle cx="83.3" cy="59.9" r="1.3" fill="#d81c1c"/><circle cx="77.3" cy="76.2" r="0.7" fill="#d81c1c"/><circle cx="51.3" cy="78.5" r="0.9" fill="#d81c1c"/><circle cx="74.9" cy="78.8" r="1.3" fill="#d81c1c"/><circle cx="58.9" cy="68.2" r="0.6" fill="#d81c1c"/><circle cx="90.0" cy="73.0" r="0.7" fill="#d81c1c"/><circle cx="45.4" cy="84.6" r="1.0" fill="#d81c1c"/><circle cx="56.6" cy="93.2" r="0.8" fill="#d81c1c"/><circle cx="59.0" cy="89.5" r="0.6" fill="#d81c1c"/><circle cx="54.4" cy="71.8" r="1.0" fill="#d81c1c"/><circle cx="56.7" cy="82.7" r="1.3" fill="#d81c1c"/><circle cx="39.0" cy="77.5" r="1.0" fill="#d81c1c"/><circle cx="57.6" cy="80.3" r="0.8" fill="#d81c1c"/><circle cx="58.2" cy="80.5" r="1.3" fill="#d81c1c"/><circle cx="95.6" cy="78.7" r="1.2" fill="#d81c1c"/><circle cx="58.9" cy="74.7" r="0.9" fill="#d81c1c"/><circle cx="85.6" cy="87.0" r="1.1" fill="#d81c1c"/><circle cx="75.1" cy="85.7" r="0.9" fill="#d81c1c"/><circle cx="80.7" cy="87.9" r="0.9" fill="#d81c1c"/><circle cx="81.1" cy="81.4" r="0.6" fill="#d81c1c"/><circle cx="78.9" cy="74.2" r="0.9" fill="#d81c1c"/><circle cx="79.9" cy="86.2" r="0.8" fill="#d81c1c"/><circle cx="69.6" cy="83.6" r="1.1" fill="#d81c1c"/><circle cx="85.1" cy="73.6" r="1.2" fill="#d81c1c"/><circle cx="85.5" cy="85.9" r="0.6" fill="#d81c1c"/><circle cx="85.7" cy="79.1" r="1.1" fill="#d81c1c"/><circle cx="76.1" cy="86.9" r="1.2" fill="#d81c1c"/><circle cx="66.3" cy="79.8" r="0.9" fill="#d81c1c"/><circle cx="77.3" cy="79.8" r="0.7" fill="#d81c1c"/><circle cx="70.9" cy="89.0" r="1.0" fill="#d81c1c"/><circle cx="77.4" cy="83.5" r="0.6" fill="#d81c1c"/><circle cx="63.0" cy="84.3" r="0.7" fill="#d81c1c"/><circle cx="74.7" cy="87.1" r="0.5" fill="#d81c1c"/><circle cx="62.9" cy="85.3" r="1.0" fill="#d81c1c"/><circle cx="77.0" cy="87.4" r="1.2" fill="#d81c1c"/><circle cx="67.0" cy="83.5" r="1.1" fill="#d81c1c"/></g><g filter="url(#b05)"><circle cx="87.7" cy="48.6" r="0.9" fill="#e8e020"/><circle cx="82.0" cy="45.4" r="0.6" fill="#e8e020"/><circle cx="85.3" cy="58.4" r="0.6" fill="#e8e020"/><circle cx="83.1" cy="39.6" r="0.6" fill="#e8e020"/><circle cx="75.3" cy="46.9" r="0.9" fill="#e8e020"/><circle cx="87.3" cy="48.3" r="0.5" fill="#e8e020"/><circle cx="91.4" cy="46.1" r="0.7" fill="#e8e020"/><circle cx="80.1" cy="53.4" r="1.4" fill="#e8e020"/><circle cx="85.2" cy="52.5" r="1.0" fill="#e8e020"/><circle cx="64.8" cy="44.0" r="1.3" fill="#e8e020"/><circle cx="80.5" cy="51.6" r="1.3" fill="#e8e020"/><circle cx="85.8" cy="48.3" r="1.2" fill="#e8e020"/><circle cx="91.7" cy="42.0" r="0.7" fill="#e8e020"/><circle cx="87.5" cy="39.1" r="0.7" fill="#e8e020"/><circle cx="80.2" cy="45.1" r="0.5" fill="#e8e020"/><circle cx="80.1" cy="53.0" r="0.9" fill="#e8e020"/><circle cx="74.6" cy="39.3" r="1.4" fill="#e8e020"/><circle cx="108.9" cy="45.6" r="1.2" fill="#e8e020"/><circle cx="82.1" cy="51.9" r="1.1" fill="#e8e020"/><circle cx="72.3" cy="45.8" r="0.6" fill="#e8e020"/><circle cx="90.1" cy="61.1" r="1.0" fill="#e8e020"/><circle cx="82.6" cy="45.9" r="0.9" fill="#e8e020"/><circle cx="93.6" cy="43.8" r="1.4" fill="#e8e020"/><circle cx="86.7" cy="54.6" r="1.2" fill="#e8e020"/><circle cx="70.5" cy="52.0" r="1.0" fill="#e8e020"/><circle cx="86.5" cy="50.2" r="1.4" fill="#e8e020"/><circle cx="87.6" cy="51.1" r="0.8" fill="#e8e020"/><circle cx="80.2" cy="36.9" r="0.9" fill="#e8e020"/><circle cx="69.7" cy="48.5" r="0.8" fill="#e8e020"/><circle cx="76.1" cy="54.3" r="1.1" fill="#e8e020"/><circle cx="87.6" cy="49.1" r="0.6" fill="#e8e020"/><circle cx="81.9" cy="39.3" r="1.4" fill="#e8e020"/><circle cx="84.5" cy="43.8" r="1.2" fill="#e8e020"/><circle cx="91.2" cy="47.9" r="0.5" fill="#e8e020"/><circle cx="79.2" cy="51.9" r="0.7" fill="#e8e020"/><circle cx="113.5" cy="34.7" r="1.3" fill="#e8e020"/><circle cx="115.9" cy="35.6" r="0.7" fill="#e8e020"/><circle cx="113.9" cy="39.5" r="0.8" fill="#e8e020"/><circle cx="113.3" cy="37.3" r="1.1" fill="#e8e020"/><circle cx="106.1" cy="33.4" r="0.9" fill="#e8e020"/><circle cx="107.3" cy="33.6" r="0.9" fill="#e8e020"/><circle cx="111.3" cy="31.0" r="0.6" fill="#e8e020"/><circle cx="115.7" cy="38.0" r="1.2" fill="#e8e020"/><circle cx="116.3" cy="32.7" r="1.0" fill="#e8e020"/><circle cx="115.0" cy="39.4" r="0.6" fill="#e8e020"/><circle cx="121.1" cy="49.3" r="0.8" fill="#e8e020"/><circle cx="122.8" cy="52.9" r="1.1" fill="#e8e020"/><circle cx="117.9" cy="47.0" r="1.2" fill="#e8e020"/><circle cx="125.5" cy="38.7" r="0.5" fill="#e8e020"/><circle cx="105.7" cy="41.0" r="0.7" fill="#e8e020"/><circle cx="135.6" cy="56.8" r="0.8" fill="#e8e020"/><circle cx="107.0" cy="53.4" r="0.8" fill="#e8e020"/><circle cx="131.1" cy="51.3" r="0.8" fill="#e8e020"/><circle cx="123.7" cy="43.5" r="1.2" fill="#e8e020"/><circle cx="137.7" cy="49.5" r="1.1" fill="#e8e020"/><circle cx="111.7" cy="48.8" r="1.3" fill="#e8e020"/><circle cx="126.5" cy="51.1" r="0.5" fill="#e8e020"/><circle cx="116.3" cy="48.5" r="0.9" fill="#e8e020"/><circle cx="128.3" cy="48.0" r="0.8" fill="#e8e020"/><circle cx="128.6" cy="43.8" r="1.3" fill="#e8e020"/><circle cx="115.5" cy="45.6" r="1.2" fill="#e8e020"/><circle cx="130.0" cy="54.8" r="1.3" fill="#e8e020"/><circle cx="116.1" cy="46.9" r="0.6" fill="#e8e020"/><circle cx="119.9" cy="46.6" r="0.8" fill="#e8e020"/><circle cx="95.9" cy="44.9" r="1.1" fill="#e8e020"/><circle cx="100.5" cy="46.8" r="0.8" fill="#e8e020"/><circle cx="112.0" cy="52.9" r="1.0" fill="#e8e020"/><circle cx="130.6" cy="53.1" r="1.2" fill="#e8e020"/><circle cx="129.1" cy="55.8" r="0.5" fill="#e8e020"/><circle cx="148.4" cy="45.9" r="0.8" fill="#e8e020"/><circle cx="152.8" cy="47.1" r="0.6" fill="#e8e020"/><circle cx="128.2" cy="53.8" r="1.4" fill="#e8e020"/><circle cx="130.8" cy="49.2" r="0.8" fill="#e8e020"/><circle cx="141.8" cy="49.4" r="1.0" fill="#e8e020"/><circle cx="120.8" cy="49.0" r="0.5" fill="#e8e020"/><circle cx="74.9" cy="74.6" r="0.9" fill="#e8e020"/><circle cx="58.1" cy="82.0" r="1.3" fill="#e8e020"/><circle cx="78.5" cy="72.1" r="0.8" fill="#e8e020"/><circle cx="73.6" cy="83.0" r="1.3" fill="#e8e020"/><circle cx="82.6" cy="83.4" r="1.3" fill="#e8e020"/><circle cx="67.8" cy="86.1" r="0.9" fill="#e8e020"/><circle cx="84.5" cy="77.6" r="1.3" fill="#e8e020"/><circle cx="85.8" cy="83.0" r="0.9" fill="#e8e020"/><circle cx="58.2" cy="87.1" r="1.2" fill="#e8e020"/><circle cx="84.2" cy="75.5" r="1.3" fill="#e8e020"/><circle cx="61.4" cy="84.0" r="1.2" fill="#e8e020"/><circle cx="67.0" cy="81.6" r="1.0" fill="#e8e020"/><circle cx="84.3" cy="71.9" r="0.6" fill="#e8e020"/><circle cx="66.9" cy="83.6" r="0.8" fill="#e8e020"/><circle cx="80.8" cy="79.1" r="0.8" fill="#e8e020"/><circle cx="70.3" cy="87.1" r="1.1" fill="#e8e020"/><circle cx="68.5" cy="83.9" r="0.7" fill="#e8e020"/><circle cx="70.5" cy="93.7" r="0.7" fill="#e8e020"/><circle cx="71.8" cy="77.8" r="1.2" fill="#e8e020"/><circle cx="70.1" cy="91.1" r="0.9" fill="#e8e020"/><circle cx="75.2" cy="82.0" r="1.2" fill="#e8e020"/><circle cx="61.7" cy="78.9" r="0.8" fill="#e8e020"/><circle cx="68.0" cy="74.3" r="0.6" fill="#e8e020"/><circle cx="65.4" cy="77.6" r="1.3" fill="#e8e020"/><circle cx="56.9" cy="77.6" r="0.6" fill="#e8e020"/><circle cx="68.4" cy="72.8" r="1.3" fill="#e8e020"/><circle cx="80.2" cy="75.6" r="1.0" fill="#e8e020"/><circle cx="72.5" cy="76.0" r="1.0" fill="#e8e020"/><circle cx="74.5" cy="72.9" r="1.0" fill="#e8e020"/><circle cx="86.8" cy="67.9" r="0.7" fill="#e8e020"/><circle cx="82.8" cy="84.4" r="0.6" fill="#e8e020"/><circle cx="81.7" cy="79.4" r="1.0" fill="#e8e020"/><circle cx="79.2" cy="69.7" r="0.6" fill="#e8e020"/><circle cx="66.3" cy="81.8" r="0.9" fill="#e8e020"/><circle cx="84.0" cy="89.8" r="0.8" fill="#e8e020"/><circle cx="57.0" cy="88.9" r="1.2" fill="#e8e020"/><circle cx="66.2" cy="86.8" r="1.1" fill="#e8e020"/><circle cx="73.6" cy="83.7" r="1.3" fill="#e8e020"/><circle cx="79.1" cy="88.7" r="1.2" fill="#e8e020"/><circle cx="64.7" cy="77.7" r="1.3" fill="#e8e020"/><circle cx="72.5" cy="78.5" r="1.3" fill="#e8e020"/><circle cx="66.8" cy="76.9" r="0.7" fill="#e8e020"/><circle cx="85.1" cy="87.0" r="1.3" fill="#e8e020"/><circle cx="68.4" cy="83.8" r="0.6" fill="#e8e020"/><circle cx="65.2" cy="83.3" r="0.5" fill="#e8e020"/><circle cx="66.8" cy="91.3" r="0.6" fill="#e8e020"/><circle cx="62.8" cy="84.8" r="0.6" fill="#e8e020"/><circle cx="75.1" cy="81.2" r="0.6" fill="#e8e020"/><circle cx="89.4" cy="78.8" r="1.1" fill="#e8e020"/><circle cx="78.1" cy="77.6" r="0.7" fill="#e8e020"/><circle cx="80.1" cy="74.7" r="1.3" fill="#e8e020"/><circle cx="65.8" cy="85.5" r="1.1" fill="#e8e020"/><circle cx="75.7" cy="78.3" r="0.7" fill="#e8e020"/><circle cx="83.2" cy="81.4" r="1.3" fill="#e8e020"/><circle cx="67.1" cy="79.3" r="1.1" fill="#e8e020"/><circle cx="69.2" cy="78.4" r="1.3" fill="#e8e020"/><circle cx="66.1" cy="74.8" r="0.8" fill="#e8e020"/><circle cx="77.1" cy="86.4" r="0.8" fill="#e8e020"/><circle cx="73.1" cy="89.3" r="1.1" fill="#e8e020"/><circle cx="94.4" cy="76.2" r="0.9" fill="#e8e020"/><circle cx="32.1" cy="75.3" r="0.9" fill="#e8e020"/><circle cx="-1.0" cy="74.2" r="0.5" fill="#e8e020"/><circle cx="22.7" cy="81.0" r="1.2" fill="#e8e020"/><circle cx="50.1" cy="78.3" r="0.6" fill="#e8e020"/><circle cx="19.6" cy="76.3" r="1.1" fill="#e8e020"/><circle cx="37.6" cy="74.5" r="1.0" fill="#e8e020"/><circle cx="35.4" cy="78.8" r="0.7" fill="#e8e020"/><circle cx="20.3" cy="67.3" r="1.3" fill="#e8e020"/><circle cx="27.6" cy="93.1" r="0.8" fill="#e8e020"/><circle cx="27.1" cy="80.9" r="1.0" fill="#e8e020"/><circle cx="18.5" cy="84.8" r="1.4" fill="#e8e020"/><circle cx="49.2" cy="85.3" r="1.0" fill="#e8e020"/><circle cx="34.4" cy="81.3" r="1.3" fill="#e8e020"/><circle cx="28.4" cy="73.4" r="0.6" fill="#e8e020"/><circle cx="46.4" cy="77.0" r="0.9" fill="#e8e020"/><circle cx="20.7" cy="78.1" r="1.4" fill="#e8e020"/><circle cx="14.4" cy="81.5" r="1.2" fill="#e8e020"/><circle cx="42.8" cy="78.7" r="0.8" fill="#e8e020"/><circle cx="53.2" cy="77.9" r="0.8" fill="#e8e020"/><circle cx="40.2" cy="78.3" r="0.7" fill="#e8e020"/><circle cx="53.9" cy="83.1" r="0.9" fill="#e8e020"/><circle cx="29.9" cy="85.1" r="0.7" fill="#e8e020"/><circle cx="29.0" cy="71.8" r="0.8" fill="#e8e020"/><circle cx="37.9" cy="78.9" r="1.0" fill="#e8e020"/><circle cx="39.0" cy="82.1" r="1.0" fill="#e8e020"/><circle cx="39.7" cy="81.0" r="0.6" fill="#e8e020"/><circle cx="16.2" cy="86.6" r="0.8" fill="#e8e020"/><circle cx="52.2" cy="85.9" r="1.2" fill="#e8e020"/><circle cx="39.4" cy="80.0" r="0.6" fill="#e8e020"/><circle cx="-4.4" cy="86.2" r="1.0" fill="#e8e020"/><circle cx="42.4" cy="77.6" r="0.9" fill="#e8e020"/><circle cx="31.1" cy="76.7" r="1.0" fill="#e8e020"/><circle cx="46.7" cy="71.8" r="1.1" fill="#e8e020"/><circle cx="57.1" cy="65.4" r="1.0" fill="#e8e020"/><circle cx="35.1" cy="83.5" r="0.6" fill="#e8e020"/><circle cx="95.8" cy="100.5" r="1.0" fill="#e8e020"/><circle cx="95.3" cy="98.6" r="0.9" fill="#e8e020"/><circle cx="85.3" cy="102.2" r="0.7" fill="#e8e020"/><circle cx="80.9" cy="108.9" r="1.1" fill="#e8e020"/><circle cx="82.2" cy="100.6" r="0.8" fill="#e8e020"/><circle cx="86.1" cy="103.9" r="0.8" fill="#e8e020"/><circle cx="98.6" cy="99.0" r="0.7" fill="#e8e020"/><circle cx="76.2" cy="103.1" r="0.7" fill="#e8e020"/><circle cx="82.0" cy="107.2" r="0.7" fill="#e8e020"/><circle cx="89.0" cy="102.6" r="1.3" fill="#e8e020"/><circle cx="84.4" cy="99.5" r="0.8" fill="#e8e020"/><circle cx="95.3" cy="98.4" r="0.7" fill="#e8e020"/><circle cx="86.5" cy="104.6" r="1.1" fill="#e8e020"/><circle cx="82.4" cy="104.6" r="1.1" fill="#e8e020"/><circle cx="87.7" cy="105.2" r="1.2" fill="#e8e020"/><circle cx="76.5" cy="117.7" r="1.0" fill="#e8e020"/><circle cx="67.6" cy="111.6" r="0.5" fill="#e8e020"/><circle cx="68.2" cy="134.3" r="1.2" fill="#e8e020"/><circle cx="65.2" cy="138.9" r="0.7" fill="#e8e020"/><circle cx="74.6" cy="124.4" r="1.0" fill="#e8e020"/><circle cx="63.2" cy="116.5" r="1.0" fill="#e8e020"/><circle cx="70.9" cy="135.6" r="1.0" fill="#e8e020"/><circle cx="78.0" cy="133.8" r="0.8" fill="#e8e020"/><circle cx="73.8" cy="123.5" r="1.4" fill="#e8e020"/><circle cx="68.7" cy="119.3" r="1.1" fill="#e8e020"/><circle cx="71.7" cy="127.2" r="1.0" fill="#e8e020"/><circle cx="67.8" cy="134.8" r="1.1" fill="#e8e020"/><circle cx="62.8" cy="129.0" r="1.2" fill="#e8e020"/><circle cx="70.8" cy="124.0" r="1.2" fill="#e8e020"/><circle cx="69.4" cy="121.5" r="0.6" fill="#e8e020"/><circle cx="70.4" cy="130.4" r="1.0" fill="#e8e020"/><circle cx="75.4" cy="126.9" r="0.7" fill="#e8e020"/><circle cx="76.0" cy="146.0" r="1.0" fill="#e8e020"/><circle cx="70.4" cy="144.7" r="0.9" fill="#e8e020"/><circle cx="75.6" cy="126.3" r="0.7" fill="#e8e020"/><circle cx="70.0" cy="128.5" r="1.2" fill="#e8e020"/><circle cx="65.8" cy="138.6" r="1.3" fill="#e8e020"/><circle cx="64.7" cy="132.7" r="1.1" fill="#e8e020"/><circle cx="66.6" cy="121.3" r="0.7" fill="#e8e020"/><circle cx="69.4" cy="128.8" r="1.1" fill="#e8e020"/><circle cx="64.1" cy="116.5" r="0.9" fill="#e8e020"/><circle cx="68.9" cy="117.0" r="1.3" fill="#e8e020"/><circle cx="62.5" cy="123.5" r="1.0" fill="#e8e020"/><circle cx="70.2" cy="130.3" r="1.2" fill="#e8e020"/><circle cx="67.5" cy="118.3" r="1.3" fill="#e8e020"/><circle cx="73.0" cy="139.0" r="1.0" fill="#e8e020"/><circle cx="71.7" cy="129.8" r="0.5" fill="#e8e020"/><circle cx="72.8" cy="140.1" r="0.9" fill="#e8e020"/><circle cx="75.2" cy="129.9" r="1.4" fill="#e8e020"/><circle cx="70.6" cy="120.6" r="0.9" fill="#e8e020"/><circle cx="67.2" cy="131.5" r="1.1" fill="#e8e020"/><circle cx="75.2" cy="128.5" r="1.3" fill="#e8e020"/><circle cx="69.9" cy="115.5" r="1.2" fill="#e8e020"/><circle cx="73.4" cy="125.3" r="1.4" fill="#e8e020"/><circle cx="74.2" cy="121.4" r="0.6" fill="#e8e020"/><circle cx="63.9" cy="125.3" r="1.4" fill="#e8e020"/><circle cx="69.8" cy="139.9" r="1.2" fill="#e8e020"/><circle cx="66.3" cy="123.3" r="1.3" fill="#e8e020"/><circle cx="69.3" cy="143.0" r="1.3" fill="#e8e020"/><circle cx="68.0" cy="126.7" r="0.7" fill="#e8e020"/><circle cx="72.5" cy="129.3" r="0.8" fill="#e8e020"/><circle cx="61.5" cy="120.7" r="0.5" fill="#e8e020"/><circle cx="69.5" cy="123.3" r="1.1" fill="#e8e020"/><circle cx="74.3" cy="127.7" r="1.3" fill="#e8e020"/><circle cx="70.8" cy="125.3" r="0.8" fill="#e8e020"/><circle cx="72.3" cy="124.6" r="0.9" fill="#e8e020"/><circle cx="69.3" cy="133.9" r="0.9" fill="#e8e020"/><circle cx="71.5" cy="130.7" r="1.4" fill="#e8e020"/><circle cx="70.1" cy="116.4" r="0.6" fill="#e8e020"/><circle cx="74.3" cy="135.5" r="1.1" fill="#e8e020"/><circle cx="82.5" cy="128.5" r="0.8" fill="#e8e020"/><circle cx="68.8" cy="138.5" r="1.3" fill="#e8e020"/><circle cx="66.1" cy="134.9" r="0.5" fill="#e8e020"/><circle cx="59.2" cy="130.7" r="1.3" fill="#e8e020"/><circle cx="63.8" cy="140.1" r="1.4" fill="#e8e020"/><circle cx="66.4" cy="142.1" r="0.8" fill="#e8e020"/><circle cx="80.1" cy="123.4" r="1.4" fill="#e8e020"/><circle cx="63.2" cy="133.9" r="1.1" fill="#e8e020"/><circle cx="68.2" cy="125.9" r="1.1" fill="#e8e020"/><circle cx="71.9" cy="116.4" r="1.3" fill="#e8e020"/><circle cx="76.6" cy="124.6" r="0.8" fill="#e8e020"/><circle cx="66.4" cy="127.0" r="0.7" fill="#e8e020"/><circle cx="75.0" cy="126.1" r="0.9" fill="#e8e020"/><circle cx="76.4" cy="117.9" r="0.5" fill="#e8e020"/><circle cx="64.4" cy="132.4" r="0.7" fill="#e8e020"/></g><ellipse cx="69.6" cy="127.2" rx="10.0" ry="15.0" fill="#d0c018" filter="url(#b2)" transform="rotate(8 69.6 127.2)" opacity="0.7"/><path d="M122.5 139.0H154.0" stroke="#d8d8d8" stroke-width="1.1"/></svg>
<svg style="left:2913.4px;top:1041.1px;overflow:hidden" width="164.0" height="155.4" viewBox="0 0 164.0 155.4"><rect width="164.0" height="155.4" fill="#010110"/><ellipse cx="43.0" cy="74.0" rx="42.0" ry="20.0" fill="#07074a" filter="url(#b5)"/><ellipse cx="120.0" cy="55.0" rx="38.0" ry="16.0" fill="#05053a" filter="url(#b5)"/><ellipse cx="70.0" cy="90.0" rx="16.0" ry="14.0" fill="#070746" filter="url(#b3)"/><ellipse cx="47.4" cy="64.6" rx="16.0" ry="15.0" fill="#1616f8" filter="url(#b2)"/><ellipse cx="48.0" cy="67.0" rx="3.0" ry="2.5" fill="#0c0cb0" filter="url(#b1)"/><ellipse cx="97.9" cy="48.4" rx="14.0" ry="12.0" fill="#1818f4" filter="url(#b2)" transform="rotate(20 97.9 48.4)"/><ellipse cx="112.0" cy="57.5" rx="6.0" ry="5.0" fill="#1818f4" filter="url(#b2)"/><ellipse cx="66.6" cy="127.2" rx="12.5" ry="19.0" fill="#1a1af0" filter="url(#b2)" transform="rotate(8 66.6 127.2)"/><g opacity="0.55"><ellipse cx="112.0" cy="48.0" rx="45.0" ry="15.0" fill="#6a0a0a" filter="url(#b3)" transform="rotate(-12 112.0 48.0)"/><ellipse cx="49.5" cy="76.3" rx="40.0" ry="20.0" fill="#470606" filter="url(#b3)" transform="rotate(-8 49.5 76.3)"/><ellipse cx="75.0" cy="98.0" rx="14.0" ry="14.0" fill="#3a0505" filter="url(#b3)"/><ellipse cx="68.6" cy="126.8" rx="12.5" ry="17.0" fill="#dc1414" filter="url(#b2)" transform="rotate(8 68.6 126.8)"/><g filter="url(#b05)"><circle cx="114.0" cy="52.9" r="1.0" fill="#d81c1c"/><circle cx="87.6" cy="45.5" r="1.1" fill="#d81c1c"/><circle cx="107.7" cy="38.3" r="0.9" fill="#d81c1c"/><circle cx="100.1" cy="45.5" r="0.8" fill="#d81c1c"/><circle cx="94.1" cy="43.8" r="1.1" fill="#d81c1c"/><circle cx="101.5" cy="49.3" r="0.5" fill="#d81c1c"/><circle cx="129.5" cy="44.8" r="1.2" fill="#d81c1c"/><circle cx="96.5" cy="43.9" r="0.8" fill="#d81c1c"/><circle cx="91.1" cy="45.0" r="1.3" fill="#d81c1c"/><circle cx="92.9" cy="47.6" r="1.2" fill="#d81c1c"/><circle cx="129.2" cy="54.7" r="0.9" fill="#d81c1c"/><circle cx="84.4" cy="43.2" r="0.9" fill="#d81c1c"/><circle cx="101.9" cy="46.5" r="1.2" fill="#d81c1c"/><circle cx="103.0" cy="55.4" r="0.7" fill="#d81c1c"/><circle cx="137.4" cy="42.5" r="1.1" fill="#d81c1c"/><circle cx="101.9" cy="37.1" r="1.1" fill="#d81c1c"/><circle cx="114.7" cy="49.7" r="1.2" fill="#d81c1c"/><circle cx="112.3" cy="58.0" r="1.2" fill="#d81c1c"/><circle cx="85.5" cy="48.1" r="0.9" fill="#d81c1c"/><circle cx="56.0" cy="57.8" r="0.8" fill="#d81c1c"/><circle cx="107.9" cy="45.4" r="1.1" fill="#d81c1c"/><circle cx="121.1" cy="44.7" r="0.9" fill="#d81c1c"/><circle cx="71.6" cy="41.9" r="0.7" fill="#d81c1c"/><circle cx="82.2" cy="40.2" r="1.0" fill="#d81c1c"/><circle cx="104.6" cy="48.3" r="0.8" fill="#d81c1c"/><circle cx="114.9" cy="42.6" r="1.0" fill="#d81c1c"/><circle cx="97.1" cy="47.6" r="0.6" fill="#d81c1c"/><circle cx="112.1" cy="35.4" r="0.8" fill="#d81c1c"/><circle cx="89.0" cy="36.8" r="1.2" fill="#d81c1c"/><circle cx="117.8" cy="43.4" r="1.3" fill="#d81c1c"/><circle cx="123.4" cy="43.1" r="1.2" fill="#d81c1c"/><circle cx="82.6" cy="45.3" r="0.7" fill="#d81c1c"/><circle cx="107.6" cy="42.5" r="0.6" fill="#d81c1c"/><circle cx="110.6" cy="35.3" r="0.9" fill="#d81c1c"/><circle cx="103.1" cy="43.3" r="0.7" fill="#d81c1c"/><circle cx="95.3" cy="51.1" r="0.6" fill="#d81c1c"/><circle cx="114.8" cy="47.3" r="1.2" fill="#d81c1c"/><circle cx="129.6" cy="44.0" r="0.9" fill="#d81c1c"/><circle cx="99.4" cy="60.2" r="0.9" fill="#d81c1c"/><circle cx="99.4" cy="43.6" r="0.7" fill="#d81c1c"/><circle cx="114.8" cy="30.9" r="1.2" fill="#d81c1c"/><circle cx="109.5" cy="32.6" r="1.0" fill="#d81c1c"/><circle cx="113.5" cy="32.5" r="0.9" fill="#d81c1c"/><circle cx="111.2" cy="37.3" r="0.5" fill="#d81c1c"/><circle cx="109.1" cy="29.3" r="0.5" fill="#d81c1c"/><circle cx="108.4" cy="32.3" r="1.2" fill="#d81c1c"/><circle cx="46.7" cy="73.3" r="0.8" fill="#d81c1c"/><circle cx="102.0" cy="72.1" r="0.6" fill="#d81c1c"/><circle cx="67.4" cy="77.7" r="0.5" fill="#d81c1c"/><circle cx="49.6" cy="77.3" r="1.2" fill="#d81c1c"/><circle cx="54.2" cy="73.0" r="0.9" fill="#d81c1c"/><circle cx="49.5" cy="83.3" r="0.7" fill="#d81c1c"/><circle cx="66.4" cy="79.9" r="0.8" fill="#d81c1c"/><circle cx="53.7" cy="67.4" r="0.5" fill="#d81c1c"/><circle cx="50.1" cy="62.2" r="1.1" fill="#d81c1c"/><circle cx="60.6" cy="75.2" r="0.9" fill="#d81c1c"/><circle cx="91.3" cy="80.6" r="0.6" fill="#d81c1c"/><circle cx="56.3" cy="70.8" r="1.1" fill="#d81c1c"/><circle cx="57.7" cy="77.9" r="0.8" fill="#d81c1c"/><circle cx="44.3" cy="90.0" r="0.7" fill="#d81c1c"/><circle cx="34.8" cy="75.8" r="1.3" fill="#d81c1c"/><circle cx="82.1" cy="81.5" r="0.9" fill="#d81c1c"/><circle cx="54.9" cy="57.8" r="0.7" fill="#d81c1c"/><circle cx="52.4" cy="67.9" r="0.9" fill="#d81c1c"/><circle cx="93.8" cy="81.0" r="1.3" fill="#d81c1c"/><circle cx="49.3" cy="80.8" r="1.3" fill="#d81c1c"/><circle cx="66.2" cy="77.7" r="0.6" fill="#d81c1c"/><circle cx="73.3" cy="65.1" r="0.9" fill="#d81c1c"/><circle cx="57.1" cy="75.0" r="1.0" fill="#d81c1c"/><circle cx="37.4" cy="79.0" r="0.8" fill="#d81c1c"/><circle cx="48.4" cy="78.9" r="0.5" fill="#d81c1c"/><circle cx="46.2" cy="78.1" r="1.1" fill="#d81c1c"/><circle cx="73.2" cy="65.8" r="0.9" fill="#d81c1c"/><circle cx="61.7" cy="82.9" r="0.9" fill="#d81c1c"/><circle cx="25.3" cy="62.8" r="0.6" fill="#d81c1c"/><circle cx="36.9" cy="77.0" r="1.1" fill="#d81c1c"/><circle cx="86.9" cy="68.3" r="1.0" fill="#d81c1c"/><circle cx="61.6" cy="65.6" r="1.2" fill="#d81c1c"/><circle cx="50.5" cy="65.9" r="0.7" fill="#d81c1c"/><circle cx="77.1" cy="72.5" r="1.0" fill="#d81c1c"/><circle cx="83.3" cy="59.9" r="1.3" fill="#d81c1c"/><circle cx="77.3" cy="76.2" r="0.7" fill="#d81c1c"/><circle cx="51.3" cy="78.5" r="0.9" fill="#d81c1c"/><circle cx="74.9" cy="78.8" r="1.3" fill="#d81c1c"/><circle cx="58.9" cy="68.2" r="0.6" fill="#d81c1c"/><circle cx="90.0" cy="73.0" r="0.7" fill="#d81c1c"/><circle cx="45.4" cy="84.6" r="1.0" fill="#d81c1c"/><circle cx="56.6" cy="93.2" r="0.8" fill="#d81c1c"/><circle cx="59.0" cy="89.5" r="0.6" fill="#d81c1c"/><circle cx="54.4" cy="71.8" r="1.0" fill="#d81c1c"/><circle cx="56.7" cy="82.7" r="1.3" fill="#d81c1c"/><circle cx="39.0" cy="77.5" r="1.0" fill="#d81c1c"/><circle cx="57.6" cy="80.3" r="0.8" fill="#d81c1c"/><circle cx="58.2" cy="80.5" r="1.3" fill="#d81c1c"/><circle cx="95.6" cy="78.7" r="1.2" fill="#d81c1c"/><circle cx="58.9" cy="74.7" r="0.9" fill="#d81c1c"/><circle cx="85.6" cy="87.0" r="1.1" fill="#d81c1c"/><circle cx="75.1" cy="85.7" r="0.9" fill="#d81c1c"/><circle cx="80.7" cy="87.9" r="0.9" fill="#d81c1c"/><circle cx="81.1" cy="81.4" r="0.6" fill="#d81c1c"/><circle cx="78.9" cy="74.2" r="0.9" fill="#d81c1c"/><circle cx="79.9" cy="86.2" r="0.8" fill="#d81c1c"/><circle cx="69.6" cy="83.6" r="1.1" fill="#d81c1c"/><circle cx="85.1" cy="73.6" r="1.2" fill="#d81c1c"/><circle cx="85.5" cy="85.9" r="0.6" fill="#d81c1c"/><circle cx="85.7" cy="79.1" r="1.1" fill="#d81c1c"/><circle cx="76.1" cy="86.9" r="1.2" fill="#d81c1c"/><circle cx="66.3" cy="79.8" r="0.9" fill="#d81c1c"/><circle cx="77.3" cy="79.8" r="0.7" fill="#d81c1c"/><circle cx="70.9" cy="89.0" r="1.0" fill="#d81c1c"/><circle cx="77.4" cy="83.5" r="0.6" fill="#d81c1c"/><circle cx="63.0" cy="84.3" r="0.7" fill="#d81c1c"/><circle cx="74.7" cy="87.1" r="0.5" fill="#d81c1c"/><circle cx="62.9" cy="85.3" r="1.0" fill="#d81c1c"/><circle cx="77.0" cy="87.4" r="1.2" fill="#d81c1c"/><circle cx="67.0" cy="83.5" r="1.1" fill="#d81c1c"/></g></g><g filter="url(#b05)"><circle cx="87.7" cy="48.6" r="0.9" fill="#e8e020"/><circle cx="82.0" cy="45.4" r="0.6" fill="#e8e020"/><circle cx="85.3" cy="58.4" r="0.6" fill="#e8e020"/><circle cx="83.1" cy="39.6" r="0.6" fill="#e8e020"/><circle cx="75.3" cy="46.9" r="0.9" fill="#e8e020"/><circle cx="87.3" cy="48.3" r="0.5" fill="#e8e020"/><circle cx="91.4" cy="46.1" r="0.7" fill="#e8e020"/><circle cx="80.1" cy="53.4" r="1.4" fill="#e8e020"/><circle cx="85.2" cy="52.5" r="1.0" fill="#e8e020"/><circle cx="64.8" cy="44.0" r="1.3" fill="#e8e020"/><circle cx="80.5" cy="51.6" r="1.3" fill="#e8e020"/><circle cx="85.8" cy="48.3" r="1.2" fill="#e8e020"/><circle cx="91.7" cy="42.0" r="0.7" fill="#e8e020"/><circle cx="87.5" cy="39.1" r="0.7" fill="#e8e020"/><circle cx="80.2" cy="45.1" r="0.5" fill="#e8e020"/><circle cx="80.1" cy="53.0" r="0.9" fill="#e8e020"/><circle cx="74.6" cy="39.3" r="1.4" fill="#e8e020"/><circle cx="108.9" cy="45.6" r="1.2" fill="#e8e020"/><circle cx="82.1" cy="51.9" r="1.1" fill="#e8e020"/><circle cx="72.3" cy="45.8" r="0.6" fill="#e8e020"/><circle cx="90.1" cy="61.1" r="1.0" fill="#e8e020"/><circle cx="82.6" cy="45.9" r="0.9" fill="#e8e020"/><circle cx="93.6" cy="43.8" r="1.4" fill="#e8e020"/><circle cx="86.7" cy="54.6" r="1.2" fill="#e8e020"/><circle cx="70.5" cy="52.0" r="1.0" fill="#e8e020"/><circle cx="86.5" cy="50.2" r="1.4" fill="#e8e020"/><circle cx="87.6" cy="51.1" r="0.8" fill="#e8e020"/><circle cx="80.2" cy="36.9" r="0.9" fill="#e8e020"/><circle cx="69.7" cy="48.5" r="0.8" fill="#e8e020"/><circle cx="76.1" cy="54.3" r="1.1" fill="#e8e020"/><circle cx="87.6" cy="49.1" r="0.6" fill="#e8e020"/><circle cx="81.9" cy="39.3" r="1.4" fill="#e8e020"/><circle cx="84.5" cy="43.8" r="1.2" fill="#e8e020"/><circle cx="91.2" cy="47.9" r="0.5" fill="#e8e020"/><circle cx="79.2" cy="51.9" r="0.7" fill="#e8e020"/><circle cx="113.5" cy="34.7" r="1.3" fill="#e8e020"/><circle cx="115.9" cy="35.6" r="0.7" fill="#e8e020"/><circle cx="113.9" cy="39.5" r="0.8" fill="#e8e020"/><circle cx="113.3" cy="37.3" r="1.1" fill="#e8e020"/><circle cx="106.1" cy="33.4" r="0.9" fill="#e8e020"/><circle cx="107.3" cy="33.6" r="0.9" fill="#e8e020"/><circle cx="111.3" cy="31.0" r="0.6" fill="#e8e020"/><circle cx="115.7" cy="38.0" r="1.2" fill="#e8e020"/><circle cx="116.3" cy="32.7" r="1.0" fill="#e8e020"/><circle cx="115.0" cy="39.4" r="0.6" fill="#e8e020"/><circle cx="121.1" cy="49.3" r="0.8" fill="#e8e020"/><circle cx="122.8" cy="52.9" r="1.1" fill="#e8e020"/><circle cx="117.9" cy="47.0" r="1.2" fill="#e8e020"/><circle cx="125.5" cy="38.7" r="0.5" fill="#e8e020"/><circle cx="105.7" cy="41.0" r="0.7" fill="#e8e020"/><circle cx="135.6" cy="56.8" r="0.8" fill="#e8e020"/><circle cx="107.0" cy="53.4" r="0.8" fill="#e8e020"/><circle cx="131.1" cy="51.3" r="0.8" fill="#e8e020"/><circle cx="123.7" cy="43.5" r="1.2" fill="#e8e020"/><circle cx="137.7" cy="49.5" r="1.1" fill="#e8e020"/><circle cx="111.7" cy="48.8" r="1.3" fill="#e8e020"/><circle cx="126.5" cy="51.1" r="0.5" fill="#e8e020"/><circle cx="116.3" cy="48.5" r="0.9" fill="#e8e020"/><circle cx="128.3" cy="48.0" r="0.8" fill="#e8e020"/><circle cx="128.6" cy="43.8" r="1.3" fill="#e8e020"/><circle cx="115.5" cy="45.6" r="1.2" fill="#e8e020"/><circle cx="130.0" cy="54.8" r="1.3" fill="#e8e020"/><circle cx="116.1" cy="46.9" r="0.6" fill="#e8e020"/><circle cx="119.9" cy="46.6" r="0.8" fill="#e8e020"/><circle cx="95.9" cy="44.9" r="1.1" fill="#e8e020"/><circle cx="100.5" cy="46.8" r="0.8" fill="#e8e020"/><circle cx="112.0" cy="52.9" r="1.0" fill="#e8e020"/><circle cx="130.6" cy="53.1" r="1.2" fill="#e8e020"/><circle cx="129.1" cy="55.8" r="0.5" fill="#e8e020"/><circle cx="148.4" cy="45.9" r="0.8" fill="#e8e020"/><circle cx="152.8" cy="47.1" r="0.6" fill="#e8e020"/><circle cx="128.2" cy="53.8" r="1.4" fill="#e8e020"/><circle cx="130.8" cy="49.2" r="0.8" fill="#e8e020"/><circle cx="141.8" cy="49.4" r="1.0" fill="#e8e020"/><circle cx="120.8" cy="49.0" r="0.5" fill="#e8e020"/><circle cx="74.9" cy="74.6" r="0.9" fill="#e8e020"/><circle cx="58.1" cy="82.0" r="1.3" fill="#e8e020"/><circle cx="78.5" cy="72.1" r="0.8" fill="#e8e020"/><circle cx="73.6" cy="83.0" r="1.3" fill="#e8e020"/><circle cx="82.6" cy="83.4" r="1.3" fill="#e8e020"/><circle cx="67.8" cy="86.1" r="0.9" fill="#e8e020"/><circle cx="84.5" cy="77.6" r="1.3" fill="#e8e020"/><circle cx="85.8" cy="83.0" r="0.9" fill="#e8e020"/><circle cx="58.2" cy="87.1" r="1.2" fill="#e8e020"/><circle cx="84.2" cy="75.5" r="1.3" fill="#e8e020"/><circle cx="61.4" cy="84.0" r="1.2" fill="#e8e020"/><circle cx="67.0" cy="81.6" r="1.0" fill="#e8e020"/><circle cx="84.3" cy="71.9" r="0.6" fill="#e8e020"/><circle cx="66.9" cy="83.6" r="0.8" fill="#e8e020"/><circle cx="80.8" cy="79.1" r="0.8" fill="#e8e020"/><circle cx="70.3" cy="87.1" r="1.1" fill="#e8e020"/><circle cx="68.5" cy="83.9" r="0.7" fill="#e8e020"/><circle cx="70.5" cy="93.7" r="0.7" fill="#e8e020"/><circle cx="71.8" cy="77.8" r="1.2" fill="#e8e020"/><circle cx="70.1" cy="91.1" r="0.9" fill="#e8e020"/><circle cx="75.2" cy="82.0" r="1.2" fill="#e8e020"/><circle cx="61.7" cy="78.9" r="0.8" fill="#e8e020"/><circle cx="68.0" cy="74.3" r="0.6" fill="#e8e020"/><circle cx="65.4" cy="77.6" r="1.3" fill="#e8e020"/><circle cx="56.9" cy="77.6" r="0.6" fill="#e8e020"/><circle cx="68.4" cy="72.8" r="1.3" fill="#e8e020"/><circle cx="80.2" cy="75.6" r="1.0" fill="#e8e020"/><circle cx="72.5" cy="76.0" r="1.0" fill="#e8e020"/><circle cx="74.5" cy="72.9" r="1.0" fill="#e8e020"/><circle cx="86.8" cy="67.9" r="0.7" fill="#e8e020"/><circle cx="82.8" cy="84.4" r="0.6" fill="#e8e020"/><circle cx="81.7" cy="79.4" r="1.0" fill="#e8e020"/><circle cx="79.2" cy="69.7" r="0.6" fill="#e8e020"/><circle cx="66.3" cy="81.8" r="0.9" fill="#e8e020"/><circle cx="84.0" cy="89.8" r="0.8" fill="#e8e020"/><circle cx="57.0" cy="88.9" r="1.2" fill="#e8e020"/><circle cx="66.2" cy="86.8" r="1.1" fill="#e8e020"/><circle cx="73.6" cy="83.7" r="1.3" fill="#e8e020"/><circle cx="79.1" cy="88.7" r="1.2" fill="#e8e020"/><circle cx="64.7" cy="77.7" r="1.3" fill="#e8e020"/><circle cx="72.5" cy="78.5" r="1.3" fill="#e8e020"/><circle cx="66.8" cy="76.9" r="0.7" fill="#e8e020"/><circle cx="85.1" cy="87.0" r="1.3" fill="#e8e020"/><circle cx="68.4" cy="83.8" r="0.6" fill="#e8e020"/><circle cx="65.2" cy="83.3" r="0.5" fill="#e8e020"/><circle cx="66.8" cy="91.3" r="0.6" fill="#e8e020"/><circle cx="62.8" cy="84.8" r="0.6" fill="#e8e020"/><circle cx="75.1" cy="81.2" r="0.6" fill="#e8e020"/><circle cx="89.4" cy="78.8" r="1.1" fill="#e8e020"/><circle cx="78.1" cy="77.6" r="0.7" fill="#e8e020"/><circle cx="80.1" cy="74.7" r="1.3" fill="#e8e020"/><circle cx="65.8" cy="85.5" r="1.1" fill="#e8e020"/><circle cx="75.7" cy="78.3" r="0.7" fill="#e8e020"/><circle cx="83.2" cy="81.4" r="1.3" fill="#e8e020"/><circle cx="67.1" cy="79.3" r="1.1" fill="#e8e020"/><circle cx="69.2" cy="78.4" r="1.3" fill="#e8e020"/><circle cx="66.1" cy="74.8" r="0.8" fill="#e8e020"/><circle cx="77.1" cy="86.4" r="0.8" fill="#e8e020"/><circle cx="73.1" cy="89.3" r="1.1" fill="#e8e020"/><circle cx="94.4" cy="76.2" r="0.9" fill="#e8e020"/><circle cx="32.1" cy="75.3" r="0.9" fill="#e8e020"/><circle cx="-1.0" cy="74.2" r="0.5" fill="#e8e020"/><circle cx="22.7" cy="81.0" r="1.2" fill="#e8e020"/><circle cx="50.1" cy="78.3" r="0.6" fill="#e8e020"/><circle cx="19.6" cy="76.3" r="1.1" fill="#e8e020"/><circle cx="37.6" cy="74.5" r="1.0" fill="#e8e020"/><circle cx="35.4" cy="78.8" r="0.7" fill="#e8e020"/><circle cx="20.3" cy="67.3" r="1.3" fill="#e8e020"/><circle cx="27.6" cy="93.1" r="0.8" fill="#e8e020"/><circle cx="27.1" cy="80.9" r="1.0" fill="#e8e020"/><circle cx="18.5" cy="84.8" r="1.4" fill="#e8e020"/><circle cx="49.2" cy="85.3" r="1.0" fill="#e8e020"/><circle cx="34.4" cy="81.3" r="1.3" fill="#e8e020"/><circle cx="28.4" cy="73.4" r="0.6" fill="#e8e020"/><circle cx="46.4" cy="77.0" r="0.9" fill="#e8e020"/><circle cx="20.7" cy="78.1" r="1.4" fill="#e8e020"/><circle cx="14.4" cy="81.5" r="1.2" fill="#e8e020"/><circle cx="42.8" cy="78.7" r="0.8" fill="#e8e020"/><circle cx="53.2" cy="77.9" r="0.8" fill="#e8e020"/><circle cx="40.2" cy="78.3" r="0.7" fill="#e8e020"/><circle cx="53.9" cy="83.1" r="0.9" fill="#e8e020"/><circle cx="29.9" cy="85.1" r="0.7" fill="#e8e020"/><circle cx="29.0" cy="71.8" r="0.8" fill="#e8e020"/><circle cx="37.9" cy="78.9" r="1.0" fill="#e8e020"/><circle cx="39.0" cy="82.1" r="1.0" fill="#e8e020"/><circle cx="39.7" cy="81.0" r="0.6" fill="#e8e020"/><circle cx="16.2" cy="86.6" r="0.8" fill="#e8e020"/><circle cx="52.2" cy="85.9" r="1.2" fill="#e8e020"/><circle cx="39.4" cy="80.0" r="0.6" fill="#e8e020"/><circle cx="-4.4" cy="86.2" r="1.0" fill="#e8e020"/><circle cx="42.4" cy="77.6" r="0.9" fill="#e8e020"/><circle cx="31.1" cy="76.7" r="1.0" fill="#e8e020"/><circle cx="46.7" cy="71.8" r="1.1" fill="#e8e020"/><circle cx="57.1" cy="65.4" r="1.0" fill="#e8e020"/><circle cx="35.1" cy="83.5" r="0.6" fill="#e8e020"/><circle cx="95.8" cy="100.5" r="1.0" fill="#e8e020"/><circle cx="95.3" cy="98.6" r="0.9" fill="#e8e020"/><circle cx="85.3" cy="102.2" r="0.7" fill="#e8e020"/><circle cx="80.9" cy="108.9" r="1.1" fill="#e8e020"/><circle cx="82.2" cy="100.6" r="0.8" fill="#e8e020"/><circle cx="86.1" cy="103.9" r="0.8" fill="#e8e020"/><circle cx="98.6" cy="99.0" r="0.7" fill="#e8e020"/><circle cx="76.2" cy="103.1" r="0.7" fill="#e8e020"/><circle cx="82.0" cy="107.2" r="0.7" fill="#e8e020"/><circle cx="89.0" cy="102.6" r="1.3" fill="#e8e020"/><circle cx="84.4" cy="99.5" r="0.8" fill="#e8e020"/><circle cx="95.3" cy="98.4" r="0.7" fill="#e8e020"/><circle cx="86.5" cy="104.6" r="1.1" fill="#e8e020"/><circle cx="82.4" cy="104.6" r="1.1" fill="#e8e020"/><circle cx="87.7" cy="105.2" r="1.2" fill="#e8e020"/><circle cx="76.5" cy="117.7" r="1.0" fill="#e8e020"/><circle cx="67.6" cy="111.6" r="0.5" fill="#e8e020"/><circle cx="68.2" cy="134.3" r="1.2" fill="#e8e020"/><circle cx="65.2" cy="138.9" r="0.7" fill="#e8e020"/><circle cx="74.6" cy="124.4" r="1.0" fill="#e8e020"/><circle cx="63.2" cy="116.5" r="1.0" fill="#e8e020"/><circle cx="70.9" cy="135.6" r="1.0" fill="#e8e020"/><circle cx="78.0" cy="133.8" r="0.8" fill="#e8e020"/><circle cx="73.8" cy="123.5" r="1.4" fill="#e8e020"/><circle cx="68.7" cy="119.3" r="1.1" fill="#e8e020"/><circle cx="71.7" cy="127.2" r="1.0" fill="#e8e020"/><circle cx="67.8" cy="134.8" r="1.1" fill="#e8e020"/><circle cx="62.8" cy="129.0" r="1.2" fill="#e8e020"/><circle cx="70.8" cy="124.0" r="1.2" fill="#e8e020"/><circle cx="69.4" cy="121.5" r="0.6" fill="#e8e020"/><circle cx="70.4" cy="130.4" r="1.0" fill="#e8e020"/><circle cx="75.4" cy="126.9" r="0.7" fill="#e8e020"/><circle cx="76.0" cy="146.0" r="1.0" fill="#e8e020"/><circle cx="70.4" cy="144.7" r="0.9" fill="#e8e020"/><circle cx="75.6" cy="126.3" r="0.7" fill="#e8e020"/><circle cx="70.0" cy="128.5" r="1.2" fill="#e8e020"/><circle cx="65.8" cy="138.6" r="1.3" fill="#e8e020"/><circle cx="64.7" cy="132.7" r="1.1" fill="#e8e020"/><circle cx="66.6" cy="121.3" r="0.7" fill="#e8e020"/><circle cx="69.4" cy="128.8" r="1.1" fill="#e8e020"/><circle cx="64.1" cy="116.5" r="0.9" fill="#e8e020"/><circle cx="68.9" cy="117.0" r="1.3" fill="#e8e020"/><circle cx="62.5" cy="123.5" r="1.0" fill="#e8e020"/><circle cx="70.2" cy="130.3" r="1.2" fill="#e8e020"/><circle cx="67.5" cy="118.3" r="1.3" fill="#e8e020"/><circle cx="73.0" cy="139.0" r="1.0" fill="#e8e020"/><circle cx="71.7" cy="129.8" r="0.5" fill="#e8e020"/><circle cx="72.8" cy="140.1" r="0.9" fill="#e8e020"/><circle cx="75.2" cy="129.9" r="1.4" fill="#e8e020"/><circle cx="70.6" cy="120.6" r="0.9" fill="#e8e020"/><circle cx="67.2" cy="131.5" r="1.1" fill="#e8e020"/><circle cx="75.2" cy="128.5" r="1.3" fill="#e8e020"/><circle cx="69.9" cy="115.5" r="1.2" fill="#e8e020"/><circle cx="73.4" cy="125.3" r="1.4" fill="#e8e020"/><circle cx="74.2" cy="121.4" r="0.6" fill="#e8e020"/><circle cx="63.9" cy="125.3" r="1.4" fill="#e8e020"/><circle cx="69.8" cy="139.9" r="1.2" fill="#e8e020"/><circle cx="66.3" cy="123.3" r="1.3" fill="#e8e020"/><circle cx="69.3" cy="143.0" r="1.3" fill="#e8e020"/><circle cx="68.0" cy="126.7" r="0.7" fill="#e8e020"/><circle cx="72.5" cy="129.3" r="0.8" fill="#e8e020"/><circle cx="61.5" cy="120.7" r="0.5" fill="#e8e020"/><circle cx="69.5" cy="123.3" r="1.1" fill="#e8e020"/><circle cx="74.3" cy="127.7" r="1.3" fill="#e8e020"/><circle cx="70.8" cy="125.3" r="0.8" fill="#e8e020"/><circle cx="72.3" cy="124.6" r="0.9" fill="#e8e020"/><circle cx="69.3" cy="133.9" r="0.9" fill="#e8e020"/><circle cx="71.5" cy="130.7" r="1.4" fill="#e8e020"/><circle cx="70.1" cy="116.4" r="0.6" fill="#e8e020"/><circle cx="74.3" cy="135.5" r="1.1" fill="#e8e020"/><circle cx="82.5" cy="128.5" r="0.8" fill="#e8e020"/><circle cx="68.8" cy="138.5" r="1.3" fill="#e8e020"/><circle cx="66.1" cy="134.9" r="0.5" fill="#e8e020"/><circle cx="59.2" cy="130.7" r="1.3" fill="#e8e020"/><circle cx="63.8" cy="140.1" r="1.4" fill="#e8e020"/><circle cx="66.4" cy="142.1" r="0.8" fill="#e8e020"/><circle cx="80.1" cy="123.4" r="1.4" fill="#e8e020"/><circle cx="63.2" cy="133.9" r="1.1" fill="#e8e020"/><circle cx="68.2" cy="125.9" r="1.1" fill="#e8e020"/><circle cx="71.9" cy="116.4" r="1.3" fill="#e8e020"/><circle cx="76.6" cy="124.6" r="0.8" fill="#e8e020"/><circle cx="66.4" cy="127.0" r="0.7" fill="#e8e020"/><circle cx="75.0" cy="126.1" r="0.9" fill="#e8e020"/><circle cx="76.4" cy="117.9" r="0.5" fill="#e8e020"/><circle cx="64.4" cy="132.4" r="0.7" fill="#e8e020"/></g><ellipse cx="69.6" cy="127.2" rx="9.0" ry="14.0" fill="#d8d8ff" filter="url(#b2)" transform="rotate(8 69.6 127.2)" opacity="0.7"/><ellipse cx="100.0" cy="50.0" rx="10.0" ry="8.0" fill="#e8e8ff" filter="url(#b2)" transform="rotate(20 100.0 50.0)" opacity="0.5"/><path d="M122.5 137.0H154.0" stroke="#d8d8d8" stroke-width="1.1"/></svg>
<svg style="left:2232.7px;top:1231.1px;overflow:hidden" width="164.5" height="155.4" viewBox="0 0 164.5 155.4"><rect width="164.5" height="155.4" fill="#01010f"/><ellipse cx="52.9" cy="27.3" rx="10.0" ry="11.0" fill="#0a0a6a" filter="url(#b3)"/><ellipse cx="113.4" cy="37.3" rx="8.0" ry="11.0" fill="#10109a" filter="url(#b2)" transform="rotate(20 113.4 37.3)"/><ellipse cx="65.0" cy="70.6" rx="15.0" ry="13.0" fill="#0c0c7c" filter="url(#b3)"/><ellipse cx="123.5" cy="105.0" rx="14.0" ry="18.0" fill="#0c0c90" filter="url(#b3)" transform="rotate(-15 123.5 105.0)"/><ellipse cx="121.5" cy="105.0" rx="6.0" ry="6.0" fill="#1a1aff" filter="url(#b2)"/><ellipse cx="53.9" cy="119.1" rx="13.0" ry="16.0" fill="#1010a4" filter="url(#b3)"/><path d="M125.2 135.9H156.8" stroke="#d8d8d8" stroke-width="1.1"/></svg>
<svg style="left:2403.0px;top:1231.1px;overflow:hidden" width="164.2" height="155.4" viewBox="0 0 164.2 155.4"><rect width="164.2" height="155.4" fill="#000"/><g filter="url(#b05)"><circle cx="30.1" cy="34.7" r="0.7" fill="#d41a1a"/><circle cx="48.3" cy="24.2" r="1.2" fill="#d41a1a"/><circle cx="25.7" cy="27.4" r="1.2" fill="#d41a1a"/><circle cx="18.9" cy="23.1" r="1.1" fill="#d41a1a"/><circle cx="42.2" cy="22.1" r="0.7" fill="#d41a1a"/><circle cx="46.3" cy="42.0" r="0.7" fill="#d41a1a"/><circle cx="27.3" cy="19.9" r="0.6" fill="#d41a1a"/><circle cx="36.5" cy="28.0" r="1.3" fill="#d41a1a"/><circle cx="40.1" cy="25.0" r="1.2" fill="#d41a1a"/><circle cx="35.3" cy="25.7" r="1.1" fill="#d41a1a"/><circle cx="53.2" cy="44.3" r="1.2" fill="#d41a1a"/><circle cx="39.5" cy="29.9" r="0.9" fill="#d41a1a"/><circle cx="24.9" cy="21.9" r="0.7" fill="#d41a1a"/><circle cx="52.1" cy="19.0" r="0.8" fill="#d41a1a"/><circle cx="45.8" cy="40.9" r="0.9" fill="#d41a1a"/><circle cx="29.3" cy="21.3" r="0.9" fill="#d41a1a"/><circle cx="41.8" cy="31.0" r="1.0" fill="#d41a1a"/><circle cx="34.3" cy="20.9" r="1.2" fill="#d41a1a"/><circle cx="13.9" cy="25.7" r="1.1" fill="#d41a1a"/><circle cx="33.3" cy="34.7" r="0.7" fill="#d41a1a"/><circle cx="57.1" cy="34.7" r="1.3" fill="#d41a1a"/><circle cx="35.9" cy="26.0" r="1.1" fill="#d41a1a"/><circle cx="51.9" cy="43.9" r="1.1" fill="#d41a1a"/><circle cx="35.9" cy="18.0" r="0.9" fill="#d41a1a"/><circle cx="52.2" cy="11.6" r="0.8" fill="#d41a1a"/><circle cx="19.4" cy="35.9" r="1.1" fill="#d41a1a"/><circle cx="25.7" cy="35.5" r="1.4" fill="#d41a1a"/><circle cx="34.7" cy="36.4" r="1.1" fill="#d41a1a"/><circle cx="31.9" cy="49.2" r="0.9" fill="#d41a1a"/><circle cx="45.5" cy="26.3" r="1.3" fill="#d41a1a"/><circle cx="36.0" cy="15.7" r="0.8" fill="#d41a1a"/><circle cx="37.3" cy="32.2" r="0.7" fill="#d41a1a"/><circle cx="33.9" cy="27.5" r="0.8" fill="#d41a1a"/><circle cx="30.1" cy="28.2" r="0.9" fill="#d41a1a"/><circle cx="38.1" cy="43.7" r="0.7" fill="#d41a1a"/><circle cx="50.8" cy="30.1" r="1.2" fill="#d41a1a"/><circle cx="23.7" cy="26.9" r="1.4" fill="#d41a1a"/><circle cx="51.9" cy="19.9" r="0.6" fill="#d41a1a"/><circle cx="13.7" cy="18.9" r="1.1" fill="#d41a1a"/><circle cx="20.0" cy="29.2" r="0.7" fill="#d41a1a"/><circle cx="33.2" cy="14.7" r="0.7" fill="#d41a1a"/><circle cx="21.1" cy="29.6" r="0.9" fill="#d41a1a"/><circle cx="25.6" cy="11.8" r="1.3" fill="#d41a1a"/><circle cx="33.7" cy="35.1" r="1.3" fill="#d41a1a"/><circle cx="20.1" cy="19.3" r="1.3" fill="#d41a1a"/><circle cx="33.2" cy="42.1" r="0.8" fill="#d41a1a"/><circle cx="40.9" cy="17.1" r="0.8" fill="#d41a1a"/><circle cx="21.1" cy="30.3" r="0.8" fill="#d41a1a"/><circle cx="41.0" cy="39.6" r="0.7" fill="#d41a1a"/><circle cx="9.8" cy="30.9" r="1.3" fill="#d41a1a"/><circle cx="55.3" cy="35.9" r="1.2" fill="#d41a1a"/><circle cx="35.2" cy="28.3" r="1.2" fill="#d41a1a"/><circle cx="42.6" cy="45.6" r="0.9" fill="#d41a1a"/><circle cx="31.4" cy="34.4" r="1.3" fill="#d41a1a"/><circle cx="39.8" cy="48.3" r="1.0" fill="#d41a1a"/><circle cx="45.5" cy="40.9" r="1.0" fill="#d41a1a"/><circle cx="56.1" cy="33.1" r="0.8" fill="#d41a1a"/><circle cx="54.4" cy="32.6" r="1.2" fill="#d41a1a"/><circle cx="30.6" cy="34.1" r="1.0" fill="#d41a1a"/><circle cx="21.5" cy="23.2" r="1.0" fill="#d41a1a"/><circle cx="51.5" cy="43.1" r="0.8" fill="#d41a1a"/><circle cx="63.1" cy="51.6" r="1.2" fill="#d41a1a"/><circle cx="64.0" cy="37.1" r="1.0" fill="#d41a1a"/><circle cx="59.6" cy="44.1" r="0.9" fill="#d41a1a"/><circle cx="70.6" cy="50.3" r="1.4" fill="#d41a1a"/><circle cx="55.4" cy="39.1" r="0.9" fill="#d41a1a"/><circle cx="60.9" cy="44.4" r="0.9" fill="#d41a1a"/><circle cx="53.1" cy="54.4" r="0.7" fill="#d41a1a"/><circle cx="61.6" cy="48.2" r="1.3" fill="#d41a1a"/><circle cx="55.0" cy="56.3" r="0.9" fill="#d41a1a"/><circle cx="62.2" cy="43.6" r="1.3" fill="#d41a1a"/><circle cx="72.3" cy="44.7" r="1.2" fill="#d41a1a"/><circle cx="70.8" cy="39.7" r="1.4" fill="#d41a1a"/><circle cx="58.3" cy="56.0" r="1.2" fill="#d41a1a"/><circle cx="58.1" cy="48.9" r="1.3" fill="#d41a1a"/><circle cx="52.9" cy="47.5" r="1.3" fill="#d41a1a"/><circle cx="55.6" cy="46.8" r="1.1" fill="#d41a1a"/><circle cx="55.5" cy="45.6" r="1.2" fill="#d41a1a"/><circle cx="63.9" cy="44.3" r="1.3" fill="#d41a1a"/><circle cx="60.4" cy="40.3" r="0.8" fill="#d41a1a"/><circle cx="57.7" cy="42.9" r="0.8" fill="#d41a1a"/><circle cx="63.1" cy="43.2" r="0.7" fill="#d41a1a"/><circle cx="71.2" cy="33.0" r="0.8" fill="#d41a1a"/><circle cx="54.0" cy="49.9" r="1.2" fill="#d41a1a"/><circle cx="68.8" cy="47.0" r="0.8" fill="#d41a1a"/><circle cx="111.4" cy="8.7" r="1.4" fill="#d41a1a"/><circle cx="104.4" cy="11.3" r="0.6" fill="#d41a1a"/><circle cx="109.3" cy="12.4" r="0.9" fill="#d41a1a"/><circle cx="110.1" cy="12.8" r="0.7" fill="#d41a1a"/><circle cx="101.6" cy="6.9" r="1.3" fill="#d41a1a"/><circle cx="53.5" cy="48.4" r="1.2" fill="#d41a1a"/><circle cx="71.7" cy="59.7" r="0.7" fill="#d41a1a"/><circle cx="105.3" cy="54.8" r="1.2" fill="#d41a1a"/><circle cx="72.4" cy="51.0" r="1.4" fill="#d41a1a"/><circle cx="105.6" cy="65.0" r="0.6" fill="#d41a1a"/><circle cx="99.1" cy="63.8" r="1.0" fill="#d41a1a"/><circle cx="71.9" cy="71.3" r="0.6" fill="#d41a1a"/><circle cx="67.7" cy="58.6" r="0.7" fill="#d41a1a"/><circle cx="108.8" cy="57.9" r="1.3" fill="#d41a1a"/><circle cx="68.6" cy="65.7" r="1.0" fill="#d41a1a"/><circle cx="58.0" cy="86.1" r="1.3" fill="#d41a1a"/><circle cx="95.6" cy="60.8" r="1.0" fill="#d41a1a"/><circle cx="77.5" cy="60.4" r="0.7" fill="#d41a1a"/><circle cx="93.0" cy="67.3" r="0.8" fill="#d41a1a"/><circle cx="76.0" cy="68.2" r="1.0" fill="#d41a1a"/><circle cx="96.1" cy="83.9" r="0.7" fill="#d41a1a"/><circle cx="85.6" cy="60.5" r="1.2" fill="#d41a1a"/><circle cx="92.9" cy="44.3" r="0.7" fill="#d41a1a"/><circle cx="89.9" cy="67.5" r="0.9" fill="#d41a1a"/><circle cx="98.3" cy="68.5" r="0.7" fill="#d41a1a"/><circle cx="51.4" cy="60.0" r="1.2" fill="#d41a1a"/><circle cx="78.3" cy="64.5" r="1.4" fill="#d41a1a"/><circle cx="59.4" cy="86.4" r="0.7" fill="#d41a1a"/><circle cx="71.7" cy="91.2" r="1.2" fill="#d41a1a"/><circle cx="88.0" cy="78.2" r="1.0" fill="#d41a1a"/><circle cx="81.9" cy="75.0" r="0.7" fill="#d41a1a"/><circle cx="108.3" cy="102.2" r="0.9" fill="#d41a1a"/><circle cx="109.7" cy="104.5" r="0.9" fill="#d41a1a"/><circle cx="121.3" cy="95.7" r="0.7" fill="#d41a1a"/><circle cx="111.3" cy="106.5" r="1.0" fill="#d41a1a"/><circle cx="139.2" cy="78.7" r="1.3" fill="#d41a1a"/><circle cx="128.3" cy="98.5" r="0.9" fill="#d41a1a"/><circle cx="128.3" cy="109.9" r="0.8" fill="#d41a1a"/><circle cx="121.4" cy="114.7" r="1.4" fill="#d41a1a"/><circle cx="95.1" cy="100.3" r="1.0" fill="#d41a1a"/><circle cx="120.6" cy="83.6" r="1.1" fill="#d41a1a"/><circle cx="135.0" cy="95.0" r="1.0" fill="#d41a1a"/><circle cx="121.4" cy="108.9" r="0.9" fill="#d41a1a"/><circle cx="115.4" cy="106.8" r="1.4" fill="#d41a1a"/><circle cx="133.6" cy="104.6" r="0.8" fill="#d41a1a"/><circle cx="101.5" cy="116.5" r="1.4" fill="#d41a1a"/><circle cx="105.5" cy="115.2" r="1.3" fill="#d41a1a"/><circle cx="117.7" cy="115.7" r="0.9" fill="#d41a1a"/><circle cx="126.0" cy="93.6" r="1.3" fill="#d41a1a"/><circle cx="127.9" cy="121.0" r="1.1" fill="#d41a1a"/><circle cx="131.1" cy="105.5" r="1.3" fill="#d41a1a"/><circle cx="117.3" cy="105.6" r="1.0" fill="#d41a1a"/><circle cx="107.6" cy="99.3" r="0.9" fill="#d41a1a"/><circle cx="137.3" cy="95.7" r="1.0" fill="#d41a1a"/><circle cx="101.3" cy="110.3" r="0.8" fill="#d41a1a"/><circle cx="100.5" cy="105.5" r="0.7" fill="#d41a1a"/><circle cx="123.0" cy="106.4" r="1.1" fill="#d41a1a"/><circle cx="126.2" cy="84.8" r="1.1" fill="#d41a1a"/><circle cx="131.9" cy="105.4" r="1.0" fill="#d41a1a"/><circle cx="116.0" cy="111.4" r="0.9" fill="#d41a1a"/><circle cx="121.3" cy="107.9" r="1.1" fill="#d41a1a"/><circle cx="133.3" cy="105.1" r="0.9" fill="#d41a1a"/><circle cx="127.7" cy="84.1" r="1.0" fill="#d41a1a"/><circle cx="139.6" cy="103.8" r="1.2" fill="#d41a1a"/><circle cx="97.0" cy="72.7" r="1.0" fill="#d41a1a"/><circle cx="108.9" cy="112.8" r="0.7" fill="#d41a1a"/><circle cx="116.2" cy="98.1" r="1.1" fill="#d41a1a"/><circle cx="106.8" cy="90.2" r="0.7" fill="#d41a1a"/><circle cx="114.0" cy="72.7" r="1.4" fill="#d41a1a"/><circle cx="121.4" cy="95.4" r="1.2" fill="#d41a1a"/><circle cx="135.5" cy="135.6" r="0.6" fill="#d41a1a"/><circle cx="132.8" cy="104.4" r="0.7" fill="#d41a1a"/><circle cx="147.2" cy="94.2" r="0.8" fill="#d41a1a"/><circle cx="128.3" cy="94.2" r="1.3" fill="#d41a1a"/><circle cx="140.9" cy="124.8" r="1.0" fill="#d41a1a"/><circle cx="121.8" cy="117.1" r="0.6" fill="#d41a1a"/><circle cx="133.9" cy="106.4" r="1.1" fill="#d41a1a"/><circle cx="135.3" cy="102.7" r="0.9" fill="#d41a1a"/><circle cx="120.5" cy="105.7" r="1.3" fill="#d41a1a"/><circle cx="117.8" cy="93.3" r="1.2" fill="#d41a1a"/><circle cx="114.4" cy="85.7" r="1.0" fill="#d41a1a"/><circle cx="139.5" cy="81.4" r="1.2" fill="#d41a1a"/><circle cx="125.8" cy="116.0" r="1.1" fill="#d41a1a"/><circle cx="134.3" cy="98.4" r="1.0" fill="#d41a1a"/><circle cx="124.7" cy="105.0" r="0.8" fill="#d41a1a"/><circle cx="117.0" cy="94.9" r="1.2" fill="#d41a1a"/><circle cx="114.5" cy="94.6" r="1.0" fill="#d41a1a"/><circle cx="122.2" cy="100.2" r="1.1" fill="#d41a1a"/><circle cx="121.1" cy="69.1" r="0.9" fill="#d41a1a"/><circle cx="106.6" cy="85.1" r="0.8" fill="#d41a1a"/><circle cx="123.9" cy="81.6" r="1.4" fill="#d41a1a"/><circle cx="115.7" cy="106.2" r="1.0" fill="#d41a1a"/><circle cx="109.1" cy="77.1" r="1.2" fill="#d41a1a"/><circle cx="98.1" cy="95.5" r="1.3" fill="#d41a1a"/><circle cx="113.4" cy="96.3" r="0.6" fill="#d41a1a"/><circle cx="119.0" cy="101.9" r="0.9" fill="#d41a1a"/><circle cx="130.0" cy="102.3" r="1.2" fill="#d41a1a"/><circle cx="119.7" cy="91.6" r="1.1" fill="#d41a1a"/><circle cx="135.2" cy="89.3" r="0.9" fill="#d41a1a"/><circle cx="138.6" cy="102.3" r="0.8" fill="#d41a1a"/><circle cx="128.2" cy="81.7" r="1.3" fill="#d41a1a"/><circle cx="47.2" cy="97.7" r="0.9" fill="#d41a1a"/><circle cx="44.2" cy="95.3" r="1.3" fill="#d41a1a"/><circle cx="46.2" cy="159.2" r="1.1" fill="#d41a1a"/><circle cx="47.5" cy="109.9" r="1.2" fill="#d41a1a"/><circle cx="41.7" cy="112.0" r="1.0" fill="#d41a1a"/><circle cx="45.2" cy="108.9" r="1.3" fill="#d41a1a"/><circle cx="43.3" cy="94.6" r="1.0" fill="#d41a1a"/><circle cx="42.7" cy="99.9" r="0.9" fill="#d41a1a"/><circle cx="48.5" cy="119.3" r="1.2" fill="#d41a1a"/><circle cx="40.7" cy="114.3" r="1.0" fill="#d41a1a"/><circle cx="48.0" cy="131.4" r="0.7" fill="#d41a1a"/><circle cx="45.0" cy="123.3" r="1.4" fill="#d41a1a"/><circle cx="48.1" cy="108.4" r="1.4" fill="#d41a1a"/><circle cx="45.3" cy="139.1" r="1.0" fill="#d41a1a"/><circle cx="47.6" cy="130.6" r="0.7" fill="#d41a1a"/><circle cx="43.6" cy="126.7" r="0.8" fill="#d41a1a"/><circle cx="47.3" cy="109.2" r="1.0" fill="#d41a1a"/><circle cx="45.2" cy="125.4" r="0.7" fill="#d41a1a"/><circle cx="42.6" cy="101.5" r="1.2" fill="#d41a1a"/><circle cx="41.7" cy="113.6" r="0.9" fill="#d41a1a"/><circle cx="38.6" cy="142.9" r="1.2" fill="#d41a1a"/><circle cx="46.5" cy="101.3" r="1.4" fill="#d41a1a"/><circle cx="44.0" cy="118.7" r="0.7" fill="#d41a1a"/><circle cx="51.2" cy="126.2" r="0.8" fill="#d41a1a"/><circle cx="39.5" cy="123.4" r="0.8" fill="#d41a1a"/><circle cx="42.8" cy="147.7" r="0.7" fill="#d41a1a"/><circle cx="45.9" cy="105.4" r="1.2" fill="#d41a1a"/><circle cx="39.9" cy="132.3" r="1.2" fill="#d41a1a"/><circle cx="41.4" cy="124.6" r="0.9" fill="#d41a1a"/><circle cx="44.0" cy="117.0" r="0.8" fill="#d41a1a"/><circle cx="107.9" cy="155.1" r="1.0" fill="#d41a1a"/><circle cx="111.6" cy="157.5" r="1.1" fill="#d41a1a"/><circle cx="112.9" cy="149.5" r="1.4" fill="#d41a1a"/><circle cx="108.2" cy="150.1" r="0.7" fill="#d41a1a"/><circle cx="111.2" cy="149.6" r="1.3" fill="#d41a1a"/><circle cx="111.2" cy="149.9" r="1.2" fill="#d41a1a"/><circle cx="18.9" cy="96.6" r="1.2" fill="#d41a1a"/><circle cx="26.9" cy="97.8" r="1.0" fill="#d41a1a"/><circle cx="15.0" cy="103.1" r="0.7" fill="#d41a1a"/><circle cx="9.3" cy="82.0" r="0.7" fill="#d41a1a"/><circle cx="29.9" cy="101.4" r="0.8" fill="#d41a1a"/><circle cx="152.3" cy="116.3" r="0.6" fill="#d41a1a"/><circle cx="148.5" cy="125.7" r="0.9" fill="#d41a1a"/><circle cx="147.2" cy="122.6" r="1.4" fill="#d41a1a"/><circle cx="152.8" cy="120.4" r="1.3" fill="#d41a1a"/><circle cx="150.8" cy="123.9" r="0.9" fill="#d41a1a"/></g><ellipse cx="100.1" cy="42.4" rx="3.0" ry="3.4" fill="#e02020" filter="url(#b05)"/><ellipse cx="65.2" cy="117.5" rx="3.0" ry="3.0" fill="#f02020" filter="url(#b05)"/><ellipse cx="112.0" cy="80.0" rx="3.0" ry="3.0" fill="#e02020" filter="url(#b05)"/><path d="M124.1 135.9H155.6" stroke="#d8d8d8" stroke-width="1.1"/></svg>
<svg style="left:2572.6px;top:1231.1px;overflow:hidden" width="164.7" height="155.4" viewBox="0 0 164.7 155.4"><rect width="164.7" height="155.4" fill="#000"/><ellipse cx="55.0" cy="125.0" rx="13.0" ry="17.0" fill="#0a4a0a" filter="url(#b3)" opacity="0.8"/><g filter="url(#b05)"><circle cx="34.3" cy="38.9" r="0.8" fill="#22e822"/><circle cx="36.4" cy="22.4" r="1.2" fill="#22e822"/><circle cx="41.1" cy="24.3" r="1.6" fill="#22e822"/><circle cx="32.7" cy="17.0" r="1.2" fill="#22e822"/><circle cx="27.4" cy="23.9" r="1.6" fill="#22e822"/><circle cx="15.0" cy="43.0" r="1.5" fill="#22e822"/><circle cx="40.0" cy="29.5" r="1.1" fill="#22e822"/><circle cx="35.9" cy="23.1" r="1.2" fill="#22e822"/><circle cx="24.5" cy="40.0" r="1.5" fill="#22e822"/><circle cx="34.3" cy="22.4" r="1.4" fill="#22e822"/><circle cx="19.8" cy="34.8" r="1.1" fill="#22e822"/><circle cx="53.4" cy="13.7" r="1.4" fill="#22e822"/><circle cx="40.7" cy="13.5" r="1.2" fill="#22e822"/><circle cx="44.5" cy="51.8" r="1.1" fill="#22e822"/><circle cx="42.4" cy="29.3" r="1.0" fill="#22e822"/><circle cx="40.1" cy="50.1" r="0.7" fill="#22e822"/><circle cx="42.2" cy="21.9" r="0.8" fill="#22e822"/><circle cx="28.4" cy="36.0" r="0.7" fill="#22e822"/><circle cx="34.8" cy="15.3" r="1.6" fill="#22e822"/><circle cx="40.7" cy="14.4" r="1.6" fill="#22e822"/><circle cx="44.4" cy="22.9" r="1.1" fill="#22e822"/><circle cx="19.4" cy="25.8" r="1.5" fill="#22e822"/><circle cx="41.3" cy="13.2" r="0.6" fill="#22e822"/><circle cx="30.9" cy="30.1" r="1.2" fill="#22e822"/><circle cx="24.9" cy="22.7" r="1.5" fill="#22e822"/><circle cx="35.9" cy="42.7" r="1.2" fill="#22e822"/><circle cx="39.0" cy="52.6" r="0.7" fill="#22e822"/><circle cx="24.2" cy="30.7" r="1.2" fill="#22e822"/><circle cx="44.0" cy="27.0" r="1.5" fill="#22e822"/><circle cx="31.4" cy="38.2" r="0.7" fill="#22e822"/><circle cx="28.5" cy="21.0" r="1.4" fill="#22e822"/><circle cx="40.7" cy="34.8" r="1.6" fill="#22e822"/><circle cx="45.6" cy="29.2" r="1.3" fill="#22e822"/><circle cx="32.4" cy="16.9" r="1.1" fill="#22e822"/><circle cx="40.2" cy="26.4" r="1.3" fill="#22e822"/><circle cx="27.6" cy="15.6" r="1.1" fill="#22e822"/><circle cx="47.7" cy="29.9" r="0.9" fill="#22e822"/><circle cx="38.7" cy="2.3" r="1.4" fill="#22e822"/><circle cx="21.0" cy="38.5" r="1.0" fill="#22e822"/><circle cx="29.5" cy="38.9" r="1.3" fill="#22e822"/><circle cx="29.9" cy="17.8" r="1.0" fill="#22e822"/><circle cx="33.6" cy="20.3" r="1.2" fill="#22e822"/><circle cx="38.1" cy="28.5" r="1.5" fill="#22e822"/><circle cx="35.7" cy="37.4" r="0.7" fill="#22e822"/><circle cx="34.6" cy="20.3" r="0.6" fill="#22e822"/><circle cx="31.1" cy="48.9" r="1.4" fill="#22e822"/><circle cx="53.7" cy="28.7" r="0.7" fill="#22e822"/><circle cx="24.1" cy="29.4" r="1.4" fill="#22e822"/><circle cx="43.3" cy="41.3" r="0.9" fill="#22e822"/><circle cx="32.5" cy="7.8" r="1.2" fill="#22e822"/><circle cx="45.8" cy="28.5" r="1.0" fill="#22e822"/><circle cx="32.2" cy="12.7" r="0.7" fill="#22e822"/><circle cx="23.4" cy="23.0" r="1.5" fill="#22e822"/><circle cx="25.6" cy="20.1" r="1.4" fill="#22e822"/><circle cx="42.4" cy="43.3" r="1.2" fill="#22e822"/><circle cx="30.9" cy="24.4" r="1.1" fill="#22e822"/><circle cx="29.3" cy="31.6" r="1.5" fill="#22e822"/><circle cx="38.9" cy="20.1" r="0.7" fill="#22e822"/><circle cx="37.9" cy="27.8" r="1.1" fill="#22e822"/><circle cx="19.5" cy="21.2" r="1.3" fill="#22e822"/><circle cx="26.3" cy="21.8" r="1.6" fill="#22e822"/><circle cx="37.1" cy="20.7" r="1.4" fill="#22e822"/><circle cx="42.6" cy="24.9" r="0.7" fill="#22e822"/><circle cx="53.0" cy="37.9" r="0.8" fill="#22e822"/><circle cx="35.6" cy="22.7" r="0.8" fill="#22e822"/><circle cx="41.7" cy="42.3" r="0.7" fill="#22e822"/><circle cx="19.6" cy="31.2" r="1.1" fill="#22e822"/><circle cx="35.4" cy="28.4" r="1.4" fill="#22e822"/><circle cx="32.9" cy="31.9" r="1.1" fill="#22e822"/><circle cx="35.4" cy="20.8" r="0.7" fill="#22e822"/><circle cx="37.5" cy="37.7" r="1.4" fill="#22e822"/><circle cx="45.6" cy="35.9" r="1.3" fill="#22e822"/><circle cx="26.6" cy="25.2" r="0.6" fill="#22e822"/><circle cx="25.7" cy="28.1" r="1.3" fill="#22e822"/><circle cx="38.3" cy="30.4" r="0.6" fill="#22e822"/><circle cx="31.1" cy="28.6" r="1.1" fill="#22e822"/><circle cx="27.3" cy="31.4" r="0.8" fill="#22e822"/><circle cx="41.9" cy="23.4" r="0.7" fill="#22e822"/><circle cx="21.9" cy="21.1" r="1.1" fill="#22e822"/><circle cx="45.7" cy="17.4" r="1.3" fill="#22e822"/><circle cx="41.9" cy="29.8" r="1.1" fill="#22e822"/><circle cx="38.5" cy="37.6" r="1.3" fill="#22e822"/><circle cx="34.1" cy="13.1" r="1.3" fill="#22e822"/><circle cx="30.5" cy="40.1" r="1.1" fill="#22e822"/><circle cx="34.1" cy="23.7" r="0.8" fill="#22e822"/><circle cx="31.3" cy="14.2" r="0.8" fill="#22e822"/><circle cx="35.5" cy="12.8" r="1.2" fill="#22e822"/><circle cx="31.2" cy="29.0" r="0.8" fill="#22e822"/><circle cx="35.7" cy="7.5" r="0.8" fill="#22e822"/><circle cx="41.1" cy="30.2" r="1.5" fill="#22e822"/><circle cx="52.9" cy="26.1" r="1.4" fill="#22e822"/><circle cx="59.9" cy="6.7" r="1.3" fill="#22e822"/><circle cx="52.1" cy="21.0" r="1.0" fill="#22e822"/><circle cx="47.1" cy="13.8" r="1.3" fill="#22e822"/><circle cx="54.2" cy="17.5" r="0.8" fill="#22e822"/><circle cx="54.8" cy="22.8" r="1.5" fill="#22e822"/><circle cx="55.7" cy="19.6" r="0.6" fill="#22e822"/><circle cx="50.1" cy="19.2" r="1.3" fill="#22e822"/><circle cx="55.9" cy="10.4" r="0.9" fill="#22e822"/><circle cx="46.3" cy="18.6" r="1.3" fill="#22e822"/><circle cx="51.4" cy="23.8" r="1.1" fill="#22e822"/><circle cx="38.4" cy="14.5" r="1.5" fill="#22e822"/><circle cx="48.9" cy="23.4" r="0.9" fill="#22e822"/><circle cx="61.7" cy="17.5" r="0.8" fill="#22e822"/><circle cx="48.1" cy="23.2" r="1.5" fill="#22e822"/><circle cx="42.7" cy="21.1" r="1.0" fill="#22e822"/><circle cx="57.6" cy="17.6" r="0.8" fill="#22e822"/><circle cx="51.5" cy="21.0" r="1.2" fill="#22e822"/><circle cx="50.8" cy="19.8" r="1.2" fill="#22e822"/><circle cx="48.9" cy="22.1" r="1.3" fill="#22e822"/><circle cx="45.5" cy="25.0" r="1.6" fill="#22e822"/><circle cx="52.1" cy="17.4" r="0.7" fill="#22e822"/><circle cx="44.9" cy="17.2" r="1.3" fill="#22e822"/><circle cx="56.6" cy="16.6" r="0.9" fill="#22e822"/><circle cx="52.4" cy="25.7" r="1.4" fill="#22e822"/><circle cx="67.5" cy="5.9" r="1.1" fill="#22e822"/><circle cx="49.9" cy="13.4" r="0.7" fill="#22e822"/><circle cx="48.0" cy="13.4" r="1.1" fill="#22e822"/><circle cx="45.9" cy="15.8" r="0.6" fill="#22e822"/><circle cx="49.6" cy="10.2" r="1.4" fill="#22e822"/><circle cx="47.5" cy="20.2" r="1.2" fill="#22e822"/><circle cx="43.2" cy="21.8" r="1.1" fill="#22e822"/><circle cx="38.4" cy="15.6" r="0.7" fill="#22e822"/><circle cx="51.8" cy="21.7" r="1.5" fill="#22e822"/><circle cx="60.7" cy="13.0" r="0.8" fill="#22e822"/><circle cx="56.6" cy="49.5" r="0.8" fill="#22e822"/><circle cx="59.4" cy="49.0" r="1.4" fill="#22e822"/><circle cx="44.9" cy="46.2" r="1.2" fill="#22e822"/><circle cx="58.7" cy="40.4" r="1.1" fill="#22e822"/><circle cx="58.7" cy="50.4" r="1.0" fill="#22e822"/><circle cx="61.4" cy="50.6" r="1.4" fill="#22e822"/><circle cx="57.6" cy="48.0" r="0.7" fill="#22e822"/><circle cx="55.9" cy="48.9" r="1.1" fill="#22e822"/><circle cx="61.7" cy="47.0" r="1.0" fill="#22e822"/><circle cx="55.7" cy="46.3" r="1.5" fill="#22e822"/><circle cx="58.9" cy="47.3" r="1.0" fill="#22e822"/><circle cx="58.4" cy="46.9" r="1.2" fill="#22e822"/><circle cx="62.5" cy="40.5" r="0.8" fill="#22e822"/><circle cx="64.1" cy="45.6" r="1.3" fill="#22e822"/><circle cx="58.3" cy="48.3" r="1.1" fill="#22e822"/><circle cx="61.9" cy="47.1" r="1.6" fill="#22e822"/><circle cx="63.7" cy="47.0" r="1.1" fill="#22e822"/><circle cx="59.2" cy="47.2" r="1.2" fill="#22e822"/><circle cx="62.0" cy="51.8" r="1.1" fill="#22e822"/><circle cx="54.4" cy="45.4" r="1.5" fill="#22e822"/><circle cx="58.6" cy="46.8" r="1.2" fill="#22e822"/><circle cx="60.5" cy="54.2" r="1.5" fill="#22e822"/><circle cx="60.0" cy="43.1" r="1.5" fill="#22e822"/><circle cx="58.2" cy="49.9" r="1.5" fill="#22e822"/><circle cx="55.7" cy="45.4" r="1.4" fill="#22e822"/><circle cx="57.7" cy="47.0" r="1.5" fill="#22e822"/><circle cx="57.5" cy="42.5" r="0.7" fill="#22e822"/><circle cx="60.1" cy="47.5" r="1.4" fill="#22e822"/><circle cx="62.1" cy="48.0" r="0.9" fill="#22e822"/><circle cx="54.7" cy="48.7" r="0.7" fill="#22e822"/><circle cx="119.0" cy="102.4" r="1.0" fill="#22e822"/><circle cx="121.8" cy="108.4" r="0.7" fill="#22e822"/><circle cx="122.2" cy="97.9" r="1.1" fill="#22e822"/><circle cx="106.7" cy="83.5" r="1.2" fill="#22e822"/><circle cx="126.8" cy="77.3" r="0.7" fill="#22e822"/><circle cx="140.0" cy="110.6" r="0.9" fill="#22e822"/><circle cx="114.0" cy="104.9" r="0.8" fill="#22e822"/><circle cx="113.9" cy="112.1" r="1.4" fill="#22e822"/><circle cx="123.5" cy="108.9" r="1.2" fill="#22e822"/><circle cx="129.5" cy="92.8" r="0.9" fill="#22e822"/><circle cx="136.5" cy="86.1" r="0.6" fill="#22e822"/><circle cx="132.9" cy="114.2" r="1.0" fill="#22e822"/><circle cx="112.4" cy="103.8" r="0.7" fill="#22e822"/><circle cx="124.5" cy="75.9" r="1.2" fill="#22e822"/><circle cx="117.5" cy="121.9" r="0.9" fill="#22e822"/><circle cx="133.1" cy="114.2" r="1.2" fill="#22e822"/><circle cx="130.8" cy="94.6" r="0.7" fill="#22e822"/><circle cx="119.6" cy="101.2" r="0.9" fill="#22e822"/><circle cx="132.2" cy="101.0" r="1.0" fill="#22e822"/><circle cx="126.9" cy="101.6" r="1.4" fill="#22e822"/><circle cx="120.1" cy="74.3" r="0.7" fill="#22e822"/><circle cx="113.5" cy="106.9" r="0.6" fill="#22e822"/><circle cx="125.4" cy="109.2" r="0.7" fill="#22e822"/><circle cx="118.0" cy="83.5" r="1.0" fill="#22e822"/><circle cx="130.7" cy="80.8" r="1.4" fill="#22e822"/><circle cx="125.3" cy="114.8" r="0.8" fill="#22e822"/><circle cx="151.3" cy="113.4" r="1.2" fill="#22e822"/><circle cx="116.3" cy="88.9" r="0.9" fill="#22e822"/><circle cx="131.0" cy="104.1" r="1.0" fill="#22e822"/><circle cx="129.9" cy="106.6" r="1.5" fill="#22e822"/><circle cx="135.0" cy="110.3" r="1.0" fill="#22e822"/><circle cx="119.2" cy="86.1" r="1.0" fill="#22e822"/><circle cx="140.1" cy="102.8" r="1.0" fill="#22e822"/><circle cx="132.8" cy="84.7" r="1.6" fill="#22e822"/><circle cx="116.5" cy="106.5" r="1.1" fill="#22e822"/><circle cx="116.5" cy="91.4" r="0.7" fill="#22e822"/><circle cx="119.5" cy="103.0" r="0.7" fill="#22e822"/><circle cx="119.7" cy="93.9" r="1.5" fill="#22e822"/><circle cx="136.1" cy="89.9" r="0.7" fill="#22e822"/><circle cx="124.3" cy="118.1" r="1.2" fill="#22e822"/><circle cx="122.2" cy="103.2" r="0.8" fill="#22e822"/><circle cx="131.9" cy="97.0" r="1.1" fill="#22e822"/><circle cx="129.1" cy="98.4" r="1.0" fill="#22e822"/><circle cx="118.3" cy="94.8" r="1.0" fill="#22e822"/><circle cx="124.3" cy="79.8" r="1.3" fill="#22e822"/><circle cx="123.2" cy="101.0" r="0.7" fill="#22e822"/><circle cx="109.1" cy="91.2" r="0.7" fill="#22e822"/><circle cx="111.9" cy="111.9" r="1.0" fill="#22e822"/><circle cx="135.2" cy="105.2" r="1.2" fill="#22e822"/><circle cx="117.0" cy="99.8" r="0.9" fill="#22e822"/><circle cx="134.8" cy="106.3" r="0.8" fill="#22e822"/><circle cx="101.3" cy="103.4" r="1.1" fill="#22e822"/><circle cx="121.0" cy="122.7" r="1.4" fill="#22e822"/><circle cx="121.5" cy="119.1" r="1.4" fill="#22e822"/><circle cx="131.1" cy="120.4" r="0.9" fill="#22e822"/><circle cx="111.8" cy="112.1" r="1.6" fill="#22e822"/><circle cx="123.3" cy="113.4" r="1.6" fill="#22e822"/><circle cx="129.0" cy="107.9" r="1.3" fill="#22e822"/><circle cx="105.2" cy="106.0" r="0.8" fill="#22e822"/><circle cx="125.6" cy="92.9" r="0.8" fill="#22e822"/><circle cx="115.6" cy="99.2" r="1.0" fill="#22e822"/><circle cx="136.3" cy="85.7" r="1.3" fill="#22e822"/><circle cx="121.0" cy="102.1" r="0.9" fill="#22e822"/><circle cx="125.1" cy="81.0" r="0.6" fill="#22e822"/><circle cx="108.3" cy="109.9" r="1.2" fill="#22e822"/><circle cx="114.8" cy="106.8" r="1.1" fill="#22e822"/><circle cx="144.2" cy="108.6" r="0.7" fill="#22e822"/><circle cx="132.1" cy="132.8" r="1.2" fill="#22e822"/><circle cx="127.7" cy="110.1" r="1.0" fill="#22e822"/><circle cx="123.6" cy="103.9" r="0.6" fill="#22e822"/><circle cx="129.9" cy="106.8" r="1.2" fill="#22e822"/><circle cx="127.3" cy="116.8" r="0.9" fill="#22e822"/><circle cx="111.3" cy="105.8" r="0.9" fill="#22e822"/><circle cx="106.2" cy="81.2" r="1.2" fill="#22e822"/><circle cx="133.7" cy="97.4" r="1.1" fill="#22e822"/><circle cx="115.0" cy="112.6" r="1.1" fill="#22e822"/><circle cx="134.2" cy="102.3" r="1.3" fill="#22e822"/><circle cx="123.2" cy="97.3" r="0.6" fill="#22e822"/><circle cx="117.0" cy="107.6" r="1.0" fill="#22e822"/><circle cx="125.2" cy="119.2" r="1.0" fill="#22e822"/><circle cx="113.3" cy="99.7" r="1.6" fill="#22e822"/><circle cx="111.0" cy="97.2" r="1.0" fill="#22e822"/><circle cx="114.5" cy="87.8" r="0.6" fill="#22e822"/><circle cx="117.4" cy="84.4" r="1.1" fill="#22e822"/><circle cx="115.4" cy="91.4" r="1.1" fill="#22e822"/><circle cx="109.5" cy="88.4" r="0.9" fill="#22e822"/><circle cx="113.7" cy="92.9" r="0.8" fill="#22e822"/><circle cx="107.6" cy="94.1" r="1.4" fill="#22e822"/><circle cx="116.8" cy="100.0" r="0.8" fill="#22e822"/><circle cx="117.5" cy="91.8" r="1.5" fill="#22e822"/><circle cx="116.4" cy="87.6" r="1.6" fill="#22e822"/><circle cx="115.8" cy="86.3" r="1.3" fill="#22e822"/><circle cx="111.5" cy="79.1" r="0.7" fill="#22e822"/><circle cx="111.4" cy="90.7" r="0.6" fill="#22e822"/><circle cx="110.0" cy="90.9" r="0.6" fill="#22e822"/><circle cx="113.9" cy="89.8" r="1.4" fill="#22e822"/><circle cx="107.8" cy="91.3" r="1.1" fill="#22e822"/><circle cx="110.6" cy="87.5" r="1.5" fill="#22e822"/><circle cx="118.2" cy="85.5" r="1.0" fill="#22e822"/><circle cx="111.1" cy="88.9" r="1.0" fill="#22e822"/><circle cx="74.2" cy="82.6" r="1.0" fill="#138a13"/><circle cx="41.7" cy="83.6" r="0.8" fill="#138a13"/><circle cx="76.4" cy="81.8" r="1.2" fill="#138a13"/><circle cx="63.7" cy="84.0" r="0.7" fill="#138a13"/><circle cx="68.0" cy="82.1" r="0.8" fill="#138a13"/><circle cx="74.7" cy="82.9" r="0.6" fill="#138a13"/><circle cx="71.4" cy="85.6" r="1.0" fill="#138a13"/><circle cx="49.7" cy="86.3" r="1.1" fill="#138a13"/><circle cx="93.3" cy="77.6" r="0.9" fill="#138a13"/><circle cx="58.4" cy="76.4" r="0.9" fill="#138a13"/><circle cx="79.3" cy="86.1" r="0.9" fill="#138a13"/><circle cx="72.5" cy="84.2" r="0.6" fill="#138a13"/><circle cx="63.1" cy="76.7" r="1.0" fill="#138a13"/><circle cx="67.6" cy="83.2" r="0.5" fill="#138a13"/><circle cx="61.9" cy="79.2" r="0.8" fill="#138a13"/><circle cx="73.1" cy="84.4" r="0.6" fill="#138a13"/><circle cx="81.4" cy="86.2" r="0.7" fill="#138a13"/><circle cx="58.2" cy="81.5" r="0.9" fill="#138a13"/><circle cx="69.5" cy="76.7" r="0.6" fill="#138a13"/><circle cx="93.0" cy="81.1" r="1.1" fill="#138a13"/><circle cx="41.9" cy="85.3" r="1.1" fill="#138a13"/><circle cx="71.5" cy="88.1" r="1.1" fill="#138a13"/><circle cx="70.7" cy="75.3" r="0.9" fill="#138a13"/><circle cx="67.9" cy="81.6" r="1.0" fill="#138a13"/><circle cx="81.9" cy="87.3" r="1.1" fill="#138a13"/><circle cx="67.0" cy="83.8" r="0.5" fill="#138a13"/><circle cx="63.3" cy="82.6" r="1.0" fill="#138a13"/><circle cx="59.3" cy="80.2" r="1.0" fill="#138a13"/><circle cx="78.0" cy="85.9" r="0.5" fill="#138a13"/><circle cx="49.8" cy="81.0" r="0.6" fill="#138a13"/><circle cx="55.7" cy="72.4" r="0.7" fill="#138a13"/><circle cx="72.6" cy="85.4" r="1.1" fill="#138a13"/><circle cx="88.4" cy="85.7" r="0.7" fill="#138a13"/><circle cx="71.1" cy="75.5" r="1.1" fill="#138a13"/><circle cx="75.6" cy="86.9" r="0.7" fill="#138a13"/></g><ellipse cx="43.0" cy="123.1" rx="2.6" ry="12.0" fill="#22e822" filter="url(#b1)"/><ellipse cx="65.2" cy="117.1" rx="3.0" ry="3.2" fill="#22e822" filter="url(#b1)"/><ellipse cx="51.1" cy="144.3" rx="3.0" ry="2.5" fill="#22e822" filter="url(#b1)"/><path d="M129.2 135.9H161.1" stroke="#d8d8d8" stroke-width="1.1"/></svg>
<svg style="left:2743.9px;top:1231.1px;overflow:hidden" width="164.4" height="155.4" viewBox="0 0 164.4 155.4"><rect width="164.4" height="155.4" fill="#000"/><g filter="url(#b05)"><circle cx="30.1" cy="34.7" r="0.7" fill="#d41a1a"/><circle cx="48.3" cy="24.2" r="1.2" fill="#d41a1a"/><circle cx="25.7" cy="27.4" r="1.2" fill="#d41a1a"/><circle cx="18.9" cy="23.1" r="1.1" fill="#d41a1a"/><circle cx="42.2" cy="22.1" r="0.7" fill="#d41a1a"/><circle cx="46.3" cy="42.0" r="0.7" fill="#d41a1a"/><circle cx="27.3" cy="19.9" r="0.6" fill="#d41a1a"/><circle cx="36.5" cy="28.0" r="1.3" fill="#d41a1a"/><circle cx="40.1" cy="25.0" r="1.2" fill="#d41a1a"/><circle cx="35.3" cy="25.7" r="1.1" fill="#d41a1a"/><circle cx="53.2" cy="44.3" r="1.2" fill="#d41a1a"/><circle cx="39.5" cy="29.9" r="0.9" fill="#d41a1a"/><circle cx="24.9" cy="21.9" r="0.7" fill="#d41a1a"/><circle cx="52.1" cy="19.0" r="0.8" fill="#d41a1a"/><circle cx="45.8" cy="40.9" r="0.9" fill="#d41a1a"/><circle cx="29.3" cy="21.3" r="0.9" fill="#d41a1a"/><circle cx="41.8" cy="31.0" r="1.0" fill="#d41a1a"/><circle cx="34.3" cy="20.9" r="1.2" fill="#d41a1a"/><circle cx="13.9" cy="25.7" r="1.1" fill="#d41a1a"/><circle cx="33.3" cy="34.7" r="0.7" fill="#d41a1a"/><circle cx="57.1" cy="34.7" r="1.3" fill="#d41a1a"/><circle cx="35.9" cy="26.0" r="1.1" fill="#d41a1a"/><circle cx="51.9" cy="43.9" r="1.1" fill="#d41a1a"/><circle cx="35.9" cy="18.0" r="0.9" fill="#d41a1a"/><circle cx="52.2" cy="11.6" r="0.8" fill="#d41a1a"/><circle cx="19.4" cy="35.9" r="1.1" fill="#d41a1a"/><circle cx="25.7" cy="35.5" r="1.4" fill="#d41a1a"/><circle cx="34.7" cy="36.4" r="1.1" fill="#d41a1a"/><circle cx="31.9" cy="49.2" r="0.9" fill="#d41a1a"/><circle cx="45.5" cy="26.3" r="1.3" fill="#d41a1a"/><circle cx="36.0" cy="15.7" r="0.8" fill="#d41a1a"/><circle cx="37.3" cy="32.2" r="0.7" fill="#d41a1a"/><circle cx="33.9" cy="27.5" r="0.8" fill="#d41a1a"/><circle cx="30.1" cy="28.2" r="0.9" fill="#d41a1a"/><circle cx="38.1" cy="43.7" r="0.7" fill="#d41a1a"/><circle cx="50.8" cy="30.1" r="1.2" fill="#d41a1a"/><circle cx="23.7" cy="26.9" r="1.4" fill="#d41a1a"/><circle cx="51.9" cy="19.9" r="0.6" fill="#d41a1a"/><circle cx="13.7" cy="18.9" r="1.1" fill="#d41a1a"/><circle cx="20.0" cy="29.2" r="0.7" fill="#d41a1a"/><circle cx="33.2" cy="14.7" r="0.7" fill="#d41a1a"/><circle cx="21.1" cy="29.6" r="0.9" fill="#d41a1a"/><circle cx="25.6" cy="11.8" r="1.3" fill="#d41a1a"/><circle cx="33.7" cy="35.1" r="1.3" fill="#d41a1a"/><circle cx="20.1" cy="19.3" r="1.3" fill="#d41a1a"/><circle cx="33.2" cy="42.1" r="0.8" fill="#d41a1a"/><circle cx="40.9" cy="17.1" r="0.8" fill="#d41a1a"/><circle cx="21.1" cy="30.3" r="0.8" fill="#d41a1a"/><circle cx="41.0" cy="39.6" r="0.7" fill="#d41a1a"/><circle cx="9.8" cy="30.9" r="1.3" fill="#d41a1a"/><circle cx="55.3" cy="35.9" r="1.2" fill="#d41a1a"/><circle cx="35.2" cy="28.3" r="1.2" fill="#d41a1a"/><circle cx="42.6" cy="45.6" r="0.9" fill="#d41a1a"/><circle cx="31.4" cy="34.4" r="1.3" fill="#d41a1a"/><circle cx="39.8" cy="48.3" r="1.0" fill="#d41a1a"/><circle cx="45.5" cy="40.9" r="1.0" fill="#d41a1a"/><circle cx="56.1" cy="33.1" r="0.8" fill="#d41a1a"/><circle cx="54.4" cy="32.6" r="1.2" fill="#d41a1a"/><circle cx="30.6" cy="34.1" r="1.0" fill="#d41a1a"/><circle cx="21.5" cy="23.2" r="1.0" fill="#d41a1a"/><circle cx="51.5" cy="43.1" r="0.8" fill="#d41a1a"/><circle cx="63.1" cy="51.6" r="1.2" fill="#d41a1a"/><circle cx="64.0" cy="37.1" r="1.0" fill="#d41a1a"/><circle cx="59.6" cy="44.1" r="0.9" fill="#d41a1a"/><circle cx="70.6" cy="50.3" r="1.4" fill="#d41a1a"/><circle cx="55.4" cy="39.1" r="0.9" fill="#d41a1a"/><circle cx="60.9" cy="44.4" r="0.9" fill="#d41a1a"/><circle cx="53.1" cy="54.4" r="0.7" fill="#d41a1a"/><circle cx="61.6" cy="48.2" r="1.3" fill="#d41a1a"/><circle cx="55.0" cy="56.3" r="0.9" fill="#d41a1a"/><circle cx="62.2" cy="43.6" r="1.3" fill="#d41a1a"/><circle cx="72.3" cy="44.7" r="1.2" fill="#d41a1a"/><circle cx="70.8" cy="39.7" r="1.4" fill="#d41a1a"/><circle cx="58.3" cy="56.0" r="1.2" fill="#d41a1a"/><circle cx="58.1" cy="48.9" r="1.3" fill="#d41a1a"/><circle cx="52.9" cy="47.5" r="1.3" fill="#d41a1a"/><circle cx="55.6" cy="46.8" r="1.1" fill="#d41a1a"/><circle cx="55.5" cy="45.6" r="1.2" fill="#d41a1a"/><circle cx="63.9" cy="44.3" r="1.3" fill="#d41a1a"/><circle cx="60.4" cy="40.3" r="0.8" fill="#d41a1a"/><circle cx="57.7" cy="42.9" r="0.8" fill="#d41a1a"/><circle cx="63.1" cy="43.2" r="0.7" fill="#d41a1a"/><circle cx="71.2" cy="33.0" r="0.8" fill="#d41a1a"/><circle cx="54.0" cy="49.9" r="1.2" fill="#d41a1a"/><circle cx="68.8" cy="47.0" r="0.8" fill="#d41a1a"/><circle cx="111.4" cy="8.7" r="1.4" fill="#d41a1a"/><circle cx="104.4" cy="11.3" r="0.6" fill="#d41a1a"/><circle cx="109.3" cy="12.4" r="0.9" fill="#d41a1a"/><circle cx="110.1" cy="12.8" r="0.7" fill="#d41a1a"/><circle cx="101.6" cy="6.9" r="1.3" fill="#d41a1a"/><circle cx="53.5" cy="48.4" r="1.2" fill="#d41a1a"/><circle cx="71.7" cy="59.7" r="0.7" fill="#d41a1a"/><circle cx="105.3" cy="54.8" r="1.2" fill="#d41a1a"/><circle cx="72.4" cy="51.0" r="1.4" fill="#d41a1a"/><circle cx="105.6" cy="65.0" r="0.6" fill="#d41a1a"/><circle cx="99.1" cy="63.8" r="1.0" fill="#d41a1a"/><circle cx="71.9" cy="71.3" r="0.6" fill="#d41a1a"/><circle cx="67.7" cy="58.6" r="0.7" fill="#d41a1a"/><circle cx="108.8" cy="57.9" r="1.3" fill="#d41a1a"/><circle cx="68.6" cy="65.7" r="1.0" fill="#d41a1a"/><circle cx="58.0" cy="86.1" r="1.3" fill="#d41a1a"/><circle cx="95.6" cy="60.8" r="1.0" fill="#d41a1a"/><circle cx="77.5" cy="60.4" r="0.7" fill="#d41a1a"/><circle cx="93.0" cy="67.3" r="0.8" fill="#d41a1a"/><circle cx="76.0" cy="68.2" r="1.0" fill="#d41a1a"/><circle cx="96.1" cy="83.9" r="0.7" fill="#d41a1a"/><circle cx="85.6" cy="60.5" r="1.2" fill="#d41a1a"/><circle cx="92.9" cy="44.3" r="0.7" fill="#d41a1a"/><circle cx="89.9" cy="67.5" r="0.9" fill="#d41a1a"/><circle cx="98.3" cy="68.5" r="0.7" fill="#d41a1a"/><circle cx="51.4" cy="60.0" r="1.2" fill="#d41a1a"/><circle cx="78.3" cy="64.5" r="1.4" fill="#d41a1a"/><circle cx="59.4" cy="86.4" r="0.7" fill="#d41a1a"/><circle cx="71.7" cy="91.2" r="1.2" fill="#d41a1a"/><circle cx="88.0" cy="78.2" r="1.0" fill="#d41a1a"/><circle cx="81.9" cy="75.0" r="0.7" fill="#d41a1a"/><circle cx="108.3" cy="102.2" r="0.9" fill="#d41a1a"/><circle cx="109.7" cy="104.5" r="0.9" fill="#d41a1a"/><circle cx="121.3" cy="95.7" r="0.7" fill="#d41a1a"/><circle cx="111.3" cy="106.5" r="1.0" fill="#d41a1a"/><circle cx="139.2" cy="78.7" r="1.3" fill="#d41a1a"/><circle cx="128.3" cy="98.5" r="0.9" fill="#d41a1a"/><circle cx="128.3" cy="109.9" r="0.8" fill="#d41a1a"/><circle cx="121.4" cy="114.7" r="1.4" fill="#d41a1a"/><circle cx="95.1" cy="100.3" r="1.0" fill="#d41a1a"/><circle cx="120.6" cy="83.6" r="1.1" fill="#d41a1a"/><circle cx="135.0" cy="95.0" r="1.0" fill="#d41a1a"/><circle cx="121.4" cy="108.9" r="0.9" fill="#d41a1a"/><circle cx="115.4" cy="106.8" r="1.4" fill="#d41a1a"/><circle cx="133.6" cy="104.6" r="0.8" fill="#d41a1a"/><circle cx="101.5" cy="116.5" r="1.4" fill="#d41a1a"/><circle cx="105.5" cy="115.2" r="1.3" fill="#d41a1a"/><circle cx="117.7" cy="115.7" r="0.9" fill="#d41a1a"/><circle cx="126.0" cy="93.6" r="1.3" fill="#d41a1a"/><circle cx="127.9" cy="121.0" r="1.1" fill="#d41a1a"/><circle cx="131.1" cy="105.5" r="1.3" fill="#d41a1a"/><circle cx="117.3" cy="105.6" r="1.0" fill="#d41a1a"/><circle cx="107.6" cy="99.3" r="0.9" fill="#d41a1a"/><circle cx="137.3" cy="95.7" r="1.0" fill="#d41a1a"/><circle cx="101.3" cy="110.3" r="0.8" fill="#d41a1a"/><circle cx="100.5" cy="105.5" r="0.7" fill="#d41a1a"/><circle cx="123.0" cy="106.4" r="1.1" fill="#d41a1a"/><circle cx="126.2" cy="84.8" r="1.1" fill="#d41a1a"/><circle cx="131.9" cy="105.4" r="1.0" fill="#d41a1a"/><circle cx="116.0" cy="111.4" r="0.9" fill="#d41a1a"/><circle cx="121.3" cy="107.9" r="1.1" fill="#d41a1a"/><circle cx="133.3" cy="105.1" r="0.9" fill="#d41a1a"/><circle cx="127.7" cy="84.1" r="1.0" fill="#d41a1a"/><circle cx="139.6" cy="103.8" r="1.2" fill="#d41a1a"/><circle cx="97.0" cy="72.7" r="1.0" fill="#d41a1a"/><circle cx="108.9" cy="112.8" r="0.7" fill="#d41a1a"/><circle cx="116.2" cy="98.1" r="1.1" fill="#d41a1a"/><circle cx="106.8" cy="90.2" r="0.7" fill="#d41a1a"/><circle cx="114.0" cy="72.7" r="1.4" fill="#d41a1a"/><circle cx="121.4" cy="95.4" r="1.2" fill="#d41a1a"/><circle cx="135.5" cy="135.6" r="0.6" fill="#d41a1a"/><circle cx="132.8" cy="104.4" r="0.7" fill="#d41a1a"/><circle cx="147.2" cy="94.2" r="0.8" fill="#d41a1a"/><circle cx="128.3" cy="94.2" r="1.3" fill="#d41a1a"/><circle cx="140.9" cy="124.8" r="1.0" fill="#d41a1a"/><circle cx="121.8" cy="117.1" r="0.6" fill="#d41a1a"/><circle cx="133.9" cy="106.4" r="1.1" fill="#d41a1a"/><circle cx="135.3" cy="102.7" r="0.9" fill="#d41a1a"/><circle cx="120.5" cy="105.7" r="1.3" fill="#d41a1a"/><circle cx="117.8" cy="93.3" r="1.2" fill="#d41a1a"/><circle cx="114.4" cy="85.7" r="1.0" fill="#d41a1a"/><circle cx="139.5" cy="81.4" r="1.2" fill="#d41a1a"/><circle cx="125.8" cy="116.0" r="1.1" fill="#d41a1a"/><circle cx="134.3" cy="98.4" r="1.0" fill="#d41a1a"/><circle cx="124.7" cy="105.0" r="0.8" fill="#d41a1a"/><circle cx="117.0" cy="94.9" r="1.2" fill="#d41a1a"/><circle cx="114.5" cy="94.6" r="1.0" fill="#d41a1a"/><circle cx="122.2" cy="100.2" r="1.1" fill="#d41a1a"/><circle cx="121.1" cy="69.1" r="0.9" fill="#d41a1a"/><circle cx="106.6" cy="85.1" r="0.8" fill="#d41a1a"/><circle cx="123.9" cy="81.6" r="1.4" fill="#d41a1a"/><circle cx="115.7" cy="106.2" r="1.0" fill="#d41a1a"/><circle cx="109.1" cy="77.1" r="1.2" fill="#d41a1a"/><circle cx="98.1" cy="95.5" r="1.3" fill="#d41a1a"/><circle cx="113.4" cy="96.3" r="0.6" fill="#d41a1a"/><circle cx="119.0" cy="101.9" r="0.9" fill="#d41a1a"/><circle cx="130.0" cy="102.3" r="1.2" fill="#d41a1a"/><circle cx="119.7" cy="91.6" r="1.1" fill="#d41a1a"/><circle cx="135.2" cy="89.3" r="0.9" fill="#d41a1a"/><circle cx="138.6" cy="102.3" r="0.8" fill="#d41a1a"/><circle cx="128.2" cy="81.7" r="1.3" fill="#d41a1a"/><circle cx="47.2" cy="97.7" r="0.9" fill="#d41a1a"/><circle cx="44.2" cy="95.3" r="1.3" fill="#d41a1a"/><circle cx="46.2" cy="159.2" r="1.1" fill="#d41a1a"/><circle cx="47.5" cy="109.9" r="1.2" fill="#d41a1a"/><circle cx="41.7" cy="112.0" r="1.0" fill="#d41a1a"/><circle cx="45.2" cy="108.9" r="1.3" fill="#d41a1a"/><circle cx="43.3" cy="94.6" r="1.0" fill="#d41a1a"/><circle cx="42.7" cy="99.9" r="0.9" fill="#d41a1a"/><circle cx="48.5" cy="119.3" r="1.2" fill="#d41a1a"/><circle cx="40.7" cy="114.3" r="1.0" fill="#d41a1a"/><circle cx="48.0" cy="131.4" r="0.7" fill="#d41a1a"/><circle cx="45.0" cy="123.3" r="1.4" fill="#d41a1a"/><circle cx="48.1" cy="108.4" r="1.4" fill="#d41a1a"/><circle cx="45.3" cy="139.1" r="1.0" fill="#d41a1a"/><circle cx="47.6" cy="130.6" r="0.7" fill="#d41a1a"/><circle cx="43.6" cy="126.7" r="0.8" fill="#d41a1a"/><circle cx="47.3" cy="109.2" r="1.0" fill="#d41a1a"/><circle cx="45.2" cy="125.4" r="0.7" fill="#d41a1a"/><circle cx="42.6" cy="101.5" r="1.2" fill="#d41a1a"/><circle cx="41.7" cy="113.6" r="0.9" fill="#d41a1a"/><circle cx="38.6" cy="142.9" r="1.2" fill="#d41a1a"/><circle cx="46.5" cy="101.3" r="1.4" fill="#d41a1a"/><circle cx="44.0" cy="118.7" r="0.7" fill="#d41a1a"/><circle cx="51.2" cy="126.2" r="0.8" fill="#d41a1a"/><circle cx="39.5" cy="123.4" r="0.8" fill="#d41a1a"/><circle cx="42.8" cy="147.7" r="0.7" fill="#d41a1a"/><circle cx="45.9" cy="105.4" r="1.2" fill="#d41a1a"/><circle cx="39.9" cy="132.3" r="1.2" fill="#d41a1a"/><circle cx="41.4" cy="124.6" r="0.9" fill="#d41a1a"/><circle cx="44.0" cy="117.0" r="0.8" fill="#d41a1a"/><circle cx="107.9" cy="155.1" r="1.0" fill="#d41a1a"/><circle cx="111.6" cy="157.5" r="1.1" fill="#d41a1a"/><circle cx="112.9" cy="149.5" r="1.4" fill="#d41a1a"/><circle cx="108.2" cy="150.1" r="0.7" fill="#d41a1a"/><circle cx="111.2" cy="149.6" r="1.3" fill="#d41a1a"/><circle cx="111.2" cy="149.9" r="1.2" fill="#d41a1a"/><circle cx="18.9" cy="96.6" r="1.2" fill="#d41a1a"/><circle cx="26.9" cy="97.8" r="1.0" fill="#d41a1a"/><circle cx="15.0" cy="103.1" r="0.7" fill="#d41a1a"/><circle cx="9.3" cy="82.0" r="0.7" fill="#d41a1a"/><circle cx="29.9" cy="101.4" r="0.8" fill="#d41a1a"/><circle cx="152.3" cy="116.3" r="0.6" fill="#d41a1a"/><circle cx="148.5" cy="125.7" r="0.9" fill="#d41a1a"/><circle cx="147.2" cy="122.6" r="1.4" fill="#d41a1a"/><circle cx="152.8" cy="120.4" r="1.3" fill="#d41a1a"/><circle cx="150.8" cy="123.9" r="0.9" fill="#d41a1a"/></g><ellipse cx="100.1" cy="42.4" rx="3.0" ry="3.4" fill="#e02020" filter="url(#b05)"/><ellipse cx="65.2" cy="117.5" rx="3.0" ry="3.0" fill="#f02020" filter="url(#b05)"/><ellipse cx="112.0" cy="80.0" rx="3.0" ry="3.0" fill="#e02020" filter="url(#b05)"/><ellipse cx="55.0" cy="125.0" rx="13.0" ry="17.0" fill="#0a4a0a" filter="url(#b3)" opacity="0.8"/><g filter="url(#b05)"><circle cx="34.3" cy="38.9" r="0.8" fill="#22e822"/><circle cx="36.4" cy="22.4" r="1.2" fill="#22e822"/><circle cx="41.1" cy="24.3" r="1.6" fill="#22e822"/><circle cx="32.7" cy="17.0" r="1.2" fill="#22e822"/><circle cx="27.4" cy="23.9" r="1.6" fill="#22e822"/><circle cx="15.0" cy="43.0" r="1.5" fill="#22e822"/><circle cx="40.0" cy="29.5" r="1.1" fill="#22e822"/><circle cx="35.9" cy="23.1" r="1.2" fill="#22e822"/><circle cx="24.5" cy="40.0" r="1.5" fill="#22e822"/><circle cx="34.3" cy="22.4" r="1.4" fill="#22e822"/><circle cx="19.8" cy="34.8" r="1.1" fill="#22e822"/><circle cx="53.4" cy="13.7" r="1.4" fill="#22e822"/><circle cx="40.7" cy="13.5" r="1.2" fill="#22e822"/><circle cx="44.5" cy="51.8" r="1.1" fill="#22e822"/><circle cx="42.4" cy="29.3" r="1.0" fill="#22e822"/><circle cx="40.1" cy="50.1" r="0.7" fill="#22e822"/><circle cx="42.2" cy="21.9" r="0.8" fill="#22e822"/><circle cx="28.4" cy="36.0" r="0.7" fill="#22e822"/><circle cx="34.8" cy="15.3" r="1.6" fill="#22e822"/><circle cx="40.7" cy="14.4" r="1.6" fill="#22e822"/><circle cx="44.4" cy="22.9" r="1.1" fill="#22e822"/><circle cx="19.4" cy="25.8" r="1.5" fill="#22e822"/><circle cx="41.3" cy="13.2" r="0.6" fill="#22e822"/><circle cx="30.9" cy="30.1" r="1.2" fill="#22e822"/><circle cx="24.9" cy="22.7" r="1.5" fill="#22e822"/><circle cx="35.9" cy="42.7" r="1.2" fill="#22e822"/><circle cx="39.0" cy="52.6" r="0.7" fill="#22e822"/><circle cx="24.2" cy="30.7" r="1.2" fill="#22e822"/><circle cx="44.0" cy="27.0" r="1.5" fill="#22e822"/><circle cx="31.4" cy="38.2" r="0.7" fill="#22e822"/><circle cx="28.5" cy="21.0" r="1.4" fill="#22e822"/><circle cx="40.7" cy="34.8" r="1.6" fill="#22e822"/><circle cx="45.6" cy="29.2" r="1.3" fill="#22e822"/><circle cx="32.4" cy="16.9" r="1.1" fill="#22e822"/><circle cx="40.2" cy="26.4" r="1.3" fill="#22e822"/><circle cx="27.6" cy="15.6" r="1.1" fill="#22e822"/><circle cx="47.7" cy="29.9" r="0.9" fill="#22e822"/><circle cx="38.7" cy="2.3" r="1.4" fill="#22e822"/><circle cx="21.0" cy="38.5" r="1.0" fill="#22e822"/><circle cx="29.5" cy="38.9" r="1.3" fill="#22e822"/><circle cx="29.9" cy="17.8" r="1.0" fill="#22e822"/><circle cx="33.6" cy="20.3" r="1.2" fill="#22e822"/><circle cx="38.1" cy="28.5" r="1.5" fill="#22e822"/><circle cx="35.7" cy="37.4" r="0.7" fill="#22e822"/><circle cx="34.6" cy="20.3" r="0.6" fill="#22e822"/><circle cx="31.1" cy="48.9" r="1.4" fill="#22e822"/><circle cx="53.7" cy="28.7" r="0.7" fill="#22e822"/><circle cx="24.1" cy="29.4" r="1.4" fill="#22e822"/><circle cx="43.3" cy="41.3" r="0.9" fill="#22e822"/><circle cx="32.5" cy="7.8" r="1.2" fill="#22e822"/><circle cx="45.8" cy="28.5" r="1.0" fill="#22e822"/><circle cx="32.2" cy="12.7" r="0.7" fill="#22e822"/><circle cx="23.4" cy="23.0" r="1.5" fill="#22e822"/><circle cx="25.6" cy="20.1" r="1.4" fill="#22e822"/><circle cx="42.4" cy="43.3" r="1.2" fill="#22e822"/><circle cx="30.9" cy="24.4" r="1.1" fill="#22e822"/><circle cx="29.3" cy="31.6" r="1.5" fill="#22e822"/><circle cx="38.9" cy="20.1" r="0.7" fill="#22e822"/><circle cx="37.9" cy="27.8" r="1.1" fill="#22e822"/><circle cx="19.5" cy="21.2" r="1.3" fill="#22e822"/><circle cx="26.3" cy="21.8" r="1.6" fill="#22e822"/><circle cx="37.1" cy="20.7" r="1.4" fill="#22e822"/><circle cx="42.6" cy="24.9" r="0.7" fill="#22e822"/><circle cx="53.0" cy="37.9" r="0.8" fill="#22e822"/><circle cx="35.6" cy="22.7" r="0.8" fill="#22e822"/><circle cx="41.7" cy="42.3" r="0.7" fill="#22e822"/><circle cx="19.6" cy="31.2" r="1.1" fill="#22e822"/><circle cx="35.4" cy="28.4" r="1.4" fill="#22e822"/><circle cx="32.9" cy="31.9" r="1.1" fill="#22e822"/><circle cx="35.4" cy="20.8" r="0.7" fill="#22e822"/><circle cx="37.5" cy="37.7" r="1.4" fill="#22e822"/><circle cx="45.6" cy="35.9" r="1.3" fill="#22e822"/><circle cx="26.6" cy="25.2" r="0.6" fill="#22e822"/><circle cx="25.7" cy="28.1" r="1.3" fill="#22e822"/><circle cx="38.3" cy="30.4" r="0.6" fill="#22e822"/><circle cx="31.1" cy="28.6" r="1.1" fill="#22e822"/><circle cx="27.3" cy="31.4" r="0.8" fill="#22e822"/><circle cx="41.9" cy="23.4" r="0.7" fill="#22e822"/><circle cx="21.9" cy="21.1" r="1.1" fill="#22e822"/><circle cx="45.7" cy="17.4" r="1.3" fill="#22e822"/><circle cx="41.9" cy="29.8" r="1.1" fill="#22e822"/><circle cx="38.5" cy="37.6" r="1.3" fill="#22e822"/><circle cx="34.1" cy="13.1" r="1.3" fill="#22e822"/><circle cx="30.5" cy="40.1" r="1.1" fill="#22e822"/><circle cx="34.1" cy="23.7" r="0.8" fill="#22e822"/><circle cx="31.3" cy="14.2" r="0.8" fill="#22e822"/><circle cx="35.5" cy="12.8" r="1.2" fill="#22e822"/><circle cx="31.2" cy="29.0" r="0.8" fill="#22e822"/><circle cx="35.7" cy="7.5" r="0.8" fill="#22e822"/><circle cx="41.1" cy="30.2" r="1.5" fill="#22e822"/><circle cx="52.9" cy="26.1" r="1.4" fill="#22e822"/><circle cx="59.9" cy="6.7" r="1.3" fill="#22e822"/><circle cx="52.1" cy="21.0" r="1.0" fill="#22e822"/><circle cx="47.1" cy="13.8" r="1.3" fill="#22e822"/><circle cx="54.2" cy="17.5" r="0.8" fill="#22e822"/><circle cx="54.8" cy="22.8" r="1.5" fill="#22e822"/><circle cx="55.7" cy="19.6" r="0.6" fill="#22e822"/><circle cx="50.1" cy="19.2" r="1.3" fill="#22e822"/><circle cx="55.9" cy="10.4" r="0.9" fill="#22e822"/><circle cx="46.3" cy="18.6" r="1.3" fill="#22e822"/><circle cx="51.4" cy="23.8" r="1.1" fill="#22e822"/><circle cx="38.4" cy="14.5" r="1.5" fill="#22e822"/><circle cx="48.9" cy="23.4" r="0.9" fill="#22e822"/><circle cx="61.7" cy="17.5" r="0.8" fill="#22e822"/><circle cx="48.1" cy="23.2" r="1.5" fill="#22e822"/><circle cx="42.7" cy="21.1" r="1.0" fill="#22e822"/><circle cx="57.6" cy="17.6" r="0.8" fill="#22e822"/><circle cx="51.5" cy="21.0" r="1.2" fill="#22e822"/><circle cx="50.8" cy="19.8" r="1.2" fill="#22e822"/><circle cx="48.9" cy="22.1" r="1.3" fill="#22e822"/><circle cx="45.5" cy="25.0" r="1.6" fill="#22e822"/><circle cx="52.1" cy="17.4" r="0.7" fill="#22e822"/><circle cx="44.9" cy="17.2" r="1.3" fill="#22e822"/><circle cx="56.6" cy="16.6" r="0.9" fill="#22e822"/><circle cx="52.4" cy="25.7" r="1.4" fill="#22e822"/><circle cx="67.5" cy="5.9" r="1.1" fill="#22e822"/><circle cx="49.9" cy="13.4" r="0.7" fill="#22e822"/><circle cx="48.0" cy="13.4" r="1.1" fill="#22e822"/><circle cx="45.9" cy="15.8" r="0.6" fill="#22e822"/><circle cx="49.6" cy="10.2" r="1.4" fill="#22e822"/><circle cx="47.5" cy="20.2" r="1.2" fill="#22e822"/><circle cx="43.2" cy="21.8" r="1.1" fill="#22e822"/><circle cx="38.4" cy="15.6" r="0.7" fill="#22e822"/><circle cx="51.8" cy="21.7" r="1.5" fill="#22e822"/><circle cx="60.7" cy="13.0" r="0.8" fill="#22e822"/><circle cx="56.6" cy="49.5" r="0.8" fill="#22e822"/><circle cx="59.4" cy="49.0" r="1.4" fill="#22e822"/><circle cx="44.9" cy="46.2" r="1.2" fill="#22e822"/><circle cx="58.7" cy="40.4" r="1.1" fill="#22e822"/><circle cx="58.7" cy="50.4" r="1.0" fill="#22e822"/><circle cx="61.4" cy="50.6" r="1.4" fill="#22e822"/><circle cx="57.6" cy="48.0" r="0.7" fill="#22e822"/><circle cx="55.9" cy="48.9" r="1.1" fill="#22e822"/><circle cx="61.7" cy="47.0" r="1.0" fill="#22e822"/><circle cx="55.7" cy="46.3" r="1.5" fill="#22e822"/><circle cx="58.9" cy="47.3" r="1.0" fill="#22e822"/><circle cx="58.4" cy="46.9" r="1.2" fill="#22e822"/><circle cx="62.5" cy="40.5" r="0.8" fill="#22e822"/><circle cx="64.1" cy="45.6" r="1.3" fill="#22e822"/><circle cx="58.3" cy="48.3" r="1.1" fill="#22e822"/><circle cx="61.9" cy="47.1" r="1.6" fill="#22e822"/><circle cx="63.7" cy="47.0" r="1.1" fill="#22e822"/><circle cx="59.2" cy="47.2" r="1.2" fill="#22e822"/><circle cx="62.0" cy="51.8" r="1.1" fill="#22e822"/><circle cx="54.4" cy="45.4" r="1.5" fill="#22e822"/><circle cx="58.6" cy="46.8" r="1.2" fill="#22e822"/><circle cx="60.5" cy="54.2" r="1.5" fill="#22e822"/><circle cx="60.0" cy="43.1" r="1.5" fill="#22e822"/><circle cx="58.2" cy="49.9" r="1.5" fill="#22e822"/><circle cx="55.7" cy="45.4" r="1.4" fill="#22e822"/><circle cx="57.7" cy="47.0" r="1.5" fill="#22e822"/><circle cx="57.5" cy="42.5" r="0.7" fill="#22e822"/><circle cx="60.1" cy="47.5" r="1.4" fill="#22e822"/><circle cx="62.1" cy="48.0" r="0.9" fill="#22e822"/><circle cx="54.7" cy="48.7" r="0.7" fill="#22e822"/><circle cx="119.0" cy="102.4" r="1.0" fill="#22e822"/><circle cx="121.8" cy="108.4" r="0.7" fill="#22e822"/><circle cx="122.2" cy="97.9" r="1.1" fill="#22e822"/><circle cx="106.7" cy="83.5" r="1.2" fill="#22e822"/><circle cx="126.8" cy="77.3" r="0.7" fill="#22e822"/><circle cx="140.0" cy="110.6" r="0.9" fill="#22e822"/><circle cx="114.0" cy="104.9" r="0.8" fill="#22e822"/><circle cx="113.9" cy="112.1" r="1.4" fill="#22e822"/><circle cx="123.5" cy="108.9" r="1.2" fill="#22e822"/><circle cx="129.5" cy="92.8" r="0.9" fill="#22e822"/><circle cx="136.5" cy="86.1" r="0.6" fill="#22e822"/><circle cx="132.9" cy="114.2" r="1.0" fill="#22e822"/><circle cx="112.4" cy="103.8" r="0.7" fill="#22e822"/><circle cx="124.5" cy="75.9" r="1.2" fill="#22e822"/><circle cx="117.5" cy="121.9" r="0.9" fill="#22e822"/><circle cx="133.1" cy="114.2" r="1.2" fill="#22e822"/><circle cx="130.8" cy="94.6" r="0.7" fill="#22e822"/><circle cx="119.6" cy="101.2" r="0.9" fill="#22e822"/><circle cx="132.2" cy="101.0" r="1.0" fill="#22e822"/><circle cx="126.9" cy="101.6" r="1.4" fill="#22e822"/><circle cx="120.1" cy="74.3" r="0.7" fill="#22e822"/><circle cx="113.5" cy="106.9" r="0.6" fill="#22e822"/><circle cx="125.4" cy="109.2" r="0.7" fill="#22e822"/><circle cx="118.0" cy="83.5" r="1.0" fill="#22e822"/><circle cx="130.7" cy="80.8" r="1.4" fill="#22e822"/><circle cx="125.3" cy="114.8" r="0.8" fill="#22e822"/><circle cx="151.3" cy="113.4" r="1.2" fill="#22e822"/><circle cx="116.3" cy="88.9" r="0.9" fill="#22e822"/><circle cx="131.0" cy="104.1" r="1.0" fill="#22e822"/><circle cx="129.9" cy="106.6" r="1.5" fill="#22e822"/><circle cx="135.0" cy="110.3" r="1.0" fill="#22e822"/><circle cx="119.2" cy="86.1" r="1.0" fill="#22e822"/><circle cx="140.1" cy="102.8" r="1.0" fill="#22e822"/><circle cx="132.8" cy="84.7" r="1.6" fill="#22e822"/><circle cx="116.5" cy="106.5" r="1.1" fill="#22e822"/><circle cx="116.5" cy="91.4" r="0.7" fill="#22e822"/><circle cx="119.5" cy="103.0" r="0.7" fill="#22e822"/><circle cx="119.7" cy="93.9" r="1.5" fill="#22e822"/><circle cx="136.1" cy="89.9" r="0.7" fill="#22e822"/><circle cx="124.3" cy="118.1" r="1.2" fill="#22e822"/><circle cx="122.2" cy="103.2" r="0.8" fill="#22e822"/><circle cx="131.9" cy="97.0" r="1.1" fill="#22e822"/><circle cx="129.1" cy="98.4" r="1.0" fill="#22e822"/><circle cx="118.3" cy="94.8" r="1.0" fill="#22e822"/><circle cx="124.3" cy="79.8" r="1.3" fill="#22e822"/><circle cx="123.2" cy="101.0" r="0.7" fill="#22e822"/><circle cx="109.1" cy="91.2" r="0.7" fill="#22e822"/><circle cx="111.9" cy="111.9" r="1.0" fill="#22e822"/><circle cx="135.2" cy="105.2" r="1.2" fill="#22e822"/><circle cx="117.0" cy="99.8" r="0.9" fill="#22e822"/><circle cx="134.8" cy="106.3" r="0.8" fill="#22e822"/><circle cx="101.3" cy="103.4" r="1.1" fill="#22e822"/><circle cx="121.0" cy="122.7" r="1.4" fill="#22e822"/><circle cx="121.5" cy="119.1" r="1.4" fill="#22e822"/><circle cx="131.1" cy="120.4" r="0.9" fill="#22e822"/><circle cx="111.8" cy="112.1" r="1.6" fill="#22e822"/><circle cx="123.3" cy="113.4" r="1.6" fill="#22e822"/><circle cx="129.0" cy="107.9" r="1.3" fill="#22e822"/><circle cx="105.2" cy="106.0" r="0.8" fill="#22e822"/><circle cx="125.6" cy="92.9" r="0.8" fill="#22e822"/><circle cx="115.6" cy="99.2" r="1.0" fill="#22e822"/><circle cx="136.3" cy="85.7" r="1.3" fill="#22e822"/><circle cx="121.0" cy="102.1" r="0.9" fill="#22e822"/><circle cx="125.1" cy="81.0" r="0.6" fill="#22e822"/><circle cx="108.3" cy="109.9" r="1.2" fill="#22e822"/><circle cx="114.8" cy="106.8" r="1.1" fill="#22e822"/><circle cx="144.2" cy="108.6" r="0.7" fill="#22e822"/><circle cx="132.1" cy="132.8" r="1.2" fill="#22e822"/><circle cx="127.7" cy="110.1" r="1.0" fill="#22e822"/><circle cx="123.6" cy="103.9" r="0.6" fill="#22e822"/><circle cx="129.9" cy="106.8" r="1.2" fill="#22e822"/><circle cx="127.3" cy="116.8" r="0.9" fill="#22e822"/><circle cx="111.3" cy="105.8" r="0.9" fill="#22e822"/><circle cx="106.2" cy="81.2" r="1.2" fill="#22e822"/><circle cx="133.7" cy="97.4" r="1.1" fill="#22e822"/><circle cx="115.0" cy="112.6" r="1.1" fill="#22e822"/><circle cx="134.2" cy="102.3" r="1.3" fill="#22e822"/><circle cx="123.2" cy="97.3" r="0.6" fill="#22e822"/><circle cx="117.0" cy="107.6" r="1.0" fill="#22e822"/><circle cx="125.2" cy="119.2" r="1.0" fill="#22e822"/><circle cx="113.3" cy="99.7" r="1.6" fill="#22e822"/><circle cx="111.0" cy="97.2" r="1.0" fill="#22e822"/><circle cx="114.5" cy="87.8" r="0.6" fill="#22e822"/><circle cx="117.4" cy="84.4" r="1.1" fill="#22e822"/><circle cx="115.4" cy="91.4" r="1.1" fill="#22e822"/><circle cx="109.5" cy="88.4" r="0.9" fill="#22e822"/><circle cx="113.7" cy="92.9" r="0.8" fill="#22e822"/><circle cx="107.6" cy="94.1" r="1.4" fill="#22e822"/><circle cx="116.8" cy="100.0" r="0.8" fill="#22e822"/><circle cx="117.5" cy="91.8" r="1.5" fill="#22e822"/><circle cx="116.4" cy="87.6" r="1.6" fill="#22e822"/><circle cx="115.8" cy="86.3" r="1.3" fill="#22e822"/><circle cx="111.5" cy="79.1" r="0.7" fill="#22e822"/><circle cx="111.4" cy="90.7" r="0.6" fill="#22e822"/><circle cx="110.0" cy="90.9" r="0.6" fill="#22e822"/><circle cx="113.9" cy="89.8" r="1.4" fill="#22e822"/><circle cx="107.8" cy="91.3" r="1.1" fill="#22e822"/><circle cx="110.6" cy="87.5" r="1.5" fill="#22e822"/><circle cx="118.2" cy="85.5" r="1.0" fill="#22e822"/><circle cx="111.1" cy="88.9" r="1.0" fill="#22e822"/><circle cx="74.2" cy="82.6" r="1.0" fill="#138a13"/><circle cx="41.7" cy="83.6" r="0.8" fill="#138a13"/><circle cx="76.4" cy="81.8" r="1.2" fill="#138a13"/><circle cx="63.7" cy="84.0" r="0.7" fill="#138a13"/><circle cx="68.0" cy="82.1" r="0.8" fill="#138a13"/><circle cx="74.7" cy="82.9" r="0.6" fill="#138a13"/><circle cx="71.4" cy="85.6" r="1.0" fill="#138a13"/><circle cx="49.7" cy="86.3" r="1.1" fill="#138a13"/><circle cx="93.3" cy="77.6" r="0.9" fill="#138a13"/><circle cx="58.4" cy="76.4" r="0.9" fill="#138a13"/><circle cx="79.3" cy="86.1" r="0.9" fill="#138a13"/><circle cx="72.5" cy="84.2" r="0.6" fill="#138a13"/><circle cx="63.1" cy="76.7" r="1.0" fill="#138a13"/><circle cx="67.6" cy="83.2" r="0.5" fill="#138a13"/><circle cx="61.9" cy="79.2" r="0.8" fill="#138a13"/><circle cx="73.1" cy="84.4" r="0.6" fill="#138a13"/><circle cx="81.4" cy="86.2" r="0.7" fill="#138a13"/><circle cx="58.2" cy="81.5" r="0.9" fill="#138a13"/><circle cx="69.5" cy="76.7" r="0.6" fill="#138a13"/><circle cx="93.0" cy="81.1" r="1.1" fill="#138a13"/><circle cx="41.9" cy="85.3" r="1.1" fill="#138a13"/><circle cx="71.5" cy="88.1" r="1.1" fill="#138a13"/><circle cx="70.7" cy="75.3" r="0.9" fill="#138a13"/><circle cx="67.9" cy="81.6" r="1.0" fill="#138a13"/><circle cx="81.9" cy="87.3" r="1.1" fill="#138a13"/><circle cx="67.0" cy="83.8" r="0.5" fill="#138a13"/><circle cx="63.3" cy="82.6" r="1.0" fill="#138a13"/><circle cx="59.3" cy="80.2" r="1.0" fill="#138a13"/><circle cx="78.0" cy="85.9" r="0.5" fill="#138a13"/><circle cx="49.8" cy="81.0" r="0.6" fill="#138a13"/><circle cx="55.7" cy="72.4" r="0.7" fill="#138a13"/><circle cx="72.6" cy="85.4" r="1.1" fill="#138a13"/><circle cx="88.4" cy="85.7" r="0.7" fill="#138a13"/><circle cx="71.1" cy="75.5" r="1.1" fill="#138a13"/><circle cx="75.6" cy="86.9" r="0.7" fill="#138a13"/></g><ellipse cx="43.0" cy="123.1" rx="2.6" ry="12.0" fill="#22e822" filter="url(#b1)"/><ellipse cx="65.2" cy="117.1" rx="3.0" ry="3.2" fill="#22e822" filter="url(#b1)"/><ellipse cx="51.1" cy="144.3" rx="3.0" ry="2.5" fill="#22e822" filter="url(#b1)"/><path d="M124.0 135.9H156.0" stroke="#d8d8d8" stroke-width="1.1"/></svg>
<svg style="left:2913.8px;top:1231.1px;overflow:hidden" width="164.4" height="155.4" viewBox="0 0 164.4 155.4"><rect width="164.4" height="155.4" fill="#000"/><g opacity="0.8"><ellipse cx="52.9" cy="27.3" rx="10.0" ry="11.0" fill="#0a0a6a" filter="url(#b3)"/><ellipse cx="113.4" cy="37.3" rx="8.0" ry="11.0" fill="#10109a" filter="url(#b2)" transform="rotate(20 113.4 37.3)"/><ellipse cx="65.0" cy="70.6" rx="15.0" ry="13.0" fill="#0c0c7c" filter="url(#b3)"/><ellipse cx="123.5" cy="105.0" rx="14.0" ry="18.0" fill="#0c0c90" filter="url(#b3)" transform="rotate(-15 123.5 105.0)"/><ellipse cx="121.5" cy="105.0" rx="6.0" ry="6.0" fill="#1a1aff" filter="url(#b2)"/><ellipse cx="53.9" cy="119.1" rx="13.0" ry="16.0" fill="#1010a4" filter="url(#b3)"/></g><g filter="url(#b05)"><circle cx="30.1" cy="34.7" r="0.7" fill="#d41a1a"/><circle cx="48.3" cy="24.2" r="1.2" fill="#d41a1a"/><circle cx="25.7" cy="27.4" r="1.2" fill="#d41a1a"/><circle cx="18.9" cy="23.1" r="1.1" fill="#d41a1a"/><circle cx="42.2" cy="22.1" r="0.7" fill="#d41a1a"/><circle cx="46.3" cy="42.0" r="0.7" fill="#d41a1a"/><circle cx="27.3" cy="19.9" r="0.6" fill="#d41a1a"/><circle cx="36.5" cy="28.0" r="1.3" fill="#d41a1a"/><circle cx="40.1" cy="25.0" r="1.2" fill="#d41a1a"/><circle cx="35.3" cy="25.7" r="1.1" fill="#d41a1a"/><circle cx="53.2" cy="44.3" r="1.2" fill="#d41a1a"/><circle cx="39.5" cy="29.9" r="0.9" fill="#d41a1a"/><circle cx="24.9" cy="21.9" r="0.7" fill="#d41a1a"/><circle cx="52.1" cy="19.0" r="0.8" fill="#d41a1a"/><circle cx="45.8" cy="40.9" r="0.9" fill="#d41a1a"/><circle cx="29.3" cy="21.3" r="0.9" fill="#d41a1a"/><circle cx="41.8" cy="31.0" r="1.0" fill="#d41a1a"/><circle cx="34.3" cy="20.9" r="1.2" fill="#d41a1a"/><circle cx="13.9" cy="25.7" r="1.1" fill="#d41a1a"/><circle cx="33.3" cy="34.7" r="0.7" fill="#d41a1a"/><circle cx="57.1" cy="34.7" r="1.3" fill="#d41a1a"/><circle cx="35.9" cy="26.0" r="1.1" fill="#d41a1a"/><circle cx="51.9" cy="43.9" r="1.1" fill="#d41a1a"/><circle cx="35.9" cy="18.0" r="0.9" fill="#d41a1a"/><circle cx="52.2" cy="11.6" r="0.8" fill="#d41a1a"/><circle cx="19.4" cy="35.9" r="1.1" fill="#d41a1a"/><circle cx="25.7" cy="35.5" r="1.4" fill="#d41a1a"/><circle cx="34.7" cy="36.4" r="1.1" fill="#d41a1a"/><circle cx="31.9" cy="49.2" r="0.9" fill="#d41a1a"/><circle cx="45.5" cy="26.3" r="1.3" fill="#d41a1a"/><circle cx="36.0" cy="15.7" r="0.8" fill="#d41a1a"/><circle cx="37.3" cy="32.2" r="0.7" fill="#d41a1a"/><circle cx="33.9" cy="27.5" r="0.8" fill="#d41a1a"/><circle cx="30.1" cy="28.2" r="0.9" fill="#d41a1a"/><circle cx="38.1" cy="43.7" r="0.7" fill="#d41a1a"/><circle cx="50.8" cy="30.1" r="1.2" fill="#d41a1a"/><circle cx="23.7" cy="26.9" r="1.4" fill="#d41a1a"/><circle cx="51.9" cy="19.9" r="0.6" fill="#d41a1a"/><circle cx="13.7" cy="18.9" r="1.1" fill="#d41a1a"/><circle cx="20.0" cy="29.2" r="0.7" fill="#d41a1a"/><circle cx="33.2" cy="14.7" r="0.7" fill="#d41a1a"/><circle cx="21.1" cy="29.6" r="0.9" fill="#d41a1a"/><circle cx="25.6" cy="11.8" r="1.3" fill="#d41a1a"/><circle cx="33.7" cy="35.1" r="1.3" fill="#d41a1a"/><circle cx="20.1" cy="19.3" r="1.3" fill="#d41a1a"/><circle cx="33.2" cy="42.1" r="0.8" fill="#d41a1a"/><circle cx="40.9" cy="17.1" r="0.8" fill="#d41a1a"/><circle cx="21.1" cy="30.3" r="0.8" fill="#d41a1a"/><circle cx="41.0" cy="39.6" r="0.7" fill="#d41a1a"/><circle cx="9.8" cy="30.9" r="1.3" fill="#d41a1a"/><circle cx="55.3" cy="35.9" r="1.2" fill="#d41a1a"/><circle cx="35.2" cy="28.3" r="1.2" fill="#d41a1a"/><circle cx="42.6" cy="45.6" r="0.9" fill="#d41a1a"/><circle cx="31.4" cy="34.4" r="1.3" fill="#d41a1a"/><circle cx="39.8" cy="48.3" r="1.0" fill="#d41a1a"/><circle cx="45.5" cy="40.9" r="1.0" fill="#d41a1a"/><circle cx="56.1" cy="33.1" r="0.8" fill="#d41a1a"/><circle cx="54.4" cy="32.6" r="1.2" fill="#d41a1a"/><circle cx="30.6" cy="34.1" r="1.0" fill="#d41a1a"/><circle cx="21.5" cy="23.2" r="1.0" fill="#d41a1a"/><circle cx="51.5" cy="43.1" r="0.8" fill="#d41a1a"/><circle cx="63.1" cy="51.6" r="1.2" fill="#d41a1a"/><circle cx="64.0" cy="37.1" r="1.0" fill="#d41a1a"/><circle cx="59.6" cy="44.1" r="0.9" fill="#d41a1a"/><circle cx="70.6" cy="50.3" r="1.4" fill="#d41a1a"/><circle cx="55.4" cy="39.1" r="0.9" fill="#d41a1a"/><circle cx="60.9" cy="44.4" r="0.9" fill="#d41a1a"/><circle cx="53.1" cy="54.4" r="0.7" fill="#d41a1a"/><circle cx="61.6" cy="48.2" r="1.3" fill="#d41a1a"/><circle cx="55.0" cy="56.3" r="0.9" fill="#d41a1a"/><circle cx="62.2" cy="43.6" r="1.3" fill="#d41a1a"/><circle cx="72.3" cy="44.7" r="1.2" fill="#d41a1a"/><circle cx="70.8" cy="39.7" r="1.4" fill="#d41a1a"/><circle cx="58.3" cy="56.0" r="1.2" fill="#d41a1a"/><circle cx="58.1" cy="48.9" r="1.3" fill="#d41a1a"/><circle cx="52.9" cy="47.5" r="1.3" fill="#d41a1a"/><circle cx="55.6" cy="46.8" r="1.1" fill="#d41a1a"/><circle cx="55.5" cy="45.6" r="1.2" fill="#d41a1a"/><circle cx="63.9" cy="44.3" r="1.3" fill="#d41a1a"/><circle cx="60.4" cy="40.3" r="0.8" fill="#d41a1a"/><circle cx="57.7" cy="42.9" r="0.8" fill="#d41a1a"/><circle cx="63.1" cy="43.2" r="0.7" fill="#d41a1a"/><circle cx="71.2" cy="33.0" r="0.8" fill="#d41a1a"/><circle cx="54.0" cy="49.9" r="1.2" fill="#d41a1a"/><circle cx="68.8" cy="47.0" r="0.8" fill="#d41a1a"/><circle cx="111.4" cy="8.7" r="1.4" fill="#d41a1a"/><circle cx="104.4" cy="11.3" r="0.6" fill="#d41a1a"/><circle cx="109.3" cy="12.4" r="0.9" fill="#d41a1a"/><circle cx="110.1" cy="12.8" r="0.7" fill="#d41a1a"/><circle cx="101.6" cy="6.9" r="1.3" fill="#d41a1a"/><circle cx="53.5" cy="48.4" r="1.2" fill="#d41a1a"/><circle cx="71.7" cy="59.7" r="0.7" fill="#d41a1a"/><circle cx="105.3" cy="54.8" r="1.2" fill="#d41a1a"/><circle cx="72.4" cy="51.0" r="1.4" fill="#d41a1a"/><circle cx="105.6" cy="65.0" r="0.6" fill="#d41a1a"/><circle cx="99.1" cy="63.8" r="1.0" fill="#d41a1a"/><circle cx="71.9" cy="71.3" r="0.6" fill="#d41a1a"/><circle cx="67.7" cy="58.6" r="0.7" fill="#d41a1a"/><circle cx="108.8" cy="57.9" r="1.3" fill="#d41a1a"/><circle cx="68.6" cy="65.7" r="1.0" fill="#d41a1a"/><circle cx="58.0" cy="86.1" r="1.3" fill="#d41a1a"/><circle cx="95.6" cy="60.8" r="1.0" fill="#d41a1a"/><circle cx="77.5" cy="60.4" r="0.7" fill="#d41a1a"/><circle cx="93.0" cy="67.3" r="0.8" fill="#d41a1a"/><circle cx="76.0" cy="68.2" r="1.0" fill="#d41a1a"/><circle cx="96.1" cy="83.9" r="0.7" fill="#d41a1a"/><circle cx="85.6" cy="60.5" r="1.2" fill="#d41a1a"/><circle cx="92.9" cy="44.3" r="0.7" fill="#d41a1a"/><circle cx="89.9" cy="67.5" r="0.9" fill="#d41a1a"/><circle cx="98.3" cy="68.5" r="0.7" fill="#d41a1a"/><circle cx="51.4" cy="60.0" r="1.2" fill="#d41a1a"/><circle cx="78.3" cy="64.5" r="1.4" fill="#d41a1a"/><circle cx="59.4" cy="86.4" r="0.7" fill="#d41a1a"/><circle cx="71.7" cy="91.2" r="1.2" fill="#d41a1a"/><circle cx="88.0" cy="78.2" r="1.0" fill="#d41a1a"/><circle cx="81.9" cy="75.0" r="0.7" fill="#d41a1a"/><circle cx="108.3" cy="102.2" r="0.9" fill="#d41a1a"/><circle cx="109.7" cy="104.5" r="0.9" fill="#d41a1a"/><circle cx="121.3" cy="95.7" r="0.7" fill="#d41a1a"/><circle cx="111.3" cy="106.5" r="1.0" fill="#d41a1a"/><circle cx="139.2" cy="78.7" r="1.3" fill="#d41a1a"/><circle cx="128.3" cy="98.5" r="0.9" fill="#d41a1a"/><circle cx="128.3" cy="109.9" r="0.8" fill="#d41a1a"/><circle cx="121.4" cy="114.7" r="1.4" fill="#d41a1a"/><circle cx="95.1" cy="100.3" r="1.0" fill="#d41a1a"/><circle cx="120.6" cy="83.6" r="1.1" fill="#d41a1a"/><circle cx="135.0" cy="95.0" r="1.0" fill="#d41a1a"/><circle cx="121.4" cy="108.9" r="0.9" fill="#d41a1a"/><circle cx="115.4" cy="106.8" r="1.4" fill="#d41a1a"/><circle cx="133.6" cy="104.6" r="0.8" fill="#d41a1a"/><circle cx="101.5" cy="116.5" r="1.4" fill="#d41a1a"/><circle cx="105.5" cy="115.2" r="1.3" fill="#d41a1a"/><circle cx="117.7" cy="115.7" r="0.9" fill="#d41a1a"/><circle cx="126.0" cy="93.6" r="1.3" fill="#d41a1a"/><circle cx="127.9" cy="121.0" r="1.1" fill="#d41a1a"/><circle cx="131.1" cy="105.5" r="1.3" fill="#d41a1a"/><circle cx="117.3" cy="105.6" r="1.0" fill="#d41a1a"/><circle cx="107.6" cy="99.3" r="0.9" fill="#d41a1a"/><circle cx="137.3" cy="95.7" r="1.0" fill="#d41a1a"/><circle cx="101.3" cy="110.3" r="0.8" fill="#d41a1a"/><circle cx="100.5" cy="105.5" r="0.7" fill="#d41a1a"/><circle cx="123.0" cy="106.4" r="1.1" fill="#d41a1a"/><circle cx="126.2" cy="84.8" r="1.1" fill="#d41a1a"/><circle cx="131.9" cy="105.4" r="1.0" fill="#d41a1a"/><circle cx="116.0" cy="111.4" r="0.9" fill="#d41a1a"/><circle cx="121.3" cy="107.9" r="1.1" fill="#d41a1a"/><circle cx="133.3" cy="105.1" r="0.9" fill="#d41a1a"/><circle cx="127.7" cy="84.1" r="1.0" fill="#d41a1a"/><circle cx="139.6" cy="103.8" r="1.2" fill="#d41a1a"/><circle cx="97.0" cy="72.7" r="1.0" fill="#d41a1a"/><circle cx="108.9" cy="112.8" r="0.7" fill="#d41a1a"/><circle cx="116.2" cy="98.1" r="1.1" fill="#d41a1a"/><circle cx="106.8" cy="90.2" r="0.7" fill="#d41a1a"/><circle cx="114.0" cy="72.7" r="1.4" fill="#d41a1a"/><circle cx="121.4" cy="95.4" r="1.2" fill="#d41a1a"/><circle cx="135.5" cy="135.6" r="0.6" fill="#d41a1a"/><circle cx="132.8" cy="104.4" r="0.7" fill="#d41a1a"/><circle cx="147.2" cy="94.2" r="0.8" fill="#d41a1a"/><circle cx="128.3" cy="94.2" r="1.3" fill="#d41a1a"/><circle cx="140.9" cy="124.8" r="1.0" fill="#d41a1a"/><circle cx="121.8" cy="117.1" r="0.6" fill="#d41a1a"/><circle cx="133.9" cy="106.4" r="1.1" fill="#d41a1a"/><circle cx="135.3" cy="102.7" r="0.9" fill="#d41a1a"/><circle cx="120.5" cy="105.7" r="1.3" fill="#d41a1a"/><circle cx="117.8" cy="93.3" r="1.2" fill="#d41a1a"/><circle cx="114.4" cy="85.7" r="1.0" fill="#d41a1a"/><circle cx="139.5" cy="81.4" r="1.2" fill="#d41a1a"/><circle cx="125.8" cy="116.0" r="1.1" fill="#d41a1a"/><circle cx="134.3" cy="98.4" r="1.0" fill="#d41a1a"/><circle cx="124.7" cy="105.0" r="0.8" fill="#d41a1a"/><circle cx="117.0" cy="94.9" r="1.2" fill="#d41a1a"/><circle cx="114.5" cy="94.6" r="1.0" fill="#d41a1a"/><circle cx="122.2" cy="100.2" r="1.1" fill="#d41a1a"/><circle cx="121.1" cy="69.1" r="0.9" fill="#d41a1a"/><circle cx="106.6" cy="85.1" r="0.8" fill="#d41a1a"/><circle cx="123.9" cy="81.6" r="1.4" fill="#d41a1a"/><circle cx="115.7" cy="106.2" r="1.0" fill="#d41a1a"/><circle cx="109.1" cy="77.1" r="1.2" fill="#d41a1a"/><circle cx="98.1" cy="95.5" r="1.3" fill="#d41a1a"/><circle cx="113.4" cy="96.3" r="0.6" fill="#d41a1a"/><circle cx="119.0" cy="101.9" r="0.9" fill="#d41a1a"/><circle cx="130.0" cy="102.3" r="1.2" fill="#d41a1a"/><circle cx="119.7" cy="91.6" r="1.1" fill="#d41a1a"/><circle cx="135.2" cy="89.3" r="0.9" fill="#d41a1a"/><circle cx="138.6" cy="102.3" r="0.8" fill="#d41a1a"/><circle cx="128.2" cy="81.7" r="1.3" fill="#d41a1a"/><circle cx="47.2" cy="97.7" r="0.9" fill="#d41a1a"/><circle cx="44.2" cy="95.3" r="1.3" fill="#d41a1a"/><circle cx="46.2" cy="159.2" r="1.1" fill="#d41a1a"/><circle cx="47.5" cy="109.9" r="1.2" fill="#d41a1a"/><circle cx="41.7" cy="112.0" r="1.0" fill="#d41a1a"/><circle cx="45.2" cy="108.9" r="1.3" fill="#d41a1a"/><circle cx="43.3" cy="94.6" r="1.0" fill="#d41a1a"/><circle cx="42.7" cy="99.9" r="0.9" fill="#d41a1a"/><circle cx="48.5" cy="119.3" r="1.2" fill="#d41a1a"/><circle cx="40.7" cy="114.3" r="1.0" fill="#d41a1a"/><circle cx="48.0" cy="131.4" r="0.7" fill="#d41a1a"/><circle cx="45.0" cy="123.3" r="1.4" fill="#d41a1a"/><circle cx="48.1" cy="108.4" r="1.4" fill="#d41a1a"/><circle cx="45.3" cy="139.1" r="1.0" fill="#d41a1a"/><circle cx="47.6" cy="130.6" r="0.7" fill="#d41a1a"/><circle cx="43.6" cy="126.7" r="0.8" fill="#d41a1a"/><circle cx="47.3" cy="109.2" r="1.0" fill="#d41a1a"/><circle cx="45.2" cy="125.4" r="0.7" fill="#d41a1a"/><circle cx="42.6" cy="101.5" r="1.2" fill="#d41a1a"/><circle cx="41.7" cy="113.6" r="0.9" fill="#d41a1a"/><circle cx="38.6" cy="142.9" r="1.2" fill="#d41a1a"/><circle cx="46.5" cy="101.3" r="1.4" fill="#d41a1a"/><circle cx="44.0" cy="118.7" r="0.7" fill="#d41a1a"/><circle cx="51.2" cy="126.2" r="0.8" fill="#d41a1a"/><circle cx="39.5" cy="123.4" r="0.8" fill="#d41a1a"/><circle cx="42.8" cy="147.7" r="0.7" fill="#d41a1a"/><circle cx="45.9" cy="105.4" r="1.2" fill="#d41a1a"/><circle cx="39.9" cy="132.3" r="1.2" fill="#d41a1a"/><circle cx="41.4" cy="124.6" r="0.9" fill="#d41a1a"/><circle cx="44.0" cy="117.0" r="0.8" fill="#d41a1a"/><circle cx="107.9" cy="155.1" r="1.0" fill="#d41a1a"/><circle cx="111.6" cy="157.5" r="1.1" fill="#d41a1a"/><circle cx="112.9" cy="149.5" r="1.4" fill="#d41a1a"/><circle cx="108.2" cy="150.1" r="0.7" fill="#d41a1a"/><circle cx="111.2" cy="149.6" r="1.3" fill="#d41a1a"/><circle cx="111.2" cy="149.9" r="1.2" fill="#d41a1a"/><circle cx="18.9" cy="96.6" r="1.2" fill="#d41a1a"/><circle cx="26.9" cy="97.8" r="1.0" fill="#d41a1a"/><circle cx="15.0" cy="103.1" r="0.7" fill="#d41a1a"/><circle cx="9.3" cy="82.0" r="0.7" fill="#d41a1a"/><circle cx="29.9" cy="101.4" r="0.8" fill="#d41a1a"/><circle cx="152.3" cy="116.3" r="0.6" fill="#d41a1a"/><circle cx="148.5" cy="125.7" r="0.9" fill="#d41a1a"/><circle cx="147.2" cy="122.6" r="1.4" fill="#d41a1a"/><circle cx="152.8" cy="120.4" r="1.3" fill="#d41a1a"/><circle cx="150.8" cy="123.9" r="0.9" fill="#d41a1a"/></g><ellipse cx="100.1" cy="42.4" rx="3.0" ry="3.4" fill="#e02020" filter="url(#b05)"/><ellipse cx="65.2" cy="117.5" rx="3.0" ry="3.0" fill="#f02020" filter="url(#b05)"/><ellipse cx="112.0" cy="80.0" rx="3.0" ry="3.0" fill="#e02020" filter="url(#b05)"/><ellipse cx="55.0" cy="125.0" rx="13.0" ry="17.0" fill="#0a4a0a" filter="url(#b3)" opacity="0.8"/><g filter="url(#b05)"><circle cx="34.3" cy="38.9" r="0.8" fill="#22e822"/><circle cx="36.4" cy="22.4" r="1.2" fill="#22e822"/><circle cx="41.1" cy="24.3" r="1.6" fill="#22e822"/><circle cx="32.7" cy="17.0" r="1.2" fill="#22e822"/><circle cx="27.4" cy="23.9" r="1.6" fill="#22e822"/><circle cx="15.0" cy="43.0" r="1.5" fill="#22e822"/><circle cx="40.0" cy="29.5" r="1.1" fill="#22e822"/><circle cx="35.9" cy="23.1" r="1.2" fill="#22e822"/><circle cx="24.5" cy="40.0" r="1.5" fill="#22e822"/><circle cx="34.3" cy="22.4" r="1.4" fill="#22e822"/><circle cx="19.8" cy="34.8" r="1.1" fill="#22e822"/><circle cx="53.4" cy="13.7" r="1.4" fill="#22e822"/><circle cx="40.7" cy="13.5" r="1.2" fill="#22e822"/><circle cx="44.5" cy="51.8" r="1.1" fill="#22e822"/><circle cx="42.4" cy="29.3" r="1.0" fill="#22e822"/><circle cx="40.1" cy="50.1" r="0.7" fill="#22e822"/><circle cx="42.2" cy="21.9" r="0.8" fill="#22e822"/><circle cx="28.4" cy="36.0" r="0.7" fill="#22e822"/><circle cx="34.8" cy="15.3" r="1.6" fill="#22e822"/><circle cx="40.7" cy="14.4" r="1.6" fill="#22e822"/><circle cx="44.4" cy="22.9" r="1.1" fill="#22e822"/><circle cx="19.4" cy="25.8" r="1.5" fill="#22e822"/><circle cx="41.3" cy="13.2" r="0.6" fill="#22e822"/><circle cx="30.9" cy="30.1" r="1.2" fill="#22e822"/><circle cx="24.9" cy="22.7" r="1.5" fill="#22e822"/><circle cx="35.9" cy="42.7" r="1.2" fill="#22e822"/><circle cx="39.0" cy="52.6" r="0.7" fill="#22e822"/><circle cx="24.2" cy="30.7" r="1.2" fill="#22e822"/><circle cx="44.0" cy="27.0" r="1.5" fill="#22e822"/><circle cx="31.4" cy="38.2" r="0.7" fill="#22e822"/><circle cx="28.5" cy="21.0" r="1.4" fill="#22e822"/><circle cx="40.7" cy="34.8" r="1.6" fill="#22e822"/><circle cx="45.6" cy="29.2" r="1.3" fill="#22e822"/><circle cx="32.4" cy="16.9" r="1.1" fill="#22e822"/><circle cx="40.2" cy="26.4" r="1.3" fill="#22e822"/><circle cx="27.6" cy="15.6" r="1.1" fill="#22e822"/><circle cx="47.7" cy="29.9" r="0.9" fill="#22e822"/><circle cx="38.7" cy="2.3" r="1.4" fill="#22e822"/><circle cx="21.0" cy="38.5" r="1.0" fill="#22e822"/><circle cx="29.5" cy="38.9" r="1.3" fill="#22e822"/><circle cx="29.9" cy="17.8" r="1.0" fill="#22e822"/><circle cx="33.6" cy="20.3" r="1.2" fill="#22e822"/><circle cx="38.1" cy="28.5" r="1.5" fill="#22e822"/><circle cx="35.7" cy="37.4" r="0.7" fill="#22e822"/><circle cx="34.6" cy="20.3" r="0.6" fill="#22e822"/><circle cx="31.1" cy="48.9" r="1.4" fill="#22e822"/><circle cx="53.7" cy="28.7" r="0.7" fill="#22e822"/><circle cx="24.1" cy="29.4" r="1.4" fill="#22e822"/><circle cx="43.3" cy="41.3" r="0.9" fill="#22e822"/><circle cx="32.5" cy="7.8" r="1.2" fill="#22e822"/><circle cx="45.8" cy="28.5" r="1.0" fill="#22e822"/><circle cx="32.2" cy="12.7" r="0.7" fill="#22e822"/><circle cx="23.4" cy="23.0" r="1.5" fill="#22e822"/><circle cx="25.6" cy="20.1" r="1.4" fill="#22e822"/><circle cx="42.4" cy="43.3" r="1.2" fill="#22e822"/><circle cx="30.9" cy="24.4" r="1.1" fill="#22e822"/><circle cx="29.3" cy="31.6" r="1.5" fill="#22e822"/><circle cx="38.9" cy="20.1" r="0.7" fill="#22e822"/><circle cx="37.9" cy="27.8" r="1.1" fill="#22e822"/><circle cx="19.5" cy="21.2" r="1.3" fill="#22e822"/><circle cx="26.3" cy="21.8" r="1.6" fill="#22e822"/><circle cx="37.1" cy="20.7" r="1.4" fill="#22e822"/><circle cx="42.6" cy="24.9" r="0.7" fill="#22e822"/><circle cx="53.0" cy="37.9" r="0.8" fill="#22e822"/><circle cx="35.6" cy="22.7" r="0.8" fill="#22e822"/><circle cx="41.7" cy="42.3" r="0.7" fill="#22e822"/><circle cx="19.6" cy="31.2" r="1.1" fill="#22e822"/><circle cx="35.4" cy="28.4" r="1.4" fill="#22e822"/><circle cx="32.9" cy="31.9" r="1.1" fill="#22e822"/><circle cx="35.4" cy="20.8" r="0.7" fill="#22e822"/><circle cx="37.5" cy="37.7" r="1.4" fill="#22e822"/><circle cx="45.6" cy="35.9" r="1.3" fill="#22e822"/><circle cx="26.6" cy="25.2" r="0.6" fill="#22e822"/><circle cx="25.7" cy="28.1" r="1.3" fill="#22e822"/><circle cx="38.3" cy="30.4" r="0.6" fill="#22e822"/><circle cx="31.1" cy="28.6" r="1.1" fill="#22e822"/><circle cx="27.3" cy="31.4" r="0.8" fill="#22e822"/><circle cx="41.9" cy="23.4" r="0.7" fill="#22e822"/><circle cx="21.9" cy="21.1" r="1.1" fill="#22e822"/><circle cx="45.7" cy="17.4" r="1.3" fill="#22e822"/><circle cx="41.9" cy="29.8" r="1.1" fill="#22e822"/><circle cx="38.5" cy="37.6" r="1.3" fill="#22e822"/><circle cx="34.1" cy="13.1" r="1.3" fill="#22e822"/><circle cx="30.5" cy="40.1" r="1.1" fill="#22e822"/><circle cx="34.1" cy="23.7" r="0.8" fill="#22e822"/><circle cx="31.3" cy="14.2" r="0.8" fill="#22e822"/><circle cx="35.5" cy="12.8" r="1.2" fill="#22e822"/><circle cx="31.2" cy="29.0" r="0.8" fill="#22e822"/><circle cx="35.7" cy="7.5" r="0.8" fill="#22e822"/><circle cx="41.1" cy="30.2" r="1.5" fill="#22e822"/><circle cx="52.9" cy="26.1" r="1.4" fill="#22e822"/><circle cx="59.9" cy="6.7" r="1.3" fill="#22e822"/><circle cx="52.1" cy="21.0" r="1.0" fill="#22e822"/><circle cx="47.1" cy="13.8" r="1.3" fill="#22e822"/><circle cx="54.2" cy="17.5" r="0.8" fill="#22e822"/><circle cx="54.8" cy="22.8" r="1.5" fill="#22e822"/><circle cx="55.7" cy="19.6" r="0.6" fill="#22e822"/><circle cx="50.1" cy="19.2" r="1.3" fill="#22e822"/><circle cx="55.9" cy="10.4" r="0.9" fill="#22e822"/><circle cx="46.3" cy="18.6" r="1.3" fill="#22e822"/><circle cx="51.4" cy="23.8" r="1.1" fill="#22e822"/><circle cx="38.4" cy="14.5" r="1.5" fill="#22e822"/><circle cx="48.9" cy="23.4" r="0.9" fill="#22e822"/><circle cx="61.7" cy="17.5" r="0.8" fill="#22e822"/><circle cx="48.1" cy="23.2" r="1.5" fill="#22e822"/><circle cx="42.7" cy="21.1" r="1.0" fill="#22e822"/><circle cx="57.6" cy="17.6" r="0.8" fill="#22e822"/><circle cx="51.5" cy="21.0" r="1.2" fill="#22e822"/><circle cx="50.8" cy="19.8" r="1.2" fill="#22e822"/><circle cx="48.9" cy="22.1" r="1.3" fill="#22e822"/><circle cx="45.5" cy="25.0" r="1.6" fill="#22e822"/><circle cx="52.1" cy="17.4" r="0.7" fill="#22e822"/><circle cx="44.9" cy="17.2" r="1.3" fill="#22e822"/><circle cx="56.6" cy="16.6" r="0.9" fill="#22e822"/><circle cx="52.4" cy="25.7" r="1.4" fill="#22e822"/><circle cx="67.5" cy="5.9" r="1.1" fill="#22e822"/><circle cx="49.9" cy="13.4" r="0.7" fill="#22e822"/><circle cx="48.0" cy="13.4" r="1.1" fill="#22e822"/><circle cx="45.9" cy="15.8" r="0.6" fill="#22e822"/><circle cx="49.6" cy="10.2" r="1.4" fill="#22e822"/><circle cx="47.5" cy="20.2" r="1.2" fill="#22e822"/><circle cx="43.2" cy="21.8" r="1.1" fill="#22e822"/><circle cx="38.4" cy="15.6" r="0.7" fill="#22e822"/><circle cx="51.8" cy="21.7" r="1.5" fill="#22e822"/><circle cx="60.7" cy="13.0" r="0.8" fill="#22e822"/><circle cx="56.6" cy="49.5" r="0.8" fill="#22e822"/><circle cx="59.4" cy="49.0" r="1.4" fill="#22e822"/><circle cx="44.9" cy="46.2" r="1.2" fill="#22e822"/><circle cx="58.7" cy="40.4" r="1.1" fill="#22e822"/><circle cx="58.7" cy="50.4" r="1.0" fill="#22e822"/><circle cx="61.4" cy="50.6" r="1.4" fill="#22e822"/><circle cx="57.6" cy="48.0" r="0.7" fill="#22e822"/><circle cx="55.9" cy="48.9" r="1.1" fill="#22e822"/><circle cx="61.7" cy="47.0" r="1.0" fill="#22e822"/><circle cx="55.7" cy="46.3" r="1.5" fill="#22e822"/><circle cx="58.9" cy="47.3" r="1.0" fill="#22e822"/><circle cx="58.4" cy="46.9" r="1.2" fill="#22e822"/><circle cx="62.5" cy="40.5" r="0.8" fill="#22e822"/><circle cx="64.1" cy="45.6" r="1.3" fill="#22e822"/><circle cx="58.3" cy="48.3" r="1.1" fill="#22e822"/><circle cx="61.9" cy="47.1" r="1.6" fill="#22e822"/><circle cx="63.7" cy="47.0" r="1.1" fill="#22e822"/><circle cx="59.2" cy="47.2" r="1.2" fill="#22e822"/><circle cx="62.0" cy="51.8" r="1.1" fill="#22e822"/><circle cx="54.4" cy="45.4" r="1.5" fill="#22e822"/><circle cx="58.6" cy="46.8" r="1.2" fill="#22e822"/><circle cx="60.5" cy="54.2" r="1.5" fill="#22e822"/><circle cx="60.0" cy="43.1" r="1.5" fill="#22e822"/><circle cx="58.2" cy="49.9" r="1.5" fill="#22e822"/><circle cx="55.7" cy="45.4" r="1.4" fill="#22e822"/><circle cx="57.7" cy="47.0" r="1.5" fill="#22e822"/><circle cx="57.5" cy="42.5" r="0.7" fill="#22e822"/><circle cx="60.1" cy="47.5" r="1.4" fill="#22e822"/><circle cx="62.1" cy="48.0" r="0.9" fill="#22e822"/><circle cx="54.7" cy="48.7" r="0.7" fill="#22e822"/><circle cx="119.0" cy="102.4" r="1.0" fill="#22e822"/><circle cx="121.8" cy="108.4" r="0.7" fill="#22e822"/><circle cx="122.2" cy="97.9" r="1.1" fill="#22e822"/><circle cx="106.7" cy="83.5" r="1.2" fill="#22e822"/><circle cx="126.8" cy="77.3" r="0.7" fill="#22e822"/><circle cx="140.0" cy="110.6" r="0.9" fill="#22e822"/><circle cx="114.0" cy="104.9" r="0.8" fill="#22e822"/><circle cx="113.9" cy="112.1" r="1.4" fill="#22e822"/><circle cx="123.5" cy="108.9" r="1.2" fill="#22e822"/><circle cx="129.5" cy="92.8" r="0.9" fill="#22e822"/><circle cx="136.5" cy="86.1" r="0.6" fill="#22e822"/><circle cx="132.9" cy="114.2" r="1.0" fill="#22e822"/><circle cx="112.4" cy="103.8" r="0.7" fill="#22e822"/><circle cx="124.5" cy="75.9" r="1.2" fill="#22e822"/><circle cx="117.5" cy="121.9" r="0.9" fill="#22e822"/><circle cx="133.1" cy="114.2" r="1.2" fill="#22e822"/><circle cx="130.8" cy="94.6" r="0.7" fill="#22e822"/><circle cx="119.6" cy="101.2" r="0.9" fill="#22e822"/><circle cx="132.2" cy="101.0" r="1.0" fill="#22e822"/><circle cx="126.9" cy="101.6" r="1.4" fill="#22e822"/><circle cx="120.1" cy="74.3" r="0.7" fill="#22e822"/><circle cx="113.5" cy="106.9" r="0.6" fill="#22e822"/><circle cx="125.4" cy="109.2" r="0.7" fill="#22e822"/><circle cx="118.0" cy="83.5" r="1.0" fill="#22e822"/><circle cx="130.7" cy="80.8" r="1.4" fill="#22e822"/><circle cx="125.3" cy="114.8" r="0.8" fill="#22e822"/><circle cx="151.3" cy="113.4" r="1.2" fill="#22e822"/><circle cx="116.3" cy="88.9" r="0.9" fill="#22e822"/><circle cx="131.0" cy="104.1" r="1.0" fill="#22e822"/><circle cx="129.9" cy="106.6" r="1.5" fill="#22e822"/><circle cx="135.0" cy="110.3" r="1.0" fill="#22e822"/><circle cx="119.2" cy="86.1" r="1.0" fill="#22e822"/><circle cx="140.1" cy="102.8" r="1.0" fill="#22e822"/><circle cx="132.8" cy="84.7" r="1.6" fill="#22e822"/><circle cx="116.5" cy="106.5" r="1.1" fill="#22e822"/><circle cx="116.5" cy="91.4" r="0.7" fill="#22e822"/><circle cx="119.5" cy="103.0" r="0.7" fill="#22e822"/><circle cx="119.7" cy="93.9" r="1.5" fill="#22e822"/><circle cx="136.1" cy="89.9" r="0.7" fill="#22e822"/><circle cx="124.3" cy="118.1" r="1.2" fill="#22e822"/><circle cx="122.2" cy="103.2" r="0.8" fill="#22e822"/><circle cx="131.9" cy="97.0" r="1.1" fill="#22e822"/><circle cx="129.1" cy="98.4" r="1.0" fill="#22e822"/><circle cx="118.3" cy="94.8" r="1.0" fill="#22e822"/><circle cx="124.3" cy="79.8" r="1.3" fill="#22e822"/><circle cx="123.2" cy="101.0" r="0.7" fill="#22e822"/><circle cx="109.1" cy="91.2" r="0.7" fill="#22e822"/><circle cx="111.9" cy="111.9" r="1.0" fill="#22e822"/><circle cx="135.2" cy="105.2" r="1.2" fill="#22e822"/><circle cx="117.0" cy="99.8" r="0.9" fill="#22e822"/><circle cx="134.8" cy="106.3" r="0.8" fill="#22e822"/><circle cx="101.3" cy="103.4" r="1.1" fill="#22e822"/><circle cx="121.0" cy="122.7" r="1.4" fill="#22e822"/><circle cx="121.5" cy="119.1" r="1.4" fill="#22e822"/><circle cx="131.1" cy="120.4" r="0.9" fill="#22e822"/><circle cx="111.8" cy="112.1" r="1.6" fill="#22e822"/><circle cx="123.3" cy="113.4" r="1.6" fill="#22e822"/><circle cx="129.0" cy="107.9" r="1.3" fill="#22e822"/><circle cx="105.2" cy="106.0" r="0.8" fill="#22e822"/><circle cx="125.6" cy="92.9" r="0.8" fill="#22e822"/><circle cx="115.6" cy="99.2" r="1.0" fill="#22e822"/><circle cx="136.3" cy="85.7" r="1.3" fill="#22e822"/><circle cx="121.0" cy="102.1" r="0.9" fill="#22e822"/><circle cx="125.1" cy="81.0" r="0.6" fill="#22e822"/><circle cx="108.3" cy="109.9" r="1.2" fill="#22e822"/><circle cx="114.8" cy="106.8" r="1.1" fill="#22e822"/><circle cx="144.2" cy="108.6" r="0.7" fill="#22e822"/><circle cx="132.1" cy="132.8" r="1.2" fill="#22e822"/><circle cx="127.7" cy="110.1" r="1.0" fill="#22e822"/><circle cx="123.6" cy="103.9" r="0.6" fill="#22e822"/><circle cx="129.9" cy="106.8" r="1.2" fill="#22e822"/><circle cx="127.3" cy="116.8" r="0.9" fill="#22e822"/><circle cx="111.3" cy="105.8" r="0.9" fill="#22e822"/><circle cx="106.2" cy="81.2" r="1.2" fill="#22e822"/><circle cx="133.7" cy="97.4" r="1.1" fill="#22e822"/><circle cx="115.0" cy="112.6" r="1.1" fill="#22e822"/><circle cx="134.2" cy="102.3" r="1.3" fill="#22e822"/><circle cx="123.2" cy="97.3" r="0.6" fill="#22e822"/><circle cx="117.0" cy="107.6" r="1.0" fill="#22e822"/><circle cx="125.2" cy="119.2" r="1.0" fill="#22e822"/><circle cx="113.3" cy="99.7" r="1.6" fill="#22e822"/><circle cx="111.0" cy="97.2" r="1.0" fill="#22e822"/><circle cx="114.5" cy="87.8" r="0.6" fill="#22e822"/><circle cx="117.4" cy="84.4" r="1.1" fill="#22e822"/><circle cx="115.4" cy="91.4" r="1.1" fill="#22e822"/><circle cx="109.5" cy="88.4" r="0.9" fill="#22e822"/><circle cx="113.7" cy="92.9" r="0.8" fill="#22e822"/><circle cx="107.6" cy="94.1" r="1.4" fill="#22e822"/><circle cx="116.8" cy="100.0" r="0.8" fill="#22e822"/><circle cx="117.5" cy="91.8" r="1.5" fill="#22e822"/><circle cx="116.4" cy="87.6" r="1.6" fill="#22e822"/><circle cx="115.8" cy="86.3" r="1.3" fill="#22e822"/><circle cx="111.5" cy="79.1" r="0.7" fill="#22e822"/><circle cx="111.4" cy="90.7" r="0.6" fill="#22e822"/><circle cx="110.0" cy="90.9" r="0.6" fill="#22e822"/><circle cx="113.9" cy="89.8" r="1.4" fill="#22e822"/><circle cx="107.8" cy="91.3" r="1.1" fill="#22e822"/><circle cx="110.6" cy="87.5" r="1.5" fill="#22e822"/><circle cx="118.2" cy="85.5" r="1.0" fill="#22e822"/><circle cx="111.1" cy="88.9" r="1.0" fill="#22e822"/><circle cx="74.2" cy="82.6" r="1.0" fill="#138a13"/><circle cx="41.7" cy="83.6" r="0.8" fill="#138a13"/><circle cx="76.4" cy="81.8" r="1.2" fill="#138a13"/><circle cx="63.7" cy="84.0" r="0.7" fill="#138a13"/><circle cx="68.0" cy="82.1" r="0.8" fill="#138a13"/><circle cx="74.7" cy="82.9" r="0.6" fill="#138a13"/><circle cx="71.4" cy="85.6" r="1.0" fill="#138a13"/><circle cx="49.7" cy="86.3" r="1.1" fill="#138a13"/><circle cx="93.3" cy="77.6" r="0.9" fill="#138a13"/><circle cx="58.4" cy="76.4" r="0.9" fill="#138a13"/><circle cx="79.3" cy="86.1" r="0.9" fill="#138a13"/><circle cx="72.5" cy="84.2" r="0.6" fill="#138a13"/><circle cx="63.1" cy="76.7" r="1.0" fill="#138a13"/><circle cx="67.6" cy="83.2" r="0.5" fill="#138a13"/><circle cx="61.9" cy="79.2" r="0.8" fill="#138a13"/><circle cx="73.1" cy="84.4" r="0.6" fill="#138a13"/><circle cx="81.4" cy="86.2" r="0.7" fill="#138a13"/><circle cx="58.2" cy="81.5" r="0.9" fill="#138a13"/><circle cx="69.5" cy="76.7" r="0.6" fill="#138a13"/><circle cx="93.0" cy="81.1" r="1.1" fill="#138a13"/><circle cx="41.9" cy="85.3" r="1.1" fill="#138a13"/><circle cx="71.5" cy="88.1" r="1.1" fill="#138a13"/><circle cx="70.7" cy="75.3" r="0.9" fill="#138a13"/><circle cx="67.9" cy="81.6" r="1.0" fill="#138a13"/><circle cx="81.9" cy="87.3" r="1.1" fill="#138a13"/><circle cx="67.0" cy="83.8" r="0.5" fill="#138a13"/><circle cx="63.3" cy="82.6" r="1.0" fill="#138a13"/><circle cx="59.3" cy="80.2" r="1.0" fill="#138a13"/><circle cx="78.0" cy="85.9" r="0.5" fill="#138a13"/><circle cx="49.8" cy="81.0" r="0.6" fill="#138a13"/><circle cx="55.7" cy="72.4" r="0.7" fill="#138a13"/><circle cx="72.6" cy="85.4" r="1.1" fill="#138a13"/><circle cx="88.4" cy="85.7" r="0.7" fill="#138a13"/><circle cx="71.1" cy="75.5" r="1.1" fill="#138a13"/><circle cx="75.6" cy="86.9" r="0.7" fill="#138a13"/></g><ellipse cx="43.0" cy="123.1" rx="2.6" ry="12.0" fill="#22e822" filter="url(#b1)"/><ellipse cx="65.2" cy="117.1" rx="3.0" ry="3.2" fill="#22e822" filter="url(#b1)"/><ellipse cx="51.1" cy="144.3" rx="3.0" ry="2.5" fill="#22e822" filter="url(#b1)"/><path d="M124.0 135.9H156.0" stroke="#d8d8d8" stroke-width="1.1"/></svg>
<div class="t" style="left:2148.2px;top:1011.3px;font-size:22px;font-weight:bold;">C.</div>
<div class="t" style="left:2221.7px;top:1018.1px;font-size:15.5px;font-weight:bold;color:#111;">a</div>
<div class="t" style="left:2218.3px;top:1214.5px;font-size:15.5px;font-weight:bold;color:#111;">b</div>
<div class="t" style="left:2313.5px;top:1016.0px;font-size:18.9px;font-weight:bold;color:#111;transform:translateX(-50%);">Hoechst</div>
<div class="t" style="left:2486.4px;top:1016.0px;font-size:18.9px;font-weight:bold;color:#111;letter-spacing:-0.1px;transform:translateX(-50%);">Endotracker Red</div>
<div class="t" style="left:2826.7px;top:1013.0px;font-size:18.9px;font-weight:bold;color:#111;transform:translateX(-50%);">Merge 1</div>
<div class="t" style="left:2987.3px;top:1013.0px;font-size:18.9px;font-weight:bold;color:#111;transform:translateX(-50%);">Merge 2</div>
<div class="t" style="left:2311.4px;top:1207.3px;font-size:18.9px;font-weight:bold;color:#111;transform:translateX(-50%);">Hoechst</div>
<div class="t" style="left:2486.4px;top:1209.0px;font-size:18.9px;font-weight:bold;color:#111;letter-spacing:-0.1px;transform:translateX(-50%);">Lysotracker Red</div>
<div class="t" style="left:2825.0px;top:1207.3px;font-size:18.9px;font-weight:bold;color:#111;transform:translateX(-50%);">Merge 1</div>
<div class="t" style="left:2987.3px;top:1209.0px;font-size:18.9px;font-weight:bold;color:#111;transform:translateX(-50%);">Merge 2</div>
<div class="j" style="left:2132.3px;top:1409.2px;width:1004.4px;font-size:14.4px;line-height:1;color:#1a1a1a;"><b>Figure 4.</b> (A) Images of colony-forming unit (CFU) for <i>Msmeg</i> recovered on agar plate after treatment with (GM@BQ)L-Glu ± Laser and free BQ at</div>
<div class="j" style="left:2132.3px;top:1427.2px;width:1004.4px;font-size:14.4px;line-height:1;color:#1a1a1a;">various encapsulated BQ concentrations (2-10 ng/mL). (B) Phagosome maturation by BQ and (GM@BQ)L-Glu ± Laser in <i>Msmeg</i> infected macrophage</div>
<div class="j" style="left:2132.3px;top:1445.1px;width:1004.4px;font-size:14.4px;line-height:1;color:#1a1a1a;">evaluated by Acridine orange staining. Acridine orange stains nucleus and cytoplasm as green and AVOs as bright red.&nbsp; Scale bar 50 μm. (C)</div>
<div class="j" style="left:2132.3px;top:1463.0px;width:1004.4px;font-size:14.4px;line-height:1;color:#1a1a1a;">Phagolysosome formation in <i>Msmeg</i> infected macrophage. Confocal microscopy imaging of (a) Colocalization of (GM@BQ)L-Glu (green), ER-Tracker</div>
<div class="j" style="left:2132.3px;top:1480.5px;width:1004.4px;font-size:14.4px;line-height:1;color:#1a1a1a;">(red), Hoechst-stained nucleus, and <i>Msmeg</i> (blue) in the same vesicles in macrophages after treatment with (GM@BQ)L-Glu + Laser. (b) Colocalization</div>
<div class="j" style="left:2132.3px;top:1498.5px;width:1004.4px;font-size:14.4px;line-height:1;color:#1a1a1a;">of (GM@BQ)L-Glu (green), Lysosome tracker D99 (red), Hoechst-stained nucleus, and <i>Msmeg</i> (blue) in the same vesicles in macrophages after</div>
<div class="t" style="left:2132.3px;top:1516.0px;width:1004.4px;font-size:14.4px;line-height:1;color:#1a1a1a;">treatment with (GM@BQ)L-Glu&nbsp; + Laser. Scale bar 50 μm.</div>
<div class="abs" style="left:2117.0px;top:1561.0px;width:1029.0px;height:47.5px;background:#2b93fe;"></div>
<div class="t" style="left:2631.6px;top:1569.5px;font-size:33.4px;font-weight:bold;color:#fff;transform:translateX(-50%);">Summary</div>
<div class="box" style="left:2115px;top:1618px;width:1037px;height:220px;"></div>
<div class="j" style="left:2153.6px;top:1639.3px;width:463.6px;font-size:25.6px;line-height:1;color:#111;">We have successfully coupled host</div>
<div class="j" style="left:2153.6px;top:1670.6px;width:463.6px;font-size:25.6px;line-height:1;color:#111;">targeting β – Glucan ligand on nano-</div>
<div class="j" style="left:2153.6px;top:1701.9px;width:463.6px;font-size:25.6px;line-height:1;color:#111;">assembly and photothermal therapy in</div>
<div class="j" style="left:2153.6px;top:1733.1px;width:463.6px;font-size:25.6px;line-height:1;color:#111;">one nanoplatform by wrapping drug</div>
<div class="t" style="left:2153.6px;top:1764.2px;width:463.6px;font-size:25.6px;line-height:1;color:#111;">loaded GM with liposome.</div>
<div class="j" style="left:2153.6px;top:1795.4px;width:463.6px;font-size:25.6px;line-height:1;color:#111;">HTNs enhanced cellular uptake, ROS</div>
<div class="abs" style="left:2134.4px;top:1649.3px;width:6.8px;height:6.8px;border-radius:50%;background:#111"></div><svg style="left:0;top:0" width="3200" height="1800"><path d="M2660 1806 Q2760 1774 2856 1769.6 Q2866 1769.2 2866.5 1777 Q2865 1790 2873 1800 L2876 1806Z" fill="#e6e8ed"/><path d="M2898 1806 L2901 1800 Q2909.5 1790 2908.3 1777 Q2908.8 1768.8 2919 1769.2 Q3010 1773 3112 1806Z" fill="#e6e8ed"/><path d="M2660 1806 Q2760 1774 2856 1769.6 Q2866 1769.2 2866.5 1777 Q2865 1790 2873 1800 L2876 1806" fill="none" stroke="#8da2cc" stroke-width="3.6"/><path d="M2660 1806 Q2760 1774 2856 1769.6 Q2866 1769.2 2866.5 1777 Q2865 1790 2873 1800 L2876 1806" fill="none" stroke="#dfe6f4" stroke-width="1.2"/><path d="M2898 1806 L2901 1800 Q2909.5 1790 2908.3 1777 Q2908.8 1768.8 2919 1769.2 Q3010 1773 3112 1806" fill="none" stroke="#8da2cc" stroke-width="3.6"/><path d="M2898 1806 L2901 1800 Q2909.5 1790 2908.3 1777 Q2908.8 1768.8 2919 1769.2 Q3010 1773 3112 1806" fill="none" stroke="#dfe6f4" stroke-width="1.2"/><circle cx="2886.2" cy="1782.8" r="10.6" fill="#e9eef8" stroke="#d8406a" stroke-width="1.8"/><circle cx="2886.2" cy="1782.8" r="6.3" fill="#6cae6c" stroke="#c04060" stroke-width="0.8"/><rect x="2884.6" y="1778" width="3.2" height="9.6" rx="1.2" fill="#8a5a40"/><circle cx="2899.8" cy="1782.8" r="1" fill="#c04080"/><circle cx="2898.0" cy="1789.6" r="1" fill="#c04080"/><circle cx="2893.0" cy="1794.6" r="1" fill="#c04080"/><circle cx="2886.2" cy="1796.4" r="1" fill="#c04080"/><circle cx="2879.4" cy="1794.6" r="1" fill="#c04080"/><circle cx="2874.4" cy="1789.6" r="1" fill="#c04080"/><circle cx="2872.6" cy="1782.8" r="1" fill="#c04080"/><circle cx="2874.4" cy="1776.0" r="1" fill="#c04080"/><circle cx="2879.4" cy="1771.0" r="1" fill="#c04080"/><circle cx="2886.2" cy="1769.2" r="1" fill="#c04080"/><circle cx="2893.0" cy="1771.0" r="1" fill="#c04080"/><circle cx="2898.0" cy="1776.0" r="1" fill="#c04080"/></svg>
<div class="t" style="left:2816.0px;top:1731.9px;font-size:9.3px;font-weight:bold;color:#222;transform:translateX(-50%);">1. Receptor-directed</div>
<div class="t" style="left:2816.0px;top:1742.8px;font-size:9.3px;font-weight:bold;color:#222;transform:translateX(-50%);">clathrine-mediated</div>
<div class="t" style="left:2816.0px;top:1753.5px;font-size:9.3px;font-weight:bold;color:#222;transform:translateX(-50%);">endocytosis of HTNs</div>
</div>
</body></html>
